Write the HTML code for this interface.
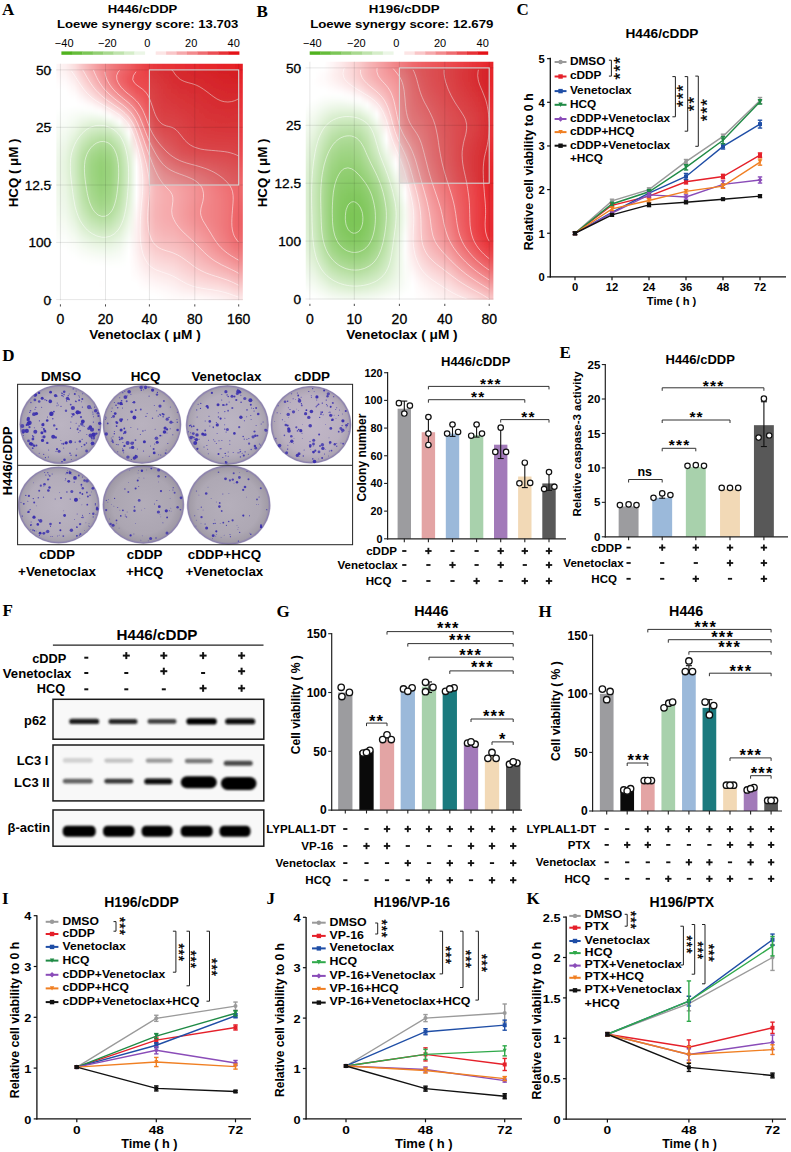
<!DOCTYPE html>
<html><head><meta charset="utf-8"><style>
html,body{margin:0;padding:0;background:#fff;}
svg{display:block;font-family:"Liberation Sans",sans-serif;font-weight:700;}
</style></head><body>
<svg width="791" height="1152" viewBox="0 0 791 1152">
<defs><clipPath id="cpA"><rect x="56.2" y="63.7" width="186.7" height="236.6"/></clipPath><filter id="fbA" x="-5%" y="-5%" width="110%" height="110%"><feGaussianBlur stdDeviation="0 2.75"/></filter><linearGradient id="gA_0"><stop offset="0.00" stop-color="#fef7f7"/><stop offset="0.05" stop-color="#fdeff0"/><stop offset="0.10" stop-color="#fbdddd"/><stop offset="0.14" stop-color="#f8c5c7"/><stop offset="0.19" stop-color="#f6acae"/><stop offset="0.24" stop-color="#f39396"/><stop offset="0.29" stop-color="#f07f82"/><stop offset="0.34" stop-color="#ef6e72"/><stop offset="0.39" stop-color="#ed5f63"/><stop offset="0.43" stop-color="#eb4e53"/><stop offset="0.48" stop-color="#e94045"/><stop offset="0.53" stop-color="#e8373c"/><stop offset="0.58" stop-color="#e83237"/><stop offset="0.63" stop-color="#e73035"/><stop offset="0.67" stop-color="#e72d33"/><stop offset="0.72" stop-color="#e72b30"/><stop offset="0.77" stop-color="#e7282e"/><stop offset="0.82" stop-color="#e6262b"/><stop offset="0.87" stop-color="#e62429"/><stop offset="0.92" stop-color="#e62127"/><stop offset="0.96" stop-color="#e51f24"/><stop offset="1.00" stop-color="#e51e24"/></linearGradient><linearGradient id="gA_1"><stop offset="0.00" stop-color="#fef7f7"/><stop offset="0.05" stop-color="#fdeff0"/><stop offset="0.10" stop-color="#fbdddd"/><stop offset="0.14" stop-color="#f8c5c7"/><stop offset="0.19" stop-color="#f6acae"/><stop offset="0.24" stop-color="#f39396"/><stop offset="0.29" stop-color="#f07f82"/><stop offset="0.34" stop-color="#ef6e72"/><stop offset="0.39" stop-color="#ed5f63"/><stop offset="0.43" stop-color="#eb4e53"/><stop offset="0.48" stop-color="#e94045"/><stop offset="0.53" stop-color="#e8373c"/><stop offset="0.58" stop-color="#e83237"/><stop offset="0.63" stop-color="#e73035"/><stop offset="0.67" stop-color="#e72d33"/><stop offset="0.72" stop-color="#e72b30"/><stop offset="0.77" stop-color="#e7282e"/><stop offset="0.82" stop-color="#e6262b"/><stop offset="0.87" stop-color="#e62429"/><stop offset="0.92" stop-color="#e62127"/><stop offset="0.96" stop-color="#e51f24"/><stop offset="1.00" stop-color="#e51e24"/></linearGradient><linearGradient id="gA_2"><stop offset="0.00" stop-color="#fef7f7"/><stop offset="0.05" stop-color="#fdeff0"/><stop offset="0.10" stop-color="#fbdddd"/><stop offset="0.14" stop-color="#f8c5c7"/><stop offset="0.19" stop-color="#f6acae"/><stop offset="0.24" stop-color="#f39396"/><stop offset="0.29" stop-color="#f07f82"/><stop offset="0.34" stop-color="#ef6e72"/><stop offset="0.39" stop-color="#ed5f63"/><stop offset="0.43" stop-color="#eb4e53"/><stop offset="0.48" stop-color="#e94045"/><stop offset="0.53" stop-color="#e8373c"/><stop offset="0.58" stop-color="#e83237"/><stop offset="0.63" stop-color="#e73035"/><stop offset="0.67" stop-color="#e72d33"/><stop offset="0.72" stop-color="#e72b30"/><stop offset="0.77" stop-color="#e7282e"/><stop offset="0.82" stop-color="#e6262b"/><stop offset="0.87" stop-color="#e62429"/><stop offset="0.92" stop-color="#e62127"/><stop offset="0.96" stop-color="#e51f24"/><stop offset="1.00" stop-color="#e51e24"/></linearGradient><linearGradient id="gA_3"><stop offset="0.00" stop-color="#fef7f7"/><stop offset="0.05" stop-color="#fdf1f1"/><stop offset="0.10" stop-color="#fbdfe0"/><stop offset="0.14" stop-color="#f9c7c9"/><stop offset="0.19" stop-color="#f6adaf"/><stop offset="0.24" stop-color="#f39497"/><stop offset="0.29" stop-color="#f07e81"/><stop offset="0.34" stop-color="#ee6b6f"/><stop offset="0.39" stop-color="#ec5c60"/><stop offset="0.43" stop-color="#eb4d51"/><stop offset="0.48" stop-color="#e94146"/><stop offset="0.53" stop-color="#e8383d"/><stop offset="0.58" stop-color="#e83338"/><stop offset="0.63" stop-color="#e73035"/><stop offset="0.67" stop-color="#e72e33"/><stop offset="0.72" stop-color="#e72b31"/><stop offset="0.77" stop-color="#e7292e"/><stop offset="0.82" stop-color="#e6272c"/><stop offset="0.87" stop-color="#e6242a"/><stop offset="0.92" stop-color="#e62228"/><stop offset="0.96" stop-color="#e62025"/><stop offset="1.00" stop-color="#e51f25"/></linearGradient><linearGradient id="gA_4"><stop offset="0.00" stop-color="#fef9fa"/><stop offset="0.05" stop-color="#fef5f6"/><stop offset="0.10" stop-color="#fce6e7"/><stop offset="0.14" stop-color="#fad0d1"/><stop offset="0.19" stop-color="#f7b5b7"/><stop offset="0.24" stop-color="#f3989b"/><stop offset="0.29" stop-color="#f07d80"/><stop offset="0.34" stop-color="#ee666a"/><stop offset="0.39" stop-color="#ec5559"/><stop offset="0.43" stop-color="#ea4a4f"/><stop offset="0.48" stop-color="#ea4348"/><stop offset="0.53" stop-color="#e93d42"/><stop offset="0.58" stop-color="#e8363c"/><stop offset="0.63" stop-color="#e83137"/><stop offset="0.67" stop-color="#e72f34"/><stop offset="0.72" stop-color="#e72d32"/><stop offset="0.77" stop-color="#e72b31"/><stop offset="0.82" stop-color="#e7292f"/><stop offset="0.87" stop-color="#e6272c"/><stop offset="0.92" stop-color="#e6252a"/><stop offset="0.96" stop-color="#e62329"/><stop offset="1.00" stop-color="#e62329"/></linearGradient><linearGradient id="gA_5"><stop offset="0.00" stop-color="#fffcfc"/><stop offset="0.05" stop-color="#fef9fa"/><stop offset="0.10" stop-color="#fdeded"/><stop offset="0.14" stop-color="#fbd8d9"/><stop offset="0.19" stop-color="#f8bebf"/><stop offset="0.24" stop-color="#f4a0a3"/><stop offset="0.29" stop-color="#f18285"/><stop offset="0.34" stop-color="#ee676b"/><stop offset="0.39" stop-color="#ec5459"/><stop offset="0.43" stop-color="#ea4b4f"/><stop offset="0.48" stop-color="#ea464b"/><stop offset="0.53" stop-color="#e94045"/><stop offset="0.58" stop-color="#e8393e"/><stop offset="0.63" stop-color="#e83338"/><stop offset="0.67" stop-color="#e73036"/><stop offset="0.72" stop-color="#e72f34"/><stop offset="0.77" stop-color="#e72e33"/><stop offset="0.82" stop-color="#e72b31"/><stop offset="0.87" stop-color="#e7292e"/><stop offset="0.92" stop-color="#e6272d"/><stop offset="0.96" stop-color="#e6262c"/><stop offset="1.00" stop-color="#e6272c"/></linearGradient><linearGradient id="gA_6"><stop offset="0.00" stop-color="#fffefe"/><stop offset="0.05" stop-color="#fffdfd"/><stop offset="0.10" stop-color="#fef3f3"/><stop offset="0.14" stop-color="#fce1e1"/><stop offset="0.19" stop-color="#f9c8c9"/><stop offset="0.24" stop-color="#f5abad"/><stop offset="0.29" stop-color="#f28c8f"/><stop offset="0.34" stop-color="#ef6f73"/><stop offset="0.39" stop-color="#ec5a5e"/><stop offset="0.43" stop-color="#eb4f53"/><stop offset="0.48" stop-color="#ea494e"/><stop offset="0.53" stop-color="#ea4348"/><stop offset="0.58" stop-color="#e93b40"/><stop offset="0.63" stop-color="#e8353a"/><stop offset="0.67" stop-color="#e83238"/><stop offset="0.72" stop-color="#e83136"/><stop offset="0.77" stop-color="#e73035"/><stop offset="0.82" stop-color="#e72d33"/><stop offset="0.87" stop-color="#e72b30"/><stop offset="0.92" stop-color="#e7292f"/><stop offset="0.96" stop-color="#e7292f"/><stop offset="1.00" stop-color="#e72a2f"/></linearGradient><linearGradient id="gA_7"><stop offset="0.00" stop-color="#ffffff"/><stop offset="0.05" stop-color="#ffffff"/><stop offset="0.10" stop-color="#fef8f8"/><stop offset="0.14" stop-color="#fde9ea"/><stop offset="0.19" stop-color="#fad4d5"/><stop offset="0.24" stop-color="#f7b9bb"/><stop offset="0.29" stop-color="#f49b9d"/><stop offset="0.34" stop-color="#f07d80"/><stop offset="0.39" stop-color="#ed6569"/><stop offset="0.43" stop-color="#ec565a"/><stop offset="0.48" stop-color="#eb4d51"/><stop offset="0.53" stop-color="#ea454a"/><stop offset="0.58" stop-color="#e93d42"/><stop offset="0.63" stop-color="#e8383d"/><stop offset="0.67" stop-color="#e8353a"/><stop offset="0.72" stop-color="#e83339"/><stop offset="0.77" stop-color="#e83237"/><stop offset="0.82" stop-color="#e72f35"/><stop offset="0.87" stop-color="#e72d32"/><stop offset="0.92" stop-color="#e72c31"/><stop offset="0.96" stop-color="#e72c31"/><stop offset="1.00" stop-color="#e72c32"/></linearGradient><linearGradient id="gA_8"><stop offset="0.00" stop-color="#ffffff"/><stop offset="0.05" stop-color="#ffffff"/><stop offset="0.10" stop-color="#fffdfd"/><stop offset="0.14" stop-color="#fdf2f2"/><stop offset="0.19" stop-color="#fbe0e1"/><stop offset="0.24" stop-color="#f9c9ca"/><stop offset="0.29" stop-color="#f6acaf"/><stop offset="0.34" stop-color="#f28e91"/><stop offset="0.39" stop-color="#ef7377"/><stop offset="0.43" stop-color="#ed5f63"/><stop offset="0.48" stop-color="#eb5155"/><stop offset="0.53" stop-color="#ea474b"/><stop offset="0.58" stop-color="#e93f44"/><stop offset="0.63" stop-color="#e93a3f"/><stop offset="0.67" stop-color="#e8383d"/><stop offset="0.72" stop-color="#e8363b"/><stop offset="0.77" stop-color="#e83439"/><stop offset="0.82" stop-color="#e83136"/><stop offset="0.87" stop-color="#e72f34"/><stop offset="0.92" stop-color="#e72e33"/><stop offset="0.96" stop-color="#e72e34"/><stop offset="1.00" stop-color="#e72f34"/></linearGradient><linearGradient id="gA_9"><stop offset="0.00" stop-color="#ffffff"/><stop offset="0.05" stop-color="#ffffff"/><stop offset="0.10" stop-color="#ffffff"/><stop offset="0.14" stop-color="#fefafb"/><stop offset="0.19" stop-color="#fdeeee"/><stop offset="0.24" stop-color="#fbdadb"/><stop offset="0.29" stop-color="#f8c1c3"/><stop offset="0.34" stop-color="#f5a3a5"/><stop offset="0.39" stop-color="#f18588"/><stop offset="0.43" stop-color="#ee6b6e"/><stop offset="0.48" stop-color="#ec565a"/><stop offset="0.53" stop-color="#ea484d"/><stop offset="0.58" stop-color="#e94146"/><stop offset="0.63" stop-color="#e93d42"/><stop offset="0.67" stop-color="#e93a3f"/><stop offset="0.72" stop-color="#e8383d"/><stop offset="0.77" stop-color="#e8353a"/><stop offset="0.82" stop-color="#e83338"/><stop offset="0.87" stop-color="#e73136"/><stop offset="0.92" stop-color="#e73035"/><stop offset="0.96" stop-color="#e73136"/><stop offset="1.00" stop-color="#e83136"/></linearGradient><linearGradient id="gA_10"><stop offset="0.00" stop-color="#ffffff"/><stop offset="0.05" stop-color="#ffffff"/><stop offset="0.10" stop-color="#ffffff"/><stop offset="0.14" stop-color="#ffffff"/><stop offset="0.19" stop-color="#fffcfc"/><stop offset="0.24" stop-color="#fdedee"/><stop offset="0.29" stop-color="#fad7d8"/><stop offset="0.34" stop-color="#f7babc"/><stop offset="0.39" stop-color="#f3999c"/><stop offset="0.43" stop-color="#f0777b"/><stop offset="0.48" stop-color="#ec5b5f"/><stop offset="0.53" stop-color="#ea4a4f"/><stop offset="0.58" stop-color="#ea4348"/><stop offset="0.63" stop-color="#e94045"/><stop offset="0.67" stop-color="#e93d42"/><stop offset="0.72" stop-color="#e93a3f"/><stop offset="0.77" stop-color="#e8373c"/><stop offset="0.82" stop-color="#e8343a"/><stop offset="0.87" stop-color="#e83338"/><stop offset="0.92" stop-color="#e83237"/><stop offset="0.96" stop-color="#e83338"/><stop offset="1.00" stop-color="#e83339"/></linearGradient><linearGradient id="gA_11"><stop offset="0.00" stop-color="#fefffe"/><stop offset="0.05" stop-color="#fdfefd"/><stop offset="0.10" stop-color="#fbfdfa"/><stop offset="0.14" stop-color="#fafdf9"/><stop offset="0.19" stop-color="#fcfefb"/><stop offset="0.24" stop-color="#ffffff"/><stop offset="0.29" stop-color="#fdefef"/><stop offset="0.34" stop-color="#fad3d4"/><stop offset="0.39" stop-color="#f6aeb0"/><stop offset="0.43" stop-color="#f18588"/><stop offset="0.48" stop-color="#ed6165"/><stop offset="0.53" stop-color="#eb4c51"/><stop offset="0.58" stop-color="#ea454a"/><stop offset="0.63" stop-color="#ea4348"/><stop offset="0.67" stop-color="#e94045"/><stop offset="0.72" stop-color="#e93d42"/><stop offset="0.77" stop-color="#e8393e"/><stop offset="0.82" stop-color="#e8363b"/><stop offset="0.87" stop-color="#e8343a"/><stop offset="0.92" stop-color="#e83439"/><stop offset="0.96" stop-color="#e8353a"/><stop offset="1.00" stop-color="#e8353b"/></linearGradient><linearGradient id="gA_12"><stop offset="0.00" stop-color="#fcfefc"/><stop offset="0.05" stop-color="#fbfdfa"/><stop offset="0.10" stop-color="#f7fcf5"/><stop offset="0.14" stop-color="#f3faf0"/><stop offset="0.19" stop-color="#f1f9ed"/><stop offset="0.24" stop-color="#f4faf1"/><stop offset="0.29" stop-color="#ffffff"/><stop offset="0.34" stop-color="#fdebec"/><stop offset="0.39" stop-color="#f8c4c5"/><stop offset="0.43" stop-color="#f39497"/><stop offset="0.48" stop-color="#ee696c"/><stop offset="0.53" stop-color="#eb4f54"/><stop offset="0.58" stop-color="#ea484c"/><stop offset="0.63" stop-color="#ea464b"/><stop offset="0.67" stop-color="#ea4348"/><stop offset="0.72" stop-color="#e93f44"/><stop offset="0.77" stop-color="#e93b40"/><stop offset="0.82" stop-color="#e8383d"/><stop offset="0.87" stop-color="#e8373c"/><stop offset="0.92" stop-color="#e8363b"/><stop offset="0.96" stop-color="#e8373c"/><stop offset="1.00" stop-color="#e8373d"/></linearGradient><linearGradient id="gA_13"><stop offset="0.00" stop-color="#fbfdfa"/><stop offset="0.05" stop-color="#f9fdf8"/><stop offset="0.10" stop-color="#f3faf0"/><stop offset="0.14" stop-color="#ecf6e6"/><stop offset="0.19" stop-color="#e6f4de"/><stop offset="0.24" stop-color="#e5f4de"/><stop offset="0.29" stop-color="#eef7e9"/><stop offset="0.34" stop-color="#ffffff"/><stop offset="0.39" stop-color="#fbd9da"/><stop offset="0.43" stop-color="#f5a3a5"/><stop offset="0.48" stop-color="#ef7174"/><stop offset="0.53" stop-color="#eb5458"/><stop offset="0.58" stop-color="#ea4b50"/><stop offset="0.63" stop-color="#ea4a4e"/><stop offset="0.67" stop-color="#ea464b"/><stop offset="0.72" stop-color="#e94146"/><stop offset="0.77" stop-color="#e93d42"/><stop offset="0.82" stop-color="#e93a3f"/><stop offset="0.87" stop-color="#e8393e"/><stop offset="0.92" stop-color="#e8393e"/><stop offset="0.96" stop-color="#e8393e"/><stop offset="1.00" stop-color="#e8393e"/></linearGradient><linearGradient id="gA_14"><stop offset="0.00" stop-color="#f9fcf8"/><stop offset="0.05" stop-color="#f7fcf5"/><stop offset="0.10" stop-color="#eff8ea"/><stop offset="0.14" stop-color="#e4f3dc"/><stop offset="0.19" stop-color="#daefd0"/><stop offset="0.24" stop-color="#d7edcc"/><stop offset="0.29" stop-color="#def0d4"/><stop offset="0.34" stop-color="#f1f9ed"/><stop offset="0.39" stop-color="#fdeded"/><stop offset="0.43" stop-color="#f6b2b4"/><stop offset="0.48" stop-color="#f07a7d"/><stop offset="0.53" stop-color="#ec595d"/><stop offset="0.58" stop-color="#eb4f53"/><stop offset="0.63" stop-color="#eb4d52"/><stop offset="0.67" stop-color="#ea494d"/><stop offset="0.72" stop-color="#ea4348"/><stop offset="0.77" stop-color="#e93f44"/><stop offset="0.82" stop-color="#e93c41"/><stop offset="0.87" stop-color="#e93b40"/><stop offset="0.92" stop-color="#e93b40"/><stop offset="0.96" stop-color="#e93c40"/><stop offset="1.00" stop-color="#e93c41"/></linearGradient><linearGradient id="gA_15"><stop offset="0.00" stop-color="#f7fcf5"/><stop offset="0.05" stop-color="#f4faf1"/><stop offset="0.10" stop-color="#e9f6e3"/><stop offset="0.14" stop-color="#dcefd1"/><stop offset="0.19" stop-color="#cfeac2"/><stop offset="0.24" stop-color="#cae8bb"/><stop offset="0.29" stop-color="#cfeac2"/><stop offset="0.34" stop-color="#e3f3db"/><stop offset="0.39" stop-color="#fffefe"/><stop offset="0.43" stop-color="#f8c0c1"/><stop offset="0.48" stop-color="#f18487"/><stop offset="0.53" stop-color="#ed6064"/><stop offset="0.58" stop-color="#eb5458"/><stop offset="0.63" stop-color="#eb5055"/><stop offset="0.67" stop-color="#eb4b50"/><stop offset="0.72" stop-color="#ea454a"/><stop offset="0.77" stop-color="#e94146"/><stop offset="0.82" stop-color="#e93f44"/><stop offset="0.87" stop-color="#e93e43"/><stop offset="0.92" stop-color="#e93e43"/><stop offset="0.96" stop-color="#e93e43"/><stop offset="1.00" stop-color="#e93e43"/></linearGradient><linearGradient id="gA_16"><stop offset="0.00" stop-color="#f6fbf3"/><stop offset="0.05" stop-color="#f1f9ee"/><stop offset="0.10" stop-color="#e4f3dc"/><stop offset="0.14" stop-color="#d3ecc7"/><stop offset="0.19" stop-color="#c5e5b4"/><stop offset="0.24" stop-color="#bde2ab"/><stop offset="0.29" stop-color="#c3e4b1"/><stop offset="0.34" stop-color="#d6edcb"/><stop offset="0.39" stop-color="#fafdf8"/><stop offset="0.43" stop-color="#f9cdce"/><stop offset="0.48" stop-color="#f29092"/><stop offset="0.53" stop-color="#ee696d"/><stop offset="0.58" stop-color="#ec5a5e"/><stop offset="0.63" stop-color="#eb5458"/><stop offset="0.67" stop-color="#eb4e52"/><stop offset="0.72" stop-color="#ea484c"/><stop offset="0.77" stop-color="#ea4448"/><stop offset="0.82" stop-color="#e94247"/><stop offset="0.87" stop-color="#e94246"/><stop offset="0.92" stop-color="#e94146"/><stop offset="0.96" stop-color="#e94146"/><stop offset="1.00" stop-color="#e94045"/></linearGradient><linearGradient id="gA_17"><stop offset="0.00" stop-color="#f4faf1"/><stop offset="0.05" stop-color="#eef8ea"/><stop offset="0.10" stop-color="#def1d5"/><stop offset="0.14" stop-color="#cbe8bc"/><stop offset="0.19" stop-color="#bbe1a7"/><stop offset="0.24" stop-color="#b2dd9c"/><stop offset="0.29" stop-color="#b7e0a3"/><stop offset="0.34" stop-color="#cce9be"/><stop offset="0.39" stop-color="#f0f9ec"/><stop offset="0.43" stop-color="#fbd9da"/><stop offset="0.48" stop-color="#f49b9e"/><stop offset="0.53" stop-color="#ef7276"/><stop offset="0.58" stop-color="#ed6064"/><stop offset="0.63" stop-color="#ec585c"/><stop offset="0.67" stop-color="#eb5155"/><stop offset="0.72" stop-color="#ea4b4f"/><stop offset="0.77" stop-color="#ea474c"/><stop offset="0.82" stop-color="#ea464a"/><stop offset="0.87" stop-color="#ea454a"/><stop offset="0.92" stop-color="#ea454a"/><stop offset="0.96" stop-color="#ea4449"/><stop offset="1.00" stop-color="#ea4348"/></linearGradient><linearGradient id="gA_18"><stop offset="0.00" stop-color="#f2f9ef"/><stop offset="0.05" stop-color="#ecf6e6"/><stop offset="0.10" stop-color="#d9eece"/><stop offset="0.14" stop-color="#c4e5b3"/><stop offset="0.19" stop-color="#b2dd9c"/><stop offset="0.24" stop-color="#a9d990"/><stop offset="0.29" stop-color="#aedb97"/><stop offset="0.34" stop-color="#c4e5b3"/><stop offset="0.39" stop-color="#e9f5e2"/><stop offset="0.43" stop-color="#fce4e5"/><stop offset="0.48" stop-color="#f5a7a9"/><stop offset="0.53" stop-color="#f07d80"/><stop offset="0.58" stop-color="#ee676b"/><stop offset="0.63" stop-color="#ed5d61"/><stop offset="0.67" stop-color="#ec5559"/><stop offset="0.72" stop-color="#eb4f53"/><stop offset="0.77" stop-color="#eb4b50"/><stop offset="0.82" stop-color="#ea4a4f"/><stop offset="0.87" stop-color="#ea4a4e"/><stop offset="0.92" stop-color="#ea494e"/><stop offset="0.96" stop-color="#ea474c"/><stop offset="1.00" stop-color="#ea464b"/></linearGradient><linearGradient id="gA_19"><stop offset="0.00" stop-color="#f1f9ed"/><stop offset="0.05" stop-color="#e9f5e3"/><stop offset="0.10" stop-color="#d5ecc9"/><stop offset="0.14" stop-color="#bee2ab"/><stop offset="0.19" stop-color="#aada92"/><stop offset="0.24" stop-color="#a1d686"/><stop offset="0.29" stop-color="#a7d88e"/><stop offset="0.34" stop-color="#bee2ab"/><stop offset="0.39" stop-color="#e3f2da"/><stop offset="0.43" stop-color="#fdeeee"/><stop offset="0.48" stop-color="#f6b1b3"/><stop offset="0.53" stop-color="#f1878a"/><stop offset="0.58" stop-color="#ef7073"/><stop offset="0.63" stop-color="#ed6367"/><stop offset="0.67" stop-color="#ec5a5e"/><stop offset="0.72" stop-color="#ec5459"/><stop offset="0.77" stop-color="#eb5155"/><stop offset="0.82" stop-color="#eb4f54"/><stop offset="0.87" stop-color="#eb4e53"/><stop offset="0.92" stop-color="#eb4d52"/><stop offset="0.96" stop-color="#ea4b50"/><stop offset="1.00" stop-color="#ea4a4f"/></linearGradient><linearGradient id="gA_20"><stop offset="0.00" stop-color="#f0f8ec"/><stop offset="0.05" stop-color="#e7f5e1"/><stop offset="0.10" stop-color="#d1ebc4"/><stop offset="0.14" stop-color="#b9e0a5"/><stop offset="0.19" stop-color="#a5d78b"/><stop offset="0.24" stop-color="#9bd37e"/><stop offset="0.29" stop-color="#a1d687"/><stop offset="0.34" stop-color="#b9e0a5"/><stop offset="0.39" stop-color="#def0d5"/><stop offset="0.43" stop-color="#fef6f6"/><stop offset="0.48" stop-color="#f7bbbd"/><stop offset="0.53" stop-color="#f29193"/><stop offset="0.58" stop-color="#f0787c"/><stop offset="0.63" stop-color="#ee6b6f"/><stop offset="0.67" stop-color="#ed6266"/><stop offset="0.72" stop-color="#ec5c60"/><stop offset="0.77" stop-color="#ec585c"/><stop offset="0.82" stop-color="#ec565a"/><stop offset="0.87" stop-color="#ec5458"/><stop offset="0.92" stop-color="#eb5257"/><stop offset="0.96" stop-color="#eb4f54"/><stop offset="1.00" stop-color="#eb4e53"/></linearGradient><linearGradient id="gA_21"><stop offset="0.00" stop-color="#eff8eb"/><stop offset="0.05" stop-color="#e6f4df"/><stop offset="0.10" stop-color="#d0eac2"/><stop offset="0.14" stop-color="#b6dfa2"/><stop offset="0.19" stop-color="#a1d686"/><stop offset="0.24" stop-color="#97d179"/><stop offset="0.29" stop-color="#9ed482"/><stop offset="0.34" stop-color="#b6dfa1"/><stop offset="0.39" stop-color="#dbefd0"/><stop offset="0.43" stop-color="#fffcfc"/><stop offset="0.48" stop-color="#f8c3c4"/><stop offset="0.53" stop-color="#f39a9d"/><stop offset="0.58" stop-color="#f18285"/><stop offset="0.63" stop-color="#ef7478"/><stop offset="0.67" stop-color="#ee6c6f"/><stop offset="0.72" stop-color="#ee6669"/><stop offset="0.77" stop-color="#ed6165"/><stop offset="0.82" stop-color="#ed5d62"/><stop offset="0.87" stop-color="#ec5a5f"/><stop offset="0.92" stop-color="#ec575c"/><stop offset="0.96" stop-color="#ec5458"/><stop offset="1.00" stop-color="#eb5358"/></linearGradient><linearGradient id="gA_22"><stop offset="0.00" stop-color="#eff8ea"/><stop offset="0.05" stop-color="#e6f4df"/><stop offset="0.10" stop-color="#cfeac1"/><stop offset="0.14" stop-color="#b5dea0"/><stop offset="0.19" stop-color="#9fd584"/><stop offset="0.24" stop-color="#95d076"/><stop offset="0.29" stop-color="#9cd37f"/><stop offset="0.34" stop-color="#b4de9f"/><stop offset="0.39" stop-color="#d9eece"/><stop offset="0.43" stop-color="#ffffff"/><stop offset="0.48" stop-color="#f9c9cb"/><stop offset="0.53" stop-color="#f4a2a5"/><stop offset="0.58" stop-color="#f28c8f"/><stop offset="0.63" stop-color="#f07f82"/><stop offset="0.67" stop-color="#ef777a"/><stop offset="0.72" stop-color="#ef7074"/><stop offset="0.77" stop-color="#ee6b6f"/><stop offset="0.82" stop-color="#ee666a"/><stop offset="0.87" stop-color="#ed6165"/><stop offset="0.92" stop-color="#ed5d61"/><stop offset="0.96" stop-color="#ec595d"/><stop offset="1.00" stop-color="#ec585c"/></linearGradient><linearGradient id="gA_23"><stop offset="0.00" stop-color="#eff8ea"/><stop offset="0.05" stop-color="#e6f4df"/><stop offset="0.10" stop-color="#cfeac2"/><stop offset="0.14" stop-color="#b5dfa0"/><stop offset="0.19" stop-color="#9fd584"/><stop offset="0.24" stop-color="#94d075"/><stop offset="0.29" stop-color="#9bd37e"/><stop offset="0.34" stop-color="#b3de9e"/><stop offset="0.39" stop-color="#d8eecd"/><stop offset="0.43" stop-color="#ffffff"/><stop offset="0.48" stop-color="#f9cecf"/><stop offset="0.53" stop-color="#f5aaac"/><stop offset="0.58" stop-color="#f39598"/><stop offset="0.63" stop-color="#f28a8d"/><stop offset="0.67" stop-color="#f18285"/><stop offset="0.72" stop-color="#f07c7f"/><stop offset="0.77" stop-color="#ef7579"/><stop offset="0.82" stop-color="#ef6e72"/><stop offset="0.87" stop-color="#ee686c"/><stop offset="0.92" stop-color="#ed6266"/><stop offset="0.96" stop-color="#ed5e62"/><stop offset="1.00" stop-color="#ed5d61"/></linearGradient><linearGradient id="gA_24"><stop offset="0.00" stop-color="#eff8eb"/><stop offset="0.05" stop-color="#e7f4e0"/><stop offset="0.10" stop-color="#d0eac3"/><stop offset="0.14" stop-color="#b6dfa1"/><stop offset="0.19" stop-color="#a0d584"/><stop offset="0.24" stop-color="#94d076"/><stop offset="0.29" stop-color="#9bd37f"/><stop offset="0.34" stop-color="#b4de9e"/><stop offset="0.39" stop-color="#d8eecd"/><stop offset="0.43" stop-color="#ffffff"/><stop offset="0.48" stop-color="#fad2d3"/><stop offset="0.53" stop-color="#f6afb1"/><stop offset="0.58" stop-color="#f49ea0"/><stop offset="0.63" stop-color="#f39497"/><stop offset="0.67" stop-color="#f28d90"/><stop offset="0.72" stop-color="#f18689"/><stop offset="0.77" stop-color="#f07e82"/><stop offset="0.82" stop-color="#ef767a"/><stop offset="0.87" stop-color="#ee6e72"/><stop offset="0.92" stop-color="#ee676b"/><stop offset="0.96" stop-color="#ed6266"/><stop offset="1.00" stop-color="#ed6165"/></linearGradient><linearGradient id="gA_25"><stop offset="0.00" stop-color="#f0f8eb"/><stop offset="0.05" stop-color="#e8f5e1"/><stop offset="0.10" stop-color="#d2ebc5"/><stop offset="0.14" stop-color="#b8e0a3"/><stop offset="0.19" stop-color="#a1d686"/><stop offset="0.24" stop-color="#96d178"/><stop offset="0.29" stop-color="#9cd480"/><stop offset="0.34" stop-color="#b5dea0"/><stop offset="0.39" stop-color="#d9eece"/><stop offset="0.43" stop-color="#ffffff"/><stop offset="0.48" stop-color="#fad4d5"/><stop offset="0.53" stop-color="#f6b4b6"/><stop offset="0.58" stop-color="#f5a4a7"/><stop offset="0.63" stop-color="#f49d9f"/><stop offset="0.67" stop-color="#f39699"/><stop offset="0.72" stop-color="#f28f92"/><stop offset="0.77" stop-color="#f18689"/><stop offset="0.82" stop-color="#f07d80"/><stop offset="0.87" stop-color="#ef7377"/><stop offset="0.92" stop-color="#ee6b6f"/><stop offset="0.96" stop-color="#ee666a"/><stop offset="1.00" stop-color="#ed6569"/></linearGradient><linearGradient id="gA_26"><stop offset="0.00" stop-color="#f0f8ec"/><stop offset="0.05" stop-color="#e9f5e3"/><stop offset="0.10" stop-color="#d4ecc7"/><stop offset="0.14" stop-color="#bae1a6"/><stop offset="0.19" stop-color="#a3d789"/><stop offset="0.24" stop-color="#97d17a"/><stop offset="0.29" stop-color="#9ed482"/><stop offset="0.34" stop-color="#b6dfa1"/><stop offset="0.39" stop-color="#daefcf"/><stop offset="0.43" stop-color="#ffffff"/><stop offset="0.48" stop-color="#fad4d5"/><stop offset="0.53" stop-color="#f7b6b8"/><stop offset="0.58" stop-color="#f5a9ab"/><stop offset="0.63" stop-color="#f5a3a5"/><stop offset="0.67" stop-color="#f49c9f"/><stop offset="0.72" stop-color="#f39497"/><stop offset="0.77" stop-color="#f28b8e"/><stop offset="0.82" stop-color="#f18184"/><stop offset="0.87" stop-color="#f0777b"/><stop offset="0.92" stop-color="#ef6f72"/><stop offset="0.96" stop-color="#ee686c"/><stop offset="1.00" stop-color="#ee676a"/></linearGradient><linearGradient id="gA_27"><stop offset="0.00" stop-color="#f1f9ec"/><stop offset="0.05" stop-color="#eaf6e4"/><stop offset="0.10" stop-color="#d5edc9"/><stop offset="0.14" stop-color="#bce1a9"/><stop offset="0.19" stop-color="#a5d88c"/><stop offset="0.24" stop-color="#99d27c"/><stop offset="0.29" stop-color="#a0d585"/><stop offset="0.34" stop-color="#b8e0a4"/><stop offset="0.39" stop-color="#dbefd1"/><stop offset="0.43" stop-color="#ffffff"/><stop offset="0.48" stop-color="#fad4d5"/><stop offset="0.53" stop-color="#f7b7b9"/><stop offset="0.58" stop-color="#f6acae"/><stop offset="0.63" stop-color="#f5a7a9"/><stop offset="0.67" stop-color="#f4a0a2"/><stop offset="0.72" stop-color="#f3979a"/><stop offset="0.77" stop-color="#f28e90"/><stop offset="0.82" stop-color="#f18487"/><stop offset="0.87" stop-color="#f07a7e"/><stop offset="0.92" stop-color="#ef7175"/><stop offset="0.96" stop-color="#ee696d"/><stop offset="1.00" stop-color="#ee676b"/></linearGradient><linearGradient id="gA_28"><stop offset="0.00" stop-color="#f1f9ed"/><stop offset="0.05" stop-color="#ebf6e6"/><stop offset="0.10" stop-color="#d7eecc"/><stop offset="0.14" stop-color="#bee2ac"/><stop offset="0.19" stop-color="#a8d98f"/><stop offset="0.24" stop-color="#9cd480"/><stop offset="0.29" stop-color="#a2d688"/><stop offset="0.34" stop-color="#bae1a6"/><stop offset="0.39" stop-color="#ddf0d3"/><stop offset="0.43" stop-color="#ffffff"/><stop offset="0.48" stop-color="#fad2d3"/><stop offset="0.53" stop-color="#f7b7b9"/><stop offset="0.58" stop-color="#f6adaf"/><stop offset="0.63" stop-color="#f5a8aa"/><stop offset="0.67" stop-color="#f4a1a3"/><stop offset="0.72" stop-color="#f3979a"/><stop offset="0.77" stop-color="#f28e91"/><stop offset="0.82" stop-color="#f18588"/><stop offset="0.87" stop-color="#f07c7f"/><stop offset="0.92" stop-color="#ef7376"/><stop offset="0.96" stop-color="#ee696d"/><stop offset="1.00" stop-color="#ee666a"/></linearGradient><linearGradient id="gA_29"><stop offset="0.00" stop-color="#f2f9ee"/><stop offset="0.05" stop-color="#ecf7e7"/><stop offset="0.10" stop-color="#d9eecf"/><stop offset="0.14" stop-color="#c1e4af"/><stop offset="0.19" stop-color="#abda93"/><stop offset="0.24" stop-color="#a0d585"/><stop offset="0.29" stop-color="#a6d88c"/><stop offset="0.34" stop-color="#bde2aa"/><stop offset="0.39" stop-color="#dff1d6"/><stop offset="0.43" stop-color="#fffdfd"/><stop offset="0.48" stop-color="#fad0d1"/><stop offset="0.53" stop-color="#f7b6b8"/><stop offset="0.58" stop-color="#f6adaf"/><stop offset="0.63" stop-color="#f5a8aa"/><stop offset="0.67" stop-color="#f4a0a3"/><stop offset="0.72" stop-color="#f39699"/><stop offset="0.77" stop-color="#f28d90"/><stop offset="0.82" stop-color="#f18588"/><stop offset="0.87" stop-color="#f07d80"/><stop offset="0.92" stop-color="#ef7377"/><stop offset="0.96" stop-color="#ee686c"/><stop offset="1.00" stop-color="#ed6468"/></linearGradient><linearGradient id="gA_30"><stop offset="0.00" stop-color="#f3faef"/><stop offset="0.05" stop-color="#eef7e9"/><stop offset="0.10" stop-color="#dcf0d2"/><stop offset="0.14" stop-color="#c5e5b4"/><stop offset="0.19" stop-color="#b0dc99"/><stop offset="0.24" stop-color="#a4d78a"/><stop offset="0.29" stop-color="#aada92"/><stop offset="0.34" stop-color="#c0e3ae"/><stop offset="0.39" stop-color="#e2f2d9"/><stop offset="0.43" stop-color="#fffbfb"/><stop offset="0.48" stop-color="#f9cecf"/><stop offset="0.53" stop-color="#f7b5b7"/><stop offset="0.58" stop-color="#f6acae"/><stop offset="0.63" stop-color="#f5a8aa"/><stop offset="0.67" stop-color="#f49fa2"/><stop offset="0.72" stop-color="#f39597"/><stop offset="0.77" stop-color="#f28b8e"/><stop offset="0.82" stop-color="#f18487"/><stop offset="0.87" stop-color="#f07d80"/><stop offset="0.92" stop-color="#ef7477"/><stop offset="0.96" stop-color="#ee676b"/><stop offset="1.00" stop-color="#ed6266"/></linearGradient><linearGradient id="gA_31"><stop offset="0.00" stop-color="#f4faf1"/><stop offset="0.05" stop-color="#eff8eb"/><stop offset="0.10" stop-color="#dff1d6"/><stop offset="0.14" stop-color="#c9e7b9"/><stop offset="0.19" stop-color="#b5dea0"/><stop offset="0.24" stop-color="#aada92"/><stop offset="0.29" stop-color="#afdc99"/><stop offset="0.34" stop-color="#c5e5b4"/><stop offset="0.39" stop-color="#e5f3dd"/><stop offset="0.43" stop-color="#fef8f8"/><stop offset="0.48" stop-color="#f9cdce"/><stop offset="0.53" stop-color="#f6b4b6"/><stop offset="0.58" stop-color="#f6acae"/><stop offset="0.63" stop-color="#f5a7aa"/><stop offset="0.67" stop-color="#f49fa1"/><stop offset="0.72" stop-color="#f39496"/><stop offset="0.77" stop-color="#f28b8e"/><stop offset="0.82" stop-color="#f18487"/><stop offset="0.87" stop-color="#f07d80"/><stop offset="0.92" stop-color="#ef7477"/><stop offset="0.96" stop-color="#ee666a"/><stop offset="1.00" stop-color="#ed6165"/></linearGradient><linearGradient id="gA_32"><stop offset="0.00" stop-color="#f5fbf2"/><stop offset="0.05" stop-color="#f1f9ed"/><stop offset="0.10" stop-color="#e2f2da"/><stop offset="0.14" stop-color="#ceeac0"/><stop offset="0.19" stop-color="#bce1a8"/><stop offset="0.24" stop-color="#b2dd9c"/><stop offset="0.29" stop-color="#b6dfa1"/><stop offset="0.34" stop-color="#cae8bb"/><stop offset="0.39" stop-color="#e8f5e2"/><stop offset="0.43" stop-color="#fef6f6"/><stop offset="0.48" stop-color="#f9cccd"/><stop offset="0.53" stop-color="#f6b4b6"/><stop offset="0.58" stop-color="#f6acae"/><stop offset="0.63" stop-color="#f5a8aa"/><stop offset="0.67" stop-color="#f49fa1"/><stop offset="0.72" stop-color="#f39497"/><stop offset="0.77" stop-color="#f28b8e"/><stop offset="0.82" stop-color="#f18487"/><stop offset="0.87" stop-color="#f07d80"/><stop offset="0.92" stop-color="#ef7377"/><stop offset="0.96" stop-color="#ed6569"/><stop offset="1.00" stop-color="#ed6064"/></linearGradient><linearGradient id="gA_33"><stop offset="0.00" stop-color="#f7fbf4"/><stop offset="0.05" stop-color="#f4faf0"/><stop offset="0.10" stop-color="#e6f4df"/><stop offset="0.14" stop-color="#d4ecc8"/><stop offset="0.19" stop-color="#c4e5b3"/><stop offset="0.24" stop-color="#bae1a7"/><stop offset="0.29" stop-color="#bee3ac"/><stop offset="0.34" stop-color="#d0eac3"/><stop offset="0.39" stop-color="#ecf7e6"/><stop offset="0.43" stop-color="#fef3f4"/><stop offset="0.48" stop-color="#f9cccd"/><stop offset="0.53" stop-color="#f7b5b7"/><stop offset="0.58" stop-color="#f6adb0"/><stop offset="0.63" stop-color="#f5a9ac"/><stop offset="0.67" stop-color="#f4a1a3"/><stop offset="0.72" stop-color="#f39699"/><stop offset="0.77" stop-color="#f28d90"/><stop offset="0.82" stop-color="#f18588"/><stop offset="0.87" stop-color="#f07d80"/><stop offset="0.92" stop-color="#ef7376"/><stop offset="0.96" stop-color="#ed6569"/><stop offset="1.00" stop-color="#ed6064"/></linearGradient><linearGradient id="gA_34"><stop offset="0.00" stop-color="#f8fcf6"/><stop offset="0.05" stop-color="#f6fbf3"/><stop offset="0.10" stop-color="#eaf6e5"/><stop offset="0.14" stop-color="#dbefd1"/><stop offset="0.19" stop-color="#cce9be"/><stop offset="0.24" stop-color="#c4e5b3"/><stop offset="0.29" stop-color="#c7e6b7"/><stop offset="0.34" stop-color="#d7edcb"/><stop offset="0.39" stop-color="#f0f8eb"/><stop offset="0.43" stop-color="#fdf2f2"/><stop offset="0.48" stop-color="#f9cdce"/><stop offset="0.53" stop-color="#f7b7b9"/><stop offset="0.58" stop-color="#f6b0b2"/><stop offset="0.63" stop-color="#f6acae"/><stop offset="0.67" stop-color="#f5a4a7"/><stop offset="0.72" stop-color="#f49a9d"/><stop offset="0.77" stop-color="#f29093"/><stop offset="0.82" stop-color="#f1878b"/><stop offset="0.87" stop-color="#f07e81"/><stop offset="0.92" stop-color="#ef7377"/><stop offset="0.96" stop-color="#ed6569"/><stop offset="1.00" stop-color="#ed6165"/></linearGradient><linearGradient id="gA_35"><stop offset="0.00" stop-color="#fafdf8"/><stop offset="0.05" stop-color="#f8fcf6"/><stop offset="0.10" stop-color="#eff8ea"/><stop offset="0.14" stop-color="#e2f2d9"/><stop offset="0.19" stop-color="#d5edc9"/><stop offset="0.24" stop-color="#cee9c0"/><stop offset="0.29" stop-color="#d1ebc3"/><stop offset="0.34" stop-color="#def0d4"/><stop offset="0.39" stop-color="#f3faf0"/><stop offset="0.43" stop-color="#fdf0f1"/><stop offset="0.48" stop-color="#f9cecf"/><stop offset="0.53" stop-color="#f7babc"/><stop offset="0.58" stop-color="#f6b3b5"/><stop offset="0.63" stop-color="#f6b0b2"/><stop offset="0.67" stop-color="#f5a9ab"/><stop offset="0.72" stop-color="#f49fa1"/><stop offset="0.77" stop-color="#f39598"/><stop offset="0.82" stop-color="#f28b8e"/><stop offset="0.87" stop-color="#f18083"/><stop offset="0.92" stop-color="#ef7478"/><stop offset="0.96" stop-color="#ee676b"/><stop offset="1.00" stop-color="#ed6367"/></linearGradient><linearGradient id="gA_36"><stop offset="0.00" stop-color="#fbfdfa"/><stop offset="0.05" stop-color="#fafdf9"/><stop offset="0.10" stop-color="#f3faef"/><stop offset="0.14" stop-color="#e8f5e2"/><stop offset="0.19" stop-color="#def1d5"/><stop offset="0.24" stop-color="#d8eecd"/><stop offset="0.29" stop-color="#daefcf"/><stop offset="0.34" stop-color="#e4f3dd"/><stop offset="0.39" stop-color="#f7fbf5"/><stop offset="0.43" stop-color="#fdf0f0"/><stop offset="0.48" stop-color="#fad1d2"/><stop offset="0.53" stop-color="#f8bec0"/><stop offset="0.58" stop-color="#f7b7b9"/><stop offset="0.63" stop-color="#f6b4b6"/><stop offset="0.67" stop-color="#f6aeb0"/><stop offset="0.72" stop-color="#f5a5a7"/><stop offset="0.77" stop-color="#f49a9d"/><stop offset="0.82" stop-color="#f28f92"/><stop offset="0.87" stop-color="#f18386"/><stop offset="0.92" stop-color="#ef767a"/><stop offset="0.96" stop-color="#ee6a6d"/><stop offset="1.00" stop-color="#ee666a"/></linearGradient><linearGradient id="gA_37"><stop offset="0.00" stop-color="#fdfefc"/><stop offset="0.05" stop-color="#fcfefb"/><stop offset="0.10" stop-color="#f7fbf4"/><stop offset="0.14" stop-color="#eef8ea"/><stop offset="0.19" stop-color="#e6f4df"/><stop offset="0.24" stop-color="#e1f2d9"/><stop offset="0.29" stop-color="#e2f2da"/><stop offset="0.34" stop-color="#eaf6e5"/><stop offset="0.39" stop-color="#fafdf9"/><stop offset="0.43" stop-color="#fdf0f0"/><stop offset="0.48" stop-color="#fad4d5"/><stop offset="0.53" stop-color="#f8c3c4"/><stop offset="0.58" stop-color="#f7bcbe"/><stop offset="0.63" stop-color="#f7b9bb"/><stop offset="0.67" stop-color="#f6b3b5"/><stop offset="0.72" stop-color="#f5aaad"/><stop offset="0.77" stop-color="#f4a0a2"/><stop offset="0.82" stop-color="#f39496"/><stop offset="0.87" stop-color="#f1878a"/><stop offset="0.92" stop-color="#f07a7d"/><stop offset="0.96" stop-color="#ee6e72"/><stop offset="1.00" stop-color="#ee6b6f"/></linearGradient><linearGradient id="gA_38"><stop offset="0.00" stop-color="#fefffe"/><stop offset="0.05" stop-color="#fefefd"/><stop offset="0.10" stop-color="#fafdf8"/><stop offset="0.14" stop-color="#f4faf0"/><stop offset="0.19" stop-color="#eef7e9"/><stop offset="0.24" stop-color="#eaf6e3"/><stop offset="0.29" stop-color="#eaf6e4"/><stop offset="0.34" stop-color="#f0f8ec"/><stop offset="0.39" stop-color="#fdfefc"/><stop offset="0.43" stop-color="#fdf0f0"/><stop offset="0.48" stop-color="#fad7d8"/><stop offset="0.53" stop-color="#f9c8c9"/><stop offset="0.58" stop-color="#f8c2c3"/><stop offset="0.63" stop-color="#f8bec0"/><stop offset="0.67" stop-color="#f7b9ba"/><stop offset="0.72" stop-color="#f6b0b2"/><stop offset="0.77" stop-color="#f5a6a8"/><stop offset="0.82" stop-color="#f3999c"/><stop offset="0.87" stop-color="#f28c8f"/><stop offset="0.92" stop-color="#f08083"/><stop offset="0.96" stop-color="#ef7478"/><stop offset="1.00" stop-color="#ef7175"/></linearGradient><linearGradient id="gA_39"><stop offset="0.00" stop-color="#ffffff"/><stop offset="0.05" stop-color="#ffffff"/><stop offset="0.10" stop-color="#fcfefb"/><stop offset="0.14" stop-color="#f8fcf6"/><stop offset="0.19" stop-color="#f4faf0"/><stop offset="0.24" stop-color="#f1f9ed"/><stop offset="0.29" stop-color="#f0f9ec"/><stop offset="0.34" stop-color="#f5faf2"/><stop offset="0.39" stop-color="#ffffff"/><stop offset="0.43" stop-color="#fdf1f2"/><stop offset="0.48" stop-color="#fbdbdc"/><stop offset="0.53" stop-color="#f9cecf"/><stop offset="0.58" stop-color="#f9c8c9"/><stop offset="0.63" stop-color="#f8c4c6"/><stop offset="0.67" stop-color="#f8bfc0"/><stop offset="0.72" stop-color="#f7b6b8"/><stop offset="0.77" stop-color="#f6acae"/><stop offset="0.82" stop-color="#f4a0a2"/><stop offset="0.87" stop-color="#f39396"/><stop offset="0.92" stop-color="#f1878a"/><stop offset="0.96" stop-color="#f07c7f"/><stop offset="1.00" stop-color="#f0797d"/></linearGradient><linearGradient id="gA_40"><stop offset="0.00" stop-color="#ffffff"/><stop offset="0.05" stop-color="#ffffff"/><stop offset="0.10" stop-color="#fefffe"/><stop offset="0.14" stop-color="#fbfdfa"/><stop offset="0.19" stop-color="#f9fcf7"/><stop offset="0.24" stop-color="#f7fbf4"/><stop offset="0.29" stop-color="#f6fbf3"/><stop offset="0.34" stop-color="#f8fcf7"/><stop offset="0.39" stop-color="#ffffff"/><stop offset="0.43" stop-color="#fef3f3"/><stop offset="0.48" stop-color="#fbe0e1"/><stop offset="0.53" stop-color="#fad4d5"/><stop offset="0.58" stop-color="#f9ced0"/><stop offset="0.63" stop-color="#f9cbcc"/><stop offset="0.67" stop-color="#f8c5c6"/><stop offset="0.72" stop-color="#f7bcbe"/><stop offset="0.77" stop-color="#f6b2b4"/><stop offset="0.82" stop-color="#f5a7aa"/><stop offset="0.87" stop-color="#f49c9e"/><stop offset="0.92" stop-color="#f29093"/><stop offset="0.96" stop-color="#f18588"/><stop offset="1.00" stop-color="#f18285"/></linearGradient><linearGradient id="gA_41"><stop offset="0.00" stop-color="#ffffff"/><stop offset="0.05" stop-color="#ffffff"/><stop offset="0.10" stop-color="#ffffff"/><stop offset="0.14" stop-color="#fefffe"/><stop offset="0.19" stop-color="#fdfefc"/><stop offset="0.24" stop-color="#fcfdfb"/><stop offset="0.29" stop-color="#fbfdf9"/><stop offset="0.34" stop-color="#fcfefb"/><stop offset="0.39" stop-color="#ffffff"/><stop offset="0.43" stop-color="#fef5f5"/><stop offset="0.48" stop-color="#fce5e5"/><stop offset="0.53" stop-color="#fbdadb"/><stop offset="0.58" stop-color="#fad5d6"/><stop offset="0.63" stop-color="#fad1d2"/><stop offset="0.67" stop-color="#f9cbcc"/><stop offset="0.72" stop-color="#f8c3c4"/><stop offset="0.77" stop-color="#f7b9bb"/><stop offset="0.82" stop-color="#f6afb1"/><stop offset="0.87" stop-color="#f5a5a7"/><stop offset="0.92" stop-color="#f49a9d"/><stop offset="0.96" stop-color="#f28f92"/><stop offset="1.00" stop-color="#f28c8f"/></linearGradient><linearGradient id="gA_42"><stop offset="0.00" stop-color="#ffffff"/><stop offset="0.05" stop-color="#ffffff"/><stop offset="0.10" stop-color="#ffffff"/><stop offset="0.14" stop-color="#ffffff"/><stop offset="0.19" stop-color="#ffffff"/><stop offset="0.24" stop-color="#ffffff"/><stop offset="0.29" stop-color="#fefffe"/><stop offset="0.34" stop-color="#fefffe"/><stop offset="0.39" stop-color="#ffffff"/><stop offset="0.43" stop-color="#fef7f7"/><stop offset="0.48" stop-color="#fde9ea"/><stop offset="0.53" stop-color="#fce0e1"/><stop offset="0.58" stop-color="#fbdcdd"/><stop offset="0.63" stop-color="#fbd8d9"/><stop offset="0.67" stop-color="#fad1d2"/><stop offset="0.72" stop-color="#f9c9ca"/><stop offset="0.77" stop-color="#f8c0c2"/><stop offset="0.82" stop-color="#f7b8ba"/><stop offset="0.87" stop-color="#f6afb1"/><stop offset="0.92" stop-color="#f5a5a8"/><stop offset="0.96" stop-color="#f49b9d"/><stop offset="1.00" stop-color="#f3979a"/></linearGradient><linearGradient id="gA_43"><stop offset="0.00" stop-color="#ffffff"/><stop offset="0.05" stop-color="#ffffff"/><stop offset="0.10" stop-color="#ffffff"/><stop offset="0.14" stop-color="#ffffff"/><stop offset="0.19" stop-color="#ffffff"/><stop offset="0.24" stop-color="#ffffff"/><stop offset="0.29" stop-color="#ffffff"/><stop offset="0.34" stop-color="#ffffff"/><stop offset="0.39" stop-color="#ffffff"/><stop offset="0.43" stop-color="#fef9f9"/><stop offset="0.48" stop-color="#fdeeef"/><stop offset="0.53" stop-color="#fce7e7"/><stop offset="0.58" stop-color="#fce2e3"/><stop offset="0.63" stop-color="#fbdedf"/><stop offset="0.67" stop-color="#fad7d8"/><stop offset="0.72" stop-color="#facfd1"/><stop offset="0.77" stop-color="#f9c8c9"/><stop offset="0.82" stop-color="#f8c1c2"/><stop offset="0.87" stop-color="#f7babb"/><stop offset="0.92" stop-color="#f6b1b3"/><stop offset="0.96" stop-color="#f5a7a9"/><stop offset="1.00" stop-color="#f5a3a5"/></linearGradient><linearGradient id="gA_44"><stop offset="0.00" stop-color="#ffffff"/><stop offset="0.05" stop-color="#ffffff"/><stop offset="0.10" stop-color="#ffffff"/><stop offset="0.14" stop-color="#ffffff"/><stop offset="0.19" stop-color="#ffffff"/><stop offset="0.24" stop-color="#ffffff"/><stop offset="0.29" stop-color="#ffffff"/><stop offset="0.34" stop-color="#ffffff"/><stop offset="0.39" stop-color="#ffffff"/><stop offset="0.43" stop-color="#fffbfb"/><stop offset="0.48" stop-color="#fef3f3"/><stop offset="0.53" stop-color="#fdeded"/><stop offset="0.58" stop-color="#fce9e9"/><stop offset="0.63" stop-color="#fce4e5"/><stop offset="0.67" stop-color="#fbdedf"/><stop offset="0.72" stop-color="#fad6d7"/><stop offset="0.77" stop-color="#fad0d1"/><stop offset="0.82" stop-color="#f9cacc"/><stop offset="0.87" stop-color="#f8c4c6"/><stop offset="0.92" stop-color="#f7bdbf"/><stop offset="0.96" stop-color="#f6b3b5"/><stop offset="1.00" stop-color="#f6afb1"/></linearGradient><linearGradient id="gA_45"><stop offset="0.00" stop-color="#ffffff"/><stop offset="0.05" stop-color="#ffffff"/><stop offset="0.10" stop-color="#ffffff"/><stop offset="0.14" stop-color="#ffffff"/><stop offset="0.19" stop-color="#ffffff"/><stop offset="0.24" stop-color="#fffefe"/><stop offset="0.29" stop-color="#ffffff"/><stop offset="0.34" stop-color="#ffffff"/><stop offset="0.39" stop-color="#ffffff"/><stop offset="0.43" stop-color="#fffefe"/><stop offset="0.48" stop-color="#fef7f8"/><stop offset="0.53" stop-color="#fef2f3"/><stop offset="0.58" stop-color="#fdefef"/><stop offset="0.63" stop-color="#fdebeb"/><stop offset="0.67" stop-color="#fce4e5"/><stop offset="0.72" stop-color="#fbdede"/><stop offset="0.77" stop-color="#fbd8d9"/><stop offset="0.82" stop-color="#fad4d5"/><stop offset="0.87" stop-color="#fad0d1"/><stop offset="0.92" stop-color="#f9c9cb"/><stop offset="0.96" stop-color="#f8bfc1"/><stop offset="1.00" stop-color="#f7bcbe"/></linearGradient><linearGradient id="gA_46"><stop offset="0.00" stop-color="#ffffff"/><stop offset="0.05" stop-color="#ffffff"/><stop offset="0.10" stop-color="#ffffff"/><stop offset="0.14" stop-color="#ffffff"/><stop offset="0.19" stop-color="#ffffff"/><stop offset="0.24" stop-color="#fffefe"/><stop offset="0.29" stop-color="#ffffff"/><stop offset="0.34" stop-color="#ffffff"/><stop offset="0.39" stop-color="#ffffff"/><stop offset="0.43" stop-color="#ffffff"/><stop offset="0.48" stop-color="#fffbfb"/><stop offset="0.53" stop-color="#fef8f8"/><stop offset="0.58" stop-color="#fef4f5"/><stop offset="0.63" stop-color="#fdf0f1"/><stop offset="0.67" stop-color="#fdebeb"/><stop offset="0.72" stop-color="#fce5e6"/><stop offset="0.77" stop-color="#fce1e2"/><stop offset="0.82" stop-color="#fbdedf"/><stop offset="0.87" stop-color="#fbdbdb"/><stop offset="0.92" stop-color="#fad5d6"/><stop offset="0.96" stop-color="#f9cccd"/><stop offset="1.00" stop-color="#f9c9ca"/></linearGradient><linearGradient id="gA_47"><stop offset="0.00" stop-color="#ffffff"/><stop offset="0.05" stop-color="#ffffff"/><stop offset="0.10" stop-color="#ffffff"/><stop offset="0.14" stop-color="#ffffff"/><stop offset="0.19" stop-color="#ffffff"/><stop offset="0.24" stop-color="#ffffff"/><stop offset="0.29" stop-color="#ffffff"/><stop offset="0.34" stop-color="#ffffff"/><stop offset="0.39" stop-color="#ffffff"/><stop offset="0.43" stop-color="#ffffff"/><stop offset="0.48" stop-color="#ffffff"/><stop offset="0.53" stop-color="#fffcfc"/><stop offset="0.58" stop-color="#fef9f9"/><stop offset="0.63" stop-color="#fef5f6"/><stop offset="0.67" stop-color="#fdf1f2"/><stop offset="0.72" stop-color="#fdeeee"/><stop offset="0.77" stop-color="#fdebeb"/><stop offset="0.82" stop-color="#fce8e9"/><stop offset="0.87" stop-color="#fce5e6"/><stop offset="0.92" stop-color="#fbe0e1"/><stop offset="0.96" stop-color="#fbd8d9"/><stop offset="1.00" stop-color="#fad6d7"/></linearGradient><linearGradient id="gA_48"><stop offset="0.00" stop-color="#ffffff"/><stop offset="0.05" stop-color="#ffffff"/><stop offset="0.10" stop-color="#ffffff"/><stop offset="0.14" stop-color="#ffffff"/><stop offset="0.19" stop-color="#ffffff"/><stop offset="0.24" stop-color="#ffffff"/><stop offset="0.29" stop-color="#ffffff"/><stop offset="0.34" stop-color="#ffffff"/><stop offset="0.39" stop-color="#ffffff"/><stop offset="0.43" stop-color="#ffffff"/><stop offset="0.48" stop-color="#ffffff"/><stop offset="0.53" stop-color="#ffffff"/><stop offset="0.58" stop-color="#fffdfd"/><stop offset="0.63" stop-color="#fefafa"/><stop offset="0.67" stop-color="#fef8f8"/><stop offset="0.72" stop-color="#fef6f7"/><stop offset="0.77" stop-color="#fef5f5"/><stop offset="0.82" stop-color="#fef2f3"/><stop offset="0.87" stop-color="#fdeff0"/><stop offset="0.92" stop-color="#fdebeb"/><stop offset="0.96" stop-color="#fce4e5"/><stop offset="1.00" stop-color="#fce2e3"/></linearGradient><linearGradient id="gA_49"><stop offset="0.00" stop-color="#ffffff"/><stop offset="0.05" stop-color="#ffffff"/><stop offset="0.10" stop-color="#ffffff"/><stop offset="0.14" stop-color="#ffffff"/><stop offset="0.19" stop-color="#ffffff"/><stop offset="0.24" stop-color="#ffffff"/><stop offset="0.29" stop-color="#ffffff"/><stop offset="0.34" stop-color="#ffffff"/><stop offset="0.39" stop-color="#ffffff"/><stop offset="0.43" stop-color="#ffffff"/><stop offset="0.48" stop-color="#ffffff"/><stop offset="0.53" stop-color="#ffffff"/><stop offset="0.58" stop-color="#fffefe"/><stop offset="0.63" stop-color="#fffcfc"/><stop offset="0.67" stop-color="#fffcfc"/><stop offset="0.72" stop-color="#fffdfd"/><stop offset="0.77" stop-color="#fffcfc"/><stop offset="0.82" stop-color="#fef9fa"/><stop offset="0.87" stop-color="#fef6f6"/><stop offset="0.92" stop-color="#fdf1f2"/><stop offset="0.96" stop-color="#fdeced"/><stop offset="1.00" stop-color="#fdebeb"/></linearGradient><linearGradient id="gA_50"><stop offset="0.00" stop-color="#ffffff"/><stop offset="0.05" stop-color="#ffffff"/><stop offset="0.10" stop-color="#ffffff"/><stop offset="0.14" stop-color="#ffffff"/><stop offset="0.19" stop-color="#ffffff"/><stop offset="0.24" stop-color="#ffffff"/><stop offset="0.29" stop-color="#ffffff"/><stop offset="0.34" stop-color="#ffffff"/><stop offset="0.39" stop-color="#ffffff"/><stop offset="0.43" stop-color="#ffffff"/><stop offset="0.48" stop-color="#ffffff"/><stop offset="0.53" stop-color="#ffffff"/><stop offset="0.58" stop-color="#fffefe"/><stop offset="0.63" stop-color="#fffcfc"/><stop offset="0.67" stop-color="#fffcfc"/><stop offset="0.72" stop-color="#fffdfd"/><stop offset="0.77" stop-color="#fffcfc"/><stop offset="0.82" stop-color="#fef9fa"/><stop offset="0.87" stop-color="#fef6f6"/><stop offset="0.92" stop-color="#fdf1f2"/><stop offset="0.96" stop-color="#fdeced"/><stop offset="1.00" stop-color="#fdebeb"/></linearGradient><linearGradient id="gA_51"><stop offset="0.00" stop-color="#ffffff"/><stop offset="0.05" stop-color="#ffffff"/><stop offset="0.10" stop-color="#ffffff"/><stop offset="0.14" stop-color="#ffffff"/><stop offset="0.19" stop-color="#ffffff"/><stop offset="0.24" stop-color="#ffffff"/><stop offset="0.29" stop-color="#ffffff"/><stop offset="0.34" stop-color="#ffffff"/><stop offset="0.39" stop-color="#ffffff"/><stop offset="0.43" stop-color="#ffffff"/><stop offset="0.48" stop-color="#ffffff"/><stop offset="0.53" stop-color="#ffffff"/><stop offset="0.58" stop-color="#fffefe"/><stop offset="0.63" stop-color="#fffcfc"/><stop offset="0.67" stop-color="#fffcfc"/><stop offset="0.72" stop-color="#fffdfd"/><stop offset="0.77" stop-color="#fffcfc"/><stop offset="0.82" stop-color="#fef9fa"/><stop offset="0.87" stop-color="#fef6f6"/><stop offset="0.92" stop-color="#fdf1f2"/><stop offset="0.96" stop-color="#fdeced"/><stop offset="1.00" stop-color="#fdebeb"/></linearGradient><clipPath id="cpB"><rect x="305.5" y="61.7" width="188.1" height="238.1"/></clipPath><filter id="fbB" x="-5%" y="-5%" width="110%" height="110%"><feGaussianBlur stdDeviation="0 2.75"/></filter><linearGradient id="gB_0"><stop offset="0.00" stop-color="#ffffff"/><stop offset="0.05" stop-color="#ffffff"/><stop offset="0.10" stop-color="#ffffff"/><stop offset="0.14" stop-color="#fef6f7"/><stop offset="0.19" stop-color="#fde9ea"/><stop offset="0.24" stop-color="#fbdadb"/><stop offset="0.29" stop-color="#f9cacb"/><stop offset="0.33" stop-color="#f7b9bb"/><stop offset="0.38" stop-color="#f5a8aa"/><stop offset="0.43" stop-color="#f39699"/><stop offset="0.48" stop-color="#f18588"/><stop offset="0.53" stop-color="#ef767a"/><stop offset="0.57" stop-color="#ee6a6e"/><stop offset="0.62" stop-color="#ed6064"/><stop offset="0.67" stop-color="#ec585c"/><stop offset="0.72" stop-color="#eb5155"/><stop offset="0.77" stop-color="#ea4a4f"/><stop offset="0.81" stop-color="#ea4348"/><stop offset="0.86" stop-color="#e93b40"/><stop offset="0.91" stop-color="#e83338"/><stop offset="0.96" stop-color="#e7292e"/><stop offset="1.00" stop-color="#e6242a"/></linearGradient><linearGradient id="gB_1"><stop offset="0.00" stop-color="#ffffff"/><stop offset="0.05" stop-color="#ffffff"/><stop offset="0.10" stop-color="#ffffff"/><stop offset="0.14" stop-color="#fef6f7"/><stop offset="0.19" stop-color="#fde9ea"/><stop offset="0.24" stop-color="#fbdadb"/><stop offset="0.29" stop-color="#f9cacb"/><stop offset="0.33" stop-color="#f7b9bb"/><stop offset="0.38" stop-color="#f5a8aa"/><stop offset="0.43" stop-color="#f39699"/><stop offset="0.48" stop-color="#f18588"/><stop offset="0.53" stop-color="#ef767a"/><stop offset="0.57" stop-color="#ee6a6e"/><stop offset="0.62" stop-color="#ed6064"/><stop offset="0.67" stop-color="#ec585c"/><stop offset="0.72" stop-color="#eb5155"/><stop offset="0.77" stop-color="#ea4a4f"/><stop offset="0.81" stop-color="#ea4348"/><stop offset="0.86" stop-color="#e93b40"/><stop offset="0.91" stop-color="#e83338"/><stop offset="0.96" stop-color="#e7292e"/><stop offset="1.00" stop-color="#e6242a"/></linearGradient><linearGradient id="gB_2"><stop offset="0.00" stop-color="#ffffff"/><stop offset="0.05" stop-color="#ffffff"/><stop offset="0.10" stop-color="#ffffff"/><stop offset="0.14" stop-color="#fef6f7"/><stop offset="0.19" stop-color="#fde9ea"/><stop offset="0.24" stop-color="#fbdadb"/><stop offset="0.29" stop-color="#f9cacb"/><stop offset="0.33" stop-color="#f7b9bb"/><stop offset="0.38" stop-color="#f5a8aa"/><stop offset="0.43" stop-color="#f39699"/><stop offset="0.48" stop-color="#f18588"/><stop offset="0.53" stop-color="#ef767a"/><stop offset="0.57" stop-color="#ee6a6e"/><stop offset="0.62" stop-color="#ed6064"/><stop offset="0.67" stop-color="#ec585c"/><stop offset="0.72" stop-color="#eb5155"/><stop offset="0.77" stop-color="#ea4a4f"/><stop offset="0.81" stop-color="#ea4348"/><stop offset="0.86" stop-color="#e93b40"/><stop offset="0.91" stop-color="#e83338"/><stop offset="0.96" stop-color="#e7292e"/><stop offset="1.00" stop-color="#e6242a"/></linearGradient><linearGradient id="gB_3"><stop offset="0.00" stop-color="#ffffff"/><stop offset="0.05" stop-color="#ffffff"/><stop offset="0.10" stop-color="#fffefe"/><stop offset="0.14" stop-color="#fef5f5"/><stop offset="0.19" stop-color="#fce8e9"/><stop offset="0.24" stop-color="#fbd9da"/><stop offset="0.29" stop-color="#f9c9ca"/><stop offset="0.33" stop-color="#f7b8ba"/><stop offset="0.38" stop-color="#f5a7aa"/><stop offset="0.43" stop-color="#f3979a"/><stop offset="0.48" stop-color="#f1878a"/><stop offset="0.53" stop-color="#f0787c"/><stop offset="0.57" stop-color="#ee6b6f"/><stop offset="0.62" stop-color="#ed6064"/><stop offset="0.67" stop-color="#ec585c"/><stop offset="0.72" stop-color="#eb5155"/><stop offset="0.77" stop-color="#ea4a4f"/><stop offset="0.81" stop-color="#ea4348"/><stop offset="0.86" stop-color="#e93b40"/><stop offset="0.91" stop-color="#e83237"/><stop offset="0.96" stop-color="#e7282e"/><stop offset="1.00" stop-color="#e6242a"/></linearGradient><linearGradient id="gB_4"><stop offset="0.00" stop-color="#ffffff"/><stop offset="0.05" stop-color="#ffffff"/><stop offset="0.10" stop-color="#fefafb"/><stop offset="0.14" stop-color="#fef2f2"/><stop offset="0.19" stop-color="#fce7e7"/><stop offset="0.24" stop-color="#fbd9da"/><stop offset="0.29" stop-color="#f9c9ca"/><stop offset="0.33" stop-color="#f7b8ba"/><stop offset="0.38" stop-color="#f5a8ab"/><stop offset="0.43" stop-color="#f49b9d"/><stop offset="0.48" stop-color="#f28e91"/><stop offset="0.53" stop-color="#f07f82"/><stop offset="0.57" stop-color="#ef6f73"/><stop offset="0.62" stop-color="#ed6165"/><stop offset="0.67" stop-color="#ec585c"/><stop offset="0.72" stop-color="#eb5155"/><stop offset="0.77" stop-color="#ea4a4f"/><stop offset="0.81" stop-color="#ea4247"/><stop offset="0.86" stop-color="#e93a3f"/><stop offset="0.91" stop-color="#e83137"/><stop offset="0.96" stop-color="#e7282e"/><stop offset="1.00" stop-color="#e6242a"/></linearGradient><linearGradient id="gB_5"><stop offset="0.00" stop-color="#ffffff"/><stop offset="0.05" stop-color="#fffefe"/><stop offset="0.10" stop-color="#fefafa"/><stop offset="0.14" stop-color="#fef3f3"/><stop offset="0.19" stop-color="#fce9e9"/><stop offset="0.24" stop-color="#fbdcdd"/><stop offset="0.29" stop-color="#f9cdce"/><stop offset="0.33" stop-color="#f7bdbe"/><stop offset="0.38" stop-color="#f6adaf"/><stop offset="0.43" stop-color="#f4a0a2"/><stop offset="0.48" stop-color="#f39396"/><stop offset="0.53" stop-color="#f18487"/><stop offset="0.57" stop-color="#ef7276"/><stop offset="0.62" stop-color="#ed6367"/><stop offset="0.67" stop-color="#ec595d"/><stop offset="0.72" stop-color="#eb5156"/><stop offset="0.77" stop-color="#ea4b4f"/><stop offset="0.81" stop-color="#ea4348"/><stop offset="0.86" stop-color="#e93a3f"/><stop offset="0.91" stop-color="#e83237"/><stop offset="0.96" stop-color="#e7292e"/><stop offset="1.00" stop-color="#e6252b"/></linearGradient><linearGradient id="gB_6"><stop offset="0.00" stop-color="#ffffff"/><stop offset="0.05" stop-color="#fffefe"/><stop offset="0.10" stop-color="#fffbfb"/><stop offset="0.14" stop-color="#fef6f6"/><stop offset="0.19" stop-color="#fdeeef"/><stop offset="0.24" stop-color="#fce3e4"/><stop offset="0.29" stop-color="#fad5d6"/><stop offset="0.33" stop-color="#f8c5c6"/><stop offset="0.38" stop-color="#f7b5b7"/><stop offset="0.43" stop-color="#f5a6a9"/><stop offset="0.48" stop-color="#f3989a"/><stop offset="0.53" stop-color="#f1878a"/><stop offset="0.57" stop-color="#ef7578"/><stop offset="0.62" stop-color="#ed6569"/><stop offset="0.67" stop-color="#ec5a5e"/><stop offset="0.72" stop-color="#eb5357"/><stop offset="0.77" stop-color="#eb4c50"/><stop offset="0.81" stop-color="#ea4449"/><stop offset="0.86" stop-color="#e93c41"/><stop offset="0.91" stop-color="#e83338"/><stop offset="0.96" stop-color="#e72a2f"/><stop offset="1.00" stop-color="#e6262c"/></linearGradient><linearGradient id="gB_7"><stop offset="0.00" stop-color="#ffffff"/><stop offset="0.05" stop-color="#ffffff"/><stop offset="0.10" stop-color="#ffffff"/><stop offset="0.14" stop-color="#fffcfc"/><stop offset="0.19" stop-color="#fef6f7"/><stop offset="0.24" stop-color="#fdedee"/><stop offset="0.29" stop-color="#fce1e1"/><stop offset="0.33" stop-color="#fad0d2"/><stop offset="0.38" stop-color="#f8bfc0"/><stop offset="0.43" stop-color="#f6adaf"/><stop offset="0.48" stop-color="#f49c9e"/><stop offset="0.53" stop-color="#f2898c"/><stop offset="0.57" stop-color="#ef777a"/><stop offset="0.62" stop-color="#ee676b"/><stop offset="0.67" stop-color="#ec5c60"/><stop offset="0.72" stop-color="#ec5459"/><stop offset="0.77" stop-color="#eb4d52"/><stop offset="0.81" stop-color="#ea464a"/><stop offset="0.86" stop-color="#e93e43"/><stop offset="0.91" stop-color="#e8353a"/><stop offset="0.96" stop-color="#e72c31"/><stop offset="1.00" stop-color="#e6282d"/></linearGradient><linearGradient id="gB_8"><stop offset="0.00" stop-color="#ffffff"/><stop offset="0.05" stop-color="#ffffff"/><stop offset="0.10" stop-color="#ffffff"/><stop offset="0.14" stop-color="#ffffff"/><stop offset="0.19" stop-color="#ffffff"/><stop offset="0.24" stop-color="#fefafa"/><stop offset="0.29" stop-color="#fdeeef"/><stop offset="0.33" stop-color="#fbdedf"/><stop offset="0.38" stop-color="#f9cbcc"/><stop offset="0.43" stop-color="#f7b5b7"/><stop offset="0.48" stop-color="#f49fa1"/><stop offset="0.53" stop-color="#f28a8d"/><stop offset="0.57" stop-color="#f0797c"/><stop offset="0.62" stop-color="#ee6a6e"/><stop offset="0.67" stop-color="#ed5f63"/><stop offset="0.72" stop-color="#ec565b"/><stop offset="0.77" stop-color="#eb4f53"/><stop offset="0.81" stop-color="#ea484c"/><stop offset="0.86" stop-color="#e94045"/><stop offset="0.91" stop-color="#e8383d"/><stop offset="0.96" stop-color="#e72e33"/><stop offset="1.00" stop-color="#e7292f"/></linearGradient><linearGradient id="gB_9"><stop offset="0.00" stop-color="#ffffff"/><stop offset="0.05" stop-color="#ffffff"/><stop offset="0.10" stop-color="#fbfdfa"/><stop offset="0.14" stop-color="#fafdf8"/><stop offset="0.19" stop-color="#fafdf9"/><stop offset="0.24" stop-color="#fefefd"/><stop offset="0.29" stop-color="#fffefe"/><stop offset="0.33" stop-color="#fdeeee"/><stop offset="0.38" stop-color="#fbd8d9"/><stop offset="0.43" stop-color="#f8bdbf"/><stop offset="0.48" stop-color="#f4a2a5"/><stop offset="0.53" stop-color="#f28b8e"/><stop offset="0.57" stop-color="#f07a7e"/><stop offset="0.62" stop-color="#ee6d71"/><stop offset="0.67" stop-color="#ed6266"/><stop offset="0.72" stop-color="#ec595d"/><stop offset="0.77" stop-color="#eb5155"/><stop offset="0.81" stop-color="#ea4a4f"/><stop offset="0.86" stop-color="#ea4348"/><stop offset="0.91" stop-color="#e93b40"/><stop offset="0.96" stop-color="#e73035"/><stop offset="1.00" stop-color="#e72b30"/></linearGradient><linearGradient id="gB_10"><stop offset="0.00" stop-color="#ffffff"/><stop offset="0.05" stop-color="#fbfdfa"/><stop offset="0.10" stop-color="#f6fbf3"/><stop offset="0.14" stop-color="#f2f9ee"/><stop offset="0.19" stop-color="#f0f8ec"/><stop offset="0.24" stop-color="#f2f9ef"/><stop offset="0.29" stop-color="#f9fcf7"/><stop offset="0.33" stop-color="#ffffff"/><stop offset="0.38" stop-color="#fce6e7"/><stop offset="0.43" stop-color="#f9c6c8"/><stop offset="0.48" stop-color="#f5a6a8"/><stop offset="0.53" stop-color="#f28c8f"/><stop offset="0.57" stop-color="#f07c7f"/><stop offset="0.62" stop-color="#ef7074"/><stop offset="0.67" stop-color="#ed6569"/><stop offset="0.72" stop-color="#ec5b5f"/><stop offset="0.77" stop-color="#eb5357"/><stop offset="0.81" stop-color="#eb4c51"/><stop offset="0.86" stop-color="#ea464a"/><stop offset="0.91" stop-color="#e93d42"/><stop offset="0.96" stop-color="#e83237"/><stop offset="1.00" stop-color="#e72c32"/></linearGradient><linearGradient id="gB_11"><stop offset="0.00" stop-color="#fdfefc"/><stop offset="0.05" stop-color="#f8fcf6"/><stop offset="0.10" stop-color="#eff8eb"/><stop offset="0.14" stop-color="#e9f5e3"/><stop offset="0.19" stop-color="#e6f4df"/><stop offset="0.24" stop-color="#e7f4e0"/><stop offset="0.29" stop-color="#ecf7e7"/><stop offset="0.33" stop-color="#f8fcf6"/><stop offset="0.38" stop-color="#fef5f5"/><stop offset="0.43" stop-color="#facfd1"/><stop offset="0.48" stop-color="#f5a9ab"/><stop offset="0.53" stop-color="#f28d90"/><stop offset="0.57" stop-color="#f07e81"/><stop offset="0.62" stop-color="#ef7377"/><stop offset="0.67" stop-color="#ee686c"/><stop offset="0.72" stop-color="#ed5e62"/><stop offset="0.77" stop-color="#ec555a"/><stop offset="0.81" stop-color="#eb4f53"/><stop offset="0.86" stop-color="#ea484d"/><stop offset="0.91" stop-color="#e94045"/><stop offset="0.96" stop-color="#e83439"/><stop offset="1.00" stop-color="#e72e33"/></linearGradient><linearGradient id="gB_12"><stop offset="0.00" stop-color="#fafdf9"/><stop offset="0.05" stop-color="#f4faf0"/><stop offset="0.10" stop-color="#e8f5e2"/><stop offset="0.14" stop-color="#e0f1d7"/><stop offset="0.19" stop-color="#dbefd1"/><stop offset="0.24" stop-color="#dbefd1"/><stop offset="0.29" stop-color="#e0f1d7"/><stop offset="0.33" stop-color="#ecf7e6"/><stop offset="0.38" stop-color="#ffffff"/><stop offset="0.43" stop-color="#fbd9da"/><stop offset="0.48" stop-color="#f6adaf"/><stop offset="0.53" stop-color="#f28f92"/><stop offset="0.57" stop-color="#f18083"/><stop offset="0.62" stop-color="#ef767a"/><stop offset="0.67" stop-color="#ee6b6f"/><stop offset="0.72" stop-color="#ed6064"/><stop offset="0.77" stop-color="#ec575c"/><stop offset="0.81" stop-color="#eb5155"/><stop offset="0.86" stop-color="#ea4b4f"/><stop offset="0.91" stop-color="#ea4347"/><stop offset="0.96" stop-color="#e8363b"/><stop offset="1.00" stop-color="#e72f34"/></linearGradient><linearGradient id="gB_13"><stop offset="0.00" stop-color="#f8fcf6"/><stop offset="0.05" stop-color="#f0f8eb"/><stop offset="0.10" stop-color="#e2f2d9"/><stop offset="0.14" stop-color="#d7edcc"/><stop offset="0.19" stop-color="#d1ebc4"/><stop offset="0.24" stop-color="#d0eac2"/><stop offset="0.29" stop-color="#d4ecc8"/><stop offset="0.33" stop-color="#e1f2d8"/><stop offset="0.38" stop-color="#f8fcf6"/><stop offset="0.43" stop-color="#fce2e3"/><stop offset="0.48" stop-color="#f6b3b4"/><stop offset="0.53" stop-color="#f39295"/><stop offset="0.57" stop-color="#f18386"/><stop offset="0.62" stop-color="#f07a7d"/><stop offset="0.67" stop-color="#ef6e72"/><stop offset="0.72" stop-color="#ed6266"/><stop offset="0.77" stop-color="#ec595d"/><stop offset="0.81" stop-color="#eb5357"/><stop offset="0.86" stop-color="#eb4d51"/><stop offset="0.91" stop-color="#ea4449"/><stop offset="0.96" stop-color="#e8373c"/><stop offset="1.00" stop-color="#e73035"/></linearGradient><linearGradient id="gB_14"><stop offset="0.00" stop-color="#f5fbf2"/><stop offset="0.05" stop-color="#ebf6e6"/><stop offset="0.10" stop-color="#dbefd1"/><stop offset="0.14" stop-color="#cfeac1"/><stop offset="0.19" stop-color="#c7e6b7"/><stop offset="0.24" stop-color="#c5e6b5"/><stop offset="0.29" stop-color="#cae7ba"/><stop offset="0.33" stop-color="#d7edcb"/><stop offset="0.38" stop-color="#eff8ea"/><stop offset="0.43" stop-color="#fdebeb"/><stop offset="0.48" stop-color="#f7b9ba"/><stop offset="0.53" stop-color="#f39799"/><stop offset="0.57" stop-color="#f18689"/><stop offset="0.62" stop-color="#f07d80"/><stop offset="0.67" stop-color="#ef7175"/><stop offset="0.72" stop-color="#ed6468"/><stop offset="0.77" stop-color="#ec5b5f"/><stop offset="0.81" stop-color="#ec5458"/><stop offset="0.86" stop-color="#eb4d52"/><stop offset="0.91" stop-color="#ea454a"/><stop offset="0.96" stop-color="#e8383d"/><stop offset="1.00" stop-color="#e73035"/></linearGradient><linearGradient id="gB_15"><stop offset="0.00" stop-color="#f3faef"/><stop offset="0.05" stop-color="#e7f5e1"/><stop offset="0.10" stop-color="#d5ecc8"/><stop offset="0.14" stop-color="#c7e6b7"/><stop offset="0.19" stop-color="#bee2ac"/><stop offset="0.24" stop-color="#bce1a9"/><stop offset="0.29" stop-color="#c1e4af"/><stop offset="0.33" stop-color="#ceeac0"/><stop offset="0.38" stop-color="#e8f5e1"/><stop offset="0.43" stop-color="#fef4f4"/><stop offset="0.48" stop-color="#f8c0c2"/><stop offset="0.53" stop-color="#f49d9f"/><stop offset="0.57" stop-color="#f28b8e"/><stop offset="0.62" stop-color="#f18083"/><stop offset="0.67" stop-color="#ef7377"/><stop offset="0.72" stop-color="#ee666a"/><stop offset="0.77" stop-color="#ec5c60"/><stop offset="0.81" stop-color="#ec5459"/><stop offset="0.86" stop-color="#eb4d52"/><stop offset="0.91" stop-color="#ea4549"/><stop offset="0.96" stop-color="#e8373c"/><stop offset="1.00" stop-color="#e73035"/></linearGradient><linearGradient id="gB_16"><stop offset="0.00" stop-color="#f0f8ec"/><stop offset="0.05" stop-color="#e4f3dc"/><stop offset="0.10" stop-color="#cfeac1"/><stop offset="0.14" stop-color="#bfe3ad"/><stop offset="0.19" stop-color="#b6dfa2"/><stop offset="0.24" stop-color="#b4de9f"/><stop offset="0.29" stop-color="#b9e0a6"/><stop offset="0.33" stop-color="#c8e7b8"/><stop offset="0.38" stop-color="#e2f2d9"/><stop offset="0.43" stop-color="#fffcfc"/><stop offset="0.48" stop-color="#f9c9ca"/><stop offset="0.53" stop-color="#f5a4a6"/><stop offset="0.57" stop-color="#f29093"/><stop offset="0.62" stop-color="#f18386"/><stop offset="0.67" stop-color="#ef7578"/><stop offset="0.72" stop-color="#ee676b"/><stop offset="0.77" stop-color="#ec5d61"/><stop offset="0.81" stop-color="#ec5459"/><stop offset="0.86" stop-color="#eb4d51"/><stop offset="0.91" stop-color="#ea4348"/><stop offset="0.96" stop-color="#e8363b"/><stop offset="1.00" stop-color="#e72f35"/></linearGradient><linearGradient id="gB_17"><stop offset="0.00" stop-color="#eef7e9"/><stop offset="0.05" stop-color="#e0f1d7"/><stop offset="0.10" stop-color="#c9e7ba"/><stop offset="0.14" stop-color="#b9e0a5"/><stop offset="0.19" stop-color="#afdc99"/><stop offset="0.24" stop-color="#addb96"/><stop offset="0.29" stop-color="#b3de9e"/><stop offset="0.33" stop-color="#c3e4b1"/><stop offset="0.38" stop-color="#dcf0d3"/><stop offset="0.43" stop-color="#ffffff"/><stop offset="0.48" stop-color="#fad2d4"/><stop offset="0.53" stop-color="#f6adaf"/><stop offset="0.57" stop-color="#f39698"/><stop offset="0.62" stop-color="#f18689"/><stop offset="0.67" stop-color="#ef767a"/><stop offset="0.72" stop-color="#ee696c"/><stop offset="0.77" stop-color="#ed5d61"/><stop offset="0.81" stop-color="#ec5458"/><stop offset="0.86" stop-color="#eb4b50"/><stop offset="0.91" stop-color="#e94146"/><stop offset="0.96" stop-color="#e8353a"/><stop offset="1.00" stop-color="#e72e34"/></linearGradient><linearGradient id="gB_18"><stop offset="0.00" stop-color="#ebf6e6"/><stop offset="0.05" stop-color="#dcf0d3"/><stop offset="0.10" stop-color="#c4e5b3"/><stop offset="0.14" stop-color="#b3de9d"/><stop offset="0.19" stop-color="#a9d991"/><stop offset="0.24" stop-color="#a7d88e"/><stop offset="0.29" stop-color="#aedb97"/><stop offset="0.33" stop-color="#bee2ab"/><stop offset="0.38" stop-color="#d8eecc"/><stop offset="0.43" stop-color="#fafdf9"/><stop offset="0.48" stop-color="#fbdddd"/><stop offset="0.53" stop-color="#f7b6b8"/><stop offset="0.57" stop-color="#f49c9e"/><stop offset="0.62" stop-color="#f1888b"/><stop offset="0.67" stop-color="#f0787b"/><stop offset="0.72" stop-color="#ee6a6d"/><stop offset="0.77" stop-color="#ed5e62"/><stop offset="0.81" stop-color="#eb5358"/><stop offset="0.86" stop-color="#ea4a4e"/><stop offset="0.91" stop-color="#e93f44"/><stop offset="0.96" stop-color="#e83338"/><stop offset="1.00" stop-color="#e72d33"/></linearGradient><linearGradient id="gB_19"><stop offset="0.00" stop-color="#e9f5e3"/><stop offset="0.05" stop-color="#d9eece"/><stop offset="0.10" stop-color="#c0e3ad"/><stop offset="0.14" stop-color="#aedb96"/><stop offset="0.19" stop-color="#a4d78a"/><stop offset="0.24" stop-color="#a2d688"/><stop offset="0.29" stop-color="#aad991"/><stop offset="0.33" stop-color="#bae1a6"/><stop offset="0.38" stop-color="#d3ecc6"/><stop offset="0.43" stop-color="#f4faf1"/><stop offset="0.48" stop-color="#fce7e7"/><stop offset="0.53" stop-color="#f8bfc1"/><stop offset="0.57" stop-color="#f4a2a4"/><stop offset="0.62" stop-color="#f28c8e"/><stop offset="0.67" stop-color="#f07a7d"/><stop offset="0.72" stop-color="#ee6b6e"/><stop offset="0.77" stop-color="#ed5e62"/><stop offset="0.81" stop-color="#eb5357"/><stop offset="0.86" stop-color="#ea484d"/><stop offset="0.91" stop-color="#e93d42"/><stop offset="0.96" stop-color="#e83136"/><stop offset="1.00" stop-color="#e72c31"/></linearGradient><linearGradient id="gB_20"><stop offset="0.00" stop-color="#e7f5e0"/><stop offset="0.05" stop-color="#d6edcb"/><stop offset="0.10" stop-color="#bbe1a8"/><stop offset="0.14" stop-color="#a9d990"/><stop offset="0.19" stop-color="#9fd584"/><stop offset="0.24" stop-color="#9ed482"/><stop offset="0.29" stop-color="#a5d88c"/><stop offset="0.33" stop-color="#b5dfa0"/><stop offset="0.38" stop-color="#cee9c0"/><stop offset="0.43" stop-color="#edf7e8"/><stop offset="0.48" stop-color="#fdf1f1"/><stop offset="0.53" stop-color="#f9c9ca"/><stop offset="0.57" stop-color="#f5a8aa"/><stop offset="0.62" stop-color="#f28f92"/><stop offset="0.67" stop-color="#f07b7f"/><stop offset="0.72" stop-color="#ee6c70"/><stop offset="0.77" stop-color="#ed5f63"/><stop offset="0.81" stop-color="#eb5357"/><stop offset="0.86" stop-color="#ea474c"/><stop offset="0.91" stop-color="#e93c41"/><stop offset="0.96" stop-color="#e72f35"/><stop offset="1.00" stop-color="#e72a30"/></linearGradient><linearGradient id="gB_21"><stop offset="0.00" stop-color="#e5f4de"/><stop offset="0.05" stop-color="#d3ecc7"/><stop offset="0.10" stop-color="#b7dfa3"/><stop offset="0.14" stop-color="#a5d78b"/><stop offset="0.19" stop-color="#9bd37e"/><stop offset="0.24" stop-color="#9ad27d"/><stop offset="0.29" stop-color="#a1d686"/><stop offset="0.33" stop-color="#b1dc9a"/><stop offset="0.38" stop-color="#c8e7b8"/><stop offset="0.43" stop-color="#e7f4e0"/><stop offset="0.48" stop-color="#fffbfb"/><stop offset="0.53" stop-color="#fad1d2"/><stop offset="0.57" stop-color="#f6aeb0"/><stop offset="0.62" stop-color="#f39295"/><stop offset="0.67" stop-color="#f07d81"/><stop offset="0.72" stop-color="#ee6d71"/><stop offset="0.77" stop-color="#ed6064"/><stop offset="0.81" stop-color="#eb5358"/><stop offset="0.86" stop-color="#ea474c"/><stop offset="0.91" stop-color="#e93b40"/><stop offset="0.96" stop-color="#e72e33"/><stop offset="1.00" stop-color="#e7292e"/></linearGradient><linearGradient id="gB_22"><stop offset="0.00" stop-color="#e3f3db"/><stop offset="0.05" stop-color="#d1ebc3"/><stop offset="0.10" stop-color="#b4de9e"/><stop offset="0.14" stop-color="#a1d686"/><stop offset="0.19" stop-color="#97d179"/><stop offset="0.24" stop-color="#96d178"/><stop offset="0.29" stop-color="#9dd480"/><stop offset="0.33" stop-color="#abda93"/><stop offset="0.38" stop-color="#c2e4b0"/><stop offset="0.43" stop-color="#e0f1d7"/><stop offset="0.48" stop-color="#ffffff"/><stop offset="0.53" stop-color="#fbd9da"/><stop offset="0.57" stop-color="#f6b4b6"/><stop offset="0.62" stop-color="#f39699"/><stop offset="0.67" stop-color="#f18083"/><stop offset="0.72" stop-color="#ef6f73"/><stop offset="0.77" stop-color="#ed6165"/><stop offset="0.81" stop-color="#ec5459"/><stop offset="0.86" stop-color="#ea484c"/><stop offset="0.91" stop-color="#e93b40"/><stop offset="0.96" stop-color="#e72d32"/><stop offset="1.00" stop-color="#e6272c"/></linearGradient><linearGradient id="gB_23"><stop offset="0.00" stop-color="#e2f2d9"/><stop offset="0.05" stop-color="#ceeac0"/><stop offset="0.10" stop-color="#b1dd9b"/><stop offset="0.14" stop-color="#9ed482"/><stop offset="0.19" stop-color="#94d075"/><stop offset="0.24" stop-color="#92cf73"/><stop offset="0.29" stop-color="#98d27b"/><stop offset="0.33" stop-color="#a6d88c"/><stop offset="0.38" stop-color="#bbe1a8"/><stop offset="0.43" stop-color="#d9eece"/><stop offset="0.48" stop-color="#fafdf9"/><stop offset="0.53" stop-color="#fce1e2"/><stop offset="0.57" stop-color="#f7babb"/><stop offset="0.62" stop-color="#f39a9c"/><stop offset="0.67" stop-color="#f18386"/><stop offset="0.72" stop-color="#ef7175"/><stop offset="0.77" stop-color="#ed6367"/><stop offset="0.81" stop-color="#ec565a"/><stop offset="0.86" stop-color="#ea494d"/><stop offset="0.91" stop-color="#e93b40"/><stop offset="0.96" stop-color="#e72c32"/><stop offset="1.00" stop-color="#e6262b"/></linearGradient><linearGradient id="gB_24"><stop offset="0.00" stop-color="#e0f1d7"/><stop offset="0.05" stop-color="#cce9be"/><stop offset="0.10" stop-color="#aedb97"/><stop offset="0.14" stop-color="#9bd37e"/><stop offset="0.19" stop-color="#91ce71"/><stop offset="0.24" stop-color="#8fce6f"/><stop offset="0.29" stop-color="#94d075"/><stop offset="0.33" stop-color="#a0d585"/><stop offset="0.38" stop-color="#b5dea0"/><stop offset="0.43" stop-color="#d2ebc5"/><stop offset="0.48" stop-color="#f4faf1"/><stop offset="0.53" stop-color="#fce8e9"/><stop offset="0.57" stop-color="#f8bfc1"/><stop offset="0.62" stop-color="#f49ea1"/><stop offset="0.67" stop-color="#f18689"/><stop offset="0.72" stop-color="#ef7477"/><stop offset="0.77" stop-color="#ed6569"/><stop offset="0.81" stop-color="#ec585c"/><stop offset="0.86" stop-color="#ea4a4f"/><stop offset="0.91" stop-color="#e93c41"/><stop offset="0.96" stop-color="#e72c31"/><stop offset="1.00" stop-color="#e6252a"/></linearGradient><linearGradient id="gB_25"><stop offset="0.00" stop-color="#dff1d6"/><stop offset="0.05" stop-color="#cbe8bc"/><stop offset="0.10" stop-color="#acdb95"/><stop offset="0.14" stop-color="#98d27b"/><stop offset="0.19" stop-color="#8ecd6e"/><stop offset="0.24" stop-color="#8bcc6a"/><stop offset="0.29" stop-color="#90ce70"/><stop offset="0.33" stop-color="#9bd37e"/><stop offset="0.38" stop-color="#afdc98"/><stop offset="0.43" stop-color="#cce8bd"/><stop offset="0.48" stop-color="#eef7e9"/><stop offset="0.53" stop-color="#fdefef"/><stop offset="0.57" stop-color="#f8c5c7"/><stop offset="0.62" stop-color="#f4a3a5"/><stop offset="0.67" stop-color="#f2898c"/><stop offset="0.72" stop-color="#ef777a"/><stop offset="0.77" stop-color="#ee676b"/><stop offset="0.81" stop-color="#ec595e"/><stop offset="0.86" stop-color="#eb4c50"/><stop offset="0.91" stop-color="#e93d42"/><stop offset="0.96" stop-color="#e72c31"/><stop offset="1.00" stop-color="#e6242a"/></linearGradient><linearGradient id="gB_26"><stop offset="0.00" stop-color="#def0d5"/><stop offset="0.05" stop-color="#cae8ba"/><stop offset="0.10" stop-color="#abda93"/><stop offset="0.14" stop-color="#96d179"/><stop offset="0.19" stop-color="#8ccc6b"/><stop offset="0.24" stop-color="#88cb67"/><stop offset="0.29" stop-color="#8ccc6b"/><stop offset="0.33" stop-color="#96d178"/><stop offset="0.38" stop-color="#a9d990"/><stop offset="0.43" stop-color="#c6e6b5"/><stop offset="0.48" stop-color="#e8f5e1"/><stop offset="0.53" stop-color="#fef6f6"/><stop offset="0.57" stop-color="#f9cbcc"/><stop offset="0.62" stop-color="#f5a7a9"/><stop offset="0.67" stop-color="#f28d90"/><stop offset="0.72" stop-color="#f07a7d"/><stop offset="0.77" stop-color="#ee6a6e"/><stop offset="0.81" stop-color="#ec5c60"/><stop offset="0.86" stop-color="#eb4d52"/><stop offset="0.91" stop-color="#e93e43"/><stop offset="0.96" stop-color="#e72c32"/><stop offset="1.00" stop-color="#e6242a"/></linearGradient><linearGradient id="gB_27"><stop offset="0.00" stop-color="#def0d4"/><stop offset="0.05" stop-color="#c9e7ba"/><stop offset="0.10" stop-color="#aad991"/><stop offset="0.14" stop-color="#95d077"/><stop offset="0.19" stop-color="#89cb68"/><stop offset="0.24" stop-color="#86ca63"/><stop offset="0.29" stop-color="#88cb66"/><stop offset="0.33" stop-color="#92cf72"/><stop offset="0.38" stop-color="#a4d78a"/><stop offset="0.43" stop-color="#c0e3ae"/><stop offset="0.48" stop-color="#e3f2da"/><stop offset="0.53" stop-color="#fffdfd"/><stop offset="0.57" stop-color="#fad1d2"/><stop offset="0.62" stop-color="#f6acae"/><stop offset="0.67" stop-color="#f29194"/><stop offset="0.72" stop-color="#f07d80"/><stop offset="0.77" stop-color="#ee6d70"/><stop offset="0.81" stop-color="#ed5e62"/><stop offset="0.86" stop-color="#eb4f53"/><stop offset="0.91" stop-color="#e93f44"/><stop offset="0.96" stop-color="#e72d32"/><stop offset="1.00" stop-color="#e6252a"/></linearGradient><linearGradient id="gB_28"><stop offset="0.00" stop-color="#ddf0d4"/><stop offset="0.05" stop-color="#c9e7b9"/><stop offset="0.10" stop-color="#a9d991"/><stop offset="0.14" stop-color="#94d075"/><stop offset="0.19" stop-color="#88ca65"/><stop offset="0.24" stop-color="#83c860"/><stop offset="0.29" stop-color="#85c962"/><stop offset="0.33" stop-color="#8ecd6e"/><stop offset="0.38" stop-color="#a0d585"/><stop offset="0.43" stop-color="#bce1a9"/><stop offset="0.48" stop-color="#def0d4"/><stop offset="0.53" stop-color="#ffffff"/><stop offset="0.57" stop-color="#fad7d8"/><stop offset="0.62" stop-color="#f6b1b3"/><stop offset="0.67" stop-color="#f39598"/><stop offset="0.72" stop-color="#f18184"/><stop offset="0.77" stop-color="#ef7073"/><stop offset="0.81" stop-color="#ed6064"/><stop offset="0.86" stop-color="#eb5054"/><stop offset="0.91" stop-color="#e94044"/><stop offset="0.96" stop-color="#e72e33"/><stop offset="1.00" stop-color="#e6262c"/></linearGradient><linearGradient id="gB_29"><stop offset="0.00" stop-color="#ddf0d4"/><stop offset="0.05" stop-color="#c9e7b9"/><stop offset="0.10" stop-color="#a9d990"/><stop offset="0.14" stop-color="#93cf74"/><stop offset="0.19" stop-color="#86ca63"/><stop offset="0.24" stop-color="#81c75d"/><stop offset="0.29" stop-color="#82c85f"/><stop offset="0.33" stop-color="#8bcc6a"/><stop offset="0.38" stop-color="#9dd481"/><stop offset="0.43" stop-color="#b8e0a4"/><stop offset="0.48" stop-color="#d9eecf"/><stop offset="0.53" stop-color="#fdfefc"/><stop offset="0.57" stop-color="#fbdcdd"/><stop offset="0.62" stop-color="#f7b6b7"/><stop offset="0.67" stop-color="#f3999c"/><stop offset="0.72" stop-color="#f18487"/><stop offset="0.77" stop-color="#ef7276"/><stop offset="0.81" stop-color="#ed6165"/><stop offset="0.86" stop-color="#eb5155"/><stop offset="0.91" stop-color="#e94045"/><stop offset="0.96" stop-color="#e72f34"/><stop offset="1.00" stop-color="#e6272d"/></linearGradient><linearGradient id="gB_30"><stop offset="0.00" stop-color="#def0d4"/><stop offset="0.05" stop-color="#c9e7ba"/><stop offset="0.10" stop-color="#a9d990"/><stop offset="0.14" stop-color="#93cf74"/><stop offset="0.19" stop-color="#85c962"/><stop offset="0.24" stop-color="#7fc75a"/><stop offset="0.29" stop-color="#80c75c"/><stop offset="0.33" stop-color="#89cb67"/><stop offset="0.38" stop-color="#9ad37e"/><stop offset="0.43" stop-color="#b5dea0"/><stop offset="0.48" stop-color="#d6edca"/><stop offset="0.53" stop-color="#f9fcf7"/><stop offset="0.57" stop-color="#fce0e1"/><stop offset="0.62" stop-color="#f7babb"/><stop offset="0.67" stop-color="#f49da0"/><stop offset="0.72" stop-color="#f1888b"/><stop offset="0.77" stop-color="#ef7579"/><stop offset="0.81" stop-color="#ed6367"/><stop offset="0.86" stop-color="#eb5256"/><stop offset="0.91" stop-color="#e94145"/><stop offset="0.96" stop-color="#e73035"/><stop offset="1.00" stop-color="#e7292e"/></linearGradient><linearGradient id="gB_31"><stop offset="0.00" stop-color="#def0d4"/><stop offset="0.05" stop-color="#cae7ba"/><stop offset="0.10" stop-color="#a9d991"/><stop offset="0.14" stop-color="#92cf73"/><stop offset="0.19" stop-color="#84c961"/><stop offset="0.24" stop-color="#7ec659"/><stop offset="0.29" stop-color="#7fc65a"/><stop offset="0.33" stop-color="#87ca65"/><stop offset="0.38" stop-color="#99d27b"/><stop offset="0.43" stop-color="#b3de9d"/><stop offset="0.48" stop-color="#d4ecc7"/><stop offset="0.53" stop-color="#f7fbf4"/><stop offset="0.57" stop-color="#fce4e4"/><stop offset="0.62" stop-color="#f7bdbf"/><stop offset="0.67" stop-color="#f4a0a3"/><stop offset="0.72" stop-color="#f28b8e"/><stop offset="0.77" stop-color="#f0787b"/><stop offset="0.81" stop-color="#ed6569"/><stop offset="0.86" stop-color="#eb5257"/><stop offset="0.91" stop-color="#e94146"/><stop offset="0.96" stop-color="#e73035"/><stop offset="1.00" stop-color="#e72a2f"/></linearGradient><linearGradient id="gB_32"><stop offset="0.00" stop-color="#def1d5"/><stop offset="0.05" stop-color="#cae8bb"/><stop offset="0.10" stop-color="#aad991"/><stop offset="0.14" stop-color="#92cf73"/><stop offset="0.19" stop-color="#83c960"/><stop offset="0.24" stop-color="#7dc657"/><stop offset="0.29" stop-color="#7dc658"/><stop offset="0.33" stop-color="#86ca64"/><stop offset="0.38" stop-color="#98d27a"/><stop offset="0.43" stop-color="#b2dd9c"/><stop offset="0.48" stop-color="#d3ecc6"/><stop offset="0.53" stop-color="#f6fbf3"/><stop offset="0.57" stop-color="#fce5e6"/><stop offset="0.62" stop-color="#f8bfc1"/><stop offset="0.67" stop-color="#f5a3a5"/><stop offset="0.72" stop-color="#f28e91"/><stop offset="0.77" stop-color="#f07a7d"/><stop offset="0.81" stop-color="#ee666a"/><stop offset="0.86" stop-color="#eb5357"/><stop offset="0.91" stop-color="#e94145"/><stop offset="0.96" stop-color="#e73035"/><stop offset="1.00" stop-color="#e72a2f"/></linearGradient><linearGradient id="gB_33"><stop offset="0.00" stop-color="#dff1d5"/><stop offset="0.05" stop-color="#cbe8bc"/><stop offset="0.10" stop-color="#aada92"/><stop offset="0.14" stop-color="#92cf73"/><stop offset="0.19" stop-color="#83c960"/><stop offset="0.24" stop-color="#7cc657"/><stop offset="0.29" stop-color="#7dc658"/><stop offset="0.33" stop-color="#86ca63"/><stop offset="0.38" stop-color="#98d27a"/><stop offset="0.43" stop-color="#b2dd9d"/><stop offset="0.48" stop-color="#d3ecc7"/><stop offset="0.53" stop-color="#f6fbf3"/><stop offset="0.57" stop-color="#fce6e6"/><stop offset="0.62" stop-color="#f8c0c2"/><stop offset="0.67" stop-color="#f5a5a7"/><stop offset="0.72" stop-color="#f29093"/><stop offset="0.77" stop-color="#f07c7f"/><stop offset="0.81" stop-color="#ee676b"/><stop offset="0.86" stop-color="#eb5358"/><stop offset="0.91" stop-color="#e94045"/><stop offset="0.96" stop-color="#e73035"/><stop offset="1.00" stop-color="#e72a2f"/></linearGradient><linearGradient id="gB_34"><stop offset="0.00" stop-color="#dff1d6"/><stop offset="0.05" stop-color="#cbe8bc"/><stop offset="0.10" stop-color="#abda93"/><stop offset="0.14" stop-color="#93d074"/><stop offset="0.19" stop-color="#84c961"/><stop offset="0.24" stop-color="#7dc658"/><stop offset="0.29" stop-color="#7ec659"/><stop offset="0.33" stop-color="#86ca64"/><stop offset="0.38" stop-color="#98d27b"/><stop offset="0.43" stop-color="#b4de9e"/><stop offset="0.48" stop-color="#d5ecc8"/><stop offset="0.53" stop-color="#f7fcf5"/><stop offset="0.57" stop-color="#fce5e6"/><stop offset="0.62" stop-color="#f8c1c3"/><stop offset="0.67" stop-color="#f5a7a9"/><stop offset="0.72" stop-color="#f39295"/><stop offset="0.77" stop-color="#f07e81"/><stop offset="0.81" stop-color="#ee696d"/><stop offset="0.86" stop-color="#ec5458"/><stop offset="0.91" stop-color="#e94045"/><stop offset="0.96" stop-color="#e72f35"/><stop offset="1.00" stop-color="#e72a2f"/></linearGradient><linearGradient id="gB_35"><stop offset="0.00" stop-color="#e0f1d7"/><stop offset="0.05" stop-color="#cce9bd"/><stop offset="0.10" stop-color="#acda94"/><stop offset="0.14" stop-color="#94d076"/><stop offset="0.19" stop-color="#85c963"/><stop offset="0.24" stop-color="#7ec65a"/><stop offset="0.29" stop-color="#7fc75a"/><stop offset="0.33" stop-color="#88cb66"/><stop offset="0.38" stop-color="#9ad27d"/><stop offset="0.43" stop-color="#b5dfa0"/><stop offset="0.48" stop-color="#d7edcb"/><stop offset="0.53" stop-color="#f9fcf7"/><stop offset="0.57" stop-color="#fce4e5"/><stop offset="0.62" stop-color="#f8c1c3"/><stop offset="0.67" stop-color="#f5a8ab"/><stop offset="0.72" stop-color="#f39597"/><stop offset="0.77" stop-color="#f18184"/><stop offset="0.81" stop-color="#ee6b6f"/><stop offset="0.86" stop-color="#ec555a"/><stop offset="0.91" stop-color="#e94146"/><stop offset="0.96" stop-color="#e73035"/><stop offset="1.00" stop-color="#e72a2f"/></linearGradient><linearGradient id="gB_36"><stop offset="0.00" stop-color="#e1f2d8"/><stop offset="0.05" stop-color="#cde9bf"/><stop offset="0.10" stop-color="#aedb96"/><stop offset="0.14" stop-color="#96d179"/><stop offset="0.19" stop-color="#88ca66"/><stop offset="0.24" stop-color="#81c75d"/><stop offset="0.29" stop-color="#81c85d"/><stop offset="0.33" stop-color="#8acc69"/><stop offset="0.38" stop-color="#9cd480"/><stop offset="0.43" stop-color="#b8e0a4"/><stop offset="0.48" stop-color="#d9eece"/><stop offset="0.53" stop-color="#fbfdfa"/><stop offset="0.57" stop-color="#fce3e4"/><stop offset="0.62" stop-color="#f8c2c4"/><stop offset="0.67" stop-color="#f5abad"/><stop offset="0.72" stop-color="#f3989a"/><stop offset="0.77" stop-color="#f18487"/><stop offset="0.81" stop-color="#ef6e72"/><stop offset="0.86" stop-color="#ec585c"/><stop offset="0.91" stop-color="#ea4348"/><stop offset="0.96" stop-color="#e83136"/><stop offset="1.00" stop-color="#e72b31"/></linearGradient><linearGradient id="gB_37"><stop offset="0.00" stop-color="#e2f2da"/><stop offset="0.05" stop-color="#cfeac1"/><stop offset="0.10" stop-color="#b0dc9a"/><stop offset="0.14" stop-color="#9ad27d"/><stop offset="0.19" stop-color="#8bcc6a"/><stop offset="0.24" stop-color="#84c961"/><stop offset="0.29" stop-color="#85c962"/><stop offset="0.33" stop-color="#8dcd6d"/><stop offset="0.38" stop-color="#9fd584"/><stop offset="0.43" stop-color="#bbe1a8"/><stop offset="0.48" stop-color="#dcefd2"/><stop offset="0.53" stop-color="#fcfefc"/><stop offset="0.57" stop-color="#fce3e4"/><stop offset="0.62" stop-color="#f8c4c5"/><stop offset="0.67" stop-color="#f6aeb0"/><stop offset="0.72" stop-color="#f49c9f"/><stop offset="0.77" stop-color="#f2898c"/><stop offset="0.81" stop-color="#ef7376"/><stop offset="0.86" stop-color="#ec5c60"/><stop offset="0.91" stop-color="#ea474b"/><stop offset="0.96" stop-color="#e83439"/><stop offset="1.00" stop-color="#e72e34"/></linearGradient><linearGradient id="gB_38"><stop offset="0.00" stop-color="#e4f3dc"/><stop offset="0.05" stop-color="#d1ebc4"/><stop offset="0.10" stop-color="#b4de9e"/><stop offset="0.14" stop-color="#9ed482"/><stop offset="0.19" stop-color="#90ce70"/><stop offset="0.24" stop-color="#89cb67"/><stop offset="0.29" stop-color="#89cb68"/><stop offset="0.33" stop-color="#92cf73"/><stop offset="0.38" stop-color="#a3d789"/><stop offset="0.43" stop-color="#bee3ac"/><stop offset="0.48" stop-color="#def0d5"/><stop offset="0.53" stop-color="#fdfefd"/><stop offset="0.57" stop-color="#fce4e5"/><stop offset="0.62" stop-color="#f9c7c8"/><stop offset="0.67" stop-color="#f6b2b4"/><stop offset="0.72" stop-color="#f4a1a4"/><stop offset="0.77" stop-color="#f28f92"/><stop offset="0.81" stop-color="#f0797d"/><stop offset="0.86" stop-color="#ed6266"/><stop offset="0.91" stop-color="#eb4c51"/><stop offset="0.96" stop-color="#e93a3f"/><stop offset="1.00" stop-color="#e83339"/></linearGradient><linearGradient id="gB_39"><stop offset="0.00" stop-color="#e5f4de"/><stop offset="0.05" stop-color="#d4ecc8"/><stop offset="0.10" stop-color="#b8e0a4"/><stop offset="0.14" stop-color="#a3d789"/><stop offset="0.19" stop-color="#95d177"/><stop offset="0.24" stop-color="#8fce6f"/><stop offset="0.29" stop-color="#8fce6f"/><stop offset="0.33" stop-color="#97d17a"/><stop offset="0.38" stop-color="#a8d98f"/><stop offset="0.43" stop-color="#c2e4b0"/><stop offset="0.48" stop-color="#e0f1d7"/><stop offset="0.53" stop-color="#fdfefd"/><stop offset="0.57" stop-color="#fce6e7"/><stop offset="0.62" stop-color="#f9cbcc"/><stop offset="0.67" stop-color="#f7b8ba"/><stop offset="0.72" stop-color="#f5a8aa"/><stop offset="0.77" stop-color="#f39699"/><stop offset="0.81" stop-color="#f18184"/><stop offset="0.86" stop-color="#ee6a6e"/><stop offset="0.91" stop-color="#ec5459"/><stop offset="0.96" stop-color="#e94146"/><stop offset="1.00" stop-color="#e93b40"/></linearGradient><linearGradient id="gB_40"><stop offset="0.00" stop-color="#e8f5e1"/><stop offset="0.05" stop-color="#d8eecc"/><stop offset="0.10" stop-color="#bde2ab"/><stop offset="0.14" stop-color="#aad991"/><stop offset="0.19" stop-color="#9cd480"/><stop offset="0.24" stop-color="#96d178"/><stop offset="0.29" stop-color="#96d178"/><stop offset="0.33" stop-color="#9ed482"/><stop offset="0.38" stop-color="#aedb97"/><stop offset="0.43" stop-color="#c6e6b5"/><stop offset="0.48" stop-color="#e2f2d9"/><stop offset="0.53" stop-color="#fdfefc"/><stop offset="0.57" stop-color="#fde9ea"/><stop offset="0.62" stop-color="#fad0d1"/><stop offset="0.67" stop-color="#f8bec0"/><stop offset="0.72" stop-color="#f6b0b2"/><stop offset="0.77" stop-color="#f49fa1"/><stop offset="0.81" stop-color="#f28a8d"/><stop offset="0.86" stop-color="#ef7478"/><stop offset="0.91" stop-color="#ed5e62"/><stop offset="0.96" stop-color="#ea4b50"/><stop offset="1.00" stop-color="#ea4449"/></linearGradient><linearGradient id="gB_41"><stop offset="0.00" stop-color="#eaf6e4"/><stop offset="0.05" stop-color="#dcefd1"/><stop offset="0.10" stop-color="#c3e5b2"/><stop offset="0.14" stop-color="#b1dd9b"/><stop offset="0.19" stop-color="#a4d78a"/><stop offset="0.24" stop-color="#9ed482"/><stop offset="0.29" stop-color="#9ed483"/><stop offset="0.33" stop-color="#a5d88c"/><stop offset="0.38" stop-color="#b4de9f"/><stop offset="0.43" stop-color="#cae8bb"/><stop offset="0.48" stop-color="#e3f3db"/><stop offset="0.53" stop-color="#fcfefb"/><stop offset="0.57" stop-color="#fdeded"/><stop offset="0.62" stop-color="#fad6d7"/><stop offset="0.67" stop-color="#f8c6c7"/><stop offset="0.72" stop-color="#f7b8ba"/><stop offset="0.77" stop-color="#f5a8ab"/><stop offset="0.81" stop-color="#f39597"/><stop offset="0.86" stop-color="#f07f83"/><stop offset="0.91" stop-color="#ee6a6e"/><stop offset="0.96" stop-color="#ec565b"/><stop offset="1.00" stop-color="#eb4f54"/></linearGradient><linearGradient id="gB_42"><stop offset="0.00" stop-color="#edf7e7"/><stop offset="0.05" stop-color="#e0f1d7"/><stop offset="0.10" stop-color="#cae8bb"/><stop offset="0.14" stop-color="#b9e0a5"/><stop offset="0.19" stop-color="#addb96"/><stop offset="0.24" stop-color="#a7d88e"/><stop offset="0.29" stop-color="#a7d88e"/><stop offset="0.33" stop-color="#aedb97"/><stop offset="0.38" stop-color="#bbe1a8"/><stop offset="0.43" stop-color="#ceeac1"/><stop offset="0.48" stop-color="#e5f4dd"/><stop offset="0.53" stop-color="#fbfdfa"/><stop offset="0.57" stop-color="#fdf1f1"/><stop offset="0.62" stop-color="#fbdcdd"/><stop offset="0.67" stop-color="#f9cdcf"/><stop offset="0.72" stop-color="#f8c1c3"/><stop offset="0.77" stop-color="#f6b2b4"/><stop offset="0.81" stop-color="#f4a0a2"/><stop offset="0.86" stop-color="#f28b8e"/><stop offset="0.91" stop-color="#ef777a"/><stop offset="0.96" stop-color="#ed6367"/><stop offset="1.00" stop-color="#ec5c60"/></linearGradient><linearGradient id="gB_43"><stop offset="0.00" stop-color="#eff8eb"/><stop offset="0.05" stop-color="#e4f3dd"/><stop offset="0.10" stop-color="#d1ebc4"/><stop offset="0.14" stop-color="#c2e4b0"/><stop offset="0.19" stop-color="#b7dfa2"/><stop offset="0.24" stop-color="#b1dd9a"/><stop offset="0.29" stop-color="#b1dd9a"/><stop offset="0.33" stop-color="#b7dfa2"/><stop offset="0.38" stop-color="#c3e4b1"/><stop offset="0.43" stop-color="#d3ecc7"/><stop offset="0.48" stop-color="#e7f4e0"/><stop offset="0.53" stop-color="#fafdf9"/><stop offset="0.57" stop-color="#fef5f5"/><stop offset="0.62" stop-color="#fce2e3"/><stop offset="0.67" stop-color="#fad5d6"/><stop offset="0.72" stop-color="#f9cacb"/><stop offset="0.77" stop-color="#f7bdbe"/><stop offset="0.81" stop-color="#f5acae"/><stop offset="0.86" stop-color="#f3989b"/><stop offset="0.91" stop-color="#f18488"/><stop offset="0.96" stop-color="#ef7175"/><stop offset="1.00" stop-color="#ee6a6d"/></linearGradient><linearGradient id="gB_44"><stop offset="0.00" stop-color="#f2f9ef"/><stop offset="0.05" stop-color="#e9f5e3"/><stop offset="0.10" stop-color="#d8eecd"/><stop offset="0.14" stop-color="#cbe8bc"/><stop offset="0.19" stop-color="#c1e4af"/><stop offset="0.24" stop-color="#bbe1a8"/><stop offset="0.29" stop-color="#bbe1a8"/><stop offset="0.33" stop-color="#c0e3af"/><stop offset="0.38" stop-color="#cbe8bc"/><stop offset="0.43" stop-color="#d9eece"/><stop offset="0.48" stop-color="#e9f5e3"/><stop offset="0.53" stop-color="#fafdf8"/><stop offset="0.57" stop-color="#fef9f9"/><stop offset="0.62" stop-color="#fce9e9"/><stop offset="0.67" stop-color="#fbddde"/><stop offset="0.72" stop-color="#fad3d4"/><stop offset="0.77" stop-color="#f9c7c8"/><stop offset="0.81" stop-color="#f7b7b9"/><stop offset="0.86" stop-color="#f5a6a8"/><stop offset="0.91" stop-color="#f39396"/><stop offset="0.96" stop-color="#f18083"/><stop offset="1.00" stop-color="#f0787c"/></linearGradient><linearGradient id="gB_45"><stop offset="0.00" stop-color="#f5fbf3"/><stop offset="0.05" stop-color="#eef7e9"/><stop offset="0.10" stop-color="#e0f1d7"/><stop offset="0.14" stop-color="#d4ecc8"/><stop offset="0.19" stop-color="#cbe8bc"/><stop offset="0.24" stop-color="#c6e6b6"/><stop offset="0.29" stop-color="#c6e6b5"/><stop offset="0.33" stop-color="#cbe8bc"/><stop offset="0.38" stop-color="#d3ecc7"/><stop offset="0.43" stop-color="#dff1d6"/><stop offset="0.48" stop-color="#ecf7e7"/><stop offset="0.53" stop-color="#fafdf8"/><stop offset="0.57" stop-color="#fffcfd"/><stop offset="0.62" stop-color="#fdefef"/><stop offset="0.67" stop-color="#fce4e5"/><stop offset="0.72" stop-color="#fbdbdc"/><stop offset="0.77" stop-color="#fad1d2"/><stop offset="0.81" stop-color="#f8c3c5"/><stop offset="0.86" stop-color="#f6b3b5"/><stop offset="0.91" stop-color="#f4a2a4"/><stop offset="0.96" stop-color="#f28f92"/><stop offset="1.00" stop-color="#f1888b"/></linearGradient><linearGradient id="gB_46"><stop offset="0.00" stop-color="#f8fcf7"/><stop offset="0.05" stop-color="#f3faef"/><stop offset="0.10" stop-color="#e7f5e1"/><stop offset="0.14" stop-color="#ddf0d4"/><stop offset="0.19" stop-color="#d6edca"/><stop offset="0.24" stop-color="#d1ebc4"/><stop offset="0.29" stop-color="#d1ebc4"/><stop offset="0.33" stop-color="#d5edc9"/><stop offset="0.38" stop-color="#dcf0d2"/><stop offset="0.43" stop-color="#e6f4de"/><stop offset="0.48" stop-color="#f0f8ec"/><stop offset="0.53" stop-color="#fafdf9"/><stop offset="0.57" stop-color="#ffffff"/><stop offset="0.62" stop-color="#fef4f4"/><stop offset="0.67" stop-color="#fdebeb"/><stop offset="0.72" stop-color="#fce3e4"/><stop offset="0.77" stop-color="#fbdadb"/><stop offset="0.81" stop-color="#f9cecf"/><stop offset="0.86" stop-color="#f8c1c2"/><stop offset="0.91" stop-color="#f6b1b3"/><stop offset="0.96" stop-color="#f49fa2"/><stop offset="1.00" stop-color="#f3989a"/></linearGradient><linearGradient id="gB_47"><stop offset="0.00" stop-color="#fcfefb"/><stop offset="0.05" stop-color="#f7fcf5"/><stop offset="0.10" stop-color="#eff8ea"/><stop offset="0.14" stop-color="#e7f4e0"/><stop offset="0.19" stop-color="#e1f2d8"/><stop offset="0.24" stop-color="#ddf0d3"/><stop offset="0.29" stop-color="#ddf0d3"/><stop offset="0.33" stop-color="#e0f1d7"/><stop offset="0.38" stop-color="#e6f4de"/><stop offset="0.43" stop-color="#edf7e7"/><stop offset="0.48" stop-color="#f4faf1"/><stop offset="0.53" stop-color="#fcfefb"/><stop offset="0.57" stop-color="#ffffff"/><stop offset="0.62" stop-color="#fef8f8"/><stop offset="0.67" stop-color="#fdf1f1"/><stop offset="0.72" stop-color="#fdeaea"/><stop offset="0.77" stop-color="#fce2e3"/><stop offset="0.81" stop-color="#fbd9da"/><stop offset="0.86" stop-color="#f9cdcf"/><stop offset="0.91" stop-color="#f8c0c1"/><stop offset="0.96" stop-color="#f6afb1"/><stop offset="1.00" stop-color="#f5a8aa"/></linearGradient><linearGradient id="gB_48"><stop offset="0.00" stop-color="#ffffff"/><stop offset="0.05" stop-color="#fcfefb"/><stop offset="0.10" stop-color="#f6fbf3"/><stop offset="0.14" stop-color="#f0f8ec"/><stop offset="0.19" stop-color="#ecf6e6"/><stop offset="0.24" stop-color="#e9f5e3"/><stop offset="0.29" stop-color="#e9f5e3"/><stop offset="0.33" stop-color="#ebf6e6"/><stop offset="0.38" stop-color="#eff8eb"/><stop offset="0.43" stop-color="#f5faf2"/><stop offset="0.48" stop-color="#fafdf8"/><stop offset="0.53" stop-color="#ffffff"/><stop offset="0.57" stop-color="#ffffff"/><stop offset="0.62" stop-color="#fffbfb"/><stop offset="0.67" stop-color="#fef5f5"/><stop offset="0.72" stop-color="#fdefef"/><stop offset="0.77" stop-color="#fce9e9"/><stop offset="0.81" stop-color="#fce2e3"/><stop offset="0.86" stop-color="#fbd9da"/><stop offset="0.91" stop-color="#f9cecf"/><stop offset="0.96" stop-color="#f8bfc1"/><stop offset="1.00" stop-color="#f7b8b9"/></linearGradient><linearGradient id="gB_49"><stop offset="0.00" stop-color="#ffffff"/><stop offset="0.05" stop-color="#ffffff"/><stop offset="0.10" stop-color="#fcfefb"/><stop offset="0.14" stop-color="#f9fcf7"/><stop offset="0.19" stop-color="#f6fbf4"/><stop offset="0.24" stop-color="#f5faf2"/><stop offset="0.29" stop-color="#f5faf2"/><stop offset="0.33" stop-color="#f6fbf4"/><stop offset="0.38" stop-color="#f9fcf7"/><stop offset="0.43" stop-color="#fdfefc"/><stop offset="0.48" stop-color="#ffffff"/><stop offset="0.53" stop-color="#ffffff"/><stop offset="0.57" stop-color="#ffffff"/><stop offset="0.62" stop-color="#fffcfc"/><stop offset="0.67" stop-color="#fef8f8"/><stop offset="0.72" stop-color="#fef3f3"/><stop offset="0.77" stop-color="#fdeeee"/><stop offset="0.81" stop-color="#fdeaea"/><stop offset="0.86" stop-color="#fce4e5"/><stop offset="0.91" stop-color="#fbdbdc"/><stop offset="0.96" stop-color="#f9cecf"/><stop offset="1.00" stop-color="#f9c6c8"/></linearGradient><linearGradient id="gB_50"><stop offset="0.00" stop-color="#ffffff"/><stop offset="0.05" stop-color="#ffffff"/><stop offset="0.10" stop-color="#fcfefb"/><stop offset="0.14" stop-color="#f9fcf7"/><stop offset="0.19" stop-color="#f6fbf4"/><stop offset="0.24" stop-color="#f5faf2"/><stop offset="0.29" stop-color="#f5faf2"/><stop offset="0.33" stop-color="#f6fbf4"/><stop offset="0.38" stop-color="#f9fcf7"/><stop offset="0.43" stop-color="#fdfefc"/><stop offset="0.48" stop-color="#ffffff"/><stop offset="0.53" stop-color="#ffffff"/><stop offset="0.57" stop-color="#ffffff"/><stop offset="0.62" stop-color="#fffcfc"/><stop offset="0.67" stop-color="#fef8f8"/><stop offset="0.72" stop-color="#fef3f3"/><stop offset="0.77" stop-color="#fdeeee"/><stop offset="0.81" stop-color="#fdeaea"/><stop offset="0.86" stop-color="#fce4e5"/><stop offset="0.91" stop-color="#fbdbdc"/><stop offset="0.96" stop-color="#f9cecf"/><stop offset="1.00" stop-color="#f9c6c8"/></linearGradient><linearGradient id="gB_51"><stop offset="0.00" stop-color="#ffffff"/><stop offset="0.05" stop-color="#ffffff"/><stop offset="0.10" stop-color="#fcfefb"/><stop offset="0.14" stop-color="#f9fcf7"/><stop offset="0.19" stop-color="#f6fbf4"/><stop offset="0.24" stop-color="#f5faf2"/><stop offset="0.29" stop-color="#f5faf2"/><stop offset="0.33" stop-color="#f6fbf4"/><stop offset="0.38" stop-color="#f9fcf7"/><stop offset="0.43" stop-color="#fdfefc"/><stop offset="0.48" stop-color="#ffffff"/><stop offset="0.53" stop-color="#ffffff"/><stop offset="0.57" stop-color="#ffffff"/><stop offset="0.62" stop-color="#fffcfc"/><stop offset="0.67" stop-color="#fef8f8"/><stop offset="0.72" stop-color="#fef3f3"/><stop offset="0.77" stop-color="#fdeeee"/><stop offset="0.81" stop-color="#fdeaea"/><stop offset="0.86" stop-color="#fce4e5"/><stop offset="0.91" stop-color="#fbdbdc"/><stop offset="0.96" stop-color="#f9cecf"/><stop offset="1.00" stop-color="#f9c6c8"/></linearGradient><filter id="dotblur" x="-10%" y="-10%" width="120%" height="120%"><feGaussianBlur stdDeviation="0.35"/></filter><radialGradient id="plg0" cx="50%" cy="50%" r="50%"><stop offset="0" stop-color="#bbb4c2"/><stop offset="0.75" stop-color="#b4adbb"/><stop offset="0.93" stop-color="#a7a1ae"/><stop offset="0.975" stop-color="#8a80ad"/><stop offset="1" stop-color="#bfb8cc"/></radialGradient><radialGradient id="plg1" cx="50%" cy="50%" r="50%"><stop offset="0" stop-color="#b9b2bf"/><stop offset="0.75" stop-color="#b2abb8"/><stop offset="0.93" stop-color="#a69fab"/><stop offset="0.975" stop-color="#8a80ad"/><stop offset="1" stop-color="#bfb8cc"/></radialGradient><radialGradient id="plg2" cx="50%" cy="50%" r="50%"><stop offset="0" stop-color="#bcb5c4"/><stop offset="0.75" stop-color="#b5aebc"/><stop offset="0.93" stop-color="#a8a2af"/><stop offset="0.975" stop-color="#8a80ad"/><stop offset="1" stop-color="#bfb8cc"/></radialGradient><radialGradient id="plg3" cx="50%" cy="50%" r="50%"><stop offset="0" stop-color="#c1b7c8"/><stop offset="0.75" stop-color="#bab0c0"/><stop offset="0.93" stop-color="#ada4b3"/><stop offset="0.975" stop-color="#8a80ad"/><stop offset="1" stop-color="#bfb8cc"/></radialGradient><radialGradient id="plg4" cx="50%" cy="50%" r="50%"><stop offset="0" stop-color="#bab3c1"/><stop offset="0.75" stop-color="#b3acba"/><stop offset="0.93" stop-color="#a6a0ad"/><stop offset="0.975" stop-color="#8a80ad"/><stop offset="1" stop-color="#bfb8cc"/></radialGradient><radialGradient id="plg5" cx="50%" cy="50%" r="50%"><stop offset="0" stop-color="#b3adb9"/><stop offset="0.75" stop-color="#aca6b2"/><stop offset="0.93" stop-color="#a09aa6"/><stop offset="0.975" stop-color="#8a80ad"/><stop offset="1" stop-color="#bfb8cc"/></radialGradient><radialGradient id="plg6" cx="50%" cy="50%" r="50%"><stop offset="0" stop-color="#b5afbb"/><stop offset="0.75" stop-color="#aea8b4"/><stop offset="0.93" stop-color="#a29ca7"/><stop offset="0.975" stop-color="#8a80ad"/><stop offset="1" stop-color="#bfb8cc"/></radialGradient><filter id="bb" x="-20%" y="-60%" width="140%" height="220%"><feGaussianBlur stdDeviation="0.8"/></filter><filter id="bb2" x="-20%" y="-60%" width="140%" height="220%"><feGaussianBlur stdDeviation="0.5"/></filter></defs>
<g clip-path="url(#cpA)"><g filter="url(#fbA)"><rect x="56.2" y="53.7" width="186.7" height="5.5" fill="url(#gA_0)"/><rect x="56.2" y="58.7" width="186.7" height="5.5" fill="url(#gA_1)"/><rect x="56.2" y="63.7" width="186.7" height="5.5" fill="url(#gA_2)"/><rect x="56.2" y="68.7" width="186.7" height="5.5" fill="url(#gA_3)"/><rect x="56.2" y="73.7" width="186.7" height="5.5" fill="url(#gA_4)"/><rect x="56.2" y="78.7" width="186.7" height="5.5" fill="url(#gA_5)"/><rect x="56.2" y="83.7" width="186.7" height="5.5" fill="url(#gA_6)"/><rect x="56.2" y="88.7" width="186.7" height="5.5" fill="url(#gA_7)"/><rect x="56.2" y="93.7" width="186.7" height="5.5" fill="url(#gA_8)"/><rect x="56.2" y="98.7" width="186.7" height="5.5" fill="url(#gA_9)"/><rect x="56.2" y="103.7" width="186.7" height="5.5" fill="url(#gA_10)"/><rect x="56.2" y="108.7" width="186.7" height="5.5" fill="url(#gA_11)"/><rect x="56.2" y="113.7" width="186.7" height="5.5" fill="url(#gA_12)"/><rect x="56.2" y="118.7" width="186.7" height="5.5" fill="url(#gA_13)"/><rect x="56.2" y="123.7" width="186.7" height="5.5" fill="url(#gA_14)"/><rect x="56.2" y="128.7" width="186.7" height="5.5" fill="url(#gA_15)"/><rect x="56.2" y="133.7" width="186.7" height="5.5" fill="url(#gA_16)"/><rect x="56.2" y="138.7" width="186.7" height="5.5" fill="url(#gA_17)"/><rect x="56.2" y="143.7" width="186.7" height="5.5" fill="url(#gA_18)"/><rect x="56.2" y="148.7" width="186.7" height="5.5" fill="url(#gA_19)"/><rect x="56.2" y="153.7" width="186.7" height="5.5" fill="url(#gA_20)"/><rect x="56.2" y="158.7" width="186.7" height="5.5" fill="url(#gA_21)"/><rect x="56.2" y="163.7" width="186.7" height="5.5" fill="url(#gA_22)"/><rect x="56.2" y="168.7" width="186.7" height="5.5" fill="url(#gA_23)"/><rect x="56.2" y="173.7" width="186.7" height="5.5" fill="url(#gA_24)"/><rect x="56.2" y="178.7" width="186.7" height="5.5" fill="url(#gA_25)"/><rect x="56.2" y="183.7" width="186.7" height="5.5" fill="url(#gA_26)"/><rect x="56.2" y="188.7" width="186.7" height="5.5" fill="url(#gA_27)"/><rect x="56.2" y="193.7" width="186.7" height="5.5" fill="url(#gA_28)"/><rect x="56.2" y="198.7" width="186.7" height="5.5" fill="url(#gA_29)"/><rect x="56.2" y="203.7" width="186.7" height="5.5" fill="url(#gA_30)"/><rect x="56.2" y="208.7" width="186.7" height="5.5" fill="url(#gA_31)"/><rect x="56.2" y="213.7" width="186.7" height="5.5" fill="url(#gA_32)"/><rect x="56.2" y="218.7" width="186.7" height="5.5" fill="url(#gA_33)"/><rect x="56.2" y="223.7" width="186.7" height="5.5" fill="url(#gA_34)"/><rect x="56.2" y="228.7" width="186.7" height="5.5" fill="url(#gA_35)"/><rect x="56.2" y="233.7" width="186.7" height="5.5" fill="url(#gA_36)"/><rect x="56.2" y="238.7" width="186.7" height="5.5" fill="url(#gA_37)"/><rect x="56.2" y="243.7" width="186.7" height="5.5" fill="url(#gA_38)"/><rect x="56.2" y="248.7" width="186.7" height="5.5" fill="url(#gA_39)"/><rect x="56.2" y="253.7" width="186.7" height="5.5" fill="url(#gA_40)"/><rect x="56.2" y="258.7" width="186.7" height="5.5" fill="url(#gA_41)"/><rect x="56.2" y="263.7" width="186.7" height="5.5" fill="url(#gA_42)"/><rect x="56.2" y="268.7" width="186.7" height="5.5" fill="url(#gA_43)"/><rect x="56.2" y="273.7" width="186.7" height="5.5" fill="url(#gA_44)"/><rect x="56.2" y="278.7" width="186.7" height="5.5" fill="url(#gA_45)"/><rect x="56.2" y="283.7" width="186.7" height="5.5" fill="url(#gA_46)"/><rect x="56.2" y="288.7" width="186.7" height="5.5" fill="url(#gA_47)"/><rect x="56.2" y="293.7" width="186.7" height="5.5" fill="url(#gA_48)"/><rect x="56.2" y="298.7" width="186.7" height="5.5" fill="url(#gA_49)"/><rect x="56.2" y="303.7" width="186.7" height="5.5" fill="url(#gA_50)"/><rect x="56.2" y="308.7" width="186.7" height="5.5" fill="url(#gA_51)"/></g><path d="M108.4,214.7 L110.4,212.7 L111.8,210.8 L112.9,208.9 L114.4,205.1 L115.0,203.1 L116.0,199.2 L116.4,197.3 L117.0,193.4 L117.5,189.6 L117.9,185.7 L118.1,183.8 L118.4,179.9 L118.6,176.1 L118.7,172.2 L118.6,168.3 L118.4,164.5 L118.0,161.5 L117.6,158.7 L116.6,154.8 L115.9,152.9 L114.4,149.5 L112.9,147.1 L111.2,145.2 L109.0,143.3 L107.2,142.4 L103.6,141.4 L100.0,141.7 L96.4,143.1 L94.6,144.3 L92.8,145.7 L91.0,147.6 L89.2,150.0 L87.5,152.9 L86.7,154.8 L85.6,158.1 L85.0,160.6 L84.6,164.5 L84.4,168.3 L84.5,172.2 L84.8,176.1 L85.2,179.9 L85.6,183.0 L86.0,185.7 L86.6,189.6 L87.3,193.4 L87.7,195.4 L88.7,199.2 L89.2,201.2 L90.6,205.0 L91.5,206.9 L92.8,209.3 L94.6,211.8 L96.4,213.6 L98.2,215.0 L101.8,216.4 L105.4,216.2 L108.4,214.7 M110.9,235.9 L114.2,234.0 L116.2,232.2 L118.0,230.1 L119.3,228.2 L120.4,226.3 L121.6,223.8 L122.9,220.5 L123.6,218.5 L124.6,214.7 L125.2,211.8 L125.8,208.9 L126.4,205.0 L126.9,201.2 L127.1,199.2 L127.5,195.4 L127.8,191.5 L128.1,187.6 L128.3,183.8 L128.5,179.9 L128.6,176.1 L128.6,172.2 L128.5,168.3 L128.3,164.5 L127.9,160.6 L127.4,156.8 L127.0,154.8 L126.2,151.0 L125.2,147.2 L124.6,145.2 L123.4,142.2 L122.1,139.4 L121.0,137.5 L119.8,135.5 L118.0,133.4 L116.2,131.6 L113.9,129.7 L110.8,127.9 L109.0,127.1 L105.4,125.9 L103.6,125.5 L100.0,125.3 L96.4,125.5 L94.5,125.9 L91.0,127.0 L89.2,127.9 L86.3,129.7 L83.9,131.7 L82.0,133.5 L80.3,135.5 L78.8,137.5 L77.5,139.4 L76.3,141.3 L74.8,144.3 L73.6,147.1 L72.9,149.0 L71.7,152.9 L71.2,155.4 L70.7,158.7 L70.4,162.6 L70.3,166.4 L70.4,170.3 L70.6,174.1 L71.0,178.0 L71.2,179.9 L71.7,183.8 L72.1,187.6 L72.6,191.5 L73.0,194.4 L73.4,197.3 L74.1,201.2 L74.8,205.0 L75.2,206.9 L76.3,210.8 L76.9,212.7 L78.3,216.6 L79.2,218.5 L80.2,220.6 L82.0,223.6 L83.8,226.1 L85.6,228.2 L87.4,230.1 L89.2,231.6 L91.0,232.9 L92.8,234.0 L96.4,235.8 L98.2,236.4 L101.8,237.2 L105.4,237.3 L109.0,236.6 L110.9,235.9 M238.7,297.2 L235.1,295.9 L233.3,295.3 L229.7,294.0 L227.9,293.4 L224.3,292.3 L222.5,291.9 L218.9,291.0 L215.3,290.4 L212.9,289.9 L209.9,289.5 L206.3,289.0 L202.7,288.4 L200.3,288.0 L197.3,287.4 L193.7,286.5 L191.9,285.9 L188.3,284.5 L186.5,283.7 L183.7,282.2 L181.1,280.7 L179.3,279.7 L177.1,278.4 L173.9,276.6 L172.1,275.7 L169.2,274.5 L166.7,273.6 L163.6,272.6 L161.3,271.8 L158.0,270.6 L155.9,269.8 L153.9,268.7 L151.1,266.8 L149.0,264.9 L147.4,262.9 L146.1,261.0 L145.0,259.0 L143.4,255.2 L142.8,253.3 L141.8,249.4 L141.4,247.5 L140.8,243.6 L140.4,239.8 L140.2,235.9 L140.1,232.0 L140.1,228.2 L140.2,224.3 L140.3,220.5 L140.6,216.6 L140.8,212.7 L141.1,208.9 L141.4,205.1 L141.6,203.1 L142.0,199.2 L142.3,195.4 L142.6,191.5 L142.8,187.6 L142.8,183.8 L142.8,179.9 L142.6,176.1 L142.2,172.2 L141.8,168.3 L141.4,165.8 L140.9,162.6 L140.2,158.7 L139.6,156.0 L138.9,152.9 L138.0,149.0 L137.4,147.1 L136.3,143.2 L135.7,141.3 L134.5,137.5 L133.8,135.5 L132.4,132.1 L131.4,129.7 L130.4,127.8 L128.8,125.0 L127.0,122.4 L125.2,120.3 L123.4,118.4 L121.6,116.8 L119.8,115.3 L118.0,114.0 L115.6,112.4 L112.6,110.5 L110.8,109.4 L109.0,108.4 L105.9,106.6 L103.6,105.3 L101.8,104.2 L99.2,102.7 L96.4,100.9 L94.6,99.7 L92.8,98.4 L91.0,96.9 L88.9,95.0 L87.0,93.1 L85.3,91.1 L83.7,89.2 L82.0,86.9 L80.2,84.2 L78.4,81.5 L77.2,79.6 L75.9,77.6 L74.7,75.7 L73.0,73.2 L71.2,70.6 M238.7,285.3 L236.5,284.2 L233.3,282.6 L231.5,281.8 L227.9,280.3 L226.1,279.7 L222.5,278.5 L220.7,277.9 L217.1,276.7 L215.3,276.2 L211.7,275.0 L209.9,274.4 L206.3,273.1 L204.5,272.3 L201.0,270.6 L199.1,269.6 L197.3,268.6 L194.6,266.8 L191.9,264.9 L190.1,263.4 L188.3,262.1 L186.5,260.7 L184.2,259.1 L181.3,257.1 L179.3,255.9 L177.5,254.9 L173.9,253.3 L172.1,252.5 L168.5,251.4 L166.7,250.9 L163.1,249.7 L161.3,249.0 L158.4,247.5 L155.9,245.6 L154.1,243.6 L152.7,241.7 L151.7,239.8 L150.5,237.0 L149.5,234.0 L148.7,230.1 L148.4,228.2 L148.0,224.3 L147.7,220.5 L147.7,216.6 L147.8,212.7 L148.0,208.9 L148.4,205.0 L148.6,202.1 L149.0,199.2 L149.3,195.4 L149.6,191.5 L149.7,187.6 L149.5,183.8 L149.2,179.9 L148.6,176.3 L148.3,174.1 L147.6,170.3 L146.8,166.7 L146.4,164.5 L145.4,160.6 L144.9,158.7 L143.9,154.8 L143.2,152.5 L142.2,149.0 L141.4,146.5 L140.4,143.2 L139.6,140.8 L138.5,137.5 L137.8,135.4 L136.5,131.7 L135.7,129.7 L134.2,126.4 L133.0,123.9 L131.9,122.0 L130.6,120.0 L128.8,117.6 L127.0,115.5 L125.2,113.7 L123.4,112.0 L121.5,110.4 L118.9,108.5 L116.2,106.6 L114.4,105.4 L112.6,104.1 L110.6,102.7 L107.8,100.8 L105.4,99.0 L103.6,97.5 L101.8,96.0 L100.0,94.4 L98.2,92.7 L96.4,90.8 L94.6,88.7 L92.8,86.3 L91.0,83.8 L89.5,81.5 L88.4,79.6 L87.2,77.6 L85.6,74.8 L83.9,71.8 L82.7,69.9 M238.7,273.4 L236.9,272.3 L233.7,270.6 L231.5,269.6 L229.7,268.7 L226.1,267.0 L224.3,266.1 L221.7,264.9 L218.9,263.3 L217.1,262.3 L214.9,261.0 L212.1,259.1 L209.9,257.4 L208.1,255.9 L206.3,254.3 L204.5,252.7 L202.7,250.9 L200.9,249.0 L199.1,247.2 L197.3,245.3 L195.5,243.5 L193.6,241.7 L191.5,239.8 L189.4,237.8 L187.3,235.9 L185.2,234.0 L183.2,232.0 L181.3,230.1 L179.6,228.2 L178.1,226.3 L176.6,224.3 L175.4,222.4 L173.9,219.5 L172.6,216.6 L172.1,214.7 L171.7,210.8 L172.1,207.2 L172.4,205.0 L172.9,201.2 L172.8,197.3 L172.1,194.6 L170.3,191.5 L168.5,189.6 L166.7,187.7 L164.9,185.9 L163.1,183.8 L161.6,181.9 L160.3,179.9 L159.1,178.0 L157.7,175.5 L156.1,172.2 L155.2,170.3 L154.1,167.7 L152.8,164.5 L152.0,162.6 L150.6,158.7 L149.8,156.8 L148.6,153.6 L147.7,151.0 L146.8,148.8 L145.5,145.2 L144.8,143.2 L143.5,139.4 L142.8,137.5 L141.4,133.7 L140.7,131.7 L139.6,128.9 L138.4,125.9 L137.6,123.9 L136.0,120.7 L134.7,118.2 L133.4,116.2 L132.1,114.3 L130.6,112.4 L128.8,110.4 L126.8,108.5 L124.6,106.6 L122.2,104.6 L119.8,102.9 L118.0,101.5 L116.2,100.1 L114.4,98.7 L112.3,96.9 L110.1,95.0 L108.0,93.1 L106.1,91.1 L104.4,89.2 L102.8,87.3 L101.4,85.3 L100.0,83.3 L98.2,80.3 L96.8,77.6 L95.9,75.7 L94.6,72.9 L93.4,69.9 M238.7,260.2 L236.7,259.1 L233.4,257.1 L231.5,256.0 L229.7,254.8 L227.5,253.3 L225.0,251.3 L222.8,249.4 L220.8,247.5 L219.1,245.6 L217.5,243.6 L216.1,241.7 L214.8,239.8 L213.5,237.8 L211.7,234.8 L210.0,232.0 L208.8,230.1 L207.6,228.2 L206.3,226.1 L204.5,223.1 L202.9,220.5 L202.0,218.5 L200.9,215.3 L200.5,212.7 L200.9,208.9 L201.3,206.9 L202.4,203.1 L202.9,201.2 L203.5,197.3 L203.5,193.4 L202.7,189.6 L201.9,187.6 L200.7,185.7 L199.1,183.8 L196.9,181.9 L194.0,179.9 L191.9,178.8 L190.1,178.0 L186.5,176.5 L184.7,175.8 L181.1,174.5 L179.3,173.9 L175.7,172.5 L173.9,171.7 L171.0,170.3 L168.5,168.8 L166.7,167.5 L164.9,166.1 L163.1,164.3 L161.3,162.2 L159.5,159.8 L157.7,157.1 L156.3,154.8 L155.2,152.9 L154.1,150.9 L152.3,147.5 L151.1,145.2 L150.2,143.2 L148.6,139.9 L147.7,137.5 L146.8,135.5 L145.4,131.7 L144.6,129.7 L143.2,126.1 L142.4,123.9 L141.4,121.5 L140.0,118.2 L139.1,116.2 L137.8,114.0 L136.0,111.1 L134.2,108.7 L132.4,106.6 L130.6,104.8 L128.8,103.1 L127.0,101.6 L125.2,100.1 L123.4,98.7 L121.3,96.9 L119.0,95.0 L116.9,93.1 L114.9,91.1 L113.2,89.2 L111.6,87.3 L110.2,85.3 L108.9,83.4 L107.2,80.2 L106.2,77.6 L105.4,75.1 L104.9,71.8 M238.7,242.2 L236.9,240.2 L235.3,237.8 L234.2,235.9 L233.3,233.5 L232.4,230.1 L231.9,226.3 L231.8,222.4 L231.9,218.5 L232.1,214.7 L232.4,210.8 L232.7,206.9 L233.0,203.1 L233.2,199.2 L233.1,195.4 L232.5,191.5 L231.5,188.7 L229.9,185.7 L228.4,183.8 L226.7,181.9 L224.7,179.9 L222.5,178.0 L220.7,176.6 L218.9,175.3 L217.1,174.1 L213.9,172.2 L211.7,171.1 L209.9,170.3 L206.3,168.8 L204.5,168.2 L200.9,167.0 L198.9,166.4 L195.5,165.4 L191.9,164.5 L190.1,164.0 L186.5,163.0 L184.7,162.4 L181.1,161.1 L179.3,160.3 L176.0,158.7 L173.9,157.4 L172.1,156.2 L170.2,154.8 L168.0,152.9 L165.9,151.0 L164.1,149.0 L162.3,147.1 L160.6,145.2 L159.0,143.2 L157.5,141.3 L155.9,139.0 L154.1,136.2 L152.6,133.6 L151.6,131.7 L150.5,129.4 L149.0,125.9 L148.2,123.9 L146.8,120.3 L146.1,118.2 L145.0,115.5 L143.7,112.4 L142.8,110.4 L141.4,107.8 L139.6,105.0 L137.9,102.7 L136.2,100.8 L134.2,98.9 L132.4,97.3 L130.6,95.9 L128.8,94.4 L127.0,93.0 L124.9,91.1 L122.9,89.2 L121.2,87.3 L119.7,85.3 L118.0,82.4 L116.9,79.6 L116.6,75.7 L118.0,72.1 L119.8,70.4 M238.7,156.0 L236.1,154.8 L233.3,153.7 L230.7,152.9 L227.9,152.2 L224.3,151.6 L220.7,151.2 L218.5,151.0 L215.3,150.7 L211.7,150.4 L208.1,150.1 L204.5,149.7 L200.9,149.1 L199.1,148.6 L195.5,147.5 L193.7,146.8 L190.6,145.2 L188.3,143.5 L186.5,141.9 L184.7,140.1 L182.9,137.9 L181.1,135.6 L179.5,133.6 L177.9,131.7 L175.9,129.7 L173.9,128.3 L172.1,127.4 L168.5,126.4 L166.2,125.9 L163.1,124.6 L161.3,123.4 L159.5,121.6 L157.7,119.2 L156.0,116.2 L155.2,114.3 L154.1,111.4 L153.1,108.5 L152.3,106.1 L151.1,102.7 L150.4,100.8 L148.8,96.9 L147.7,95.0 L146.4,93.1 L144.7,91.1 L142.5,89.2 L139.9,87.3 L137.8,85.8 L136.0,84.4 L134.2,82.6 L132.7,79.6 L133.4,75.7 L134.6,73.8 L136.0,71.7 M238.7,98.6 L236.9,99.7 L234.3,100.8 L231.5,101.6 L227.9,102.0 L224.3,101.7 L220.9,100.8 L218.9,99.9 L216.8,98.9 L213.8,96.9 L211.7,95.4 L209.9,94.0 L208.1,92.6 L206.1,91.1 L203.4,89.2 L200.9,87.6 L199.1,86.5 L196.6,85.3 L193.7,84.2 L191.1,83.4 L188.3,82.7 L184.7,81.6 L182.9,80.8 L180.5,79.6 L178.1,77.6 L176.3,75.7 L174.8,73.8 L173.5,71.8 L171.8,69.9" stroke="#fff" stroke-opacity="0.75" stroke-width="0.7" fill="none"/></g><line x1="60.4" y1="63.7" x2="60.4" y2="300.3" stroke="#000" stroke-width="0.6" stroke-opacity="0.17"/><line x1="105.5" y1="63.7" x2="105.5" y2="300.3" stroke="#000" stroke-width="0.6" stroke-opacity="0.17"/><line x1="149.4" y1="63.7" x2="149.4" y2="300.3" stroke="#000" stroke-width="0.6" stroke-opacity="0.17"/><line x1="194.8" y1="63.7" x2="194.8" y2="300.3" stroke="#000" stroke-width="0.6" stroke-opacity="0.17"/><line x1="238.7" y1="63.7" x2="238.7" y2="300.3" stroke="#000" stroke-width="0.6" stroke-opacity="0.17"/><line x1="56.2" y1="69.9" x2="242.9" y2="69.9" stroke="#000" stroke-width="0.6" stroke-opacity="0.17"/><line x1="56.2" y1="127.3" x2="242.9" y2="127.3" stroke="#000" stroke-width="0.6" stroke-opacity="0.17"/><line x1="56.2" y1="185" x2="242.9" y2="185" stroke="#000" stroke-width="0.6" stroke-opacity="0.17"/><line x1="56.2" y1="242.4" x2="242.9" y2="242.4" stroke="#000" stroke-width="0.6" stroke-opacity="0.17"/><line x1="56.2" y1="299.6" x2="242.9" y2="299.6" stroke="#000" stroke-width="0.6" stroke-opacity="0.17"/><rect x="149.4" y="69.9" width="89.3" height="115.1" fill="#400" fill-opacity="0.1" stroke="#d8d8d8" stroke-width="1.1"/><line x1="49.5" y1="69.9" x2="51.7" y2="69.9" stroke="#333" stroke-width="0.9"/><line x1="49.5" y1="127.3" x2="51.7" y2="127.3" stroke="#333" stroke-width="0.9"/><line x1="49.5" y1="185" x2="51.7" y2="185" stroke="#333" stroke-width="0.9"/><line x1="49.5" y1="242.4" x2="51.7" y2="242.4" stroke="#333" stroke-width="0.9"/><line x1="49.5" y1="299.6" x2="51.7" y2="299.6" stroke="#333" stroke-width="0.9"/><line x1="60.4" y1="304.3" x2="60.4" y2="306.5" stroke="#333" stroke-width="0.9"/><line x1="105.5" y1="304.3" x2="105.5" y2="306.5" stroke="#333" stroke-width="0.9"/><line x1="149.4" y1="304.3" x2="149.4" y2="306.5" stroke="#333" stroke-width="0.9"/><line x1="194.8" y1="304.3" x2="194.8" y2="306.5" stroke="#333" stroke-width="0.9"/><line x1="238.7" y1="304.3" x2="238.7" y2="306.5" stroke="#333" stroke-width="0.9"/><text x="2" y="15" font-size="17" font-family='"Liberation Serif",serif'>A</text><text x="142.5" y="12.6" font-size="11.8" text-anchor="middle" textLength="69.7" lengthAdjust="spacingAndGlyphs">H446/cDDP</text><text x="147.75" y="27.6" font-size="11.8" text-anchor="middle" textLength="181.3" lengthAdjust="spacingAndGlyphs">Loewe synergy score: 13.703</text><rect x="61.4" y="51.4" width="10.73" height="3.4" fill="#50b21e"/><rect x="155.7" y="51.4" width="10.73" height="3.4" fill="#fce5e5"/><rect x="71.83" y="51.4" width="10.73" height="3.4" fill="#66bc3b"/><rect x="166.12" y="51.4" width="10.73" height="3.4" fill="#f9c6c8"/><rect x="82.25" y="51.4" width="10.73" height="3.4" fill="#7cc657"/><rect x="176.55" y="51.4" width="10.73" height="3.4" fill="#f5a8ab"/><rect x="92.67" y="51.4" width="10.73" height="3.4" fill="#93cf74"/><rect x="186.97" y="51.4" width="10.73" height="3.4" fill="#f28a8d"/><rect x="103.1" y="51.4" width="10.73" height="3.4" fill="#a9d990"/><rect x="197.4" y="51.4" width="10.73" height="3.4" fill="#ee6c70"/><rect x="113.53" y="51.4" width="10.73" height="3.4" fill="#bfe3ad"/><rect x="207.82" y="51.4" width="10.73" height="3.4" fill="#eb4e53"/><rect x="123.95" y="51.4" width="10.73" height="3.4" fill="#d5edc9"/><rect x="218.25" y="51.4" width="10.73" height="3.4" fill="#e73035"/><rect x="134.38" y="51.4" width="10.73" height="3.4" fill="#ebf6e6"/><rect x="228.68" y="51.4" width="10.73" height="3.4" fill="#e41218"/><text x="64.2" y="47.3" font-size="11" font-weight="400" text-anchor="middle">−40</text><text x="107.4" y="47.3" font-size="11" font-weight="400" text-anchor="middle">−20</text><text x="147.3" y="47.3" font-size="11" font-weight="400" text-anchor="middle">0</text><text x="191.2" y="47.3" font-size="11" font-weight="400" text-anchor="middle">20</text><text x="233.7" y="47.3" font-size="11" font-weight="400" text-anchor="middle">40</text><text stroke="#000" stroke-width="0.3" x="51.1" y="74.9" font-size="13.6" font-weight="400" text-anchor="end">50</text><text stroke="#000" stroke-width="0.3" x="51.1" y="132.3" font-size="13.6" font-weight="400" text-anchor="end">25</text><text stroke="#000" stroke-width="0.3" x="51.1" y="190" font-size="13.6" font-weight="400" text-anchor="end">12.5</text><text stroke="#000" stroke-width="0.3" x="51.1" y="247.4" font-size="13.6" font-weight="400" text-anchor="end">100</text><text stroke="#000" stroke-width="0.3" x="51.1" y="304.6" font-size="13.6" font-weight="400" text-anchor="end">0</text><text stroke="#000" stroke-width="0.3" x="60.4" y="323.6" font-size="14" font-weight="400" text-anchor="middle">0</text><text stroke="#000" stroke-width="0.3" x="105.5" y="323.6" font-size="14" font-weight="400" text-anchor="middle">20</text><text stroke="#000" stroke-width="0.3" x="149.4" y="323.6" font-size="14" font-weight="400" text-anchor="middle">40</text><text stroke="#000" stroke-width="0.3" x="194.8" y="323.6" font-size="14" font-weight="400" text-anchor="middle">80</text><text stroke="#000" stroke-width="0.3" x="238.7" y="323.6" font-size="14" font-weight="400" text-anchor="middle">160</text><text x="145" y="339.2" font-size="13.3" text-anchor="middle" textLength="111.5" lengthAdjust="spacingAndGlyphs">Venetoclax ( μM )</text><text transform="translate(17.7,172.9) rotate(-90)" font-size="13.3" text-anchor="middle">HCQ ( μM )</text><g clip-path="url(#cpB)"><g filter="url(#fbB)"><rect x="305.5" y="51.7" width="188.1" height="5.5" fill="url(#gB_0)"/><rect x="305.5" y="56.7" width="188.1" height="5.5" fill="url(#gB_1)"/><rect x="305.5" y="61.7" width="188.1" height="5.5" fill="url(#gB_2)"/><rect x="305.5" y="66.7" width="188.1" height="5.5" fill="url(#gB_3)"/><rect x="305.5" y="71.7" width="188.1" height="5.5" fill="url(#gB_4)"/><rect x="305.5" y="76.7" width="188.1" height="5.5" fill="url(#gB_5)"/><rect x="305.5" y="81.7" width="188.1" height="5.5" fill="url(#gB_6)"/><rect x="305.5" y="86.7" width="188.1" height="5.5" fill="url(#gB_7)"/><rect x="305.5" y="91.7" width="188.1" height="5.5" fill="url(#gB_8)"/><rect x="305.5" y="96.7" width="188.1" height="5.5" fill="url(#gB_9)"/><rect x="305.5" y="101.7" width="188.1" height="5.5" fill="url(#gB_10)"/><rect x="305.5" y="106.7" width="188.1" height="5.5" fill="url(#gB_11)"/><rect x="305.5" y="111.7" width="188.1" height="5.5" fill="url(#gB_12)"/><rect x="305.5" y="116.7" width="188.1" height="5.5" fill="url(#gB_13)"/><rect x="305.5" y="121.7" width="188.1" height="5.5" fill="url(#gB_14)"/><rect x="305.5" y="126.7" width="188.1" height="5.5" fill="url(#gB_15)"/><rect x="305.5" y="131.7" width="188.1" height="5.5" fill="url(#gB_16)"/><rect x="305.5" y="136.7" width="188.1" height="5.5" fill="url(#gB_17)"/><rect x="305.5" y="141.7" width="188.1" height="5.5" fill="url(#gB_18)"/><rect x="305.5" y="146.7" width="188.1" height="5.5" fill="url(#gB_19)"/><rect x="305.5" y="151.7" width="188.1" height="5.5" fill="url(#gB_20)"/><rect x="305.5" y="156.7" width="188.1" height="5.5" fill="url(#gB_21)"/><rect x="305.5" y="161.7" width="188.1" height="5.5" fill="url(#gB_22)"/><rect x="305.5" y="166.7" width="188.1" height="5.5" fill="url(#gB_23)"/><rect x="305.5" y="171.7" width="188.1" height="5.5" fill="url(#gB_24)"/><rect x="305.5" y="176.7" width="188.1" height="5.5" fill="url(#gB_25)"/><rect x="305.5" y="181.7" width="188.1" height="5.5" fill="url(#gB_26)"/><rect x="305.5" y="186.7" width="188.1" height="5.5" fill="url(#gB_27)"/><rect x="305.5" y="191.7" width="188.1" height="5.5" fill="url(#gB_28)"/><rect x="305.5" y="196.7" width="188.1" height="5.5" fill="url(#gB_29)"/><rect x="305.5" y="201.7" width="188.1" height="5.5" fill="url(#gB_30)"/><rect x="305.5" y="206.7" width="188.1" height="5.5" fill="url(#gB_31)"/><rect x="305.5" y="211.7" width="188.1" height="5.5" fill="url(#gB_32)"/><rect x="305.5" y="216.7" width="188.1" height="5.5" fill="url(#gB_33)"/><rect x="305.5" y="221.7" width="188.1" height="5.5" fill="url(#gB_34)"/><rect x="305.5" y="226.7" width="188.1" height="5.5" fill="url(#gB_35)"/><rect x="305.5" y="231.7" width="188.1" height="5.5" fill="url(#gB_36)"/><rect x="305.5" y="236.7" width="188.1" height="5.5" fill="url(#gB_37)"/><rect x="305.5" y="241.7" width="188.1" height="5.5" fill="url(#gB_38)"/><rect x="305.5" y="246.7" width="188.1" height="5.5" fill="url(#gB_39)"/><rect x="305.5" y="251.7" width="188.1" height="5.5" fill="url(#gB_40)"/><rect x="305.5" y="256.7" width="188.1" height="5.5" fill="url(#gB_41)"/><rect x="305.5" y="261.7" width="188.1" height="5.5" fill="url(#gB_42)"/><rect x="305.5" y="266.7" width="188.1" height="5.5" fill="url(#gB_43)"/><rect x="305.5" y="271.7" width="188.1" height="5.5" fill="url(#gB_44)"/><rect x="305.5" y="276.7" width="188.1" height="5.5" fill="url(#gB_45)"/><rect x="305.5" y="281.7" width="188.1" height="5.5" fill="url(#gB_46)"/><rect x="305.5" y="286.7" width="188.1" height="5.5" fill="url(#gB_47)"/><rect x="305.5" y="291.7" width="188.1" height="5.5" fill="url(#gB_48)"/><rect x="305.5" y="296.7" width="188.1" height="5.5" fill="url(#gB_49)"/><rect x="305.5" y="301.7" width="188.1" height="5.5" fill="url(#gB_50)"/><rect x="305.5" y="306.7" width="188.1" height="5.5" fill="url(#gB_51)"/></g><path d="M356.0,233.0 L358.8,231.4 L360.6,229.1 L361.5,227.1 L362.4,224.2 L362.8,221.3 L362.9,217.4 L362.5,213.6 L362.0,211.6 L360.6,207.9 L359.3,205.8 L357.7,203.8 L355.2,202.1 L353.4,201.7 L351.6,202.0 L349.0,203.8 L347.7,205.8 L346.2,209.7 L345.8,211.6 L345.4,215.5 L345.3,219.4 L345.8,223.3 L346.2,225.2 L347.9,229.1 L349.4,231.0 L351.6,232.6 L353.4,233.2 L356.0,233.0 M355.7,252.4 L358.8,251.9 L362.4,250.4 L364.2,249.3 L366.0,247.8 L367.9,245.8 L369.7,243.3 L371.0,240.7 L371.9,238.8 L373.2,234.9 L373.7,233.0 L374.5,229.1 L375.0,225.2 L375.2,223.3 L375.4,219.4 L375.4,215.5 L375.2,211.6 L375.0,209.7 L374.4,205.8 L373.6,201.9 L373.1,200.0 L372.0,196.1 L371.3,194.1 L369.7,190.3 L368.6,188.3 L367.6,186.4 L366.0,183.9 L364.2,181.3 L362.4,179.0 L360.6,176.8 L358.8,174.8 L357.0,173.0 L355.2,171.3 L353.4,169.9 L351.6,168.8 L347.9,167.8 L344.3,168.6 L342.5,169.8 L340.7,171.7 L338.9,174.3 L337.7,176.7 L336.8,178.6 L335.5,182.5 L334.9,184.4 L334.1,188.3 L333.4,192.1 L333.2,194.1 L332.8,198.0 L332.6,201.9 L332.4,205.8 L332.3,209.7 L332.3,213.6 L332.4,217.4 L332.5,221.3 L332.8,225.2 L333.3,229.1 L333.7,231.0 L334.6,234.9 L335.3,236.9 L337.0,240.7 L338.1,242.7 L339.5,244.6 L341.2,246.6 L343.4,248.5 L346.1,250.3 L347.9,251.1 L351.6,252.2 L353.4,252.4 L355.7,252.4 M358.5,269.9 L360.6,269.5 L364.2,268.5 L366.0,267.7 L369.2,266.0 L371.5,264.4 L373.3,262.8 L375.1,260.8 L376.9,258.3 L378.1,256.3 L379.1,254.3 L380.5,250.9 L381.4,248.5 L382.3,245.2 L383.0,242.7 L383.8,238.8 L384.2,236.9 L384.9,233.0 L385.4,229.1 L385.9,225.2 L386.0,223.3 L386.3,219.4 L386.4,215.5 L386.3,211.6 L386.0,207.9 L385.7,205.8 L385.1,201.9 L384.4,198.0 L384.0,196.1 L383.0,192.2 L382.3,189.8 L381.3,186.4 L380.5,184.2 L379.1,180.5 L378.3,178.6 L376.9,175.4 L375.7,172.8 L374.7,170.8 L373.3,168.0 L371.8,165.0 L370.8,163.1 L369.7,160.6 L368.1,157.2 L367.2,155.3 L366.0,152.5 L364.7,149.5 L363.8,147.5 L362.4,144.9 L360.6,142.1 L358.8,140.0 L357.0,138.4 L355.2,137.3 L351.6,136.0 L349.7,135.8 L347.0,135.9 L344.3,136.4 L340.8,137.8 L338.9,139.0 L337.1,140.3 L335.3,142.0 L333.4,144.1 L331.6,146.6 L329.9,149.5 L328.9,151.4 L328.0,153.4 L326.5,157.2 L325.8,159.2 L324.7,163.1 L324.1,165.0 L323.3,168.9 L322.6,172.4 L322.2,174.7 L321.7,178.6 L321.3,182.5 L321.0,186.4 L320.8,190.2 L320.8,192.2 L320.7,196.1 L320.7,200.0 L320.8,203.8 L320.8,205.8 L320.9,209.7 L321.0,213.6 L321.1,217.4 L321.2,221.3 L321.4,225.2 L321.6,229.1 L322.0,233.0 L322.5,236.9 L322.9,238.8 L323.8,242.7 L324.4,244.9 L325.7,248.5 L326.5,250.4 L328.0,253.4 L329.8,256.3 L331.3,258.2 L332.9,260.2 L334.9,262.1 L337.1,263.9 L338.9,265.2 L340.7,266.3 L344.1,267.9 L346.1,268.7 L349.7,269.6 L351.6,269.9 L355.2,270.1 L358.5,269.9 M363.5,285.4 L366.0,284.9 L369.7,283.9 L371.5,283.2 L375.1,281.7 L376.9,280.7 L378.7,279.5 L381.1,277.6 L383.1,275.7 L384.7,273.8 L386.0,271.8 L387.8,268.3 L388.7,266.0 L389.6,263.3 L390.4,260.2 L391.2,256.3 L391.6,254.3 L392.2,250.4 L392.8,246.6 L393.2,243.2 L393.5,240.7 L394.1,236.9 L394.6,233.0 L395.0,229.9 L395.4,227.1 L395.8,223.3 L396.0,219.4 L396.2,215.5 L396.1,211.6 L395.8,207.7 L395.3,203.8 L395.0,201.9 L394.2,198.0 L393.3,194.1 L392.9,192.2 L391.8,188.3 L391.3,186.4 L390.1,182.5 L389.5,180.5 L388.2,176.7 L387.6,174.7 L386.1,170.8 L385.4,168.9 L384.2,165.8 L383.1,163.1 L382.3,161.1 L380.8,157.2 L380.1,155.3 L378.8,151.4 L378.3,149.5 L377.2,145.6 L376.6,143.6 L375.5,139.8 L374.9,137.8 L373.6,133.9 L372.8,132.0 L371.5,129.2 L369.7,126.4 L367.9,124.2 L366.0,122.5 L364.2,121.2 L362.4,120.1 L358.8,118.4 L357.0,117.8 L353.4,117.0 L349.7,116.6 L346.1,116.5 L342.5,116.9 L338.9,117.7 L336.6,118.4 L333.4,119.8 L331.6,120.8 L329.5,122.3 L327.2,124.2 L325.4,126.2 L323.9,128.1 L322.6,130.1 L320.8,133.5 L319.7,135.9 L318.9,137.8 L317.6,141.7 L317.1,143.6 L316.1,147.5 L315.3,151.2 L314.9,153.3 L314.3,157.2 L313.7,161.1 L313.4,163.1 L313.0,166.9 L312.6,170.8 L312.3,174.7 L312.0,178.6 L311.9,182.5 L311.7,186.4 L311.7,188.3 L311.6,192.2 L311.6,196.1 L311.6,200.0 L311.7,203.8 L311.7,205.8 L311.8,209.7 L311.9,213.6 L312.0,217.4 L312.0,221.3 L312.2,225.2 L312.3,229.1 L312.5,233.0 L312.7,236.9 L313.1,240.7 L313.5,244.6 L313.8,246.6 L314.4,250.4 L315.3,254.3 L315.8,256.3 L317.0,260.2 L317.8,262.1 L319.0,264.8 L320.6,267.9 L321.9,269.9 L323.3,271.8 L325.0,273.8 L326.9,275.7 L329.2,277.6 L331.6,279.3 L333.4,280.5 L335.4,281.5 L338.9,283.1 L340.7,283.7 L344.3,284.8 L347.3,285.4 L349.7,285.8 L353.4,286.1 L357.0,286.1 L360.6,285.8 L363.5,285.4 M466.8,299.0 L463.8,297.9 L461.7,297.1 L458.4,295.7 L456.6,294.8 L453.3,293.2 L451.2,292.0 L449.4,290.9 L446.7,289.3 L443.9,287.5 L442.1,286.3 L440.3,285.2 L437.6,283.5 L434.9,281.7 L433.1,280.5 L431.2,279.2 L429.2,277.6 L427.0,275.7 L425.0,273.8 L423.3,271.8 L421.8,269.9 L420.4,267.7 L418.6,264.3 L417.6,262.1 L416.8,260.1 L415.5,256.3 L414.9,254.2 L414.2,250.4 L413.6,246.6 L413.2,242.7 L413.1,240.7 L413.1,236.9 L413.2,234.9 L413.3,231.0 L413.5,227.1 L413.7,223.3 L413.8,219.4 L413.7,215.5 L413.5,211.6 L413.1,207.7 L412.9,205.8 L412.2,201.9 L411.5,198.0 L411.0,196.1 L410.1,192.2 L409.5,189.8 L408.6,186.4 L407.7,183.1 L407.0,180.5 L405.9,176.7 L405.4,174.7 L404.2,170.8 L403.6,168.9 L402.3,165.0 L401.6,163.1 L400.5,160.0 L399.4,157.2 L398.6,155.3 L396.9,151.4 L396.1,149.5 L395.0,146.9 L393.7,143.6 L393.0,141.7 L391.6,137.8 L391.0,135.9 L389.8,132.0 L389.3,130.0 L388.2,126.2 L387.6,124.2 L386.4,120.3 L385.7,118.4 L384.2,114.5 L383.4,112.6 L382.3,110.5 L380.5,107.5 L378.7,105.0 L376.9,103.0 L375.1,101.2 L373.3,99.7 L371.5,98.3 L369.7,97.0 L366.7,95.1 L364.2,93.6 L362.4,92.5 L360.3,91.2 L357.1,89.3 L355.2,88.0 L353.4,86.8 L351.2,85.4 L348.7,83.4 L346.6,81.5 L345.0,79.6 L343.9,77.6 L342.9,73.7 L343.6,69.8 L344.5,67.9 M489.2,299.0 L486.2,297.1 L483.8,295.6 L482.0,294.5 L479.6,293.2 L476.5,291.5 L474.7,290.5 L472.4,289.3 L469.3,287.5 L467.5,286.5 L465.7,285.4 L462.6,283.5 L460.2,281.9 L458.4,280.7 L456.6,279.4 L454.2,277.6 L451.6,275.7 L449.4,274.0 L447.5,272.6 L445.7,271.2 L443.9,269.8 L441.5,267.9 L438.9,266.0 L436.7,264.3 L434.9,262.8 L433.1,261.2 L431.2,259.4 L429.4,257.4 L427.6,255.1 L425.9,252.4 L424.9,250.4 L424.0,248.4 L422.7,244.6 L422.2,242.4 L421.6,238.8 L421.3,234.9 L421.1,231.0 L421.0,227.1 L421.0,223.3 L420.9,219.4 L420.7,215.5 L420.4,212.0 L420.1,209.7 L419.6,205.8 L418.8,201.9 L418.4,200.0 L417.6,196.1 L416.8,192.8 L416.1,190.2 L415.1,186.4 L414.6,184.4 L413.5,180.5 L413.0,178.6 L412.0,174.7 L411.3,172.5 L410.3,168.9 L409.5,166.3 L408.5,163.1 L407.7,160.9 L406.3,157.2 L405.5,155.3 L404.1,152.1 L402.8,149.5 L401.9,147.5 L400.5,144.7 L399.1,141.7 L398.2,139.8 L396.8,136.5 L395.9,133.9 L395.0,131.4 L394.0,128.1 L393.2,125.5 L392.3,122.3 L391.4,118.8 L390.8,116.5 L389.6,112.6 L389.0,110.6 L387.8,107.3 L386.7,104.8 L385.8,102.9 L384.2,100.1 L382.3,97.5 L380.5,95.4 L378.7,93.6 L376.9,91.9 L375.1,90.4 L373.3,88.9 L371.3,87.3 L369.0,85.4 L366.8,83.4 L365.0,81.5 L363.4,79.6 L362.1,77.6 L360.6,73.7 L360.4,71.8 L360.6,69.8 M489.2,289.4 L487.4,288.2 L485.6,287.1 L482.9,285.4 L480.1,283.7 L478.3,282.5 L476.5,281.4 L473.8,279.6 L471.1,277.8 L469.3,276.5 L467.5,275.2 L465.6,273.8 L463.2,271.8 L460.8,269.9 L458.6,267.9 L456.6,266.1 L454.8,264.4 L453.0,262.7 L451.2,260.9 L449.4,259.1 L447.5,257.2 L445.7,255.2 L443.9,253.3 L442.1,251.3 L440.3,249.1 L438.5,246.8 L437.0,244.6 L435.8,242.7 L434.8,240.7 L433.3,236.9 L432.7,234.9 L431.9,231.0 L431.2,227.3 L431.0,225.2 L430.5,221.3 L430.0,217.4 L429.5,213.6 L429.1,211.6 L428.4,207.7 L427.6,204.3 L427.1,201.9 L426.1,198.0 L425.5,196.1 L424.5,192.2 L423.9,190.2 L422.8,186.4 L422.2,184.3 L421.2,180.5 L420.4,177.7 L419.6,174.7 L418.6,171.0 L418.0,168.9 L416.9,165.0 L416.4,163.1 L415.2,159.2 L414.5,157.2 L413.1,153.5 L412.3,151.4 L411.3,149.3 L409.5,145.7 L408.4,143.6 L407.3,141.7 L405.9,139.2 L404.1,136.0 L403.0,133.9 L402.1,132.0 L400.5,128.2 L399.7,126.2 L398.6,122.6 L398.1,120.3 L397.2,116.5 L396.8,114.5 L396.0,110.6 L395.2,106.7 L394.8,104.8 L393.9,100.9 L393.2,98.6 L392.0,95.1 L391.2,93.1 L389.6,90.1 L387.8,87.4 L386.2,85.4 L384.4,83.4 L382.6,81.5 L380.9,79.6 L379.4,77.6 L378.2,75.7 L376.9,71.8 L376.9,69.8 L377.1,67.9 M489.2,280.0 L487.4,278.8 L485.6,277.6 L482.7,275.7 L480.1,273.9 L478.3,272.6 L476.5,271.3 L474.7,269.9 L472.3,267.9 L470.0,266.0 L467.8,264.0 L465.8,262.1 L463.9,260.2 L462.0,258.2 L460.3,256.3 L458.6,254.3 L457.1,252.4 L455.6,250.4 L454.2,248.5 L452.9,246.6 L451.2,243.6 L449.6,240.7 L448.7,238.8 L447.5,236.0 L446.5,233.0 L445.7,230.5 L444.8,227.1 L443.9,223.3 L443.5,221.3 L442.7,217.4 L442.1,214.6 L441.4,211.6 L440.4,207.7 L439.8,205.8 L438.6,201.9 L438.0,200.0 L436.7,196.1 L436.0,194.1 L434.9,190.8 L434.0,188.3 L433.1,185.5 L432.1,182.5 L431.2,179.8 L430.3,176.7 L429.4,173.7 L428.6,170.8 L427.6,167.1 L427.1,165.0 L426.1,161.1 L425.6,159.2 L424.6,155.3 L424.0,152.8 L423.1,149.5 L422.2,146.2 L421.4,143.6 L420.4,140.9 L419.1,137.8 L418.1,135.9 L416.8,133.6 L414.9,130.8 L413.1,128.2 L411.8,126.2 L410.6,124.2 L409.5,122.1 L408.0,118.4 L407.4,116.5 L406.5,112.6 L405.9,108.8 L405.7,106.7 L405.3,102.9 L405.0,99.0 L404.6,95.1 L404.2,91.2 L403.9,89.3 L403.1,85.4 L402.3,82.5 L401.1,79.6 L400.1,77.6 L398.6,75.4 L396.8,73.0 L395.0,70.8 L393.2,68.6 M489.2,270.1 L487.4,268.9 L485.6,267.6 L483.4,266.0 L481.0,264.0 L478.7,262.1 L476.5,260.2 L474.7,258.5 L472.9,256.6 L471.1,254.6 L469.3,252.5 L467.7,250.4 L466.3,248.5 L465.0,246.6 L463.8,244.6 L462.0,241.2 L461.0,238.8 L460.2,236.8 L459.0,233.0 L458.4,230.6 L457.7,227.1 L457.0,223.3 L456.6,220.5 L456.2,217.4 L455.7,213.6 L455.0,209.7 L454.7,207.7 L453.9,203.8 L453.0,200.2 L452.4,198.0 L451.3,194.1 L450.7,192.2 L449.5,188.3 L448.9,186.4 L447.6,182.5 L447.0,180.5 L445.8,176.7 L445.2,174.7 L444.1,170.8 L443.6,168.9 L442.6,165.0 L442.1,163.0 L441.3,159.2 L440.5,155.3 L440.2,153.3 L439.5,149.5 L438.9,145.6 L438.5,142.5 L438.1,139.8 L437.5,135.9 L436.7,132.0 L436.3,130.0 L435.4,126.2 L434.8,124.2 L433.5,120.3 L432.7,118.4 L431.2,115.1 L430.0,112.6 L429.0,110.6 L427.6,108.0 L425.9,104.8 L424.8,102.9 L423.8,100.9 L422.2,97.3 L421.3,95.1 L420.4,92.5 L419.4,89.3 L418.6,86.4 L417.8,83.4 L416.8,79.6 L416.2,77.6 L414.9,73.8 L414.1,71.8 L413.0,69.8 M489.2,258.7 L487.4,257.3 L485.6,255.7 L483.8,254.1 L482.0,252.3 L480.1,250.2 L478.3,248.0 L476.5,245.4 L474.9,242.7 L473.9,240.7 L472.9,238.3 L471.8,234.9 L471.1,232.0 L470.6,229.1 L470.1,225.2 L469.9,221.3 L469.8,217.4 L469.7,213.6 L469.6,209.7 L469.5,205.8 L469.3,202.6 L469.1,200.0 L468.7,196.1 L468.2,192.2 L467.6,188.3 L467.3,186.4 L466.6,182.5 L465.8,178.6 L465.4,176.7 L464.5,172.8 L463.8,169.6 L463.3,166.9 L462.7,163.1 L462.3,159.2 L462.1,155.3 L462.2,151.4 L462.7,147.5 L463.4,143.6 L463.8,141.6 L464.8,137.8 L465.7,134.5 L466.2,132.0 L466.7,128.1 L466.6,124.2 L465.7,120.3 L465.0,118.4 L463.8,116.1 L462.0,113.1 L460.4,110.6 L459.1,108.7 L457.8,106.7 L456.5,104.8 L454.8,102.1 L453.0,99.0 L451.9,97.0 L450.9,95.1 L449.4,91.9 L448.2,89.3 L447.5,87.3 L446.1,83.4 L445.5,81.5 L444.6,77.6 L444.1,73.7 L444.1,69.8 M489.2,126.1 L489.1,122.3 L488.9,118.4 L488.6,114.5 L488.1,110.6 L487.4,106.7 L487.0,104.8 L486.0,100.9 L485.4,99.0 L483.9,95.1 L483.1,93.1 L482.0,90.4 L480.7,87.3 L479.9,85.4 L478.6,81.5 L478.2,79.6 L477.7,75.7 L478.0,71.8 L478.4,69.8 M489.2,241.2 L487.9,238.8 L487.0,236.9 L485.9,233.0 L485.5,231.0 L485.2,227.1 L485.1,223.3 L485.3,219.4 L485.5,215.5 L485.6,213.6 L485.6,209.7 L485.5,207.7 L485.3,203.8 L485.0,200.0 L484.6,196.1 L484.3,192.2 L484.0,188.3 L483.8,185.5 L483.6,182.5 L483.4,178.6 L483.3,174.7 L483.2,170.8 L483.3,166.9 L483.6,163.1 L483.8,161.1 L484.4,157.2 L485.3,153.3 L485.8,151.4 L486.7,147.5 L487.4,144.5 L487.9,141.7 L488.5,137.8 L488.9,133.9 L489.1,130.0 L489.2,126.2" stroke="#fff" stroke-opacity="0.75" stroke-width="0.7" fill="none"/></g><line x1="309.9" y1="61.7" x2="309.9" y2="299.8" stroke="#000" stroke-width="0.6" stroke-opacity="0.17"/><line x1="354.3" y1="61.7" x2="354.3" y2="299.8" stroke="#000" stroke-width="0.6" stroke-opacity="0.17"/><line x1="399.4" y1="61.7" x2="399.4" y2="299.8" stroke="#000" stroke-width="0.6" stroke-opacity="0.17"/><line x1="444.8" y1="61.7" x2="444.8" y2="299.8" stroke="#000" stroke-width="0.6" stroke-opacity="0.17"/><line x1="489.2" y1="61.7" x2="489.2" y2="299.8" stroke="#000" stroke-width="0.6" stroke-opacity="0.17"/><line x1="305.5" y1="67.9" x2="493.6" y2="67.9" stroke="#000" stroke-width="0.6" stroke-opacity="0.17"/><line x1="305.5" y1="125.3" x2="493.6" y2="125.3" stroke="#000" stroke-width="0.6" stroke-opacity="0.17"/><line x1="305.5" y1="183.2" x2="493.6" y2="183.2" stroke="#000" stroke-width="0.6" stroke-opacity="0.17"/><line x1="305.5" y1="241.1" x2="493.6" y2="241.1" stroke="#000" stroke-width="0.6" stroke-opacity="0.17"/><line x1="305.5" y1="299" x2="493.6" y2="299" stroke="#000" stroke-width="0.6" stroke-opacity="0.17"/><rect x="399.4" y="67.9" width="89.8" height="115.3" fill="#400" fill-opacity="0.1" stroke="#d8d8d8" stroke-width="1.1"/><line x1="298.8" y1="67.9" x2="301" y2="67.9" stroke="#333" stroke-width="0.9"/><line x1="298.8" y1="125.3" x2="301" y2="125.3" stroke="#333" stroke-width="0.9"/><line x1="298.8" y1="183.2" x2="301" y2="183.2" stroke="#333" stroke-width="0.9"/><line x1="298.8" y1="241.1" x2="301" y2="241.1" stroke="#333" stroke-width="0.9"/><line x1="298.8" y1="299" x2="301" y2="299" stroke="#333" stroke-width="0.9"/><line x1="309.9" y1="303.8" x2="309.9" y2="306" stroke="#333" stroke-width="0.9"/><line x1="354.3" y1="303.8" x2="354.3" y2="306" stroke="#333" stroke-width="0.9"/><line x1="399.4" y1="303.8" x2="399.4" y2="306" stroke="#333" stroke-width="0.9"/><line x1="444.8" y1="303.8" x2="444.8" y2="306" stroke="#333" stroke-width="0.9"/><line x1="489.2" y1="303.8" x2="489.2" y2="306" stroke="#333" stroke-width="0.9"/><text x="256.5" y="17" font-size="17" font-family='"Liberation Serif",serif'>B</text><text x="404.2" y="12.6" font-size="11.8" text-anchor="middle" textLength="70.8" lengthAdjust="spacingAndGlyphs">H196/cDDP</text><text x="401.8" y="27.6" font-size="11.8" text-anchor="middle" textLength="183.3" lengthAdjust="spacingAndGlyphs">Loewe synergy score: 12.679</text><rect x="309.7" y="51.4" width="10.75" height="3.4" fill="#50b21e"/><rect x="404.3" y="51.4" width="10.75" height="3.4" fill="#fce5e5"/><rect x="320.15" y="51.4" width="10.75" height="3.4" fill="#66bc3b"/><rect x="414.75" y="51.4" width="10.75" height="3.4" fill="#f9c6c8"/><rect x="330.6" y="51.4" width="10.75" height="3.4" fill="#7cc657"/><rect x="425.2" y="51.4" width="10.75" height="3.4" fill="#f5a8ab"/><rect x="341.05" y="51.4" width="10.75" height="3.4" fill="#93cf74"/><rect x="435.65" y="51.4" width="10.75" height="3.4" fill="#f28a8d"/><rect x="351.5" y="51.4" width="10.75" height="3.4" fill="#a9d990"/><rect x="446.1" y="51.4" width="10.75" height="3.4" fill="#ee6c70"/><rect x="361.95" y="51.4" width="10.75" height="3.4" fill="#bfe3ad"/><rect x="456.55" y="51.4" width="10.75" height="3.4" fill="#eb4e53"/><rect x="372.4" y="51.4" width="10.75" height="3.4" fill="#d5edc9"/><rect x="467" y="51.4" width="10.75" height="3.4" fill="#e73035"/><rect x="382.85" y="51.4" width="10.75" height="3.4" fill="#ebf6e6"/><rect x="477.45" y="51.4" width="10.75" height="3.4" fill="#e41218"/><text x="312.4" y="47.3" font-size="11" font-weight="400" text-anchor="middle">−40</text><text x="356.3" y="47.3" font-size="11" font-weight="400" text-anchor="middle">−20</text><text x="396.4" y="47.3" font-size="11" font-weight="400" text-anchor="middle">0</text><text x="440" y="47.3" font-size="11" font-weight="400" text-anchor="middle">20</text><text x="482.7" y="47.3" font-size="11" font-weight="400" text-anchor="middle">40</text><text stroke="#000" stroke-width="0.3" x="301" y="72.9" font-size="13.6" font-weight="400" text-anchor="end">50</text><text stroke="#000" stroke-width="0.3" x="301" y="130.3" font-size="13.6" font-weight="400" text-anchor="end">25</text><text stroke="#000" stroke-width="0.3" x="301" y="188.2" font-size="13.6" font-weight="400" text-anchor="end">12.5</text><text stroke="#000" stroke-width="0.3" x="301" y="246.1" font-size="13.6" font-weight="400" text-anchor="end">100</text><text stroke="#000" stroke-width="0.3" x="301" y="304" font-size="13.6" font-weight="400" text-anchor="end">0</text><text stroke="#000" stroke-width="0.3" x="309.9" y="323.6" font-size="14" font-weight="400" text-anchor="middle">0</text><text stroke="#000" stroke-width="0.3" x="354.3" y="323.6" font-size="14" font-weight="400" text-anchor="middle">10</text><text stroke="#000" stroke-width="0.3" x="399.4" y="323.6" font-size="14" font-weight="400" text-anchor="middle">20</text><text stroke="#000" stroke-width="0.3" x="444.8" y="323.6" font-size="14" font-weight="400" text-anchor="middle">40</text><text stroke="#000" stroke-width="0.3" x="489.2" y="323.6" font-size="14" font-weight="400" text-anchor="middle">80</text><text x="401.9" y="339.2" font-size="13.3" text-anchor="middle" textLength="111.5" lengthAdjust="spacingAndGlyphs">Venetoclax ( μM )</text><text transform="translate(266.8,172.9) rotate(-90)" font-size="13.3" text-anchor="middle">HCQ ( μM )</text><line x1="550.3" y1="57.7" x2="550.3" y2="277.5" stroke="#111" stroke-width="1.3"/><line x1="549.7" y1="276.9" x2="786" y2="276.9" stroke="#111" stroke-width="1.3"/><line x1="547.1" y1="276.9" x2="550.3" y2="276.9" stroke="#111" stroke-width="1.2"/><text x="544.7" y="281.43" font-size="11.2" text-anchor="end">0</text><line x1="547.1" y1="233.25" x2="550.3" y2="233.25" stroke="#111" stroke-width="1.2"/><text x="544.7" y="237.78" font-size="11.2" text-anchor="end">1</text><line x1="547.1" y1="189.6" x2="550.3" y2="189.6" stroke="#111" stroke-width="1.2"/><text x="544.7" y="194.13" font-size="11.2" text-anchor="end">2</text><line x1="547.1" y1="145.95" x2="550.3" y2="145.95" stroke="#111" stroke-width="1.2"/><text x="544.7" y="150.48" font-size="11.2" text-anchor="end">3</text><line x1="547.1" y1="102.3" x2="550.3" y2="102.3" stroke="#111" stroke-width="1.2"/><text x="544.7" y="106.83" font-size="11.2" text-anchor="end">4</text><line x1="547.1" y1="58.65" x2="550.3" y2="58.65" stroke="#111" stroke-width="1.2"/><text x="544.7" y="63.18" font-size="11.2" text-anchor="end">5</text><line x1="575" y1="276.9" x2="575" y2="280.3" stroke="#111" stroke-width="1.2"/><text x="575" y="291.4" font-size="11.2" text-anchor="middle">0</text><line x1="612" y1="276.9" x2="612" y2="280.3" stroke="#111" stroke-width="1.2"/><text x="612" y="291.4" font-size="11.2" text-anchor="middle">12</text><line x1="649" y1="276.9" x2="649" y2="280.3" stroke="#111" stroke-width="1.2"/><text x="649" y="291.4" font-size="11.2" text-anchor="middle">24</text><line x1="686" y1="276.9" x2="686" y2="280.3" stroke="#111" stroke-width="1.2"/><text x="686" y="291.4" font-size="11.2" text-anchor="middle">36</text><line x1="723" y1="276.9" x2="723" y2="280.3" stroke="#111" stroke-width="1.2"/><text x="723" y="291.4" font-size="11.2" text-anchor="middle">48</text><line x1="760" y1="276.9" x2="760" y2="280.3" stroke="#111" stroke-width="1.2"/><text x="760" y="291.4" font-size="11.2" text-anchor="middle">72</text><text x="662" y="38.4" font-size="13.7" text-anchor="middle">H446/cDDP</text><text x="671.6" y="304.8" font-size="11.2" text-anchor="middle">Time ( h )</text><text transform="translate(532.5,171.8) rotate(-90)" font-size="12.3" text-anchor="middle" textLength="157" lengthAdjust="spacingAndGlyphs">Relative cell viability to 0 h</text><text x="516.5" y="15" font-size="17" font-family='"Liberation Serif",serif'>C</text><path d="M575,233.25 L612,200.95 L649,189.6 L686,161.66 L723,136.35 L760,100.55" stroke="#9a9a9a" stroke-width="1.4" fill="none"/><line x1="575" y1="231.94" x2="575" y2="234.56" stroke="#9a9a9a" stroke-width="1.4"/><line x1="572.8" y1="231.94" x2="577.2" y2="231.94" stroke="#9a9a9a" stroke-width="1.4"/><line x1="572.8" y1="234.56" x2="577.2" y2="234.56" stroke="#9a9a9a" stroke-width="1.4"/><circle cx="575" cy="233.25" r="2" fill="#9a9a9a"/><line x1="612" y1="199.2" x2="612" y2="202.69" stroke="#9a9a9a" stroke-width="1.4"/><line x1="609.8" y1="199.2" x2="614.2" y2="199.2" stroke="#9a9a9a" stroke-width="1.4"/><line x1="609.8" y1="202.69" x2="614.2" y2="202.69" stroke="#9a9a9a" stroke-width="1.4"/><circle cx="612" cy="200.95" r="2" fill="#9a9a9a"/><line x1="649" y1="187.85" x2="649" y2="191.35" stroke="#9a9a9a" stroke-width="1.4"/><line x1="646.8" y1="187.85" x2="651.2" y2="187.85" stroke="#9a9a9a" stroke-width="1.4"/><line x1="646.8" y1="191.35" x2="651.2" y2="191.35" stroke="#9a9a9a" stroke-width="1.4"/><circle cx="649" cy="189.6" r="2" fill="#9a9a9a"/><line x1="686" y1="159.48" x2="686" y2="163.85" stroke="#9a9a9a" stroke-width="1.4"/><line x1="683.8" y1="159.48" x2="688.2" y2="159.48" stroke="#9a9a9a" stroke-width="1.4"/><line x1="683.8" y1="163.85" x2="688.2" y2="163.85" stroke="#9a9a9a" stroke-width="1.4"/><circle cx="686" cy="161.66" r="2" fill="#9a9a9a"/><line x1="723" y1="134.16" x2="723" y2="138.53" stroke="#9a9a9a" stroke-width="1.4"/><line x1="720.8" y1="134.16" x2="725.2" y2="134.16" stroke="#9a9a9a" stroke-width="1.4"/><line x1="720.8" y1="138.53" x2="725.2" y2="138.53" stroke="#9a9a9a" stroke-width="1.4"/><circle cx="723" cy="136.35" r="2" fill="#9a9a9a"/><line x1="760" y1="97.5" x2="760" y2="103.61" stroke="#9a9a9a" stroke-width="1.4"/><line x1="757.8" y1="97.5" x2="762.2" y2="97.5" stroke="#9a9a9a" stroke-width="1.4"/><line x1="757.8" y1="103.61" x2="762.2" y2="103.61" stroke="#9a9a9a" stroke-width="1.4"/><circle cx="760" cy="100.55" r="2" fill="#9a9a9a"/><path d="M575,233.25 L612,205.31 L649,196.15 L686,181.74 L723,176.5 L760,155.12" stroke="#e5202a" stroke-width="1.4" fill="none"/><line x1="575" y1="231.94" x2="575" y2="234.56" stroke="#e5202a" stroke-width="1.4"/><line x1="572.8" y1="231.94" x2="577.2" y2="231.94" stroke="#e5202a" stroke-width="1.4"/><line x1="572.8" y1="234.56" x2="577.2" y2="234.56" stroke="#e5202a" stroke-width="1.4"/><rect x="573" y="231.25" width="4" height="4" fill="#e5202a"/><line x1="612" y1="203.57" x2="612" y2="207.06" stroke="#e5202a" stroke-width="1.4"/><line x1="609.8" y1="203.57" x2="614.2" y2="203.57" stroke="#e5202a" stroke-width="1.4"/><line x1="609.8" y1="207.06" x2="614.2" y2="207.06" stroke="#e5202a" stroke-width="1.4"/><rect x="610" y="203.31" width="4" height="4" fill="#e5202a"/><line x1="649" y1="194.4" x2="649" y2="197.89" stroke="#e5202a" stroke-width="1.4"/><line x1="646.8" y1="194.4" x2="651.2" y2="194.4" stroke="#e5202a" stroke-width="1.4"/><line x1="646.8" y1="197.89" x2="651.2" y2="197.89" stroke="#e5202a" stroke-width="1.4"/><rect x="647" y="194.15" width="4" height="4" fill="#e5202a"/><line x1="686" y1="179.56" x2="686" y2="183.93" stroke="#e5202a" stroke-width="1.4"/><line x1="683.8" y1="179.56" x2="688.2" y2="179.56" stroke="#e5202a" stroke-width="1.4"/><line x1="683.8" y1="183.93" x2="688.2" y2="183.93" stroke="#e5202a" stroke-width="1.4"/><rect x="684" y="179.74" width="4" height="4" fill="#e5202a"/><line x1="723" y1="174.32" x2="723" y2="178.69" stroke="#e5202a" stroke-width="1.4"/><line x1="720.8" y1="174.32" x2="725.2" y2="174.32" stroke="#e5202a" stroke-width="1.4"/><line x1="720.8" y1="178.69" x2="725.2" y2="178.69" stroke="#e5202a" stroke-width="1.4"/><rect x="721" y="174.5" width="4" height="4" fill="#e5202a"/><line x1="760" y1="152.93" x2="760" y2="157.3" stroke="#e5202a" stroke-width="1.4"/><line x1="757.8" y1="152.93" x2="762.2" y2="152.93" stroke="#e5202a" stroke-width="1.4"/><line x1="757.8" y1="157.3" x2="762.2" y2="157.3" stroke="#e5202a" stroke-width="1.4"/><rect x="758" y="153.12" width="4" height="4" fill="#e5202a"/><path d="M575,233.25 L612,212.3 L649,193.09 L686,176.5 L723,146.39 L760,124.12" stroke="#1f4ea6" stroke-width="1.4" fill="none"/><line x1="575" y1="231.94" x2="575" y2="234.56" stroke="#1f4ea6" stroke-width="1.4"/><line x1="572.8" y1="231.94" x2="577.2" y2="231.94" stroke="#1f4ea6" stroke-width="1.4"/><line x1="572.8" y1="234.56" x2="577.2" y2="234.56" stroke="#1f4ea6" stroke-width="1.4"/><rect x="573" y="231.25" width="4" height="4" fill="#1f4ea6"/><line x1="612" y1="210.55" x2="612" y2="214.04" stroke="#1f4ea6" stroke-width="1.4"/><line x1="609.8" y1="210.55" x2="614.2" y2="210.55" stroke="#1f4ea6" stroke-width="1.4"/><line x1="609.8" y1="214.04" x2="614.2" y2="214.04" stroke="#1f4ea6" stroke-width="1.4"/><rect x="610" y="210.3" width="4" height="4" fill="#1f4ea6"/><line x1="649" y1="190.47" x2="649" y2="195.71" stroke="#1f4ea6" stroke-width="1.4"/><line x1="646.8" y1="190.47" x2="651.2" y2="190.47" stroke="#1f4ea6" stroke-width="1.4"/><line x1="646.8" y1="195.71" x2="651.2" y2="195.71" stroke="#1f4ea6" stroke-width="1.4"/><rect x="647" y="191.09" width="4" height="4" fill="#1f4ea6"/><line x1="686" y1="173.45" x2="686" y2="179.56" stroke="#1f4ea6" stroke-width="1.4"/><line x1="683.8" y1="173.45" x2="688.2" y2="173.45" stroke="#1f4ea6" stroke-width="1.4"/><line x1="683.8" y1="179.56" x2="688.2" y2="179.56" stroke="#1f4ea6" stroke-width="1.4"/><rect x="684" y="174.5" width="4" height="4" fill="#1f4ea6"/><line x1="723" y1="143.77" x2="723" y2="149.01" stroke="#1f4ea6" stroke-width="1.4"/><line x1="720.8" y1="143.77" x2="725.2" y2="143.77" stroke="#1f4ea6" stroke-width="1.4"/><line x1="720.8" y1="149.01" x2="725.2" y2="149.01" stroke="#1f4ea6" stroke-width="1.4"/><rect x="721" y="144.39" width="4" height="4" fill="#1f4ea6"/><line x1="760" y1="120.2" x2="760" y2="128.05" stroke="#1f4ea6" stroke-width="1.4"/><line x1="757.8" y1="120.2" x2="762.2" y2="120.2" stroke="#1f4ea6" stroke-width="1.4"/><line x1="757.8" y1="128.05" x2="762.2" y2="128.05" stroke="#1f4ea6" stroke-width="1.4"/><rect x="758" y="122.12" width="4" height="4" fill="#1f4ea6"/><path d="M575,233.25 L612,204 L649,191.78 L686,167.34 L723,140.28 L760,101.86" stroke="#1f8a45" stroke-width="1.4" fill="none"/><line x1="575" y1="231.94" x2="575" y2="234.56" stroke="#1f8a45" stroke-width="1.4"/><line x1="572.8" y1="231.94" x2="577.2" y2="231.94" stroke="#1f8a45" stroke-width="1.4"/><line x1="572.8" y1="234.56" x2="577.2" y2="234.56" stroke="#1f8a45" stroke-width="1.4"/><path d="M573,231.25 L577,231.25 L575,235.25 Z" fill="#1f8a45"/><line x1="612" y1="202.26" x2="612" y2="205.75" stroke="#1f8a45" stroke-width="1.4"/><line x1="609.8" y1="202.26" x2="614.2" y2="202.26" stroke="#1f8a45" stroke-width="1.4"/><line x1="609.8" y1="205.75" x2="614.2" y2="205.75" stroke="#1f8a45" stroke-width="1.4"/><path d="M610,202 L614,202 L612,206 Z" fill="#1f8a45"/><line x1="649" y1="189.6" x2="649" y2="193.96" stroke="#1f8a45" stroke-width="1.4"/><line x1="646.8" y1="189.6" x2="651.2" y2="189.6" stroke="#1f8a45" stroke-width="1.4"/><line x1="646.8" y1="193.96" x2="651.2" y2="193.96" stroke="#1f8a45" stroke-width="1.4"/><path d="M647,189.78 L651,189.78 L649,193.78 Z" fill="#1f8a45"/><line x1="686" y1="164.72" x2="686" y2="169.96" stroke="#1f8a45" stroke-width="1.4"/><line x1="683.8" y1="164.72" x2="688.2" y2="164.72" stroke="#1f8a45" stroke-width="1.4"/><line x1="683.8" y1="169.96" x2="688.2" y2="169.96" stroke="#1f8a45" stroke-width="1.4"/><path d="M684,165.34 L688,165.34 L686,169.34 Z" fill="#1f8a45"/><line x1="723" y1="136.78" x2="723" y2="143.77" stroke="#1f8a45" stroke-width="1.4"/><line x1="720.8" y1="136.78" x2="725.2" y2="136.78" stroke="#1f8a45" stroke-width="1.4"/><line x1="720.8" y1="143.77" x2="725.2" y2="143.77" stroke="#1f8a45" stroke-width="1.4"/><path d="M721,138.28 L725,138.28 L723,142.28 Z" fill="#1f8a45"/><line x1="760" y1="99.68" x2="760" y2="104.05" stroke="#1f8a45" stroke-width="1.4"/><line x1="757.8" y1="99.68" x2="762.2" y2="99.68" stroke="#1f8a45" stroke-width="1.4"/><line x1="757.8" y1="104.05" x2="762.2" y2="104.05" stroke="#1f8a45" stroke-width="1.4"/><path d="M758,99.86 L762,99.86 L760,103.86 Z" fill="#1f8a45"/><path d="M575,233.25 L612,213.17 L649,194.84 L686,197.02 L723,184.36 L760,180" stroke="#8a4cb8" stroke-width="1.4" fill="none"/><line x1="575" y1="231.94" x2="575" y2="234.56" stroke="#8a4cb8" stroke-width="1.4"/><line x1="572.8" y1="231.94" x2="577.2" y2="231.94" stroke="#8a4cb8" stroke-width="1.4"/><line x1="572.8" y1="234.56" x2="577.2" y2="234.56" stroke="#8a4cb8" stroke-width="1.4"/><path d="M575,230.75 L577.5,233.25 L575,235.75 L572.5,233.25 Z" fill="#8a4cb8"/><line x1="612" y1="211.42" x2="612" y2="214.92" stroke="#8a4cb8" stroke-width="1.4"/><line x1="609.8" y1="211.42" x2="614.2" y2="211.42" stroke="#8a4cb8" stroke-width="1.4"/><line x1="609.8" y1="214.92" x2="614.2" y2="214.92" stroke="#8a4cb8" stroke-width="1.4"/><path d="M612,210.67 L614.5,213.17 L612,215.67 L609.5,213.17 Z" fill="#8a4cb8"/><line x1="649" y1="192.66" x2="649" y2="197.02" stroke="#8a4cb8" stroke-width="1.4"/><line x1="646.8" y1="192.66" x2="651.2" y2="192.66" stroke="#8a4cb8" stroke-width="1.4"/><line x1="646.8" y1="197.02" x2="651.2" y2="197.02" stroke="#8a4cb8" stroke-width="1.4"/><path d="M649,192.34 L651.5,194.84 L649,197.34 L646.5,194.84 Z" fill="#8a4cb8"/><line x1="686" y1="194.84" x2="686" y2="199.2" stroke="#8a4cb8" stroke-width="1.4"/><line x1="683.8" y1="194.84" x2="688.2" y2="194.84" stroke="#8a4cb8" stroke-width="1.4"/><line x1="683.8" y1="199.2" x2="688.2" y2="199.2" stroke="#8a4cb8" stroke-width="1.4"/><path d="M686,194.52 L688.5,197.02 L686,199.52 L683.5,197.02 Z" fill="#8a4cb8"/><line x1="723" y1="180.87" x2="723" y2="187.85" stroke="#8a4cb8" stroke-width="1.4"/><line x1="720.8" y1="180.87" x2="725.2" y2="180.87" stroke="#8a4cb8" stroke-width="1.4"/><line x1="720.8" y1="187.85" x2="725.2" y2="187.85" stroke="#8a4cb8" stroke-width="1.4"/><path d="M723,181.86 L725.5,184.36 L723,186.86 L720.5,184.36 Z" fill="#8a4cb8"/><line x1="760" y1="176.94" x2="760" y2="183.05" stroke="#8a4cb8" stroke-width="1.4"/><line x1="757.8" y1="176.94" x2="762.2" y2="176.94" stroke="#8a4cb8" stroke-width="1.4"/><line x1="757.8" y1="183.05" x2="762.2" y2="183.05" stroke="#8a4cb8" stroke-width="1.4"/><path d="M760,177.5 L762.5,180 L760,182.5 L757.5,180 Z" fill="#8a4cb8"/><path d="M575,233.25 L612,208.81 L649,200.51 L686,191.35 L723,186.11 L760,162.1" stroke="#f07f22" stroke-width="1.4" fill="none"/><line x1="575" y1="231.94" x2="575" y2="234.56" stroke="#f07f22" stroke-width="1.4"/><line x1="572.8" y1="231.94" x2="577.2" y2="231.94" stroke="#f07f22" stroke-width="1.4"/><line x1="572.8" y1="234.56" x2="577.2" y2="234.56" stroke="#f07f22" stroke-width="1.4"/><path d="M573,231.25 L577,231.25 L575,235.25 Z" fill="#f07f22"/><line x1="612" y1="207.06" x2="612" y2="210.55" stroke="#f07f22" stroke-width="1.4"/><line x1="609.8" y1="207.06" x2="614.2" y2="207.06" stroke="#f07f22" stroke-width="1.4"/><line x1="609.8" y1="210.55" x2="614.2" y2="210.55" stroke="#f07f22" stroke-width="1.4"/><path d="M610,206.81 L614,206.81 L612,210.81 Z" fill="#f07f22"/><line x1="649" y1="198.77" x2="649" y2="202.26" stroke="#f07f22" stroke-width="1.4"/><line x1="646.8" y1="198.77" x2="651.2" y2="198.77" stroke="#f07f22" stroke-width="1.4"/><line x1="646.8" y1="202.26" x2="651.2" y2="202.26" stroke="#f07f22" stroke-width="1.4"/><path d="M647,198.51 L651,198.51 L649,202.51 Z" fill="#f07f22"/><line x1="686" y1="189.6" x2="686" y2="193.09" stroke="#f07f22" stroke-width="1.4"/><line x1="683.8" y1="189.6" x2="688.2" y2="189.6" stroke="#f07f22" stroke-width="1.4"/><line x1="683.8" y1="193.09" x2="688.2" y2="193.09" stroke="#f07f22" stroke-width="1.4"/><path d="M684,189.35 L688,189.35 L686,193.35 Z" fill="#f07f22"/><line x1="723" y1="183.93" x2="723" y2="188.29" stroke="#f07f22" stroke-width="1.4"/><line x1="720.8" y1="183.93" x2="725.2" y2="183.93" stroke="#f07f22" stroke-width="1.4"/><line x1="720.8" y1="188.29" x2="725.2" y2="188.29" stroke="#f07f22" stroke-width="1.4"/><path d="M721,184.11 L725,184.11 L723,188.11 Z" fill="#f07f22"/><line x1="760" y1="159.04" x2="760" y2="165.16" stroke="#f07f22" stroke-width="1.4"/><line x1="757.8" y1="159.04" x2="762.2" y2="159.04" stroke="#f07f22" stroke-width="1.4"/><line x1="757.8" y1="165.16" x2="762.2" y2="165.16" stroke="#f07f22" stroke-width="1.4"/><path d="M758,160.1 L762,160.1 L760,164.1 Z" fill="#f07f22"/><path d="M575,233.25 L612,214.92 L649,204.88 L686,202.26 L723,199.2 L760,196.15" stroke="#111111" stroke-width="1.4" fill="none"/><line x1="575" y1="231.94" x2="575" y2="234.56" stroke="#111111" stroke-width="1.4"/><line x1="572.8" y1="231.94" x2="577.2" y2="231.94" stroke="#111111" stroke-width="1.4"/><line x1="572.8" y1="234.56" x2="577.2" y2="234.56" stroke="#111111" stroke-width="1.4"/><rect x="573" y="231.25" width="4" height="4" fill="#111111"/><line x1="612" y1="213.61" x2="612" y2="216.23" stroke="#111111" stroke-width="1.4"/><line x1="609.8" y1="213.61" x2="614.2" y2="213.61" stroke="#111111" stroke-width="1.4"/><line x1="609.8" y1="216.23" x2="614.2" y2="216.23" stroke="#111111" stroke-width="1.4"/><rect x="610" y="212.92" width="4" height="4" fill="#111111"/><line x1="649" y1="203.13" x2="649" y2="206.62" stroke="#111111" stroke-width="1.4"/><line x1="646.8" y1="203.13" x2="651.2" y2="203.13" stroke="#111111" stroke-width="1.4"/><line x1="646.8" y1="206.62" x2="651.2" y2="206.62" stroke="#111111" stroke-width="1.4"/><rect x="647" y="202.88" width="4" height="4" fill="#111111"/><line x1="686" y1="200.95" x2="686" y2="203.57" stroke="#111111" stroke-width="1.4"/><line x1="683.8" y1="200.95" x2="688.2" y2="200.95" stroke="#111111" stroke-width="1.4"/><line x1="683.8" y1="203.57" x2="688.2" y2="203.57" stroke="#111111" stroke-width="1.4"/><rect x="684" y="200.26" width="4" height="4" fill="#111111"/><line x1="723" y1="198.33" x2="723" y2="200.08" stroke="#111111" stroke-width="1.4"/><line x1="720.8" y1="198.33" x2="725.2" y2="198.33" stroke="#111111" stroke-width="1.4"/><line x1="720.8" y1="200.08" x2="725.2" y2="200.08" stroke="#111111" stroke-width="1.4"/><rect x="721" y="197.2" width="4" height="4" fill="#111111"/><line x1="760" y1="194.84" x2="760" y2="197.46" stroke="#111111" stroke-width="1.4"/><line x1="757.8" y1="194.84" x2="762.2" y2="194.84" stroke="#111111" stroke-width="1.4"/><line x1="757.8" y1="197.46" x2="762.2" y2="197.46" stroke="#111111" stroke-width="1.4"/><rect x="758" y="194.15" width="4" height="4" fill="#111111"/><line x1="554.6" y1="62" x2="566.5" y2="62" stroke="#9a9a9a" stroke-width="2"/><circle cx="560.55" cy="62" r="2.2" fill="#9a9a9a"/><text x="569.9" y="64.82" font-size="10.6" textLength="35.46" lengthAdjust="spacingAndGlyphs">DMSO</text><line x1="554.6" y1="76.5" x2="566.5" y2="76.5" stroke="#e5202a" stroke-width="2"/><rect x="558.35" y="74.3" width="4.4" height="4.4" fill="#e5202a"/><text x="569.9" y="79.32" font-size="10.6" textLength="31.53" lengthAdjust="spacingAndGlyphs">cDDP</text><line x1="554.6" y1="91.1" x2="566.5" y2="91.1" stroke="#1f4ea6" stroke-width="2"/><rect x="558.35" y="88.9" width="4.4" height="4.4" fill="#1f4ea6"/><text x="569.9" y="93.92" font-size="10.6" textLength="61.75" lengthAdjust="spacingAndGlyphs">Venetoclax</text><line x1="554.6" y1="104.8" x2="566.5" y2="104.8" stroke="#1f8a45" stroke-width="2"/><path d="M558.35,102.6 L562.75,102.6 L560.55,107 Z" fill="#1f8a45"/><text x="569.9" y="107.62" font-size="10.6" textLength="26.26" lengthAdjust="spacingAndGlyphs">HCQ</text><line x1="554.6" y1="119" x2="566.5" y2="119" stroke="#8a4cb8" stroke-width="2"/><path d="M560.55,116.3 L563.25,119 L560.55,121.7 L557.85,119 Z" fill="#8a4cb8"/><text x="569.9" y="121.82" font-size="10.6" textLength="100.18" lengthAdjust="spacingAndGlyphs">cDDP+Venetoclax</text><line x1="554.6" y1="132.1" x2="566.5" y2="132.1" stroke="#f07f22" stroke-width="2"/><path d="M558.35,129.9 L562.75,129.9 L560.55,134.3 Z" fill="#f07f22"/><text x="569.9" y="134.92" font-size="10.6" textLength="64.69" lengthAdjust="spacingAndGlyphs">cDDP+HCQ</text><line x1="554.6" y1="145.7" x2="566.5" y2="145.7" stroke="#111111" stroke-width="2"/><rect x="558.35" y="143.5" width="4.4" height="4.4" fill="#111111"/><text x="569.9" y="148.52" font-size="10.6" textLength="100.18" lengthAdjust="spacingAndGlyphs">cDDP+Venetoclax</text><text x="569.9" y="162.42" font-size="10.6" textLength="33.17" lengthAdjust="spacingAndGlyphs">+HCQ</text><path d="M608.9,60.2 L611.4,60.2 L611.4,76.1 L608.9,76.1" stroke="#222" stroke-width="1" fill="none"/><text transform="translate(626.48,60.6) rotate(-90)" font-size="16.5" font-weight="400" stroke="#000" stroke-width="0.35" text-anchor="middle">*</text><text transform="translate(626.48,68.4) rotate(-90)" font-size="16.5" font-weight="400" stroke="#000" stroke-width="0.35" text-anchor="middle">*</text><text transform="translate(626.48,76.2) rotate(-90)" font-size="16.5" font-weight="400" stroke="#000" stroke-width="0.35" text-anchor="middle">*</text><path d="M672.4,76.6 L675.4,76.6 L675.4,116.8 L672.4,116.8" stroke="#222" stroke-width="1" fill="none"/><text transform="translate(689.48,88.3) rotate(-90)" font-size="16.5" font-weight="400" stroke="#000" stroke-width="0.35" text-anchor="middle">*</text><text transform="translate(689.48,96.1) rotate(-90)" font-size="16.5" font-weight="400" stroke="#000" stroke-width="0.35" text-anchor="middle">*</text><text transform="translate(689.48,103.9) rotate(-90)" font-size="16.5" font-weight="400" stroke="#000" stroke-width="0.35" text-anchor="middle">*</text><path d="M684.7,76.6 L687.7,76.6 L687.7,131.2 L684.7,131.2" stroke="#222" stroke-width="1" fill="none"/><text transform="translate(700.38,100.3) rotate(-90)" font-size="16.5" font-weight="400" stroke="#000" stroke-width="0.35" text-anchor="middle">*</text><text transform="translate(700.38,108.1) rotate(-90)" font-size="16.5" font-weight="400" stroke="#000" stroke-width="0.35" text-anchor="middle">*</text><path d="M695.3,76.1 L698.3,76.1 L698.3,146.3 L695.3,146.3" stroke="#222" stroke-width="1" fill="none"/><text transform="translate(712.58,102.5) rotate(-90)" font-size="16.5" font-weight="400" stroke="#000" stroke-width="0.35" text-anchor="middle">*</text><text transform="translate(712.58,110.3) rotate(-90)" font-size="16.5" font-weight="400" stroke="#000" stroke-width="0.35" text-anchor="middle">*</text><text transform="translate(712.58,118.1) rotate(-90)" font-size="16.5" font-weight="400" stroke="#000" stroke-width="0.35" text-anchor="middle">*</text><line x1="36.9" y1="915.2" x2="36.9" y2="1119.5" stroke="#111" stroke-width="1.3"/><line x1="36.3" y1="1118.9" x2="251" y2="1118.9" stroke="#111" stroke-width="1.3"/><line x1="33.7" y1="1118.9" x2="36.9" y2="1118.9" stroke="#111" stroke-width="1.2"/><text x="31.3" y="1123.58" font-size="11.6" text-anchor="end" textLength="7.1" lengthAdjust="spacingAndGlyphs">0</text><line x1="33.7" y1="1068.1" x2="36.9" y2="1068.1" stroke="#111" stroke-width="1.2"/><text x="31.3" y="1072.78" font-size="11.6" text-anchor="end" textLength="7.1" lengthAdjust="spacingAndGlyphs">1</text><line x1="33.7" y1="1017.3" x2="36.9" y2="1017.3" stroke="#111" stroke-width="1.2"/><text x="31.3" y="1021.98" font-size="11.6" text-anchor="end" textLength="7.1" lengthAdjust="spacingAndGlyphs">2</text><line x1="33.7" y1="966.5" x2="36.9" y2="966.5" stroke="#111" stroke-width="1.2"/><text x="31.3" y="971.18" font-size="11.6" text-anchor="end" textLength="7.1" lengthAdjust="spacingAndGlyphs">3</text><line x1="33.7" y1="915.7" x2="36.9" y2="915.7" stroke="#111" stroke-width="1.2"/><text x="31.3" y="920.38" font-size="11.6" text-anchor="end" textLength="7.1" lengthAdjust="spacingAndGlyphs">4</text><line x1="76.8" y1="1118.9" x2="76.8" y2="1122.3" stroke="#111" stroke-width="1.2"/><text x="76.8" y="1134.3" font-size="11.6" text-anchor="middle" textLength="7.61" lengthAdjust="spacingAndGlyphs">0</text><line x1="156.3" y1="1118.9" x2="156.3" y2="1122.3" stroke="#111" stroke-width="1.2"/><text x="156.3" y="1134.3" font-size="11.6" text-anchor="middle" textLength="15.22" lengthAdjust="spacingAndGlyphs">48</text><line x1="235.5" y1="1118.9" x2="235.5" y2="1122.3" stroke="#111" stroke-width="1.2"/><text x="235.5" y="1134.3" font-size="11.6" text-anchor="middle" textLength="15.22" lengthAdjust="spacingAndGlyphs">72</text><text x="141.5" y="907" font-size="14" text-anchor="middle">H196/cDDP</text><text x="149.3" y="1147.6" font-size="12" text-anchor="middle" textLength="56.3" lengthAdjust="spacingAndGlyphs">Time ( h )</text><text transform="translate(18.75,1019.9) rotate(-90)" font-size="12.3" text-anchor="middle">Relative cell viability to 0 h</text><text x="2" y="903.5" font-size="17" font-family='"Liberation Serif",serif'>I</text><path d="M76.8,1067.08 L156.3,1018.32 L235.5,1006.12" stroke="#9a9a9a" stroke-width="1.4" fill="none"/><line x1="76.8" y1="1066.07" x2="76.8" y2="1068.1" stroke="#9a9a9a" stroke-width="1.4"/><line x1="74.6" y1="1066.07" x2="79" y2="1066.07" stroke="#9a9a9a" stroke-width="1.4"/><line x1="74.6" y1="1068.1" x2="79" y2="1068.1" stroke="#9a9a9a" stroke-width="1.4"/><circle cx="76.8" cy="1067.08" r="2" fill="#9a9a9a"/><line x1="156.3" y1="1015.27" x2="156.3" y2="1021.36" stroke="#9a9a9a" stroke-width="1.4"/><line x1="154.1" y1="1015.27" x2="158.5" y2="1015.27" stroke="#9a9a9a" stroke-width="1.4"/><line x1="154.1" y1="1021.36" x2="158.5" y2="1021.36" stroke="#9a9a9a" stroke-width="1.4"/><circle cx="156.3" cy="1018.32" r="2" fill="#9a9a9a"/><line x1="235.5" y1="1002.06" x2="235.5" y2="1010.19" stroke="#9a9a9a" stroke-width="1.4"/><line x1="233.3" y1="1002.06" x2="237.7" y2="1002.06" stroke="#9a9a9a" stroke-width="1.4"/><line x1="233.3" y1="1010.19" x2="237.7" y2="1010.19" stroke="#9a9a9a" stroke-width="1.4"/><circle cx="235.5" cy="1006.12" r="2" fill="#9a9a9a"/><path d="M76.8,1067.08 L156.3,1040.16 L235.5,1027.46" stroke="#e5202a" stroke-width="1.4" fill="none"/><line x1="76.8" y1="1066.07" x2="76.8" y2="1068.1" stroke="#e5202a" stroke-width="1.4"/><line x1="74.6" y1="1066.07" x2="79" y2="1066.07" stroke="#e5202a" stroke-width="1.4"/><line x1="74.6" y1="1068.1" x2="79" y2="1068.1" stroke="#e5202a" stroke-width="1.4"/><rect x="74.8" y="1065.08" width="4" height="4" fill="#e5202a"/><line x1="156.3" y1="1037.11" x2="156.3" y2="1043.21" stroke="#e5202a" stroke-width="1.4"/><line x1="154.1" y1="1037.11" x2="158.5" y2="1037.11" stroke="#e5202a" stroke-width="1.4"/><line x1="154.1" y1="1043.21" x2="158.5" y2="1043.21" stroke="#e5202a" stroke-width="1.4"/><rect x="154.3" y="1038.16" width="4" height="4" fill="#e5202a"/><line x1="235.5" y1="1024.92" x2="235.5" y2="1030" stroke="#e5202a" stroke-width="1.4"/><line x1="233.3" y1="1024.92" x2="237.7" y2="1024.92" stroke="#e5202a" stroke-width="1.4"/><line x1="233.3" y1="1030" x2="237.7" y2="1030" stroke="#e5202a" stroke-width="1.4"/><rect x="233.5" y="1025.46" width="4" height="4" fill="#e5202a"/><path d="M76.8,1067.08 L156.3,1045.24 L235.5,1015.78" stroke="#1f4ea6" stroke-width="1.4" fill="none"/><line x1="76.8" y1="1066.07" x2="76.8" y2="1068.1" stroke="#1f4ea6" stroke-width="1.4"/><line x1="74.6" y1="1066.07" x2="79" y2="1066.07" stroke="#1f4ea6" stroke-width="1.4"/><line x1="74.6" y1="1068.1" x2="79" y2="1068.1" stroke="#1f4ea6" stroke-width="1.4"/><rect x="74.8" y="1065.08" width="4" height="4" fill="#1f4ea6"/><line x1="156.3" y1="1042.7" x2="156.3" y2="1047.78" stroke="#1f4ea6" stroke-width="1.4"/><line x1="154.1" y1="1042.7" x2="158.5" y2="1042.7" stroke="#1f4ea6" stroke-width="1.4"/><line x1="154.1" y1="1047.78" x2="158.5" y2="1047.78" stroke="#1f4ea6" stroke-width="1.4"/><rect x="154.3" y="1043.24" width="4" height="4" fill="#1f4ea6"/><line x1="235.5" y1="1013.74" x2="235.5" y2="1017.81" stroke="#1f4ea6" stroke-width="1.4"/><line x1="233.3" y1="1013.74" x2="237.7" y2="1013.74" stroke="#1f4ea6" stroke-width="1.4"/><line x1="233.3" y1="1017.81" x2="237.7" y2="1017.81" stroke="#1f4ea6" stroke-width="1.4"/><rect x="233.5" y="1013.78" width="4" height="4" fill="#1f4ea6"/><path d="M76.8,1067.08 L156.3,1036.1 L235.5,1013.24" stroke="#1f8a45" stroke-width="1.4" fill="none"/><line x1="76.8" y1="1066.07" x2="76.8" y2="1068.1" stroke="#1f8a45" stroke-width="1.4"/><line x1="74.6" y1="1066.07" x2="79" y2="1066.07" stroke="#1f8a45" stroke-width="1.4"/><line x1="74.6" y1="1068.1" x2="79" y2="1068.1" stroke="#1f8a45" stroke-width="1.4"/><path d="M74.8,1065.08 L78.8,1065.08 L76.8,1069.08 Z" fill="#1f8a45"/><line x1="156.3" y1="1033.56" x2="156.3" y2="1038.64" stroke="#1f8a45" stroke-width="1.4"/><line x1="154.1" y1="1033.56" x2="158.5" y2="1033.56" stroke="#1f8a45" stroke-width="1.4"/><line x1="154.1" y1="1038.64" x2="158.5" y2="1038.64" stroke="#1f8a45" stroke-width="1.4"/><path d="M154.3,1034.1 L158.3,1034.1 L156.3,1038.1 Z" fill="#1f8a45"/><line x1="235.5" y1="1010.7" x2="235.5" y2="1015.78" stroke="#1f8a45" stroke-width="1.4"/><line x1="233.3" y1="1010.7" x2="237.7" y2="1010.7" stroke="#1f8a45" stroke-width="1.4"/><line x1="233.3" y1="1015.78" x2="237.7" y2="1015.78" stroke="#1f8a45" stroke-width="1.4"/><path d="M233.5,1011.24 L237.5,1011.24 L235.5,1015.24 Z" fill="#1f8a45"/><path d="M76.8,1067.08 L156.3,1050.32 L235.5,1063.02" stroke="#8a4cb8" stroke-width="1.4" fill="none"/><line x1="76.8" y1="1066.07" x2="76.8" y2="1068.1" stroke="#8a4cb8" stroke-width="1.4"/><line x1="74.6" y1="1066.07" x2="79" y2="1066.07" stroke="#8a4cb8" stroke-width="1.4"/><line x1="74.6" y1="1068.1" x2="79" y2="1068.1" stroke="#8a4cb8" stroke-width="1.4"/><path d="M76.8,1064.58 L79.3,1067.08 L76.8,1069.58 L74.3,1067.08 Z" fill="#8a4cb8"/><line x1="156.3" y1="1046.76" x2="156.3" y2="1053.88" stroke="#8a4cb8" stroke-width="1.4"/><line x1="154.1" y1="1046.76" x2="158.5" y2="1046.76" stroke="#8a4cb8" stroke-width="1.4"/><line x1="154.1" y1="1053.88" x2="158.5" y2="1053.88" stroke="#8a4cb8" stroke-width="1.4"/><path d="M156.3,1047.82 L158.8,1050.32 L156.3,1052.82 L153.8,1050.32 Z" fill="#8a4cb8"/><line x1="235.5" y1="1060.48" x2="235.5" y2="1065.56" stroke="#8a4cb8" stroke-width="1.4"/><line x1="233.3" y1="1060.48" x2="237.7" y2="1060.48" stroke="#8a4cb8" stroke-width="1.4"/><line x1="233.3" y1="1065.56" x2="237.7" y2="1065.56" stroke="#8a4cb8" stroke-width="1.4"/><path d="M235.5,1060.52 L238,1063.02 L235.5,1065.52 L233,1063.02 Z" fill="#8a4cb8"/><path d="M76.8,1067.08 L156.3,1062 L235.5,1066.58" stroke="#f07f22" stroke-width="1.4" fill="none"/><line x1="76.8" y1="1066.07" x2="76.8" y2="1068.1" stroke="#f07f22" stroke-width="1.4"/><line x1="74.6" y1="1066.07" x2="79" y2="1066.07" stroke="#f07f22" stroke-width="1.4"/><line x1="74.6" y1="1068.1" x2="79" y2="1068.1" stroke="#f07f22" stroke-width="1.4"/><path d="M74.8,1065.08 L78.8,1065.08 L76.8,1069.08 Z" fill="#f07f22"/><line x1="156.3" y1="1057.43" x2="156.3" y2="1066.58" stroke="#f07f22" stroke-width="1.4"/><line x1="154.1" y1="1057.43" x2="158.5" y2="1057.43" stroke="#f07f22" stroke-width="1.4"/><line x1="154.1" y1="1066.58" x2="158.5" y2="1066.58" stroke="#f07f22" stroke-width="1.4"/><path d="M154.3,1060 L158.3,1060 L156.3,1064 Z" fill="#f07f22"/><line x1="235.5" y1="1064.04" x2="235.5" y2="1069.12" stroke="#f07f22" stroke-width="1.4"/><line x1="233.3" y1="1064.04" x2="237.7" y2="1064.04" stroke="#f07f22" stroke-width="1.4"/><line x1="233.3" y1="1069.12" x2="237.7" y2="1069.12" stroke="#f07f22" stroke-width="1.4"/><path d="M233.5,1064.58 L237.5,1064.58 L235.5,1068.58 Z" fill="#f07f22"/><path d="M76.8,1067.08 L156.3,1088.42 L235.5,1091.47" stroke="#111111" stroke-width="1.4" fill="none"/><line x1="76.8" y1="1066.07" x2="76.8" y2="1068.1" stroke="#111111" stroke-width="1.4"/><line x1="74.6" y1="1066.07" x2="79" y2="1066.07" stroke="#111111" stroke-width="1.4"/><line x1="74.6" y1="1068.1" x2="79" y2="1068.1" stroke="#111111" stroke-width="1.4"/><rect x="74.8" y="1065.08" width="4" height="4" fill="#111111"/><line x1="156.3" y1="1085.88" x2="156.3" y2="1090.96" stroke="#111111" stroke-width="1.4"/><line x1="154.1" y1="1085.88" x2="158.5" y2="1085.88" stroke="#111111" stroke-width="1.4"/><line x1="154.1" y1="1090.96" x2="158.5" y2="1090.96" stroke="#111111" stroke-width="1.4"/><rect x="154.3" y="1086.42" width="4" height="4" fill="#111111"/><line x1="235.5" y1="1090.45" x2="235.5" y2="1092.48" stroke="#111111" stroke-width="1.4"/><line x1="233.3" y1="1090.45" x2="237.7" y2="1090.45" stroke="#111111" stroke-width="1.4"/><line x1="233.3" y1="1092.48" x2="237.7" y2="1092.48" stroke="#111111" stroke-width="1.4"/><rect x="233.5" y="1089.47" width="4" height="4" fill="#111111"/><line x1="45.7" y1="921.8" x2="58.4" y2="921.8" stroke="#9a9a9a" stroke-width="2"/><circle cx="52.05" cy="921.8" r="2.2" fill="#9a9a9a"/><text x="62.5" y="924.82" font-size="10.6" textLength="36.38" lengthAdjust="spacingAndGlyphs">DMSO</text><line x1="45.7" y1="934" x2="58.4" y2="934" stroke="#e5202a" stroke-width="2"/><rect x="49.85" y="931.8" width="4.4" height="4.4" fill="#e5202a"/><text x="62.5" y="937.02" font-size="10.6" textLength="32.35" lengthAdjust="spacingAndGlyphs">cDDP</text><line x1="45.7" y1="946.9" x2="58.4" y2="946.9" stroke="#1f4ea6" stroke-width="2"/><rect x="49.85" y="944.7" width="4.4" height="4.4" fill="#1f4ea6"/><text x="62.5" y="949.92" font-size="10.6" textLength="63.36" lengthAdjust="spacingAndGlyphs">Venetoclax</text><line x1="45.7" y1="960.6" x2="58.4" y2="960.6" stroke="#1f8a45" stroke-width="2"/><path d="M49.85,958.4 L54.25,958.4 L52.05,962.8 Z" fill="#1f8a45"/><text x="62.5" y="963.62" font-size="10.6" textLength="26.95" lengthAdjust="spacingAndGlyphs">HCQ</text><line x1="45.7" y1="974.8" x2="58.4" y2="974.8" stroke="#8a4cb8" stroke-width="2"/><path d="M52.05,972.1 L54.75,974.8 L52.05,977.5 L49.35,974.8 Z" fill="#8a4cb8"/><text x="62.5" y="977.82" font-size="10.6" textLength="102.79" lengthAdjust="spacingAndGlyphs">cDDP+Venetoclax</text><line x1="45.7" y1="988.4" x2="58.4" y2="988.4" stroke="#f07f22" stroke-width="2"/><path d="M49.85,986.2 L54.25,986.2 L52.05,990.6 Z" fill="#f07f22"/><text x="62.5" y="991.42" font-size="10.6" textLength="66.38" lengthAdjust="spacingAndGlyphs">cDDP+HCQ</text><line x1="45.7" y1="1002.1" x2="58.4" y2="1002.1" stroke="#111111" stroke-width="2"/><rect x="49.85" y="999.9" width="4.4" height="4.4" fill="#111111"/><text x="62.5" y="1005.12" font-size="10.6" textLength="136.82" lengthAdjust="spacingAndGlyphs">cDDP+Venetoclax+HCQ</text><path d="M113.5,921.6 L116,921.6 L116,931.2 L113.5,931.2" stroke="#222" stroke-width="1" fill="none"/><text transform="translate(115.22,919.8) rotate(90)" font-size="14" font-weight="400" stroke="#000" stroke-width="0.35" text-anchor="middle">*</text><text transform="translate(115.22,926) rotate(90)" font-size="14" font-weight="400" stroke="#000" stroke-width="0.35" text-anchor="middle">*</text><text transform="translate(115.22,932.2) rotate(90)" font-size="14" font-weight="400" stroke="#000" stroke-width="0.35" text-anchor="middle">*</text><path d="M172.9,931.2 L175.9,931.2 L175.9,972.2 L172.9,972.2" stroke="#222" stroke-width="1" fill="none"/><text transform="translate(173.72,946.1) rotate(90)" font-size="14" font-weight="400" stroke="#000" stroke-width="0.35" text-anchor="middle">*</text><text transform="translate(173.72,952.3) rotate(90)" font-size="14" font-weight="400" stroke="#000" stroke-width="0.35" text-anchor="middle">*</text><text transform="translate(173.72,958.5) rotate(90)" font-size="14" font-weight="400" stroke="#000" stroke-width="0.35" text-anchor="middle">*</text><path d="M186.5,931.2 L189.5,931.2 L189.5,985.8 L186.5,985.8" stroke="#222" stroke-width="1" fill="none"/><text transform="translate(186.02,953.1) rotate(90)" font-size="14" font-weight="400" stroke="#000" stroke-width="0.35" text-anchor="middle">*</text><text transform="translate(186.02,959.3) rotate(90)" font-size="14" font-weight="400" stroke="#000" stroke-width="0.35" text-anchor="middle">*</text><text transform="translate(186.02,965.5) rotate(90)" font-size="14" font-weight="400" stroke="#000" stroke-width="0.35" text-anchor="middle">*</text><path d="M206.5,931.2 L209.5,931.2 L209.5,1001.2 L206.5,1001.2" stroke="#222" stroke-width="1" fill="none"/><text transform="translate(206.62,960.9) rotate(90)" font-size="14" font-weight="400" stroke="#000" stroke-width="0.35" text-anchor="middle">*</text><text transform="translate(206.62,967.1) rotate(90)" font-size="14" font-weight="400" stroke="#000" stroke-width="0.35" text-anchor="middle">*</text><text transform="translate(206.62,973.3) rotate(90)" font-size="14" font-weight="400" stroke="#000" stroke-width="0.35" text-anchor="middle">*</text><line x1="306.1" y1="916.9" x2="306.1" y2="1119.5" stroke="#111" stroke-width="1.3"/><line x1="305.5" y1="1118.9" x2="522" y2="1118.9" stroke="#111" stroke-width="1.3"/><line x1="302.9" y1="1118.9" x2="306.1" y2="1118.9" stroke="#111" stroke-width="1.2"/><text x="300.5" y="1123.58" font-size="11.6" text-anchor="end" textLength="7.1" lengthAdjust="spacingAndGlyphs">0</text><line x1="302.9" y1="1068.5" x2="306.1" y2="1068.5" stroke="#111" stroke-width="1.2"/><text x="300.5" y="1073.18" font-size="11.6" text-anchor="end" textLength="7.1" lengthAdjust="spacingAndGlyphs">1</text><line x1="302.9" y1="1018.1" x2="306.1" y2="1018.1" stroke="#111" stroke-width="1.2"/><text x="300.5" y="1022.78" font-size="11.6" text-anchor="end" textLength="7.1" lengthAdjust="spacingAndGlyphs">2</text><line x1="302.9" y1="967.7" x2="306.1" y2="967.7" stroke="#111" stroke-width="1.2"/><text x="300.5" y="972.38" font-size="11.6" text-anchor="end" textLength="7.1" lengthAdjust="spacingAndGlyphs">3</text><line x1="302.9" y1="917.3" x2="306.1" y2="917.3" stroke="#111" stroke-width="1.2"/><text x="300.5" y="921.98" font-size="11.6" text-anchor="end" textLength="7.1" lengthAdjust="spacingAndGlyphs">4</text><line x1="346" y1="1118.9" x2="346" y2="1122.3" stroke="#111" stroke-width="1.2"/><text x="346" y="1134.3" font-size="11.6" text-anchor="middle" textLength="7.61" lengthAdjust="spacingAndGlyphs">0</text><line x1="425.5" y1="1118.9" x2="425.5" y2="1122.3" stroke="#111" stroke-width="1.2"/><text x="425.5" y="1134.3" font-size="11.6" text-anchor="middle" textLength="15.22" lengthAdjust="spacingAndGlyphs">48</text><line x1="504.7" y1="1118.9" x2="504.7" y2="1122.3" stroke="#111" stroke-width="1.2"/><text x="504.7" y="1134.3" font-size="11.6" text-anchor="middle" textLength="15.22" lengthAdjust="spacingAndGlyphs">72</text><text x="411.9" y="907" font-size="14" text-anchor="middle">H196/VP-16</text><text x="423.8" y="1147.6" font-size="12" text-anchor="middle" textLength="57.6" lengthAdjust="spacingAndGlyphs">Time ( h )</text><text transform="translate(284.2,1020) rotate(-90)" font-size="12.3" text-anchor="middle" textLength="154" lengthAdjust="spacingAndGlyphs">Relative cell viability to 0 h</text><text x="266.5" y="904" font-size="17" font-family='"Liberation Serif",serif'>J</text><path d="M346,1065.98 L425.5,1018.1 L504.7,1013.06" stroke="#9a9a9a" stroke-width="1.4" fill="none"/><line x1="346" y1="1064.97" x2="346" y2="1066.99" stroke="#9a9a9a" stroke-width="1.4"/><line x1="343.8" y1="1064.97" x2="348.2" y2="1064.97" stroke="#9a9a9a" stroke-width="1.4"/><line x1="343.8" y1="1066.99" x2="348.2" y2="1066.99" stroke="#9a9a9a" stroke-width="1.4"/><circle cx="346" cy="1065.98" r="2" fill="#9a9a9a"/><line x1="425.5" y1="1014.57" x2="425.5" y2="1021.63" stroke="#9a9a9a" stroke-width="1.4"/><line x1="423.3" y1="1014.57" x2="427.7" y2="1014.57" stroke="#9a9a9a" stroke-width="1.4"/><line x1="423.3" y1="1021.63" x2="427.7" y2="1021.63" stroke="#9a9a9a" stroke-width="1.4"/><circle cx="425.5" cy="1018.1" r="2" fill="#9a9a9a"/><line x1="504.7" y1="1003.99" x2="504.7" y2="1022.13" stroke="#9a9a9a" stroke-width="1.4"/><line x1="502.5" y1="1003.99" x2="506.9" y2="1003.99" stroke="#9a9a9a" stroke-width="1.4"/><line x1="502.5" y1="1022.13" x2="506.9" y2="1022.13" stroke="#9a9a9a" stroke-width="1.4"/><circle cx="504.7" cy="1013.06" r="2" fill="#9a9a9a"/><path d="M346,1065.98 L425.5,1054.39 L504.7,1064.47" stroke="#e5202a" stroke-width="1.4" fill="none"/><line x1="346" y1="1064.97" x2="346" y2="1066.99" stroke="#e5202a" stroke-width="1.4"/><line x1="343.8" y1="1064.97" x2="348.2" y2="1064.97" stroke="#e5202a" stroke-width="1.4"/><line x1="343.8" y1="1066.99" x2="348.2" y2="1066.99" stroke="#e5202a" stroke-width="1.4"/><rect x="344" y="1063.98" width="4" height="4" fill="#e5202a"/><line x1="425.5" y1="1047.84" x2="425.5" y2="1060.94" stroke="#e5202a" stroke-width="1.4"/><line x1="423.3" y1="1047.84" x2="427.7" y2="1047.84" stroke="#e5202a" stroke-width="1.4"/><line x1="423.3" y1="1060.94" x2="427.7" y2="1060.94" stroke="#e5202a" stroke-width="1.4"/><rect x="423.5" y="1052.39" width="4" height="4" fill="#e5202a"/><line x1="504.7" y1="1058.42" x2="504.7" y2="1070.52" stroke="#e5202a" stroke-width="1.4"/><line x1="502.5" y1="1058.42" x2="506.9" y2="1058.42" stroke="#e5202a" stroke-width="1.4"/><line x1="502.5" y1="1070.52" x2="506.9" y2="1070.52" stroke="#e5202a" stroke-width="1.4"/><rect x="502.7" y="1062.47" width="4" height="4" fill="#e5202a"/><path d="M346,1065.98 L425.5,1031.71 L504.7,1025.16" stroke="#1f4ea6" stroke-width="1.4" fill="none"/><line x1="346" y1="1064.97" x2="346" y2="1066.99" stroke="#1f4ea6" stroke-width="1.4"/><line x1="343.8" y1="1064.97" x2="348.2" y2="1064.97" stroke="#1f4ea6" stroke-width="1.4"/><line x1="343.8" y1="1066.99" x2="348.2" y2="1066.99" stroke="#1f4ea6" stroke-width="1.4"/><rect x="344" y="1063.98" width="4" height="4" fill="#1f4ea6"/><line x1="425.5" y1="1028.68" x2="425.5" y2="1034.73" stroke="#1f4ea6" stroke-width="1.4"/><line x1="423.3" y1="1028.68" x2="427.7" y2="1028.68" stroke="#1f4ea6" stroke-width="1.4"/><line x1="423.3" y1="1034.73" x2="427.7" y2="1034.73" stroke="#1f4ea6" stroke-width="1.4"/><rect x="423.5" y="1029.71" width="4" height="4" fill="#1f4ea6"/><line x1="504.7" y1="1020.12" x2="504.7" y2="1030.2" stroke="#1f4ea6" stroke-width="1.4"/><line x1="502.5" y1="1020.12" x2="506.9" y2="1020.12" stroke="#1f4ea6" stroke-width="1.4"/><line x1="502.5" y1="1030.2" x2="506.9" y2="1030.2" stroke="#1f4ea6" stroke-width="1.4"/><rect x="502.7" y="1023.16" width="4" height="4" fill="#1f4ea6"/><path d="M346,1065.98 L425.5,1054.39 L504.7,1050.86" stroke="#2fa94a" stroke-width="1.4" fill="none"/><line x1="346" y1="1064.97" x2="346" y2="1066.99" stroke="#2fa94a" stroke-width="1.4"/><line x1="343.8" y1="1064.97" x2="348.2" y2="1064.97" stroke="#2fa94a" stroke-width="1.4"/><line x1="343.8" y1="1066.99" x2="348.2" y2="1066.99" stroke="#2fa94a" stroke-width="1.4"/><path d="M344,1063.98 L348,1063.98 L346,1067.98 Z" fill="#2fa94a"/><line x1="425.5" y1="1049.35" x2="425.5" y2="1059.43" stroke="#2fa94a" stroke-width="1.4"/><line x1="423.3" y1="1049.35" x2="427.7" y2="1049.35" stroke="#2fa94a" stroke-width="1.4"/><line x1="423.3" y1="1059.43" x2="427.7" y2="1059.43" stroke="#2fa94a" stroke-width="1.4"/><path d="M423.5,1052.39 L427.5,1052.39 L425.5,1056.39 Z" fill="#2fa94a"/><line x1="504.7" y1="1045.82" x2="504.7" y2="1055.9" stroke="#2fa94a" stroke-width="1.4"/><line x1="502.5" y1="1045.82" x2="506.9" y2="1045.82" stroke="#2fa94a" stroke-width="1.4"/><line x1="502.5" y1="1055.9" x2="506.9" y2="1055.9" stroke="#2fa94a" stroke-width="1.4"/><path d="M502.7,1048.86 L506.7,1048.86 L504.7,1052.86 Z" fill="#2fa94a"/><path d="M346,1065.98 L425.5,1069.51 L504.7,1080.6" stroke="#8a4cb8" stroke-width="1.4" fill="none"/><line x1="346" y1="1064.97" x2="346" y2="1066.99" stroke="#8a4cb8" stroke-width="1.4"/><line x1="343.8" y1="1064.97" x2="348.2" y2="1064.97" stroke="#8a4cb8" stroke-width="1.4"/><line x1="343.8" y1="1066.99" x2="348.2" y2="1066.99" stroke="#8a4cb8" stroke-width="1.4"/><path d="M346,1063.48 L348.5,1065.98 L346,1068.48 L343.5,1065.98 Z" fill="#8a4cb8"/><line x1="425.5" y1="1066.99" x2="425.5" y2="1072.03" stroke="#8a4cb8" stroke-width="1.4"/><line x1="423.3" y1="1066.99" x2="427.7" y2="1066.99" stroke="#8a4cb8" stroke-width="1.4"/><line x1="423.3" y1="1072.03" x2="427.7" y2="1072.03" stroke="#8a4cb8" stroke-width="1.4"/><path d="M425.5,1067.01 L428,1069.51 L425.5,1072.01 L423,1069.51 Z" fill="#8a4cb8"/><line x1="504.7" y1="1079.08" x2="504.7" y2="1082.11" stroke="#8a4cb8" stroke-width="1.4"/><line x1="502.5" y1="1079.08" x2="506.9" y2="1079.08" stroke="#8a4cb8" stroke-width="1.4"/><line x1="502.5" y1="1082.11" x2="506.9" y2="1082.11" stroke="#8a4cb8" stroke-width="1.4"/><path d="M504.7,1078.1 L507.2,1080.6 L504.7,1083.1 L502.2,1080.6 Z" fill="#8a4cb8"/><path d="M346,1065.98 L425.5,1070.52 L504.7,1078.58" stroke="#f07f22" stroke-width="1.4" fill="none"/><line x1="346" y1="1064.97" x2="346" y2="1066.99" stroke="#f07f22" stroke-width="1.4"/><line x1="343.8" y1="1064.97" x2="348.2" y2="1064.97" stroke="#f07f22" stroke-width="1.4"/><line x1="343.8" y1="1066.99" x2="348.2" y2="1066.99" stroke="#f07f22" stroke-width="1.4"/><path d="M344,1063.98 L348,1063.98 L346,1067.98 Z" fill="#f07f22"/><line x1="425.5" y1="1068" x2="425.5" y2="1073.04" stroke="#f07f22" stroke-width="1.4"/><line x1="423.3" y1="1068" x2="427.7" y2="1068" stroke="#f07f22" stroke-width="1.4"/><line x1="423.3" y1="1073.04" x2="427.7" y2="1073.04" stroke="#f07f22" stroke-width="1.4"/><path d="M423.5,1068.52 L427.5,1068.52 L425.5,1072.52 Z" fill="#f07f22"/><line x1="504.7" y1="1076.56" x2="504.7" y2="1080.6" stroke="#f07f22" stroke-width="1.4"/><line x1="502.5" y1="1076.56" x2="506.9" y2="1076.56" stroke="#f07f22" stroke-width="1.4"/><line x1="502.5" y1="1080.6" x2="506.9" y2="1080.6" stroke="#f07f22" stroke-width="1.4"/><path d="M502.7,1076.58 L506.7,1076.58 L504.7,1080.58 Z" fill="#f07f22"/><path d="M346,1065.98 L425.5,1088.66 L504.7,1096.22" stroke="#111111" stroke-width="1.4" fill="none"/><line x1="346" y1="1064.97" x2="346" y2="1066.99" stroke="#111111" stroke-width="1.4"/><line x1="343.8" y1="1064.97" x2="348.2" y2="1064.97" stroke="#111111" stroke-width="1.4"/><line x1="343.8" y1="1066.99" x2="348.2" y2="1066.99" stroke="#111111" stroke-width="1.4"/><rect x="344" y="1063.98" width="4" height="4" fill="#111111"/><line x1="425.5" y1="1086.14" x2="425.5" y2="1091.18" stroke="#111111" stroke-width="1.4"/><line x1="423.3" y1="1086.14" x2="427.7" y2="1086.14" stroke="#111111" stroke-width="1.4"/><line x1="423.3" y1="1091.18" x2="427.7" y2="1091.18" stroke="#111111" stroke-width="1.4"/><rect x="423.5" y="1086.66" width="4" height="4" fill="#111111"/><line x1="504.7" y1="1093.7" x2="504.7" y2="1098.74" stroke="#111111" stroke-width="1.4"/><line x1="502.5" y1="1093.7" x2="506.9" y2="1093.7" stroke="#111111" stroke-width="1.4"/><line x1="502.5" y1="1098.74" x2="506.9" y2="1098.74" stroke="#111111" stroke-width="1.4"/><rect x="502.7" y="1094.22" width="4" height="4" fill="#111111"/><line x1="312" y1="922.7" x2="325.7" y2="922.7" stroke="#9a9a9a" stroke-width="2"/><circle cx="318.85" cy="922.7" r="2.2" fill="#9a9a9a"/><text x="329.6" y="925.52" font-size="10.6" textLength="37.08" lengthAdjust="spacingAndGlyphs">DMSO</text><line x1="312" y1="935.9" x2="325.7" y2="935.9" stroke="#e5202a" stroke-width="2"/><rect x="316.65" y="933.7" width="4.4" height="4.4" fill="#e5202a"/><text x="329.6" y="938.72" font-size="10.6" textLength="34.35" lengthAdjust="spacingAndGlyphs">VP-16</text><line x1="312" y1="948.4" x2="325.7" y2="948.4" stroke="#1f4ea6" stroke-width="2"/><rect x="316.65" y="946.2" width="4.4" height="4.4" fill="#1f4ea6"/><text x="329.6" y="951.22" font-size="10.6" textLength="64.58" lengthAdjust="spacingAndGlyphs">Venetoclax</text><line x1="312" y1="962.2" x2="325.7" y2="962.2" stroke="#2fa94a" stroke-width="2"/><path d="M316.65,960 L321.05,960 L318.85,964.4 Z" fill="#2fa94a"/><text x="329.6" y="965.02" font-size="10.6" textLength="27.47" lengthAdjust="spacingAndGlyphs">HCQ</text><line x1="312" y1="975.9" x2="325.7" y2="975.9" stroke="#8a4cb8" stroke-width="2"/><path d="M318.85,973.2 L321.55,975.9 L318.85,978.6 L316.15,975.9 Z" fill="#8a4cb8"/><text x="329.6" y="978.72" font-size="10.6" textLength="106.14" lengthAdjust="spacingAndGlyphs">VP-16+Venetoclax</text><line x1="312" y1="988.9" x2="325.7" y2="988.9" stroke="#f07f22" stroke-width="2"/><path d="M316.65,986.7 L321.05,986.7 L318.85,991.1 Z" fill="#f07f22"/><text x="329.6" y="991.72" font-size="10.6" textLength="69.03" lengthAdjust="spacingAndGlyphs">VP-16+HCQ</text><line x1="312" y1="1002.6" x2="325.7" y2="1002.6" stroke="#111111" stroke-width="2"/><rect x="316.65" y="1000.4" width="4.4" height="4.4" fill="#111111"/><text x="329.6" y="1005.42" font-size="10.6" textLength="140.83" lengthAdjust="spacingAndGlyphs">VP-16+Venetoclax+HCQ</text><path d="M375.2,923 L377.7,923 L377.7,934 L375.2,934" stroke="#222" stroke-width="1" fill="none"/><text transform="translate(376.72,922.3) rotate(90)" font-size="14" font-weight="400" stroke="#000" stroke-width="0.35" text-anchor="middle">*</text><text transform="translate(376.72,928.5) rotate(90)" font-size="14" font-weight="400" stroke="#000" stroke-width="0.35" text-anchor="middle">*</text><text transform="translate(376.72,934.7) rotate(90)" font-size="14" font-weight="400" stroke="#000" stroke-width="0.35" text-anchor="middle">*</text><path d="M439.6,931.2 L442.6,931.2 L442.6,973.9 L439.6,973.9" stroke="#222" stroke-width="1" fill="none"/><text transform="translate(441.22,948.8) rotate(90)" font-size="14" font-weight="400" stroke="#000" stroke-width="0.35" text-anchor="middle">*</text><text transform="translate(441.22,955) rotate(90)" font-size="14" font-weight="400" stroke="#000" stroke-width="0.35" text-anchor="middle">*</text><text transform="translate(441.22,961.2) rotate(90)" font-size="14" font-weight="400" stroke="#000" stroke-width="0.35" text-anchor="middle">*</text><path d="M460,931.2 L463,931.2 L463,987.5 L460,987.5" stroke="#222" stroke-width="1" fill="none"/><text transform="translate(461.22,952.8) rotate(90)" font-size="14" font-weight="400" stroke="#000" stroke-width="0.35" text-anchor="middle">*</text><text transform="translate(461.22,959) rotate(90)" font-size="14" font-weight="400" stroke="#000" stroke-width="0.35" text-anchor="middle">*</text><text transform="translate(461.22,965.2) rotate(90)" font-size="14" font-weight="400" stroke="#000" stroke-width="0.35" text-anchor="middle">*</text><path d="M475.4,931.2 L478.4,931.2 L478.4,1000.1 L475.4,1000.1" stroke="#222" stroke-width="1" fill="none"/><text transform="translate(476.72,956.8) rotate(90)" font-size="14" font-weight="400" stroke="#000" stroke-width="0.35" text-anchor="middle">*</text><text transform="translate(476.72,963) rotate(90)" font-size="14" font-weight="400" stroke="#000" stroke-width="0.35" text-anchor="middle">*</text><text transform="translate(476.72,969.2) rotate(90)" font-size="14" font-weight="400" stroke="#000" stroke-width="0.35" text-anchor="middle">*</text><line x1="566.2" y1="916.4" x2="566.2" y2="1119.7" stroke="#111" stroke-width="1.3"/><line x1="565.6" y1="1119.1" x2="786" y2="1119.1" stroke="#111" stroke-width="1.3"/><line x1="563" y1="1119.1" x2="566.2" y2="1119.1" stroke="#111" stroke-width="1.2"/><text x="560.6" y="1123.78" font-size="11.6" text-anchor="end" textLength="7.1" lengthAdjust="spacingAndGlyphs">0</text><line x1="563" y1="1078.7" x2="566.2" y2="1078.7" stroke="#111" stroke-width="1.2"/><text x="560.6" y="1083.38" font-size="11.6" text-anchor="end" textLength="17.74" lengthAdjust="spacingAndGlyphs">0.5</text><line x1="563" y1="1038.3" x2="566.2" y2="1038.3" stroke="#111" stroke-width="1.2"/><text x="560.6" y="1042.98" font-size="11.6" text-anchor="end" textLength="7.1" lengthAdjust="spacingAndGlyphs">1</text><line x1="563" y1="997.9" x2="566.2" y2="997.9" stroke="#111" stroke-width="1.2"/><text x="560.6" y="1002.58" font-size="11.6" text-anchor="end" textLength="17.74" lengthAdjust="spacingAndGlyphs">1.5</text><line x1="563" y1="957.5" x2="566.2" y2="957.5" stroke="#111" stroke-width="1.2"/><text x="560.6" y="962.18" font-size="11.6" text-anchor="end" textLength="7.1" lengthAdjust="spacingAndGlyphs">2</text><line x1="563" y1="917.1" x2="566.2" y2="917.1" stroke="#111" stroke-width="1.2"/><text x="560.6" y="921.78" font-size="11.6" text-anchor="end" textLength="17.74" lengthAdjust="spacingAndGlyphs">2.5</text><line x1="607.4" y1="1119.1" x2="607.4" y2="1122.5" stroke="#111" stroke-width="1.2"/><text x="607.4" y="1134.3" font-size="11.6" text-anchor="middle" textLength="7.61" lengthAdjust="spacingAndGlyphs">0</text><line x1="688.9" y1="1119.1" x2="688.9" y2="1122.5" stroke="#111" stroke-width="1.2"/><text x="688.9" y="1134.3" font-size="11.6" text-anchor="middle" textLength="15.22" lengthAdjust="spacingAndGlyphs">48</text><line x1="772.5" y1="1119.1" x2="772.5" y2="1122.5" stroke="#111" stroke-width="1.2"/><text x="772.5" y="1134.3" font-size="11.6" text-anchor="middle" textLength="15.22" lengthAdjust="spacingAndGlyphs">72</text><text x="681.9" y="907" font-size="14" text-anchor="middle">H196/PTX</text><text x="689.6" y="1147.6" font-size="12" text-anchor="middle" textLength="54.8" lengthAdjust="spacingAndGlyphs">Time ( h )</text><text transform="translate(540.9,1020.6) rotate(-90)" font-size="12.3" text-anchor="middle" textLength="157.8" lengthAdjust="spacingAndGlyphs">Relative cell viability to 0 h</text><text x="526.5" y="904" font-size="17" font-family='"Liberation Serif",serif'>K</text><path d="M607.4,1034.26 L688.9,1003.56 L772.5,957.5" stroke="#9a9a9a" stroke-width="1.4" fill="none"/><line x1="607.4" y1="1032.64" x2="607.4" y2="1035.88" stroke="#9a9a9a" stroke-width="1.4"/><line x1="605.2" y1="1032.64" x2="609.6" y2="1032.64" stroke="#9a9a9a" stroke-width="1.4"/><line x1="605.2" y1="1035.88" x2="609.6" y2="1035.88" stroke="#9a9a9a" stroke-width="1.4"/><circle cx="607.4" cy="1034.26" r="2" fill="#9a9a9a"/><line x1="688.9" y1="996.28" x2="688.9" y2="1010.83" stroke="#9a9a9a" stroke-width="1.4"/><line x1="686.7" y1="996.28" x2="691.1" y2="996.28" stroke="#9a9a9a" stroke-width="1.4"/><line x1="686.7" y1="1010.83" x2="691.1" y2="1010.83" stroke="#9a9a9a" stroke-width="1.4"/><circle cx="688.9" cy="1003.56" r="2" fill="#9a9a9a"/><line x1="772.5" y1="944.57" x2="772.5" y2="970.43" stroke="#9a9a9a" stroke-width="1.4"/><line x1="770.3" y1="944.57" x2="774.7" y2="944.57" stroke="#9a9a9a" stroke-width="1.4"/><line x1="770.3" y1="970.43" x2="774.7" y2="970.43" stroke="#9a9a9a" stroke-width="1.4"/><circle cx="772.5" cy="957.5" r="2" fill="#9a9a9a"/><path d="M607.4,1034.26 L688.9,1047.19 L772.5,1027.8" stroke="#e5202a" stroke-width="1.4" fill="none"/><line x1="607.4" y1="1032.64" x2="607.4" y2="1035.88" stroke="#e5202a" stroke-width="1.4"/><line x1="605.2" y1="1032.64" x2="609.6" y2="1032.64" stroke="#e5202a" stroke-width="1.4"/><line x1="605.2" y1="1035.88" x2="609.6" y2="1035.88" stroke="#e5202a" stroke-width="1.4"/><rect x="605.4" y="1032.26" width="4" height="4" fill="#e5202a"/><line x1="688.9" y1="1039.92" x2="688.9" y2="1054.46" stroke="#e5202a" stroke-width="1.4"/><line x1="686.7" y1="1039.92" x2="691.1" y2="1039.92" stroke="#e5202a" stroke-width="1.4"/><line x1="686.7" y1="1054.46" x2="691.1" y2="1054.46" stroke="#e5202a" stroke-width="1.4"/><rect x="686.9" y="1045.19" width="4" height="4" fill="#e5202a"/><line x1="772.5" y1="1022.14" x2="772.5" y2="1033.45" stroke="#e5202a" stroke-width="1.4"/><line x1="770.3" y1="1022.14" x2="774.7" y2="1022.14" stroke="#e5202a" stroke-width="1.4"/><line x1="770.3" y1="1033.45" x2="774.7" y2="1033.45" stroke="#e5202a" stroke-width="1.4"/><rect x="770.5" y="1025.8" width="4" height="4" fill="#e5202a"/><path d="M607.4,1034.26 L688.9,1001.13 L772.5,939.72" stroke="#1f4ea6" stroke-width="1.4" fill="none"/><line x1="607.4" y1="1032.64" x2="607.4" y2="1035.88" stroke="#1f4ea6" stroke-width="1.4"/><line x1="605.2" y1="1032.64" x2="609.6" y2="1032.64" stroke="#1f4ea6" stroke-width="1.4"/><line x1="605.2" y1="1035.88" x2="609.6" y2="1035.88" stroke="#1f4ea6" stroke-width="1.4"/><rect x="605.4" y="1032.26" width="4" height="4" fill="#1f4ea6"/><line x1="688.9" y1="996.28" x2="688.9" y2="1005.98" stroke="#1f4ea6" stroke-width="1.4"/><line x1="686.7" y1="996.28" x2="691.1" y2="996.28" stroke="#1f4ea6" stroke-width="1.4"/><line x1="686.7" y1="1005.98" x2="691.1" y2="1005.98" stroke="#1f4ea6" stroke-width="1.4"/><rect x="686.9" y="999.13" width="4" height="4" fill="#1f4ea6"/><line x1="772.5" y1="934.07" x2="772.5" y2="945.38" stroke="#1f4ea6" stroke-width="1.4"/><line x1="770.3" y1="934.07" x2="774.7" y2="934.07" stroke="#1f4ea6" stroke-width="1.4"/><line x1="770.3" y1="945.38" x2="774.7" y2="945.38" stroke="#1f4ea6" stroke-width="1.4"/><rect x="770.5" y="937.72" width="4" height="4" fill="#1f4ea6"/><path d="M607.4,1034.26 L688.9,1001.13 L772.5,946.19" stroke="#2fa94a" stroke-width="1.4" fill="none"/><line x1="607.4" y1="1032.64" x2="607.4" y2="1035.88" stroke="#2fa94a" stroke-width="1.4"/><line x1="605.2" y1="1032.64" x2="609.6" y2="1032.64" stroke="#2fa94a" stroke-width="1.4"/><line x1="605.2" y1="1035.88" x2="609.6" y2="1035.88" stroke="#2fa94a" stroke-width="1.4"/><path d="M605.4,1032.26 L609.4,1032.26 L607.4,1036.26 Z" fill="#2fa94a"/><line x1="688.9" y1="980.93" x2="688.9" y2="1021.33" stroke="#2fa94a" stroke-width="1.4"/><line x1="686.7" y1="980.93" x2="691.1" y2="980.93" stroke="#2fa94a" stroke-width="1.4"/><line x1="686.7" y1="1021.33" x2="691.1" y2="1021.33" stroke="#2fa94a" stroke-width="1.4"/><path d="M686.9,999.13 L690.9,999.13 L688.9,1003.13 Z" fill="#2fa94a"/><line x1="772.5" y1="936.49" x2="772.5" y2="955.88" stroke="#2fa94a" stroke-width="1.4"/><line x1="770.3" y1="936.49" x2="774.7" y2="936.49" stroke="#2fa94a" stroke-width="1.4"/><line x1="770.3" y1="955.88" x2="774.7" y2="955.88" stroke="#2fa94a" stroke-width="1.4"/><path d="M770.5,944.19 L774.5,944.19 L772.5,948.19 Z" fill="#2fa94a"/><path d="M607.4,1034.26 L688.9,1054.46 L772.5,1042.34" stroke="#8a4cb8" stroke-width="1.4" fill="none"/><line x1="607.4" y1="1032.64" x2="607.4" y2="1035.88" stroke="#8a4cb8" stroke-width="1.4"/><line x1="605.2" y1="1032.64" x2="609.6" y2="1032.64" stroke="#8a4cb8" stroke-width="1.4"/><line x1="605.2" y1="1035.88" x2="609.6" y2="1035.88" stroke="#8a4cb8" stroke-width="1.4"/><path d="M607.4,1031.76 L609.9,1034.26 L607.4,1036.76 L604.9,1034.26 Z" fill="#8a4cb8"/><line x1="688.9" y1="1048.8" x2="688.9" y2="1060.12" stroke="#8a4cb8" stroke-width="1.4"/><line x1="686.7" y1="1048.8" x2="691.1" y2="1048.8" stroke="#8a4cb8" stroke-width="1.4"/><line x1="686.7" y1="1060.12" x2="691.1" y2="1060.12" stroke="#8a4cb8" stroke-width="1.4"/><path d="M688.9,1051.96 L691.4,1054.46 L688.9,1056.96 L686.4,1054.46 Z" fill="#8a4cb8"/><line x1="772.5" y1="1035.07" x2="772.5" y2="1049.61" stroke="#8a4cb8" stroke-width="1.4"/><line x1="770.3" y1="1035.07" x2="774.7" y2="1035.07" stroke="#8a4cb8" stroke-width="1.4"/><line x1="770.3" y1="1049.61" x2="774.7" y2="1049.61" stroke="#8a4cb8" stroke-width="1.4"/><path d="M772.5,1039.84 L775,1042.34 L772.5,1044.84 L770,1042.34 Z" fill="#8a4cb8"/><path d="M607.4,1034.26 L688.9,1054.46 L772.5,1049.61" stroke="#f07f22" stroke-width="1.4" fill="none"/><line x1="607.4" y1="1032.64" x2="607.4" y2="1035.88" stroke="#f07f22" stroke-width="1.4"/><line x1="605.2" y1="1032.64" x2="609.6" y2="1032.64" stroke="#f07f22" stroke-width="1.4"/><line x1="605.2" y1="1035.88" x2="609.6" y2="1035.88" stroke="#f07f22" stroke-width="1.4"/><path d="M605.4,1032.26 L609.4,1032.26 L607.4,1036.26 Z" fill="#f07f22"/><line x1="688.9" y1="1046.38" x2="688.9" y2="1062.54" stroke="#f07f22" stroke-width="1.4"/><line x1="686.7" y1="1046.38" x2="691.1" y2="1046.38" stroke="#f07f22" stroke-width="1.4"/><line x1="686.7" y1="1062.54" x2="691.1" y2="1062.54" stroke="#f07f22" stroke-width="1.4"/><path d="M686.9,1052.46 L690.9,1052.46 L688.9,1056.46 Z" fill="#f07f22"/><line x1="772.5" y1="1044.76" x2="772.5" y2="1054.46" stroke="#f07f22" stroke-width="1.4"/><line x1="770.3" y1="1044.76" x2="774.7" y2="1044.76" stroke="#f07f22" stroke-width="1.4"/><line x1="770.3" y1="1054.46" x2="774.7" y2="1054.46" stroke="#f07f22" stroke-width="1.4"/><path d="M770.5,1047.61 L774.5,1047.61 L772.5,1051.61 Z" fill="#f07f22"/><path d="M607.4,1034.26 L688.9,1067.39 L772.5,1075.47" stroke="#111111" stroke-width="1.4" fill="none"/><line x1="607.4" y1="1032.64" x2="607.4" y2="1035.88" stroke="#111111" stroke-width="1.4"/><line x1="605.2" y1="1032.64" x2="609.6" y2="1032.64" stroke="#111111" stroke-width="1.4"/><line x1="605.2" y1="1035.88" x2="609.6" y2="1035.88" stroke="#111111" stroke-width="1.4"/><rect x="605.4" y="1032.26" width="4" height="4" fill="#111111"/><line x1="688.9" y1="1063.35" x2="688.9" y2="1071.43" stroke="#111111" stroke-width="1.4"/><line x1="686.7" y1="1063.35" x2="691.1" y2="1063.35" stroke="#111111" stroke-width="1.4"/><line x1="686.7" y1="1071.43" x2="691.1" y2="1071.43" stroke="#111111" stroke-width="1.4"/><rect x="686.9" y="1065.39" width="4" height="4" fill="#111111"/><line x1="772.5" y1="1073.04" x2="772.5" y2="1077.89" stroke="#111111" stroke-width="1.4"/><line x1="770.3" y1="1073.04" x2="774.7" y2="1073.04" stroke="#111111" stroke-width="1.4"/><line x1="770.3" y1="1077.89" x2="774.7" y2="1077.89" stroke="#111111" stroke-width="1.4"/><rect x="770.5" y="1073.47" width="4" height="4" fill="#111111"/><line x1="569.3" y1="915.9" x2="580.7" y2="915.9" stroke="#9a9a9a" stroke-width="2"/><circle cx="575" cy="915.9" r="2.2" fill="#9a9a9a"/><text x="584.6" y="918.49" font-size="10.8" textLength="37.58" lengthAdjust="spacingAndGlyphs">DMSO</text><line x1="569.3" y1="927.7" x2="580.7" y2="927.7" stroke="#e5202a" stroke-width="2"/><rect x="572.8" y="925.5" width="4.4" height="4.4" fill="#e5202a"/><text x="584.6" y="930.29" font-size="10.8" textLength="24.37" lengthAdjust="spacingAndGlyphs">PTX</text><line x1="569.3" y1="941" x2="580.7" y2="941" stroke="#1f4ea6" stroke-width="2"/><rect x="572.8" y="938.8" width="4.4" height="4.4" fill="#1f4ea6"/><text x="584.6" y="943.59" font-size="10.8" textLength="65.45" lengthAdjust="spacingAndGlyphs">Venetoclax</text><line x1="569.3" y1="953.1" x2="580.7" y2="953.1" stroke="#2fa94a" stroke-width="2"/><path d="M572.8,950.9 L577.2,950.9 L575,955.3 Z" fill="#2fa94a"/><text x="584.6" y="955.69" font-size="10.8" textLength="27.84" lengthAdjust="spacingAndGlyphs">HCQ</text><line x1="569.3" y1="965.6" x2="580.7" y2="965.6" stroke="#8a4cb8" stroke-width="2"/><path d="M575,962.9 L577.7,965.6 L575,968.3 L572.3,965.6 Z" fill="#8a4cb8"/><text x="584.6" y="968.19" font-size="10.8" textLength="97.14" lengthAdjust="spacingAndGlyphs">PTX+Venetoclax</text><line x1="569.3" y1="977.8" x2="580.7" y2="977.8" stroke="#f07f22" stroke-width="2"/><path d="M572.8,975.6 L577.2,975.6 L575,980 Z" fill="#f07f22"/><text x="584.6" y="980.39" font-size="10.8" textLength="59.52" lengthAdjust="spacingAndGlyphs">PTX+HCQ</text><line x1="569.3" y1="990.3" x2="580.7" y2="990.3" stroke="#111111" stroke-width="2"/><rect x="572.8" y="988.1" width="4.4" height="4.4" fill="#111111"/><text x="584.6" y="992.89" font-size="10.8" textLength="97.14" lengthAdjust="spacingAndGlyphs">PTX+Venetoclax</text><text x="584.6" y="1006.89" font-size="10.8" textLength="35.16" lengthAdjust="spacingAndGlyphs">+HCQ</text><path d="M624.7,914.3 L627.2,914.3 L627.2,926.2 L624.7,926.2" stroke="#222" stroke-width="1" fill="none"/><text transform="translate(626.22,913.8) rotate(90)" font-size="14" font-weight="400" stroke="#000" stroke-width="0.35" text-anchor="middle">*</text><text transform="translate(626.22,920) rotate(90)" font-size="14" font-weight="400" stroke="#000" stroke-width="0.35" text-anchor="middle">*</text><text transform="translate(626.22,926.2) rotate(90)" font-size="14" font-weight="400" stroke="#000" stroke-width="0.35" text-anchor="middle">*</text><path d="M680.4,926.2 L683.4,926.2 L683.4,965 L680.4,965" stroke="#222" stroke-width="1" fill="none"/><text transform="translate(681.72,938.3) rotate(90)" font-size="14" font-weight="400" stroke="#000" stroke-width="0.35" text-anchor="middle">*</text><text transform="translate(681.72,944.5) rotate(90)" font-size="14" font-weight="400" stroke="#000" stroke-width="0.35" text-anchor="middle">*</text><text transform="translate(681.72,950.7) rotate(90)" font-size="14" font-weight="400" stroke="#000" stroke-width="0.35" text-anchor="middle">*</text><path d="M691.7,924.5 L694.7,924.5 L694.7,974.2 L691.7,974.2" stroke="#222" stroke-width="1" fill="none"/><text transform="translate(693.22,944.1) rotate(90)" font-size="14" font-weight="400" stroke="#000" stroke-width="0.35" text-anchor="middle">*</text><text transform="translate(693.22,950.3) rotate(90)" font-size="14" font-weight="400" stroke="#000" stroke-width="0.35" text-anchor="middle">*</text><text transform="translate(693.22,956.5) rotate(90)" font-size="14" font-weight="400" stroke="#000" stroke-width="0.35" text-anchor="middle">*</text><path d="M702,924.5 L705,924.5 L705,983.8 L702,983.8" stroke="#222" stroke-width="1" fill="none"/><text transform="translate(703.72,946.6) rotate(90)" font-size="14" font-weight="400" stroke="#000" stroke-width="0.35" text-anchor="middle">*</text><text transform="translate(703.72,952.8) rotate(90)" font-size="14" font-weight="400" stroke="#000" stroke-width="0.35" text-anchor="middle">*</text><text transform="translate(703.72,959) rotate(90)" font-size="14" font-weight="400" stroke="#000" stroke-width="0.35" text-anchor="middle">*</text><rect x="397.6" y="408.7" width="13.4" height="130.1" fill="#9c9c9f"/><rect x="421.7" y="432.23" width="13.4" height="106.57" fill="#e3a4a4"/><rect x="445.8" y="433.62" width="13.4" height="105.18" fill="#9bb9da"/><rect x="469.9" y="435" width="13.4" height="103.8" fill="#a8d1ac"/><rect x="494" y="444.69" width="13.4" height="94.11" fill="#a27ab9"/><rect x="518.1" y="476.52" width="13.4" height="62.28" fill="#f2d9b6"/><rect x="542.3" y="483.44" width="13.4" height="55.36" fill="#585858"/><line x1="387.6" y1="372.1" x2="387.6" y2="539.4" stroke="#222" stroke-width="1.2"/><line x1="387" y1="538.8" x2="566" y2="538.8" stroke="#222" stroke-width="1.2"/><line x1="384.1" y1="538.8" x2="387.6" y2="538.8" stroke="#222" stroke-width="1.1"/><text x="382.6" y="542.69" font-size="10.8" text-anchor="end">0</text><line x1="384.1" y1="511.12" x2="387.6" y2="511.12" stroke="#222" stroke-width="1.1"/><text x="382.6" y="515.01" font-size="10.8" text-anchor="end">20</text><line x1="384.1" y1="483.44" x2="387.6" y2="483.44" stroke="#222" stroke-width="1.1"/><text x="382.6" y="487.33" font-size="10.8" text-anchor="end">40</text><line x1="384.1" y1="455.76" x2="387.6" y2="455.76" stroke="#222" stroke-width="1.1"/><text x="382.6" y="459.65" font-size="10.8" text-anchor="end">60</text><line x1="384.1" y1="428.08" x2="387.6" y2="428.08" stroke="#222" stroke-width="1.1"/><text x="382.6" y="431.97" font-size="10.8" text-anchor="end">80</text><line x1="384.1" y1="400.4" x2="387.6" y2="400.4" stroke="#222" stroke-width="1.1"/><text x="382.6" y="404.29" font-size="10.8" text-anchor="end">100</text><line x1="384.1" y1="372.72" x2="387.6" y2="372.72" stroke="#222" stroke-width="1.1"/><text x="382.6" y="376.61" font-size="10.8" text-anchor="end">120</text><line x1="404.3" y1="538.8" x2="404.3" y2="542.2" stroke="#222" stroke-width="1.1"/><line x1="428.4" y1="538.8" x2="428.4" y2="542.2" stroke="#222" stroke-width="1.1"/><line x1="452.5" y1="538.8" x2="452.5" y2="542.2" stroke="#222" stroke-width="1.1"/><line x1="476.6" y1="538.8" x2="476.6" y2="542.2" stroke="#222" stroke-width="1.1"/><line x1="500.7" y1="538.8" x2="500.7" y2="542.2" stroke="#222" stroke-width="1.1"/><line x1="524.8" y1="538.8" x2="524.8" y2="542.2" stroke="#222" stroke-width="1.1"/><line x1="549" y1="538.8" x2="549" y2="542.2" stroke="#222" stroke-width="1.1"/><line x1="404.3" y1="401.09" x2="404.3" y2="413.55" stroke="#111" stroke-width="1.1"/><line x1="401.3" y1="401.09" x2="407.3" y2="401.09" stroke="#111" stroke-width="1.1"/><line x1="401.3" y1="413.55" x2="407.3" y2="413.55" stroke="#111" stroke-width="1.1"/><circle cx="398.9" cy="403.17" r="2.7" fill="#fff" stroke="#111" stroke-width="1.2"/><circle cx="409.9" cy="405.66" r="2.7" fill="#fff" stroke="#111" stroke-width="1.2"/><circle cx="404.3" cy="413.55" r="2.7" fill="#fff" stroke="#111" stroke-width="1.2"/><line x1="428.4" y1="417.01" x2="428.4" y2="444.96" stroke="#111" stroke-width="1.1"/><line x1="425.4" y1="417.01" x2="431.4" y2="417.01" stroke="#111" stroke-width="1.1"/><line x1="425.4" y1="444.96" x2="431.4" y2="444.96" stroke="#111" stroke-width="1.1"/><circle cx="428.4" cy="417.01" r="2.7" fill="#fff" stroke="#111" stroke-width="1.2"/><circle cx="428.4" cy="433.62" r="2.7" fill="#fff" stroke="#111" stroke-width="1.2"/><circle cx="428.4" cy="444.96" r="2.7" fill="#fff" stroke="#111" stroke-width="1.2"/><line x1="452.5" y1="424.48" x2="452.5" y2="436.38" stroke="#111" stroke-width="1.1"/><line x1="449.5" y1="424.48" x2="455.5" y2="424.48" stroke="#111" stroke-width="1.1"/><line x1="449.5" y1="436.38" x2="455.5" y2="436.38" stroke="#111" stroke-width="1.1"/><circle cx="452.5" cy="424.48" r="2.7" fill="#fff" stroke="#111" stroke-width="1.2"/><circle cx="447.1" cy="433.62" r="2.7" fill="#fff" stroke="#111" stroke-width="1.2"/><circle cx="458.1" cy="431.96" r="2.7" fill="#fff" stroke="#111" stroke-width="1.2"/><line x1="476.6" y1="424.48" x2="476.6" y2="437.08" stroke="#111" stroke-width="1.1"/><line x1="473.6" y1="424.48" x2="479.6" y2="424.48" stroke="#111" stroke-width="1.1"/><line x1="473.6" y1="437.08" x2="479.6" y2="437.08" stroke="#111" stroke-width="1.1"/><circle cx="476.6" cy="424.48" r="2.7" fill="#fff" stroke="#111" stroke-width="1.2"/><circle cx="471.2" cy="435.69" r="2.7" fill="#fff" stroke="#111" stroke-width="1.2"/><circle cx="482" cy="433.62" r="2.7" fill="#fff" stroke="#111" stroke-width="1.2"/><line x1="500.7" y1="427.66" x2="500.7" y2="458.53" stroke="#111" stroke-width="1.1"/><line x1="497.7" y1="427.66" x2="503.7" y2="427.66" stroke="#111" stroke-width="1.1"/><line x1="497.7" y1="458.53" x2="503.7" y2="458.53" stroke="#111" stroke-width="1.1"/><circle cx="500.7" cy="427.66" r="2.7" fill="#fff" stroke="#111" stroke-width="1.2"/><circle cx="495.3" cy="451.88" r="2.7" fill="#fff" stroke="#111" stroke-width="1.2"/><circle cx="506.1" cy="451.88" r="2.7" fill="#fff" stroke="#111" stroke-width="1.2"/><line x1="524.8" y1="462.68" x2="524.8" y2="487.59" stroke="#111" stroke-width="1.1"/><line x1="521.8" y1="462.68" x2="527.8" y2="462.68" stroke="#111" stroke-width="1.1"/><line x1="521.8" y1="487.59" x2="527.8" y2="487.59" stroke="#111" stroke-width="1.1"/><circle cx="524.8" cy="462.68" r="2.7" fill="#fff" stroke="#111" stroke-width="1.2"/><circle cx="519.4" cy="483.3" r="2.7" fill="#fff" stroke="#111" stroke-width="1.2"/><circle cx="530.2" cy="482.89" r="2.7" fill="#fff" stroke="#111" stroke-width="1.2"/><line x1="549" y1="472.09" x2="549" y2="490.36" stroke="#111" stroke-width="1.1"/><line x1="546" y1="472.09" x2="552" y2="472.09" stroke="#111" stroke-width="1.1"/><line x1="546" y1="490.36" x2="552" y2="490.36" stroke="#111" stroke-width="1.1"/><circle cx="549" cy="472.09" r="2.7" fill="#fff" stroke="#111" stroke-width="1.2"/><circle cx="544.1" cy="488.98" r="2.7" fill="#fff" stroke="#111" stroke-width="1.2"/><circle cx="554.4" cy="486.76" r="2.7" fill="#fff" stroke="#111" stroke-width="1.2"/><text x="397" y="554.96" font-size="11" text-anchor="end" textLength="30.81" lengthAdjust="spacingAndGlyphs">cDDP</text><line x1="402.2" y1="551" x2="406.4" y2="551" stroke="#111" stroke-width="1.8"/><line x1="425.2" y1="551" x2="431.6" y2="551" stroke="#111" stroke-width="1.8"/><line x1="428.4" y1="547.8" x2="428.4" y2="554.2" stroke="#111" stroke-width="1.8"/><line x1="450.4" y1="551" x2="454.6" y2="551" stroke="#111" stroke-width="1.8"/><line x1="474.5" y1="551" x2="478.7" y2="551" stroke="#111" stroke-width="1.8"/><line x1="497.5" y1="551" x2="503.9" y2="551" stroke="#111" stroke-width="1.8"/><line x1="500.7" y1="547.8" x2="500.7" y2="554.2" stroke="#111" stroke-width="1.8"/><line x1="521.6" y1="551" x2="528" y2="551" stroke="#111" stroke-width="1.8"/><line x1="524.8" y1="547.8" x2="524.8" y2="554.2" stroke="#111" stroke-width="1.8"/><line x1="545.8" y1="551" x2="552.2" y2="551" stroke="#111" stroke-width="1.8"/><line x1="549" y1="547.8" x2="549" y2="554.2" stroke="#111" stroke-width="1.8"/><text x="397.8" y="568.96" font-size="11" text-anchor="end" textLength="60.35" lengthAdjust="spacingAndGlyphs">Venetoclax</text><line x1="402.2" y1="565" x2="406.4" y2="565" stroke="#111" stroke-width="1.8"/><line x1="426.3" y1="565" x2="430.5" y2="565" stroke="#111" stroke-width="1.8"/><line x1="449.3" y1="565" x2="455.7" y2="565" stroke="#111" stroke-width="1.8"/><line x1="452.5" y1="561.8" x2="452.5" y2="568.2" stroke="#111" stroke-width="1.8"/><line x1="474.5" y1="565" x2="478.7" y2="565" stroke="#111" stroke-width="1.8"/><line x1="497.5" y1="565" x2="503.9" y2="565" stroke="#111" stroke-width="1.8"/><line x1="500.7" y1="561.8" x2="500.7" y2="568.2" stroke="#111" stroke-width="1.8"/><line x1="522.7" y1="565" x2="526.9" y2="565" stroke="#111" stroke-width="1.8"/><line x1="545.8" y1="565" x2="552.2" y2="565" stroke="#111" stroke-width="1.8"/><line x1="549" y1="561.8" x2="549" y2="568.2" stroke="#111" stroke-width="1.8"/><text x="391.4" y="584.96" font-size="11" text-anchor="end" textLength="25.67" lengthAdjust="spacingAndGlyphs">HCQ</text><line x1="402.2" y1="581" x2="406.4" y2="581" stroke="#111" stroke-width="1.8"/><line x1="426.3" y1="581" x2="430.5" y2="581" stroke="#111" stroke-width="1.8"/><line x1="450.4" y1="581" x2="454.6" y2="581" stroke="#111" stroke-width="1.8"/><line x1="473.4" y1="581" x2="479.8" y2="581" stroke="#111" stroke-width="1.8"/><line x1="476.6" y1="577.8" x2="476.6" y2="584.2" stroke="#111" stroke-width="1.8"/><line x1="498.6" y1="581" x2="502.8" y2="581" stroke="#111" stroke-width="1.8"/><line x1="521.6" y1="581" x2="528" y2="581" stroke="#111" stroke-width="1.8"/><line x1="524.8" y1="577.8" x2="524.8" y2="584.2" stroke="#111" stroke-width="1.8"/><line x1="545.8" y1="581" x2="552.2" y2="581" stroke="#111" stroke-width="1.8"/><line x1="549" y1="577.8" x2="549" y2="584.2" stroke="#111" stroke-width="1.8"/><path d="M428.4,389.4 L428.4,386.4 L549,386.4 L549,389.4" stroke="#333" stroke-width="1" fill="none"/><text x="483" y="388.9" font-size="15.5" text-anchor="middle">*</text><text x="490.2" y="388.9" font-size="15.5" text-anchor="middle">*</text><text x="497.4" y="388.9" font-size="15.5" text-anchor="middle">*</text><path d="M428.4,402.7 L428.4,399.7 L524.8,399.7 L524.8,402.7" stroke="#333" stroke-width="1" fill="none"/><text x="474.1" y="401.5" font-size="15.5" text-anchor="middle">*</text><text x="481.3" y="401.5" font-size="15.5" text-anchor="middle">*</text><path d="M500.7,422.6 L500.7,419.6 L549,419.6 L549,422.6" stroke="#333" stroke-width="1" fill="none"/><text x="524.2" y="422.1" font-size="15.5" text-anchor="middle">*</text><text x="531.4" y="422.1" font-size="15.5" text-anchor="middle">*</text><text x="475.7" y="365.9" font-size="13" text-anchor="middle">H446/cDDP</text><text transform="translate(365.7,457.6) rotate(-90)" font-size="12" text-anchor="middle">Colony number</text><rect x="618.65" y="506.48" width="19.9" height="30.32" fill="#9c9c9f"/><rect x="652.25" y="497.87" width="19.9" height="38.93" fill="#9bb9da"/><rect x="685.85" y="467.21" width="19.9" height="69.59" fill="#a8d1ac"/><rect x="720.05" y="489.26" width="19.9" height="47.54" fill="#f2d9b6"/><rect x="753.95" y="425.18" width="19.9" height="111.62" fill="#585858"/><line x1="605.3" y1="363.9" x2="605.3" y2="537.4" stroke="#222" stroke-width="1.2"/><line x1="604.7" y1="536.8" x2="788" y2="536.8" stroke="#222" stroke-width="1.2"/><line x1="601.8" y1="536.8" x2="605.3" y2="536.8" stroke="#222" stroke-width="1.1"/><text x="600.3" y="540.94" font-size="11.5" text-anchor="end">0</text><line x1="601.8" y1="502.35" x2="605.3" y2="502.35" stroke="#222" stroke-width="1.1"/><text x="600.3" y="506.49" font-size="11.5" text-anchor="end">5</text><line x1="601.8" y1="467.9" x2="605.3" y2="467.9" stroke="#222" stroke-width="1.1"/><text x="600.3" y="472.04" font-size="11.5" text-anchor="end">10</text><line x1="601.8" y1="433.45" x2="605.3" y2="433.45" stroke="#222" stroke-width="1.1"/><text x="600.3" y="437.59" font-size="11.5" text-anchor="end">15</text><line x1="601.8" y1="399" x2="605.3" y2="399" stroke="#222" stroke-width="1.1"/><text x="600.3" y="403.14" font-size="11.5" text-anchor="end">20</text><line x1="601.8" y1="364.55" x2="605.3" y2="364.55" stroke="#222" stroke-width="1.1"/><text x="600.3" y="368.69" font-size="11.5" text-anchor="end">25</text><line x1="628.6" y1="536.8" x2="628.6" y2="540.2" stroke="#222" stroke-width="1.1"/><line x1="662.2" y1="536.8" x2="662.2" y2="540.2" stroke="#222" stroke-width="1.1"/><line x1="695.8" y1="536.8" x2="695.8" y2="540.2" stroke="#222" stroke-width="1.1"/><line x1="730" y1="536.8" x2="730" y2="540.2" stroke="#222" stroke-width="1.1"/><line x1="763.9" y1="536.8" x2="763.9" y2="540.2" stroke="#222" stroke-width="1.1"/><circle cx="619.9" cy="505.11" r="2.7" fill="#fff" stroke="#111" stroke-width="1.2"/><circle cx="628.6" cy="504.42" r="2.7" fill="#fff" stroke="#111" stroke-width="1.2"/><circle cx="636.5" cy="505.11" r="2.7" fill="#fff" stroke="#111" stroke-width="1.2"/><line x1="662.2" y1="493.39" x2="662.2" y2="498.22" stroke="#111" stroke-width="1.1"/><line x1="659.2" y1="493.39" x2="665.2" y2="493.39" stroke="#111" stroke-width="1.1"/><line x1="659.2" y1="498.22" x2="665.2" y2="498.22" stroke="#111" stroke-width="1.1"/><circle cx="653.5" cy="497.87" r="2.7" fill="#fff" stroke="#111" stroke-width="1.2"/><circle cx="662.2" cy="493.39" r="2.7" fill="#fff" stroke="#111" stroke-width="1.2"/><circle cx="670.4" cy="494.98" r="2.7" fill="#fff" stroke="#111" stroke-width="1.2"/><circle cx="687.5" cy="465.83" r="2.7" fill="#fff" stroke="#111" stroke-width="1.2"/><circle cx="695.8" cy="465.14" r="2.7" fill="#fff" stroke="#111" stroke-width="1.2"/><circle cx="704" cy="465.83" r="2.7" fill="#fff" stroke="#111" stroke-width="1.2"/><circle cx="721.7" cy="487.88" r="2.7" fill="#fff" stroke="#111" stroke-width="1.2"/><circle cx="730" cy="487.88" r="2.7" fill="#fff" stroke="#111" stroke-width="1.2"/><circle cx="738.2" cy="487.88" r="2.7" fill="#fff" stroke="#111" stroke-width="1.2"/><line x1="763.9" y1="401.76" x2="763.9" y2="446.54" stroke="#111" stroke-width="1.1"/><line x1="760.9" y1="401.76" x2="766.9" y2="401.76" stroke="#111" stroke-width="1.1"/><line x1="760.9" y1="446.54" x2="766.9" y2="446.54" stroke="#111" stroke-width="1.1"/><circle cx="763.9" cy="398.66" r="2.7" fill="#fff" stroke="#111" stroke-width="1.2"/><circle cx="758.6" cy="437.58" r="2.7" fill="#fff" stroke="#111" stroke-width="1.2"/><circle cx="769.2" cy="435.52" r="2.7" fill="#fff" stroke="#111" stroke-width="1.2"/><text x="621.9" y="551.56" font-size="11" text-anchor="end" textLength="30.81" lengthAdjust="spacingAndGlyphs">cDDP</text><line x1="626.5" y1="547.6" x2="630.7" y2="547.6" stroke="#111" stroke-width="1.8"/><line x1="659" y1="547.6" x2="665.4" y2="547.6" stroke="#111" stroke-width="1.8"/><line x1="662.2" y1="544.4" x2="662.2" y2="550.8" stroke="#111" stroke-width="1.8"/><line x1="692.6" y1="547.6" x2="699" y2="547.6" stroke="#111" stroke-width="1.8"/><line x1="695.8" y1="544.4" x2="695.8" y2="550.8" stroke="#111" stroke-width="1.8"/><line x1="726.8" y1="547.6" x2="733.2" y2="547.6" stroke="#111" stroke-width="1.8"/><line x1="730" y1="544.4" x2="730" y2="550.8" stroke="#111" stroke-width="1.8"/><line x1="760.7" y1="547.6" x2="767.1" y2="547.6" stroke="#111" stroke-width="1.8"/><line x1="763.9" y1="544.4" x2="763.9" y2="550.8" stroke="#111" stroke-width="1.8"/><text x="623.7" y="566.96" font-size="11" text-anchor="end" textLength="60.35" lengthAdjust="spacingAndGlyphs">Venetoclax</text><line x1="626.5" y1="563" x2="630.7" y2="563" stroke="#111" stroke-width="1.8"/><line x1="660.1" y1="563" x2="664.3" y2="563" stroke="#111" stroke-width="1.8"/><line x1="693.7" y1="563" x2="697.9" y2="563" stroke="#111" stroke-width="1.8"/><line x1="726.8" y1="563" x2="733.2" y2="563" stroke="#111" stroke-width="1.8"/><line x1="730" y1="559.8" x2="730" y2="566.2" stroke="#111" stroke-width="1.8"/><line x1="760.7" y1="563" x2="767.1" y2="563" stroke="#111" stroke-width="1.8"/><line x1="763.9" y1="559.8" x2="763.9" y2="566.2" stroke="#111" stroke-width="1.8"/><text x="617" y="582.76" font-size="11" text-anchor="end" textLength="25.67" lengthAdjust="spacingAndGlyphs">HCQ</text><line x1="626.5" y1="578.8" x2="630.7" y2="578.8" stroke="#111" stroke-width="1.8"/><line x1="660.1" y1="578.8" x2="664.3" y2="578.8" stroke="#111" stroke-width="1.8"/><line x1="692.6" y1="578.8" x2="699" y2="578.8" stroke="#111" stroke-width="1.8"/><line x1="695.8" y1="575.6" x2="695.8" y2="582" stroke="#111" stroke-width="1.8"/><line x1="727.9" y1="578.8" x2="732.1" y2="578.8" stroke="#111" stroke-width="1.8"/><line x1="760.7" y1="578.8" x2="767.1" y2="578.8" stroke="#111" stroke-width="1.8"/><line x1="763.9" y1="575.6" x2="763.9" y2="582" stroke="#111" stroke-width="1.8"/><path d="M628.6,482.5 L628.6,479.5 L662.2,479.5 L662.2,482.5" stroke="#333" stroke-width="1" fill="none"/><text x="644.7" y="476" font-size="12.5" text-anchor="middle">ns</text><path d="M662.2,451.3 L662.2,448.3 L695.8,448.3 L695.8,451.3" stroke="#333" stroke-width="1" fill="none"/><text x="671.8" y="449.9" font-size="15.5" text-anchor="middle">*</text><text x="679" y="449.9" font-size="15.5" text-anchor="middle">*</text><text x="686.2" y="449.9" font-size="15.5" text-anchor="middle">*</text><path d="M662.2,423 L662.2,420 L730,420 L730,423" stroke="#333" stroke-width="1" fill="none"/><text x="692.4" y="421.7" font-size="15.5" text-anchor="middle">*</text><text x="699.6" y="421.7" font-size="15.5" text-anchor="middle">*</text><path d="M662.2,390.8 L662.2,387.8 L763.9,387.8 L763.9,390.8" stroke="#333" stroke-width="1" fill="none"/><text x="705.8" y="390.5" font-size="15.5" text-anchor="middle">*</text><text x="713" y="390.5" font-size="15.5" text-anchor="middle">*</text><text x="720.2" y="390.5" font-size="15.5" text-anchor="middle">*</text><text x="700.2" y="363.8" font-size="13" text-anchor="middle">H446/cDDP</text><text transform="translate(581.4,444) rotate(-90)" font-size="11.5" text-anchor="middle" textLength="145" lengthAdjust="spacingAndGlyphs">Relative caspase-3 activity</text><text x="559.5" y="357.8" font-size="17" font-family='"Liberation Serif",serif'>E</text><rect x="338.15" y="692.5" width="14.3" height="117.6" fill="#9c9c9f"/><rect x="359.35" y="751.3" width="14.3" height="58.8" fill="#0a0a0a"/><rect x="379.85" y="739.54" width="14.3" height="70.56" fill="#e3a4a4"/><rect x="400.65" y="690.15" width="14.3" height="119.95" fill="#9bb9da"/><rect x="421.85" y="686.62" width="14.3" height="123.48" fill="#a8d1ac"/><rect x="442.65" y="690.15" width="14.3" height="119.95" fill="#1b7a7e"/><rect x="463.85" y="743.07" width="14.3" height="67.03" fill="#a27ab9"/><rect x="484.85" y="756" width="14.3" height="54.1" fill="#f2d9b6"/><rect x="506.05" y="763.06" width="14.3" height="47.04" fill="#585858"/><line x1="331.7" y1="633.1" x2="331.7" y2="810.7" stroke="#222" stroke-width="1.2"/><line x1="331.1" y1="810.1" x2="522" y2="810.1" stroke="#222" stroke-width="1.2"/><line x1="328.2" y1="810.1" x2="331.7" y2="810.1" stroke="#222" stroke-width="1.1"/><text x="326.7" y="814.42" font-size="12" text-anchor="end">0</text><line x1="328.2" y1="751.3" x2="331.7" y2="751.3" stroke="#222" stroke-width="1.1"/><text x="326.7" y="755.62" font-size="12" text-anchor="end">50</text><line x1="328.2" y1="692.5" x2="331.7" y2="692.5" stroke="#222" stroke-width="1.1"/><text x="326.7" y="696.82" font-size="12" text-anchor="end">100</text><line x1="328.2" y1="633.7" x2="331.7" y2="633.7" stroke="#222" stroke-width="1.1"/><text x="326.7" y="638.02" font-size="12" text-anchor="end">150</text><line x1="345.3" y1="810.1" x2="345.3" y2="813.5" stroke="#222" stroke-width="1.1"/><line x1="366.5" y1="810.1" x2="366.5" y2="813.5" stroke="#222" stroke-width="1.1"/><line x1="387" y1="810.1" x2="387" y2="813.5" stroke="#222" stroke-width="1.1"/><line x1="407.8" y1="810.1" x2="407.8" y2="813.5" stroke="#222" stroke-width="1.1"/><line x1="429" y1="810.1" x2="429" y2="813.5" stroke="#222" stroke-width="1.1"/><line x1="449.8" y1="810.1" x2="449.8" y2="813.5" stroke="#222" stroke-width="1.1"/><line x1="471" y1="810.1" x2="471" y2="813.5" stroke="#222" stroke-width="1.1"/><line x1="492" y1="810.1" x2="492" y2="813.5" stroke="#222" stroke-width="1.1"/><line x1="513.2" y1="810.1" x2="513.2" y2="813.5" stroke="#222" stroke-width="1.1"/><circle cx="341.2" cy="687.33" r="3.2" fill="#fff" stroke="#111" stroke-width="1.35"/><circle cx="349.4" cy="692.38" r="3.2" fill="#fff" stroke="#111" stroke-width="1.35"/><circle cx="341.9" cy="696.5" r="3.2" fill="#fff" stroke="#111" stroke-width="1.35"/><circle cx="363.1" cy="753.06" r="3.2" fill="#fff" stroke="#111" stroke-width="1.35"/><circle cx="369.9" cy="750.36" r="3.2" fill="#fff" stroke="#111" stroke-width="1.35"/><circle cx="366.5" cy="752.48" r="3.2" fill="#fff" stroke="#111" stroke-width="1.35"/><circle cx="387" cy="734.84" r="3.2" fill="#fff" stroke="#111" stroke-width="1.35"/><circle cx="382.7" cy="739.54" r="3.2" fill="#fff" stroke="#111" stroke-width="1.35"/><circle cx="391.3" cy="739.54" r="3.2" fill="#fff" stroke="#111" stroke-width="1.35"/><circle cx="403.5" cy="688.97" r="3.2" fill="#fff" stroke="#111" stroke-width="1.35"/><circle cx="412.1" cy="687.8" r="3.2" fill="#fff" stroke="#111" stroke-width="1.35"/><circle cx="407.8" cy="691.32" r="3.2" fill="#fff" stroke="#111" stroke-width="1.35"/><line x1="429" y1="681.92" x2="429" y2="692.5" stroke="#111" stroke-width="1.1"/><line x1="426" y1="681.92" x2="432" y2="681.92" stroke="#111" stroke-width="1.1"/><line x1="426" y1="692.5" x2="432" y2="692.5" stroke="#111" stroke-width="1.1"/><circle cx="425.5" cy="682.27" r="3.2" fill="#fff" stroke="#111" stroke-width="1.35"/><circle cx="433" cy="687.33" r="3.2" fill="#fff" stroke="#111" stroke-width="1.35"/><circle cx="425.5" cy="691.68" r="3.2" fill="#fff" stroke="#111" stroke-width="1.35"/><circle cx="445.5" cy="691.32" r="3.2" fill="#fff" stroke="#111" stroke-width="1.35"/><circle cx="454.1" cy="687.8" r="3.2" fill="#fff" stroke="#111" stroke-width="1.35"/><circle cx="449.8" cy="688.97" r="3.2" fill="#fff" stroke="#111" stroke-width="1.35"/><circle cx="467.6" cy="743.07" r="3.2" fill="#fff" stroke="#111" stroke-width="1.35"/><circle cx="475.1" cy="744.24" r="3.2" fill="#fff" stroke="#111" stroke-width="1.35"/><circle cx="471" cy="741.89" r="3.2" fill="#fff" stroke="#111" stroke-width="1.35"/><circle cx="492" cy="752.48" r="3.2" fill="#fff" stroke="#111" stroke-width="1.35"/><circle cx="487.9" cy="758.36" r="3.2" fill="#fff" stroke="#111" stroke-width="1.35"/><circle cx="496.1" cy="758.36" r="3.2" fill="#fff" stroke="#111" stroke-width="1.35"/><circle cx="509.5" cy="764.24" r="3.2" fill="#fff" stroke="#111" stroke-width="1.35"/><circle cx="516.9" cy="763.06" r="3.2" fill="#fff" stroke="#111" stroke-width="1.35"/><circle cx="513.2" cy="761.88" r="3.2" fill="#fff" stroke="#111" stroke-width="1.35"/><text x="335.8" y="832.96" font-size="11" text-anchor="end" textLength="69.52" lengthAdjust="spacingAndGlyphs">LYPLAL1-DT</text><line x1="343.2" y1="829" x2="347.4" y2="829" stroke="#111" stroke-width="1.8"/><line x1="364.4" y1="829" x2="368.6" y2="829" stroke="#111" stroke-width="1.8"/><line x1="383.8" y1="829" x2="390.2" y2="829" stroke="#111" stroke-width="1.8"/><line x1="387" y1="825.8" x2="387" y2="832.2" stroke="#111" stroke-width="1.8"/><line x1="404.6" y1="829" x2="411" y2="829" stroke="#111" stroke-width="1.8"/><line x1="407.8" y1="825.8" x2="407.8" y2="832.2" stroke="#111" stroke-width="1.8"/><line x1="425.8" y1="829" x2="432.2" y2="829" stroke="#111" stroke-width="1.8"/><line x1="429" y1="825.8" x2="429" y2="832.2" stroke="#111" stroke-width="1.8"/><line x1="446.6" y1="829" x2="453" y2="829" stroke="#111" stroke-width="1.8"/><line x1="449.8" y1="825.8" x2="449.8" y2="832.2" stroke="#111" stroke-width="1.8"/><line x1="467.8" y1="829" x2="474.2" y2="829" stroke="#111" stroke-width="1.8"/><line x1="471" y1="825.8" x2="471" y2="832.2" stroke="#111" stroke-width="1.8"/><line x1="488.8" y1="829" x2="495.2" y2="829" stroke="#111" stroke-width="1.8"/><line x1="492" y1="825.8" x2="492" y2="832.2" stroke="#111" stroke-width="1.8"/><line x1="510" y1="829" x2="516.4" y2="829" stroke="#111" stroke-width="1.8"/><line x1="513.2" y1="825.8" x2="513.2" y2="832.2" stroke="#111" stroke-width="1.8"/><text x="333.4" y="849.96" font-size="11" text-anchor="end" textLength="32.1" lengthAdjust="spacingAndGlyphs">VP-16</text><line x1="343.2" y1="846" x2="347.4" y2="846" stroke="#111" stroke-width="1.8"/><line x1="363.3" y1="846" x2="369.7" y2="846" stroke="#111" stroke-width="1.8"/><line x1="366.5" y1="842.8" x2="366.5" y2="849.2" stroke="#111" stroke-width="1.8"/><line x1="383.8" y1="846" x2="390.2" y2="846" stroke="#111" stroke-width="1.8"/><line x1="387" y1="842.8" x2="387" y2="849.2" stroke="#111" stroke-width="1.8"/><line x1="405.7" y1="846" x2="409.9" y2="846" stroke="#111" stroke-width="1.8"/><line x1="426.9" y1="846" x2="431.1" y2="846" stroke="#111" stroke-width="1.8"/><line x1="447.7" y1="846" x2="451.9" y2="846" stroke="#111" stroke-width="1.8"/><line x1="467.8" y1="846" x2="474.2" y2="846" stroke="#111" stroke-width="1.8"/><line x1="471" y1="842.8" x2="471" y2="849.2" stroke="#111" stroke-width="1.8"/><line x1="488.8" y1="846" x2="495.2" y2="846" stroke="#111" stroke-width="1.8"/><line x1="492" y1="842.8" x2="492" y2="849.2" stroke="#111" stroke-width="1.8"/><line x1="510" y1="846" x2="516.4" y2="846" stroke="#111" stroke-width="1.8"/><line x1="513.2" y1="842.8" x2="513.2" y2="849.2" stroke="#111" stroke-width="1.8"/><text x="335.8" y="867.06" font-size="11" text-anchor="end" textLength="60.35" lengthAdjust="spacingAndGlyphs">Venetoclax</text><line x1="343.2" y1="863.1" x2="347.4" y2="863.1" stroke="#111" stroke-width="1.8"/><line x1="364.4" y1="863.1" x2="368.6" y2="863.1" stroke="#111" stroke-width="1.8"/><line x1="384.9" y1="863.1" x2="389.1" y2="863.1" stroke="#111" stroke-width="1.8"/><line x1="404.6" y1="863.1" x2="411" y2="863.1" stroke="#111" stroke-width="1.8"/><line x1="407.8" y1="859.9" x2="407.8" y2="866.3" stroke="#111" stroke-width="1.8"/><line x1="426.9" y1="863.1" x2="431.1" y2="863.1" stroke="#111" stroke-width="1.8"/><line x1="446.6" y1="863.1" x2="453" y2="863.1" stroke="#111" stroke-width="1.8"/><line x1="449.8" y1="859.9" x2="449.8" y2="866.3" stroke="#111" stroke-width="1.8"/><line x1="467.8" y1="863.1" x2="474.2" y2="863.1" stroke="#111" stroke-width="1.8"/><line x1="471" y1="859.9" x2="471" y2="866.3" stroke="#111" stroke-width="1.8"/><line x1="489.9" y1="863.1" x2="494.1" y2="863.1" stroke="#111" stroke-width="1.8"/><line x1="510" y1="863.1" x2="516.4" y2="863.1" stroke="#111" stroke-width="1.8"/><line x1="513.2" y1="859.9" x2="513.2" y2="866.3" stroke="#111" stroke-width="1.8"/><text x="331" y="884.16" font-size="11" text-anchor="end" textLength="25.67" lengthAdjust="spacingAndGlyphs">HCQ</text><line x1="343.2" y1="880.2" x2="347.4" y2="880.2" stroke="#111" stroke-width="1.8"/><line x1="364.4" y1="880.2" x2="368.6" y2="880.2" stroke="#111" stroke-width="1.8"/><line x1="384.9" y1="880.2" x2="389.1" y2="880.2" stroke="#111" stroke-width="1.8"/><line x1="405.7" y1="880.2" x2="409.9" y2="880.2" stroke="#111" stroke-width="1.8"/><line x1="425.8" y1="880.2" x2="432.2" y2="880.2" stroke="#111" stroke-width="1.8"/><line x1="429" y1="877" x2="429" y2="883.4" stroke="#111" stroke-width="1.8"/><line x1="446.6" y1="880.2" x2="453" y2="880.2" stroke="#111" stroke-width="1.8"/><line x1="449.8" y1="877" x2="449.8" y2="883.4" stroke="#111" stroke-width="1.8"/><line x1="468.9" y1="880.2" x2="473.1" y2="880.2" stroke="#111" stroke-width="1.8"/><line x1="488.8" y1="880.2" x2="495.2" y2="880.2" stroke="#111" stroke-width="1.8"/><line x1="492" y1="877" x2="492" y2="883.4" stroke="#111" stroke-width="1.8"/><line x1="510" y1="880.2" x2="516.4" y2="880.2" stroke="#111" stroke-width="1.8"/><line x1="513.2" y1="877" x2="513.2" y2="883.4" stroke="#111" stroke-width="1.8"/><path d="M387,634.6 L387,631.6 L513.2,631.6 L513.2,634.6" stroke="#333" stroke-width="1" fill="none"/><text x="440.1" y="633.91" font-size="16.5" text-anchor="middle">*</text><text x="447.7" y="633.91" font-size="16.5" text-anchor="middle">*</text><text x="455.3" y="633.91" font-size="16.5" text-anchor="middle">*</text><path d="M407.8,646.6 L407.8,643.6 L513.2,643.6 L513.2,646.6" stroke="#333" stroke-width="1" fill="none"/><text x="452.1" y="646.21" font-size="16.5" text-anchor="middle">*</text><text x="459.7" y="646.21" font-size="16.5" text-anchor="middle">*</text><text x="467.3" y="646.21" font-size="16.5" text-anchor="middle">*</text><path d="M429,660.2 L429,657.2 L513.2,657.2 L513.2,660.2" stroke="#333" stroke-width="1" fill="none"/><text x="462.4" y="660.51" font-size="16.5" text-anchor="middle">*</text><text x="470" y="660.51" font-size="16.5" text-anchor="middle">*</text><text x="477.6" y="660.51" font-size="16.5" text-anchor="middle">*</text><path d="M449.8,673.9 L449.8,670.9 L513.2,670.9 L513.2,673.9" stroke="#333" stroke-width="1" fill="none"/><text x="474.2" y="673.41" font-size="16.5" text-anchor="middle">*</text><text x="481.8" y="673.41" font-size="16.5" text-anchor="middle">*</text><text x="489.4" y="673.41" font-size="16.5" text-anchor="middle">*</text><path d="M366.5,726.1 L366.5,723.1 L387,723.1 L387,726.1" stroke="#333" stroke-width="1" fill="none"/><text x="372.2" y="727.12" font-size="16.5" text-anchor="middle">*</text><text x="379.8" y="727.12" font-size="16.5" text-anchor="middle">*</text><path d="M471,722 L471,719 L513.2,719 L513.2,722" stroke="#333" stroke-width="1" fill="none"/><text x="486.2" y="721.91" font-size="16.5" text-anchor="middle">*</text><text x="493.8" y="721.91" font-size="16.5" text-anchor="middle">*</text><text x="501.4" y="721.91" font-size="16.5" text-anchor="middle">*</text><path d="M492,744.9 L492,741.9 L513.2,741.9 L513.2,744.9" stroke="#333" stroke-width="1" fill="none"/><text x="502.3" y="745.21" font-size="16.5" text-anchor="middle">*</text><text x="431.3" y="615.5" font-size="14.3" text-anchor="middle">H446</text><text transform="translate(299.6,704.7) rotate(-90)" font-size="12" text-anchor="middle" textLength="99" lengthAdjust="spacingAndGlyphs">Cell viability ( % )</text><text x="276.5" y="616.6" font-size="17" font-family='"Liberation Serif",serif'>G</text><rect x="599.85" y="693.8" width="13.7" height="117.2" fill="#9c9c9f"/><rect x="620.35" y="789.9" width="13.7" height="21.1" fill="#0a0a0a"/><rect x="640.95" y="781.7" width="13.7" height="29.3" fill="#e3a4a4"/><rect x="661.45" y="705.52" width="13.7" height="105.48" fill="#a8d1ac"/><rect x="682.05" y="670.36" width="13.7" height="140.64" fill="#9bb9da"/><rect x="702.55" y="707.86" width="13.7" height="103.14" fill="#1b7a7e"/><rect x="723.15" y="785.22" width="13.7" height="25.78" fill="#f2d9b6"/><rect x="743.75" y="788.73" width="13.7" height="22.27" fill="#a27ab9"/><rect x="764.25" y="800.45" width="13.7" height="10.55" fill="#585858"/><line x1="592.6" y1="634.6" x2="592.6" y2="811.6" stroke="#222" stroke-width="1.2"/><line x1="592" y1="811" x2="782" y2="811" stroke="#222" stroke-width="1.2"/><line x1="589.1" y1="811" x2="592.6" y2="811" stroke="#222" stroke-width="1.1"/><text x="587.6" y="815.32" font-size="12" text-anchor="end">0</text><line x1="589.1" y1="752.4" x2="592.6" y2="752.4" stroke="#222" stroke-width="1.1"/><text x="587.6" y="756.72" font-size="12" text-anchor="end">50</text><line x1="589.1" y1="693.8" x2="592.6" y2="693.8" stroke="#222" stroke-width="1.1"/><text x="587.6" y="698.12" font-size="12" text-anchor="end">100</text><line x1="589.1" y1="635.2" x2="592.6" y2="635.2" stroke="#222" stroke-width="1.1"/><text x="587.6" y="639.52" font-size="12" text-anchor="end">150</text><line x1="606.7" y1="811" x2="606.7" y2="814.4" stroke="#222" stroke-width="1.1"/><line x1="627.2" y1="811" x2="627.2" y2="814.4" stroke="#222" stroke-width="1.1"/><line x1="647.8" y1="811" x2="647.8" y2="814.4" stroke="#222" stroke-width="1.1"/><line x1="668.3" y1="811" x2="668.3" y2="814.4" stroke="#222" stroke-width="1.1"/><line x1="688.9" y1="811" x2="688.9" y2="814.4" stroke="#222" stroke-width="1.1"/><line x1="709.4" y1="811" x2="709.4" y2="814.4" stroke="#222" stroke-width="1.1"/><line x1="730" y1="811" x2="730" y2="814.4" stroke="#222" stroke-width="1.1"/><line x1="750.6" y1="811" x2="750.6" y2="814.4" stroke="#222" stroke-width="1.1"/><line x1="771.1" y1="811" x2="771.1" y2="814.4" stroke="#222" stroke-width="1.1"/><circle cx="602.4" cy="689.11" r="3.2" fill="#fff" stroke="#111" stroke-width="1.35"/><circle cx="610.1" cy="691.46" r="3.2" fill="#fff" stroke="#111" stroke-width="1.35"/><circle cx="606.7" cy="699.66" r="3.2" fill="#fff" stroke="#111" stroke-width="1.35"/><circle cx="623.8" cy="789.9" r="3.2" fill="#fff" stroke="#111" stroke-width="1.35"/><circle cx="630.6" cy="788.73" r="3.2" fill="#fff" stroke="#111" stroke-width="1.35"/><circle cx="627.2" cy="791.08" r="3.2" fill="#fff" stroke="#111" stroke-width="1.35"/><circle cx="644.2" cy="780.53" r="3.2" fill="#fff" stroke="#111" stroke-width="1.35"/><circle cx="651.4" cy="780.53" r="3.2" fill="#fff" stroke="#111" stroke-width="1.35"/><circle cx="647.8" cy="780.53" r="3.2" fill="#fff" stroke="#111" stroke-width="1.35"/><circle cx="664" cy="707.86" r="3.2" fill="#fff" stroke="#111" stroke-width="1.35"/><circle cx="668.8" cy="703.18" r="3.2" fill="#fff" stroke="#111" stroke-width="1.35"/><circle cx="672.6" cy="702" r="3.2" fill="#fff" stroke="#111" stroke-width="1.35"/><line x1="688.9" y1="665.67" x2="688.9" y2="672.7" stroke="#111" stroke-width="1.1"/><line x1="685.9" y1="665.67" x2="691.9" y2="665.67" stroke="#111" stroke-width="1.1"/><line x1="685.9" y1="672.7" x2="691.9" y2="672.7" stroke="#111" stroke-width="1.1"/><circle cx="688.9" cy="660.98" r="3.2" fill="#fff" stroke="#111" stroke-width="1.35"/><circle cx="685.3" cy="671.53" r="3.2" fill="#fff" stroke="#111" stroke-width="1.35"/><circle cx="692.5" cy="671.53" r="3.2" fill="#fff" stroke="#111" stroke-width="1.35"/><line x1="709.4" y1="699.66" x2="709.4" y2="714.9" stroke="#111" stroke-width="1.1"/><line x1="706.4" y1="699.66" x2="712.4" y2="699.66" stroke="#111" stroke-width="1.1"/><line x1="706.4" y1="714.9" x2="712.4" y2="714.9" stroke="#111" stroke-width="1.1"/><circle cx="705.1" cy="702" r="3.2" fill="#fff" stroke="#111" stroke-width="1.35"/><circle cx="713.7" cy="705.52" r="3.2" fill="#fff" stroke="#111" stroke-width="1.35"/><circle cx="709.4" cy="714.9" r="3.2" fill="#fff" stroke="#111" stroke-width="1.35"/><circle cx="726.4" cy="785.22" r="3.2" fill="#fff" stroke="#111" stroke-width="1.35"/><circle cx="733.6" cy="785.22" r="3.2" fill="#fff" stroke="#111" stroke-width="1.35"/><circle cx="730" cy="785.22" r="3.2" fill="#fff" stroke="#111" stroke-width="1.35"/><circle cx="747.2" cy="789.9" r="3.2" fill="#fff" stroke="#111" stroke-width="1.35"/><circle cx="754" cy="787.56" r="3.2" fill="#fff" stroke="#111" stroke-width="1.35"/><circle cx="750.6" cy="788.73" r="3.2" fill="#fff" stroke="#111" stroke-width="1.35"/><circle cx="767.7" cy="800.45" r="3.2" fill="#fff" stroke="#111" stroke-width="1.35"/><circle cx="774.5" cy="800.45" r="3.2" fill="#fff" stroke="#111" stroke-width="1.35"/><circle cx="771.1" cy="800.45" r="3.2" fill="#fff" stroke="#111" stroke-width="1.35"/><text x="596" y="833.06" font-size="11" text-anchor="end" textLength="69.52" lengthAdjust="spacingAndGlyphs">LYPLAL1-DT</text><line x1="604.6" y1="829.1" x2="608.8" y2="829.1" stroke="#111" stroke-width="1.8"/><line x1="625.1" y1="829.1" x2="629.3" y2="829.1" stroke="#111" stroke-width="1.8"/><line x1="644.6" y1="829.1" x2="651" y2="829.1" stroke="#111" stroke-width="1.8"/><line x1="647.8" y1="825.9" x2="647.8" y2="832.3" stroke="#111" stroke-width="1.8"/><line x1="665.1" y1="829.1" x2="671.5" y2="829.1" stroke="#111" stroke-width="1.8"/><line x1="668.3" y1="825.9" x2="668.3" y2="832.3" stroke="#111" stroke-width="1.8"/><line x1="685.7" y1="829.1" x2="692.1" y2="829.1" stroke="#111" stroke-width="1.8"/><line x1="688.9" y1="825.9" x2="688.9" y2="832.3" stroke="#111" stroke-width="1.8"/><line x1="706.2" y1="829.1" x2="712.6" y2="829.1" stroke="#111" stroke-width="1.8"/><line x1="709.4" y1="825.9" x2="709.4" y2="832.3" stroke="#111" stroke-width="1.8"/><line x1="726.8" y1="829.1" x2="733.2" y2="829.1" stroke="#111" stroke-width="1.8"/><line x1="730" y1="825.9" x2="730" y2="832.3" stroke="#111" stroke-width="1.8"/><line x1="747.4" y1="829.1" x2="753.8" y2="829.1" stroke="#111" stroke-width="1.8"/><line x1="750.6" y1="825.9" x2="750.6" y2="832.3" stroke="#111" stroke-width="1.8"/><line x1="767.9" y1="829.1" x2="774.3" y2="829.1" stroke="#111" stroke-width="1.8"/><line x1="771.1" y1="825.9" x2="771.1" y2="832.3" stroke="#111" stroke-width="1.8"/><text x="590.2" y="848.86" font-size="11" text-anchor="end" textLength="22.46" lengthAdjust="spacingAndGlyphs">PTX</text><line x1="604.6" y1="844.9" x2="608.8" y2="844.9" stroke="#111" stroke-width="1.8"/><line x1="624" y1="844.9" x2="630.4" y2="844.9" stroke="#111" stroke-width="1.8"/><line x1="627.2" y1="841.7" x2="627.2" y2="848.1" stroke="#111" stroke-width="1.8"/><line x1="644.6" y1="844.9" x2="651" y2="844.9" stroke="#111" stroke-width="1.8"/><line x1="647.8" y1="841.7" x2="647.8" y2="848.1" stroke="#111" stroke-width="1.8"/><line x1="666.2" y1="844.9" x2="670.4" y2="844.9" stroke="#111" stroke-width="1.8"/><line x1="686.8" y1="844.9" x2="691" y2="844.9" stroke="#111" stroke-width="1.8"/><line x1="707.3" y1="844.9" x2="711.5" y2="844.9" stroke="#111" stroke-width="1.8"/><line x1="726.8" y1="844.9" x2="733.2" y2="844.9" stroke="#111" stroke-width="1.8"/><line x1="730" y1="841.7" x2="730" y2="848.1" stroke="#111" stroke-width="1.8"/><line x1="747.4" y1="844.9" x2="753.8" y2="844.9" stroke="#111" stroke-width="1.8"/><line x1="750.6" y1="841.7" x2="750.6" y2="848.1" stroke="#111" stroke-width="1.8"/><line x1="767.9" y1="844.9" x2="774.3" y2="844.9" stroke="#111" stroke-width="1.8"/><line x1="771.1" y1="841.7" x2="771.1" y2="848.1" stroke="#111" stroke-width="1.8"/><text x="596" y="866.26" font-size="11" text-anchor="end" textLength="60.35" lengthAdjust="spacingAndGlyphs">Venetoclax</text><line x1="604.6" y1="862.3" x2="608.8" y2="862.3" stroke="#111" stroke-width="1.8"/><line x1="625.1" y1="862.3" x2="629.3" y2="862.3" stroke="#111" stroke-width="1.8"/><line x1="645.7" y1="862.3" x2="649.9" y2="862.3" stroke="#111" stroke-width="1.8"/><line x1="666.2" y1="862.3" x2="670.4" y2="862.3" stroke="#111" stroke-width="1.8"/><line x1="685.7" y1="862.3" x2="692.1" y2="862.3" stroke="#111" stroke-width="1.8"/><line x1="688.9" y1="859.1" x2="688.9" y2="865.5" stroke="#111" stroke-width="1.8"/><line x1="706.2" y1="862.3" x2="712.6" y2="862.3" stroke="#111" stroke-width="1.8"/><line x1="709.4" y1="859.1" x2="709.4" y2="865.5" stroke="#111" stroke-width="1.8"/><line x1="727.9" y1="862.3" x2="732.1" y2="862.3" stroke="#111" stroke-width="1.8"/><line x1="747.4" y1="862.3" x2="753.8" y2="862.3" stroke="#111" stroke-width="1.8"/><line x1="750.6" y1="859.1" x2="750.6" y2="865.5" stroke="#111" stroke-width="1.8"/><line x1="767.9" y1="862.3" x2="774.3" y2="862.3" stroke="#111" stroke-width="1.8"/><line x1="771.1" y1="859.1" x2="771.1" y2="865.5" stroke="#111" stroke-width="1.8"/><text x="590.2" y="882.76" font-size="11" text-anchor="end" textLength="25.67" lengthAdjust="spacingAndGlyphs">HCQ</text><line x1="604.6" y1="878.8" x2="608.8" y2="878.8" stroke="#111" stroke-width="1.8"/><line x1="625.1" y1="878.8" x2="629.3" y2="878.8" stroke="#111" stroke-width="1.8"/><line x1="645.7" y1="878.8" x2="649.9" y2="878.8" stroke="#111" stroke-width="1.8"/><line x1="665.1" y1="878.8" x2="671.5" y2="878.8" stroke="#111" stroke-width="1.8"/><line x1="668.3" y1="875.6" x2="668.3" y2="882" stroke="#111" stroke-width="1.8"/><line x1="686.8" y1="878.8" x2="691" y2="878.8" stroke="#111" stroke-width="1.8"/><line x1="706.2" y1="878.8" x2="712.6" y2="878.8" stroke="#111" stroke-width="1.8"/><line x1="709.4" y1="875.6" x2="709.4" y2="882" stroke="#111" stroke-width="1.8"/><line x1="726.8" y1="878.8" x2="733.2" y2="878.8" stroke="#111" stroke-width="1.8"/><line x1="730" y1="875.6" x2="730" y2="882" stroke="#111" stroke-width="1.8"/><line x1="748.5" y1="878.8" x2="752.7" y2="878.8" stroke="#111" stroke-width="1.8"/><line x1="767.9" y1="878.8" x2="774.3" y2="878.8" stroke="#111" stroke-width="1.8"/><line x1="771.1" y1="875.6" x2="771.1" y2="882" stroke="#111" stroke-width="1.8"/><path d="M647.8,632.4 L647.8,629.4 L771.1,629.4 L771.1,632.4" stroke="#333" stroke-width="1" fill="none"/><text x="697.4" y="632.71" font-size="16.5" text-anchor="middle">*</text><text x="705" y="632.71" font-size="16.5" text-anchor="middle">*</text><text x="712.6" y="632.71" font-size="16.5" text-anchor="middle">*</text><path d="M668.3,642.7 L668.3,639.7 L771.1,639.7 L771.1,642.7" stroke="#333" stroke-width="1" fill="none"/><text x="714.4" y="642.91" font-size="16.5" text-anchor="middle">*</text><text x="722" y="642.91" font-size="16.5" text-anchor="middle">*</text><text x="729.6" y="642.91" font-size="16.5" text-anchor="middle">*</text><path d="M688.9,654.7 L688.9,651.7 L771.1,651.7 L771.1,654.7" stroke="#333" stroke-width="1" fill="none"/><text x="721.4" y="653.21" font-size="16.5" text-anchor="middle">*</text><text x="729" y="653.21" font-size="16.5" text-anchor="middle">*</text><text x="736.6" y="653.21" font-size="16.5" text-anchor="middle">*</text><path d="M709.4,676.2 L709.4,673.2 L771.1,673.2 L771.1,676.2" stroke="#333" stroke-width="1" fill="none"/><text x="732.7" y="676.51" font-size="16.5" text-anchor="middle">*</text><text x="740.3" y="676.51" font-size="16.5" text-anchor="middle">*</text><text x="747.9" y="676.51" font-size="16.5" text-anchor="middle">*</text><path d="M627.2,766 L627.2,763 L647.8,763 L647.8,766" stroke="#333" stroke-width="1" fill="none"/><text x="630.6" y="766.31" font-size="16.5" text-anchor="middle">*</text><text x="638.2" y="766.31" font-size="16.5" text-anchor="middle">*</text><text x="645.8" y="766.31" font-size="16.5" text-anchor="middle">*</text><path d="M730,760.9 L730,757.9 L771.1,757.9 L771.1,760.9" stroke="#333" stroke-width="1" fill="none"/><text x="742.6" y="761.12" font-size="16.5" text-anchor="middle">*</text><text x="750.2" y="761.12" font-size="16.5" text-anchor="middle">*</text><text x="757.8" y="761.12" font-size="16.5" text-anchor="middle">*</text><path d="M750.6,778.7 L750.6,775.7 L771.1,775.7 L771.1,778.7" stroke="#333" stroke-width="1" fill="none"/><text x="753.9" y="778.91" font-size="16.5" text-anchor="middle">*</text><text x="761.5" y="778.91" font-size="16.5" text-anchor="middle">*</text><text x="769.1" y="778.91" font-size="16.5" text-anchor="middle">*</text><text x="686.2" y="615.5" font-size="14.3" text-anchor="middle">H446</text><text transform="translate(560.2,711.1) rotate(-90)" font-size="12" text-anchor="middle" textLength="99.6" lengthAdjust="spacingAndGlyphs">Cell viability ( % )</text><text x="538.5" y="616.7" font-size="17" font-family='"Liberation Serif",serif'>H</text><text x="2.2" y="361" font-size="17" font-family='"Liberation Serif",serif'>D</text><ellipse cx="60.5" cy="424.3" rx="41.2" ry="39.9" fill="url(#plg0)"/><g fill="#3a2fae" filter="url(#dotblur)"><circle cx="34.0" cy="414.2" r="1.9" fill-opacity="0.87"/><circle cx="35.0" cy="409.2" r="0.5" fill-opacity="0.88"/><circle cx="69.2" cy="393.9" r="0.5" fill-opacity="0.83"/><circle cx="66.0" cy="410.8" r="1.2" fill-opacity="0.76"/><circle cx="98.4" cy="416.0" r="1.1" fill-opacity="0.90"/><circle cx="79.1" cy="426.0" r="0.8" fill-opacity="0.76"/><circle cx="61.5" cy="443.8" r="0.5" fill-opacity="0.87"/><circle cx="76.0" cy="401.5" r="0.8" fill-opacity="0.91"/><circle cx="45.0" cy="399.8" r="0.7" fill-opacity="0.82"/><circle cx="99.6" cy="423.3" r="1.6" fill-opacity="0.93"/><circle cx="63.6" cy="448.0" r="0.6" fill-opacity="0.77"/><circle cx="32.0" cy="444.3" r="1.6" fill-opacity="0.85"/><circle cx="82.6" cy="393.8" r="0.5" fill-opacity="0.80"/><circle cx="23.5" cy="431.1" r="2.1" fill-opacity="0.85"/><circle cx="51.1" cy="414.6" r="1.4" fill-opacity="0.82"/><circle cx="53.2" cy="436.7" r="2.0" fill-opacity="0.94"/><circle cx="60.9" cy="440.4" r="0.5" fill-opacity="0.76"/><circle cx="76.2" cy="455.4" r="0.9" fill-opacity="0.86"/><circle cx="58.2" cy="404.9" r="0.5" fill-opacity="0.91"/><circle cx="45.9" cy="432.0" r="0.5" fill-opacity="0.82"/><circle cx="73.2" cy="388.9" r="0.6" fill-opacity="0.97"/><circle cx="44.0" cy="436.8" r="1.6" fill-opacity="0.91"/><circle cx="76.1" cy="423.3" r="0.5" fill-opacity="0.81"/><circle cx="43.7" cy="454.4" r="0.6" fill-opacity="0.77"/><circle cx="47.5" cy="417.1" r="0.5" fill-opacity="0.90"/><circle cx="35.3" cy="431.7" r="2.0" fill-opacity="0.87"/><circle cx="81.5" cy="401.7" r="0.5" fill-opacity="0.79"/><circle cx="76.1" cy="391.1" r="0.5" fill-opacity="0.80"/><circle cx="92.8" cy="412.0" r="0.5" fill-opacity="0.99"/><circle cx="30.9" cy="402.5" r="0.7" fill-opacity="0.78"/><circle cx="70.9" cy="421.9" r="0.5" fill-opacity="0.93"/><circle cx="70.7" cy="404.6" r="0.9" fill-opacity="0.82"/><circle cx="56.9" cy="405.7" r="0.5" fill-opacity="0.81"/><circle cx="79.1" cy="400.3" r="1.0" fill-opacity="0.82"/><circle cx="71.3" cy="459.4" r="0.5" fill-opacity="0.82"/><circle cx="86.8" cy="434.5" r="0.5" fill-opacity="0.84"/><circle cx="81.7" cy="446.6" r="0.6" fill-opacity="0.97"/><circle cx="39.1" cy="392.9" r="1.2" fill-opacity="0.90"/><circle cx="77.9" cy="428.1" r="0.5" fill-opacity="0.98"/><circle cx="93.5" cy="416.7" r="0.5" fill-opacity="0.91"/><circle cx="56.9" cy="396.2" r="0.6" fill-opacity="1.00"/><circle cx="47.2" cy="420.5" r="1.3" fill-opacity="0.98"/><circle cx="50.6" cy="392.2" r="1.4" fill-opacity="0.98"/><circle cx="50.3" cy="401.4" r="1.8" fill-opacity="0.97"/><circle cx="67.5" cy="398.4" r="1.7" fill-opacity="0.89"/><circle cx="36.5" cy="445.5" r="0.9" fill-opacity="0.90"/><circle cx="51.4" cy="413.7" r="2.2" fill-opacity="0.97"/><circle cx="34.2" cy="445.8" r="1.3" fill-opacity="0.90"/><circle cx="75.4" cy="401.1" r="0.5" fill-opacity="0.94"/><circle cx="52.8" cy="418.8" r="0.8" fill-opacity="0.81"/><circle cx="26.6" cy="424.9" r="1.0" fill-opacity="0.98"/><circle cx="83.1" cy="425.9" r="0.6" fill-opacity="0.92"/><circle cx="70.5" cy="441.8" r="1.8" fill-opacity="0.91"/><circle cx="82.4" cy="407.1" r="0.6" fill-opacity="0.92"/><circle cx="41.9" cy="432.7" r="1.5" fill-opacity="0.98"/><circle cx="32.7" cy="448.2" r="0.9" fill-opacity="0.83"/><circle cx="42.9" cy="424.7" r="1.6" fill-opacity="0.96"/><circle cx="93.0" cy="414.1" r="0.6" fill-opacity="0.79"/><circle cx="56.0" cy="451.5" r="0.5" fill-opacity="0.85"/><circle cx="28.1" cy="425.5" r="0.6" fill-opacity="0.96"/><circle cx="23.4" cy="435.4" r="0.5" fill-opacity="0.76"/><circle cx="96.3" cy="433.6" r="1.2" fill-opacity="0.89"/><circle cx="66.8" cy="401.4" r="0.5" fill-opacity="0.78"/><circle cx="88.7" cy="428.6" r="1.5" fill-opacity="0.81"/><circle cx="77.6" cy="429.3" r="1.0" fill-opacity="0.86"/><circle cx="42.2" cy="398.2" r="1.5" fill-opacity="0.99"/><circle cx="71.0" cy="455.2" r="0.7" fill-opacity="0.79"/><circle cx="54.2" cy="425.4" r="1.2" fill-opacity="0.79"/><circle cx="47.3" cy="442.9" r="1.2" fill-opacity="0.88"/><circle cx="61.8" cy="393.1" r="0.7" fill-opacity="0.95"/><circle cx="92.6" cy="443.3" r="1.9" fill-opacity="0.93"/><circle cx="43.9" cy="429.1" r="1.0" fill-opacity="0.98"/><circle cx="36.4" cy="413.6" r="1.7" fill-opacity="0.95"/><circle cx="23.2" cy="432.7" r="1.1" fill-opacity="0.80"/><circle cx="74.8" cy="394.0" r="1.0" fill-opacity="0.93"/><circle cx="77.6" cy="412.3" r="2.1" fill-opacity="0.99"/><circle cx="68.2" cy="395.7" r="0.6" fill-opacity="0.98"/><circle cx="39.2" cy="453.3" r="0.5" fill-opacity="0.86"/><circle cx="64.0" cy="394.6" r="0.8" fill-opacity="0.76"/><circle cx="93.6" cy="437.9" r="1.5" fill-opacity="0.79"/><circle cx="66.5" cy="400.5" r="0.5" fill-opacity="0.79"/><circle cx="55.5" cy="395.6" r="1.6" fill-opacity="0.92"/><circle cx="22.3" cy="426.0" r="2.0" fill-opacity="0.77"/><circle cx="39.4" cy="420.8" r="0.6" fill-opacity="0.93"/><circle cx="28.1" cy="419.8" r="1.6" fill-opacity="0.89"/><circle cx="42.5" cy="440.4" r="1.6" fill-opacity="0.98"/><circle cx="72.9" cy="408.0" r="2.1" fill-opacity="0.88"/><circle cx="70.0" cy="453.2" r="0.8" fill-opacity="0.88"/><circle cx="92.0" cy="429.7" r="2.1" fill-opacity="0.88"/><circle cx="69.1" cy="399.4" r="0.9" fill-opacity="0.87"/><circle cx="91.4" cy="437.5" r="0.8" fill-opacity="0.85"/><circle cx="94.6" cy="407.1" r="0.6" fill-opacity="0.87"/><circle cx="44.8" cy="431.0" r="1.5" fill-opacity="0.98"/><circle cx="48.6" cy="450.0" r="0.5" fill-opacity="0.90"/><circle cx="86.6" cy="451.0" r="1.4" fill-opacity="0.76"/><circle cx="63.4" cy="443.8" r="1.1" fill-opacity="0.83"/><circle cx="41.6" cy="407.2" r="0.5" fill-opacity="0.93"/><circle cx="43.6" cy="423.2" r="0.5" fill-opacity="0.80"/><circle cx="32.5" cy="435.7" r="0.6" fill-opacity="0.85"/><circle cx="76.8" cy="449.1" r="0.5" fill-opacity="0.91"/><circle cx="28.4" cy="418.4" r="1.6" fill-opacity="0.90"/><circle cx="64.5" cy="459.7" r="1.3" fill-opacity="0.95"/><circle cx="45.4" cy="457.6" r="0.6" fill-opacity="0.98"/><circle cx="81.8" cy="424.1" r="1.7" fill-opacity="0.78"/><circle cx="57.3" cy="403.1" r="0.6" fill-opacity="0.77"/><circle cx="28.5" cy="440.9" r="1.4" fill-opacity="0.78"/><circle cx="49.7" cy="400.1" r="0.5" fill-opacity="0.80"/><circle cx="89.0" cy="407.1" r="2.1" fill-opacity="0.78"/><circle cx="62.0" cy="395.5" r="0.8" fill-opacity="0.92"/><circle cx="78.7" cy="432.6" r="0.5" fill-opacity="0.76"/><circle cx="29.8" cy="421.5" r="0.9" fill-opacity="0.79"/><circle cx="66.2" cy="442.8" r="1.6" fill-opacity="1.00"/><circle cx="91.9" cy="445.0" r="0.5" fill-opacity="0.99"/><circle cx="63.2" cy="396.6" r="0.6" fill-opacity="0.87"/><circle cx="33.3" cy="436.7" r="1.0" fill-opacity="0.75"/><circle cx="79.5" cy="397.0" r="0.5" fill-opacity="0.86"/><circle cx="31.8" cy="443.1" r="0.5" fill-opacity="0.79"/><circle cx="90.3" cy="427.1" r="1.8" fill-opacity="0.95"/><circle cx="82.3" cy="399.0" r="1.0" fill-opacity="0.85"/><circle cx="28.6" cy="423.5" r="2.1" fill-opacity="0.95"/><circle cx="79.8" cy="412.6" r="1.3" fill-opacity="0.94"/><circle cx="30.6" cy="443.8" r="1.8" fill-opacity="0.97"/><circle cx="64.2" cy="391.7" r="1.3" fill-opacity="0.85"/><circle cx="91.5" cy="438.6" r="0.6" fill-opacity="0.87"/><circle cx="56.6" cy="429.1" r="1.0" fill-opacity="0.91"/><circle cx="81.0" cy="417.1" r="1.1" fill-opacity="0.83"/><circle cx="30.5" cy="410.7" r="0.8" fill-opacity="0.85"/><circle cx="36.0" cy="394.8" r="1.2" fill-opacity="0.94"/><circle cx="98.9" cy="429.7" r="1.0" fill-opacity="0.93"/><circle cx="42.0" cy="437.1" r="0.5" fill-opacity="0.80"/><circle cx="82.1" cy="439.2" r="0.5" fill-opacity="0.98"/><circle cx="29.7" cy="422.8" r="2.1" fill-opacity="0.89"/><circle cx="35.2" cy="395.5" r="1.5" fill-opacity="0.77"/><circle cx="62.3" cy="393.5" r="0.5" fill-opacity="0.98"/><circle cx="42.0" cy="427.5" r="0.5" fill-opacity="0.87"/><circle cx="90.5" cy="435.5" r="2.0" fill-opacity="0.86"/><circle cx="35.8" cy="407.4" r="0.6" fill-opacity="0.82"/><circle cx="29.8" cy="412.4" r="0.6" fill-opacity="0.93"/><circle cx="84.5" cy="426.3" r="0.5" fill-opacity="0.76"/><circle cx="61.0" cy="406.3" r="0.6" fill-opacity="0.97"/><circle cx="93.6" cy="434.8" r="2.2" fill-opacity="0.99"/><circle cx="71.9" cy="416.8" r="0.7" fill-opacity="0.87"/><circle cx="62.0" cy="461.8" r="0.8" fill-opacity="0.98"/><circle cx="26.8" cy="430.9" r="2.1" fill-opacity="0.95"/><circle cx="84.5" cy="444.8" r="1.0" fill-opacity="0.86"/><circle cx="80.1" cy="430.7" r="0.8" fill-opacity="0.78"/><circle cx="46.6" cy="400.5" r="0.7" fill-opacity="0.82"/><circle cx="32.9" cy="439.1" r="1.4" fill-opacity="0.88"/><circle cx="97.9" cy="413.2" r="1.3" fill-opacity="0.81"/><circle cx="73.3" cy="414.4" r="1.4" fill-opacity="0.91"/><circle cx="57.0" cy="449.2" r="1.1" fill-opacity="0.89"/><circle cx="39.2" cy="401.5" r="1.3" fill-opacity="0.80"/><circle cx="82.8" cy="421.5" r="1.9" fill-opacity="0.97"/><circle cx="70.5" cy="428.2" r="0.6" fill-opacity="0.86"/><circle cx="86.4" cy="443.1" r="0.8" fill-opacity="0.77"/><circle cx="53.9" cy="411.6" r="0.9" fill-opacity="0.91"/><circle cx="34.4" cy="427.7" r="0.5" fill-opacity="0.84"/><circle cx="78.9" cy="395.7" r="0.5" fill-opacity="0.78"/><circle cx="34.9" cy="399.9" r="1.4" fill-opacity="0.80"/><circle cx="59.1" cy="451.2" r="1.5" fill-opacity="0.84"/><circle cx="93.4" cy="422.1" r="0.6" fill-opacity="0.89"/><circle cx="91.1" cy="408.2" r="0.7" fill-opacity="0.84"/><circle cx="71.4" cy="413.8" r="0.5" fill-opacity="0.77"/><circle cx="29.5" cy="427.2" r="1.1" fill-opacity="0.82"/><circle cx="91.9" cy="440.1" r="0.5" fill-opacity="0.92"/><circle cx="55.7" cy="437.4" r="1.2" fill-opacity="0.92"/><circle cx="75.2" cy="442.2" r="0.6" fill-opacity="0.93"/><circle cx="79.9" cy="441.4" r="1.2" fill-opacity="0.89"/><circle cx="95.7" cy="410.8" r="1.8" fill-opacity="0.86"/><circle cx="48.4" cy="457.0" r="0.6" fill-opacity="0.85"/></g><ellipse cx="142" cy="424.5" rx="39.5" ry="39.5" fill="url(#plg1)"/><g fill="#3a2fae" filter="url(#dotblur)"><circle cx="126.7" cy="401.2" r="1.0" fill-opacity="0.79"/><circle cx="137.7" cy="428.9" r="0.5" fill-opacity="0.95"/><circle cx="116.0" cy="405.2" r="0.8" fill-opacity="0.92"/><circle cx="125.9" cy="430.9" r="0.5" fill-opacity="0.98"/><circle cx="147.1" cy="413.5" r="0.5" fill-opacity="0.92"/><circle cx="121.9" cy="438.2" r="1.4" fill-opacity="0.75"/><circle cx="152.5" cy="418.3" r="0.7" fill-opacity="0.77"/><circle cx="177.3" cy="412.2" r="0.5" fill-opacity="0.86"/><circle cx="135.5" cy="440.1" r="0.9" fill-opacity="0.79"/><circle cx="172.8" cy="434.8" r="0.5" fill-opacity="0.95"/><circle cx="119.3" cy="437.2" r="0.8" fill-opacity="0.87"/><circle cx="167.1" cy="429.4" r="1.1" fill-opacity="0.99"/><circle cx="122.8" cy="392.7" r="0.6" fill-opacity="0.84"/><circle cx="127.1" cy="395.8" r="0.5" fill-opacity="0.81"/><circle cx="117.0" cy="422.7" r="1.3" fill-opacity="0.88"/><circle cx="146.0" cy="416.4" r="0.6" fill-opacity="0.88"/><circle cx="123.6" cy="433.6" r="0.6" fill-opacity="0.94"/><circle cx="127.6" cy="419.8" r="0.5" fill-opacity="0.92"/><circle cx="140.3" cy="434.4" r="0.5" fill-opacity="0.91"/><circle cx="130.9" cy="427.4" r="0.5" fill-opacity="0.82"/><circle cx="169.0" cy="417.4" r="0.7" fill-opacity="0.99"/><circle cx="158.3" cy="416.1" r="0.6" fill-opacity="0.80"/><circle cx="170.4" cy="407.0" r="0.5" fill-opacity="0.82"/><circle cx="123.6" cy="452.8" r="0.5" fill-opacity="0.75"/><circle cx="134.4" cy="417.5" r="1.9" fill-opacity="1.00"/><circle cx="170.2" cy="428.8" r="0.5" fill-opacity="0.95"/><circle cx="119.7" cy="397.7" r="0.5" fill-opacity="0.88"/><circle cx="122.5" cy="404.5" r="0.5" fill-opacity="0.99"/><circle cx="160.8" cy="455.1" r="0.5" fill-opacity="0.97"/><circle cx="163.1" cy="416.7" r="0.7" fill-opacity="0.92"/><circle cx="149.3" cy="456.3" r="0.5" fill-opacity="0.81"/><circle cx="130.9" cy="394.2" r="0.5" fill-opacity="0.97"/><circle cx="143.5" cy="451.0" r="0.6" fill-opacity="0.99"/><circle cx="120.9" cy="403.5" r="1.7" fill-opacity="0.99"/><circle cx="112.8" cy="441.1" r="0.8" fill-opacity="0.98"/><circle cx="112.1" cy="408.0" r="0.5" fill-opacity="0.84"/><circle cx="111.4" cy="411.6" r="0.5" fill-opacity="0.93"/><circle cx="152.6" cy="390.1" r="1.6" fill-opacity="0.98"/><circle cx="149.1" cy="396.2" r="0.6" fill-opacity="0.77"/><circle cx="132.6" cy="447.4" r="1.7" fill-opacity="0.92"/><circle cx="120.9" cy="404.1" r="0.5" fill-opacity="0.88"/><circle cx="116.4" cy="444.6" r="0.5" fill-opacity="0.85"/><circle cx="132.5" cy="402.6" r="0.5" fill-opacity="0.77"/><circle cx="134.1" cy="402.3" r="1.2" fill-opacity="0.91"/><circle cx="117.7" cy="451.8" r="0.5" fill-opacity="0.87"/><circle cx="153.6" cy="449.0" r="1.0" fill-opacity="0.84"/><circle cx="132.1" cy="443.2" r="1.8" fill-opacity="0.75"/><circle cx="137.4" cy="449.0" r="0.5" fill-opacity="0.86"/><circle cx="159.9" cy="414.5" r="0.7" fill-opacity="0.92"/><circle cx="124.3" cy="428.5" r="0.9" fill-opacity="0.96"/><circle cx="121.1" cy="429.9" r="1.5" fill-opacity="0.96"/><circle cx="121.8" cy="419.6" r="1.2" fill-opacity="0.85"/><circle cx="125.4" cy="397.1" r="1.9" fill-opacity="0.89"/><circle cx="123.1" cy="450.5" r="1.1" fill-opacity="0.83"/><circle cx="123.8" cy="446.3" r="0.5" fill-opacity="0.78"/><circle cx="122.1" cy="418.8" r="0.5" fill-opacity="0.76"/><circle cx="134.4" cy="458.0" r="1.7" fill-opacity="0.90"/><circle cx="160.0" cy="406.1" r="1.6" fill-opacity="0.83"/><circle cx="131.6" cy="411.8" r="1.4" fill-opacity="0.90"/><circle cx="113.0" cy="442.3" r="0.9" fill-opacity="0.82"/><circle cx="122.9" cy="442.5" r="0.6" fill-opacity="0.85"/><circle cx="158.6" cy="454.7" r="0.5" fill-opacity="0.81"/><circle cx="105.3" cy="419.2" r="0.5" fill-opacity="0.96"/><circle cx="157.4" cy="392.4" r="0.6" fill-opacity="0.93"/><circle cx="157.2" cy="442.2" r="1.5" fill-opacity="0.96"/><circle cx="156.7" cy="410.7" r="0.5" fill-opacity="0.83"/><circle cx="145.1" cy="430.3" r="0.5" fill-opacity="0.93"/><circle cx="150.5" cy="446.0" r="0.5" fill-opacity="0.83"/><circle cx="114.3" cy="402.5" r="0.5" fill-opacity="0.92"/><circle cx="114.3" cy="433.8" r="0.7" fill-opacity="0.91"/><circle cx="107.7" cy="423.4" r="0.9" fill-opacity="0.87"/><circle cx="118.1" cy="444.7" r="0.6" fill-opacity="0.88"/><circle cx="136.2" cy="456.8" r="1.7" fill-opacity="0.87"/><circle cx="129.1" cy="391.7" r="1.8" fill-opacity="0.92"/><circle cx="119.8" cy="439.4" r="0.9" fill-opacity="0.94"/><circle cx="166.1" cy="449.9" r="0.5" fill-opacity="0.78"/><circle cx="155.1" cy="429.3" r="0.5" fill-opacity="0.81"/><circle cx="135.8" cy="410.1" r="0.9" fill-opacity="0.99"/><circle cx="141.2" cy="387.6" r="1.8" fill-opacity="0.76"/><circle cx="160.6" cy="415.2" r="0.7" fill-opacity="0.80"/><circle cx="112.2" cy="440.0" r="0.8" fill-opacity="0.83"/><circle cx="160.2" cy="435.6" r="0.9" fill-opacity="0.99"/><circle cx="145.6" cy="387.3" r="1.7" fill-opacity="0.84"/><circle cx="162.5" cy="413.8" r="0.9" fill-opacity="0.92"/><circle cx="142.9" cy="431.0" r="0.7" fill-opacity="0.93"/><circle cx="143.6" cy="389.8" r="0.5" fill-opacity="0.85"/><circle cx="177.3" cy="422.2" r="0.7" fill-opacity="0.80"/><circle cx="111.7" cy="417.5" r="0.6" fill-opacity="0.81"/><circle cx="122.5" cy="407.9" r="0.5" fill-opacity="0.89"/><circle cx="140.8" cy="387.7" r="0.5" fill-opacity="0.85"/><circle cx="140.8" cy="409.5" r="0.9" fill-opacity="0.79"/><circle cx="117.7" cy="407.8" r="0.8" fill-opacity="0.84"/><circle cx="127.6" cy="443.1" r="2.0" fill-opacity="0.83"/><circle cx="114.4" cy="431.6" r="0.5" fill-opacity="0.85"/><circle cx="133.3" cy="442.4" r="0.6" fill-opacity="0.84"/><circle cx="131.4" cy="459.5" r="0.5" fill-opacity="0.91"/><circle cx="116.2" cy="421.9" r="0.9" fill-opacity="0.77"/><circle cx="167.8" cy="443.5" r="0.5" fill-opacity="0.95"/><circle cx="124.8" cy="391.3" r="0.5" fill-opacity="0.86"/><circle cx="154.3" cy="405.5" r="0.5" fill-opacity="0.80"/><circle cx="121.6" cy="400.7" r="0.8" fill-opacity="0.87"/><circle cx="106.3" cy="434.0" r="1.7" fill-opacity="0.85"/><circle cx="124.5" cy="445.9" r="1.1" fill-opacity="0.94"/><circle cx="121.1" cy="421.1" r="1.1" fill-opacity="0.88"/><circle cx="118.3" cy="403.3" r="1.1" fill-opacity="0.84"/><circle cx="165.1" cy="428.1" r="1.6" fill-opacity="0.95"/><circle cx="167.2" cy="419.2" r="1.6" fill-opacity="0.79"/><circle cx="111.3" cy="441.2" r="0.5" fill-opacity="0.81"/><circle cx="167.0" cy="432.9" r="0.5" fill-opacity="0.78"/><circle cx="154.7" cy="444.1" r="0.5" fill-opacity="0.96"/><circle cx="116.6" cy="426.1" r="0.9" fill-opacity="0.98"/><circle cx="144.4" cy="441.7" r="1.5" fill-opacity="0.98"/><circle cx="106.1" cy="418.0" r="0.6" fill-opacity="0.80"/><circle cx="145.5" cy="388.5" r="0.8" fill-opacity="0.95"/><circle cx="120.6" cy="419.9" r="1.6" fill-opacity="0.78"/><circle cx="154.2" cy="452.9" r="1.4" fill-opacity="0.96"/><circle cx="113.0" cy="436.8" r="0.5" fill-opacity="0.87"/><circle cx="121.8" cy="439.1" r="0.5" fill-opacity="0.98"/><circle cx="115.2" cy="413.6" r="1.4" fill-opacity="0.97"/><circle cx="113.6" cy="416.4" r="1.4" fill-opacity="0.84"/><circle cx="177.6" cy="430.0" r="1.3" fill-opacity="0.88"/><circle cx="173.0" cy="422.6" r="0.5" fill-opacity="0.85"/><circle cx="141.3" cy="390.2" r="0.7" fill-opacity="0.94"/><circle cx="163.9" cy="401.0" r="0.9" fill-opacity="0.84"/><circle cx="161.8" cy="435.7" r="0.5" fill-opacity="0.76"/><circle cx="165.6" cy="453.2" r="0.9" fill-opacity="0.78"/><circle cx="105.8" cy="416.9" r="0.5" fill-opacity="0.96"/><circle cx="177.0" cy="419.6" r="0.5" fill-opacity="0.85"/><circle cx="135.6" cy="455.6" r="0.8" fill-opacity="0.93"/><circle cx="157.0" cy="394.6" r="1.2" fill-opacity="0.82"/><circle cx="111.3" cy="438.1" r="0.5" fill-opacity="0.76"/><circle cx="122.5" cy="448.7" r="0.5" fill-opacity="0.87"/><circle cx="130.0" cy="448.0" r="0.8" fill-opacity="0.88"/><circle cx="171.0" cy="422.2" r="1.6" fill-opacity="0.82"/><circle cx="127.9" cy="457.1" r="1.7" fill-opacity="0.76"/><circle cx="163.6" cy="414.6" r="1.0" fill-opacity="0.93"/><circle cx="156.4" cy="438.3" r="1.8" fill-opacity="0.77"/><circle cx="125.0" cy="432.4" r="1.4" fill-opacity="0.92"/><circle cx="148.9" cy="387.6" r="0.6" fill-opacity="0.98"/><circle cx="164.5" cy="432.0" r="1.8" fill-opacity="0.97"/></g><ellipse cx="227.3" cy="425" rx="41.7" ry="40" fill="url(#plg2)"/><g fill="#3a2fae" filter="url(#dotblur)"><circle cx="218.2" cy="404.7" r="1.0" fill-opacity="0.96"/><circle cx="229.8" cy="444.2" r="0.5" fill-opacity="0.81"/><circle cx="251.2" cy="449.5" r="0.7" fill-opacity="0.80"/><circle cx="205.2" cy="434.7" r="1.4" fill-opacity="0.90"/><circle cx="226.1" cy="431.9" r="0.5" fill-opacity="0.97"/><circle cx="239.9" cy="392.2" r="1.4" fill-opacity="0.94"/><circle cx="237.8" cy="389.2" r="0.5" fill-opacity="0.96"/><circle cx="228.2" cy="396.5" r="0.8" fill-opacity="0.86"/><circle cx="203.4" cy="435.8" r="0.5" fill-opacity="0.78"/><circle cx="238.2" cy="391.5" r="1.9" fill-opacity="0.92"/><circle cx="227.0" cy="395.0" r="0.5" fill-opacity="0.92"/><circle cx="240.0" cy="449.6" r="0.5" fill-opacity="0.88"/><circle cx="205.2" cy="430.5" r="0.9" fill-opacity="0.85"/><circle cx="209.8" cy="426.0" r="0.5" fill-opacity="0.81"/><circle cx="213.6" cy="439.7" r="0.5" fill-opacity="0.91"/><circle cx="197.4" cy="448.8" r="1.1" fill-opacity="0.98"/><circle cx="234.4" cy="433.4" r="1.3" fill-opacity="0.96"/><circle cx="245.1" cy="451.8" r="0.6" fill-opacity="0.97"/><circle cx="239.7" cy="390.8" r="0.5" fill-opacity="0.96"/><circle cx="221.7" cy="399.9" r="0.5" fill-opacity="0.99"/><circle cx="221.8" cy="394.4" r="0.5" fill-opacity="0.90"/><circle cx="200.5" cy="408.4" r="0.6" fill-opacity="0.93"/><circle cx="220.1" cy="448.7" r="0.5" fill-opacity="0.92"/><circle cx="229.8" cy="440.7" r="0.5" fill-opacity="0.91"/><circle cx="197.1" cy="416.9" r="0.5" fill-opacity="0.86"/><circle cx="248.9" cy="438.6" r="0.5" fill-opacity="1.00"/><circle cx="221.9" cy="440.5" r="0.5" fill-opacity="0.90"/><circle cx="213.3" cy="427.6" r="0.6" fill-opacity="0.96"/><circle cx="224.8" cy="429.1" r="0.7" fill-opacity="0.99"/><circle cx="197.3" cy="429.7" r="1.0" fill-opacity="0.82"/><circle cx="217.3" cy="424.9" r="1.6" fill-opacity="0.93"/><circle cx="218.0" cy="404.8" r="1.5" fill-opacity="0.81"/><circle cx="207.6" cy="449.2" r="0.5" fill-opacity="0.82"/><circle cx="214.9" cy="441.2" r="0.5" fill-opacity="0.85"/><circle cx="228.1" cy="410.7" r="0.9" fill-opacity="0.75"/><circle cx="240.4" cy="456.9" r="0.7" fill-opacity="0.89"/><circle cx="221.0" cy="448.7" r="0.6" fill-opacity="0.78"/><circle cx="255.8" cy="448.2" r="1.4" fill-opacity="0.80"/><circle cx="208.5" cy="440.2" r="0.5" fill-opacity="0.78"/><circle cx="202.7" cy="434.0" r="1.5" fill-opacity="1.00"/><circle cx="216.3" cy="422.6" r="0.5" fill-opacity="0.95"/><circle cx="247.0" cy="409.9" r="0.8" fill-opacity="0.78"/><circle cx="227.4" cy="429.5" r="1.5" fill-opacity="0.79"/><circle cx="206.9" cy="445.4" r="0.5" fill-opacity="0.95"/><circle cx="223.1" cy="404.9" r="1.0" fill-opacity="0.98"/><circle cx="254.1" cy="411.0" r="0.6" fill-opacity="0.89"/><circle cx="244.8" cy="398.5" r="1.6" fill-opacity="0.78"/><circle cx="209.8" cy="421.4" r="1.3" fill-opacity="0.88"/><circle cx="251.1" cy="419.4" r="0.5" fill-opacity="0.77"/><circle cx="239.2" cy="427.2" r="1.1" fill-opacity="0.78"/><circle cx="250.4" cy="400.2" r="2.0" fill-opacity="0.95"/><circle cx="207.1" cy="406.3" r="1.4" fill-opacity="0.93"/><circle cx="229.1" cy="401.9" r="0.5" fill-opacity="0.83"/><circle cx="188.4" cy="431.8" r="0.5" fill-opacity="0.95"/><circle cx="256.1" cy="425.6" r="0.5" fill-opacity="0.81"/><circle cx="250.8" cy="415.6" r="0.5" fill-opacity="0.96"/><circle cx="195.2" cy="442.9" r="2.0" fill-opacity="0.94"/><circle cx="225.2" cy="453.4" r="0.7" fill-opacity="0.98"/><circle cx="238.0" cy="452.8" r="0.6" fill-opacity="0.87"/><circle cx="209.0" cy="416.3" r="0.5" fill-opacity="0.96"/><circle cx="243.2" cy="436.5" r="0.8" fill-opacity="0.83"/><circle cx="189.6" cy="425.7" r="0.7" fill-opacity="0.96"/><circle cx="226.7" cy="404.5" r="0.9" fill-opacity="0.86"/><circle cx="265.9" cy="430.2" r="1.5" fill-opacity="0.79"/><circle cx="248.3" cy="454.2" r="0.5" fill-opacity="0.88"/><circle cx="225.5" cy="461.8" r="0.7" fill-opacity="0.90"/><circle cx="205.2" cy="420.9" r="0.5" fill-opacity="0.86"/><circle cx="208.3" cy="453.8" r="0.5" fill-opacity="0.76"/><circle cx="196.5" cy="439.6" r="1.7" fill-opacity="0.94"/><circle cx="240.9" cy="417.2" r="1.7" fill-opacity="0.95"/><circle cx="211.9" cy="392.9" r="1.1" fill-opacity="0.92"/><circle cx="225.8" cy="455.8" r="0.5" fill-opacity="0.93"/><circle cx="257.5" cy="435.7" r="0.9" fill-opacity="0.90"/><circle cx="232.0" cy="396.3" r="1.5" fill-opacity="0.85"/><circle cx="190.8" cy="425.2" r="0.8" fill-opacity="0.85"/><circle cx="191.1" cy="437.6" r="1.8" fill-opacity="0.83"/><circle cx="256.1" cy="408.1" r="1.0" fill-opacity="0.84"/><circle cx="213.2" cy="426.9" r="0.6" fill-opacity="0.95"/><circle cx="263.1" cy="422.0" r="0.6" fill-opacity="0.85"/><circle cx="227.2" cy="394.8" r="0.5" fill-opacity="0.80"/><circle cx="219.0" cy="440.7" r="0.5" fill-opacity="0.99"/><circle cx="246.6" cy="416.8" r="0.5" fill-opacity="0.80"/><circle cx="260.5" cy="445.0" r="0.5" fill-opacity="0.78"/><circle cx="217.1" cy="433.4" r="0.5" fill-opacity="0.79"/><circle cx="224.9" cy="418.2" r="0.5" fill-opacity="0.81"/><circle cx="250.8" cy="404.8" r="1.0" fill-opacity="0.93"/><circle cx="237.3" cy="393.5" r="1.5" fill-opacity="0.79"/><circle cx="218.4" cy="416.9" r="0.7" fill-opacity="0.88"/><circle cx="243.8" cy="455.6" r="1.1" fill-opacity="0.86"/><circle cx="228.2" cy="451.9" r="0.5" fill-opacity="0.89"/><circle cx="253.4" cy="408.4" r="0.5" fill-opacity="0.93"/><circle cx="218.3" cy="412.8" r="0.5" fill-opacity="0.96"/><circle cx="226.2" cy="462.5" r="1.3" fill-opacity="0.80"/><circle cx="246.9" cy="439.3" r="0.6" fill-opacity="0.78"/><circle cx="196.7" cy="409.9" r="0.6" fill-opacity="0.93"/><circle cx="216.4" cy="443.5" r="0.6" fill-opacity="0.75"/><circle cx="259.4" cy="444.1" r="0.5" fill-opacity="0.95"/><circle cx="192.7" cy="436.4" r="0.6" fill-opacity="0.78"/><circle cx="224.6" cy="424.7" r="0.5" fill-opacity="0.79"/><circle cx="265.1" cy="429.4" r="0.6" fill-opacity="0.94"/><circle cx="254.9" cy="446.0" r="1.2" fill-opacity="0.89"/><circle cx="258.2" cy="414.0" r="1.3" fill-opacity="0.90"/><circle cx="191.7" cy="426.8" r="0.8" fill-opacity="0.95"/><circle cx="204.0" cy="447.0" r="0.5" fill-opacity="0.95"/><circle cx="204.1" cy="435.6" r="0.5" fill-opacity="0.89"/><circle cx="241.1" cy="402.2" r="0.8" fill-opacity="0.89"/><circle cx="193.9" cy="437.6" r="0.8" fill-opacity="0.94"/><circle cx="225.9" cy="391.7" r="1.6" fill-opacity="0.89"/><circle cx="239.1" cy="452.8" r="0.5" fill-opacity="0.86"/><circle cx="251.5" cy="408.0" r="0.5" fill-opacity="0.84"/><circle cx="193.3" cy="433.6" r="1.4" fill-opacity="0.79"/><circle cx="194.9" cy="439.3" r="0.8" fill-opacity="0.76"/><circle cx="236.3" cy="400.0" r="1.1" fill-opacity="0.89"/><circle cx="254.5" cy="431.5" r="1.1" fill-opacity="0.86"/><circle cx="200.8" cy="403.4" r="0.6" fill-opacity="0.97"/><circle cx="244.4" cy="420.7" r="0.5" fill-opacity="0.99"/><circle cx="197.0" cy="434.9" r="1.7" fill-opacity="0.88"/><circle cx="255.4" cy="435.7" r="1.3" fill-opacity="0.91"/><circle cx="244.2" cy="439.1" r="0.6" fill-opacity="0.98"/><circle cx="190.7" cy="432.7" r="0.5" fill-opacity="0.96"/><circle cx="224.8" cy="405.1" r="0.7" fill-opacity="0.99"/><circle cx="232.3" cy="408.0" r="1.1" fill-opacity="0.75"/><circle cx="218.5" cy="454.1" r="1.0" fill-opacity="0.99"/><circle cx="193.7" cy="426.2" r="0.9" fill-opacity="0.81"/><circle cx="249.1" cy="443.7" r="1.1" fill-opacity="0.77"/><circle cx="240.4" cy="451.6" r="0.8" fill-opacity="0.76"/><circle cx="220.6" cy="418.6" r="1.1" fill-opacity="0.97"/><circle cx="261.2" cy="424.1" r="0.5" fill-opacity="0.91"/><circle cx="242.2" cy="453.3" r="0.5" fill-opacity="0.81"/><circle cx="234.4" cy="396.5" r="1.1" fill-opacity="0.89"/><circle cx="224.8" cy="411.6" r="0.7" fill-opacity="0.79"/><circle cx="228.2" cy="456.3" r="0.5" fill-opacity="0.86"/><circle cx="255.0" cy="446.1" r="0.6" fill-opacity="0.81"/><circle cx="240.9" cy="395.3" r="0.5" fill-opacity="0.93"/><circle cx="233.2" cy="452.4" r="0.5" fill-opacity="0.88"/><circle cx="198.1" cy="404.2" r="0.5" fill-opacity="0.95"/><circle cx="199.1" cy="439.3" r="0.5" fill-opacity="0.86"/><circle cx="222.8" cy="457.5" r="0.5" fill-opacity="0.97"/><circle cx="253.1" cy="436.8" r="1.6" fill-opacity="0.78"/><circle cx="207.9" cy="407.7" r="1.0" fill-opacity="0.97"/></g><ellipse cx="311" cy="424.7" rx="40.5" ry="39" fill="url(#plg3)"/><g fill="#3a2fae" filter="url(#dotblur)"><circle cx="306.4" cy="410.2" r="0.9" fill-opacity="0.99"/><circle cx="310.2" cy="446.7" r="1.1" fill-opacity="0.91"/><circle cx="301.4" cy="403.7" r="0.6" fill-opacity="0.94"/><circle cx="313.7" cy="440.3" r="1.5" fill-opacity="0.84"/><circle cx="318.5" cy="404.3" r="0.9" fill-opacity="0.79"/><circle cx="295.4" cy="399.7" r="0.4" fill-opacity="0.91"/><circle cx="302.3" cy="438.4" r="0.4" fill-opacity="0.80"/><circle cx="279.6" cy="445.6" r="1.8" fill-opacity="0.86"/><circle cx="332.9" cy="402.9" r="1.0" fill-opacity="0.78"/><circle cx="290.2" cy="402.4" r="0.4" fill-opacity="0.77"/><circle cx="274.7" cy="421.7" r="0.4" fill-opacity="0.86"/><circle cx="317.2" cy="405.5" r="0.7" fill-opacity="0.78"/><circle cx="341.0" cy="442.9" r="0.5" fill-opacity="0.76"/><circle cx="336.7" cy="446.3" r="0.7" fill-opacity="0.77"/><circle cx="299.7" cy="399.3" r="0.7" fill-opacity="0.86"/><circle cx="284.4" cy="435.4" r="0.8" fill-opacity="0.77"/><circle cx="313.5" cy="452.1" r="1.4" fill-opacity="0.98"/><circle cx="319.1" cy="434.5" r="1.0" fill-opacity="0.89"/><circle cx="308.8" cy="417.4" r="1.7" fill-opacity="0.86"/><circle cx="288.2" cy="414.4" r="1.7" fill-opacity="0.82"/><circle cx="320.0" cy="446.0" r="0.9" fill-opacity="0.87"/><circle cx="294.0" cy="438.6" r="0.4" fill-opacity="0.83"/><circle cx="278.2" cy="405.8" r="0.5" fill-opacity="0.98"/><circle cx="310.8" cy="449.3" r="0.4" fill-opacity="0.79"/><circle cx="313.5" cy="444.0" r="1.4" fill-opacity="0.82"/><circle cx="293.5" cy="411.8" r="1.6" fill-opacity="0.82"/><circle cx="287.6" cy="449.1" r="0.7" fill-opacity="0.90"/><circle cx="312.7" cy="388.6" r="0.7" fill-opacity="0.96"/><circle cx="291.8" cy="441.2" r="1.7" fill-opacity="0.89"/><circle cx="297.3" cy="455.4" r="1.6" fill-opacity="0.90"/><circle cx="331.1" cy="416.1" r="0.6" fill-opacity="0.83"/><circle cx="329.0" cy="437.8" r="0.4" fill-opacity="0.92"/><circle cx="310.0" cy="441.6" r="0.6" fill-opacity="0.89"/><circle cx="316.7" cy="400.1" r="0.5" fill-opacity="0.84"/><circle cx="329.8" cy="443.8" r="0.5" fill-opacity="0.79"/><circle cx="331.5" cy="450.6" r="0.9" fill-opacity="0.81"/><circle cx="293.1" cy="398.8" r="0.5" fill-opacity="0.98"/><circle cx="280.6" cy="413.7" r="0.4" fill-opacity="0.85"/><circle cx="288.7" cy="428.8" r="1.6" fill-opacity="0.97"/><circle cx="305.6" cy="413.7" r="1.6" fill-opacity="0.89"/><circle cx="321.1" cy="413.9" r="0.6" fill-opacity="1.00"/><circle cx="328.3" cy="393.8" r="1.6" fill-opacity="0.77"/><circle cx="299.1" cy="456.5" r="0.4" fill-opacity="0.84"/><circle cx="342.1" cy="425.6" r="0.6" fill-opacity="0.95"/><circle cx="282.4" cy="419.8" r="0.5" fill-opacity="0.99"/><circle cx="301.8" cy="405.4" r="0.9" fill-opacity="0.75"/><circle cx="314.5" cy="461.5" r="1.8" fill-opacity="0.98"/><circle cx="333.7" cy="396.7" r="0.6" fill-opacity="0.86"/><circle cx="334.2" cy="415.2" r="0.4" fill-opacity="0.78"/><circle cx="324.1" cy="390.6" r="1.0" fill-opacity="0.99"/><circle cx="326.2" cy="400.1" r="0.6" fill-opacity="0.98"/><circle cx="298.7" cy="429.5" r="0.8" fill-opacity="0.95"/><circle cx="299.5" cy="400.9" r="1.8" fill-opacity="0.85"/><circle cx="330.8" cy="428.4" r="1.4" fill-opacity="0.87"/><circle cx="284.9" cy="421.6" r="0.4" fill-opacity="0.81"/><circle cx="310.3" cy="445.5" r="1.4" fill-opacity="0.81"/><circle cx="320.9" cy="414.2" r="0.7" fill-opacity="0.76"/><circle cx="298.2" cy="395.5" r="0.9" fill-opacity="0.94"/><circle cx="315.3" cy="450.7" r="1.1" fill-opacity="0.91"/><circle cx="324.5" cy="454.1" r="0.5" fill-opacity="0.92"/><circle cx="290.0" cy="409.5" r="0.6" fill-opacity="0.94"/><circle cx="285.8" cy="425.0" r="1.3" fill-opacity="0.83"/><circle cx="298.5" cy="410.7" r="0.4" fill-opacity="0.96"/><circle cx="329.9" cy="412.2" r="0.7" fill-opacity="0.79"/><circle cx="298.8" cy="398.7" r="0.6" fill-opacity="0.91"/><circle cx="336.0" cy="418.4" r="0.4" fill-opacity="0.95"/><circle cx="302.4" cy="424.3" r="0.4" fill-opacity="0.78"/><circle cx="336.7" cy="407.8" r="0.5" fill-opacity="0.85"/><circle cx="288.4" cy="407.8" r="0.5" fill-opacity="0.84"/><circle cx="277.1" cy="412.8" r="0.5" fill-opacity="0.95"/><circle cx="276.0" cy="440.0" r="0.4" fill-opacity="0.83"/><circle cx="328.4" cy="456.0" r="0.4" fill-opacity="0.95"/><circle cx="320.5" cy="412.1" r="0.5" fill-opacity="0.85"/><circle cx="334.8" cy="444.2" r="1.2" fill-opacity="0.86"/><circle cx="314.1" cy="391.5" r="0.4" fill-opacity="0.96"/><circle cx="312.8" cy="458.9" r="0.8" fill-opacity="0.80"/><circle cx="311.3" cy="395.8" r="0.5" fill-opacity="0.88"/><circle cx="322.1" cy="412.2" r="0.9" fill-opacity="0.96"/><circle cx="310.6" cy="411.2" r="0.4" fill-opacity="0.89"/><circle cx="328.4" cy="412.7" r="0.4" fill-opacity="0.87"/><circle cx="289.5" cy="442.7" r="0.4" fill-opacity="0.92"/><circle cx="286.6" cy="452.8" r="1.5" fill-opacity="0.83"/><circle cx="289.0" cy="430.9" r="1.8" fill-opacity="0.94"/><circle cx="342.0" cy="432.3" r="0.6" fill-opacity="0.75"/><circle cx="302.0" cy="433.2" r="0.5" fill-opacity="0.78"/><circle cx="316.9" cy="396.9" r="1.6" fill-opacity="0.98"/><circle cx="322.9" cy="448.4" r="1.7" fill-opacity="0.86"/><circle cx="322.3" cy="403.1" r="0.7" fill-opacity="0.99"/><circle cx="342.5" cy="414.0" r="0.4" fill-opacity="0.99"/><circle cx="301.1" cy="397.3" r="0.5" fill-opacity="0.81"/><circle cx="322.4" cy="444.7" r="1.7" fill-opacity="0.78"/><circle cx="296.4" cy="409.1" r="0.4" fill-opacity="0.80"/><circle cx="313.2" cy="446.0" r="0.4" fill-opacity="0.94"/><circle cx="299.0" cy="453.8" r="1.5" fill-opacity="0.89"/><circle cx="331.5" cy="420.3" r="0.5" fill-opacity="0.95"/><circle cx="346.5" cy="425.3" r="1.4" fill-opacity="0.86"/><circle cx="338.5" cy="415.3" r="0.6" fill-opacity="0.81"/><circle cx="319.7" cy="417.4" r="0.6" fill-opacity="0.93"/><circle cx="342.9" cy="420.8" r="1.6" fill-opacity="0.98"/><circle cx="335.7" cy="409.6" r="0.5" fill-opacity="0.78"/><circle cx="342.7" cy="430.2" r="1.8" fill-opacity="0.83"/><circle cx="304.1" cy="450.1" r="0.5" fill-opacity="0.88"/><circle cx="346.1" cy="427.8" r="0.5" fill-opacity="0.81"/><circle cx="275.9" cy="438.3" r="0.6" fill-opacity="0.98"/><circle cx="291.3" cy="441.5" r="0.6" fill-opacity="0.81"/><circle cx="303.3" cy="456.0" r="0.7" fill-opacity="0.89"/><circle cx="308.8" cy="391.5" r="0.6" fill-opacity="0.99"/><circle cx="345.8" cy="410.9" r="1.0" fill-opacity="0.86"/><circle cx="327.3" cy="405.8" r="0.6" fill-opacity="0.94"/><circle cx="293.5" cy="443.7" r="0.4" fill-opacity="0.93"/><circle cx="287.6" cy="425.5" r="1.1" fill-opacity="0.96"/><circle cx="291.6" cy="393.7" r="0.5" fill-opacity="0.98"/><circle cx="300.8" cy="430.7" r="1.6" fill-opacity="0.96"/><circle cx="332.2" cy="402.6" r="0.4" fill-opacity="0.76"/><circle cx="332.4" cy="415.0" r="0.4" fill-opacity="0.83"/><circle cx="319.0" cy="451.9" r="1.4" fill-opacity="0.78"/><circle cx="325.4" cy="424.5" r="0.4" fill-opacity="0.81"/><circle cx="330.6" cy="407.0" r="0.5" fill-opacity="0.89"/><circle cx="285.0" cy="401.7" r="1.3" fill-opacity="0.75"/><circle cx="340.8" cy="428.5" r="1.4" fill-opacity="0.76"/><circle cx="297.5" cy="430.9" r="0.8" fill-opacity="0.75"/><circle cx="336.7" cy="443.4" r="0.5" fill-opacity="0.76"/><circle cx="327.5" cy="396.2" r="1.2" fill-opacity="0.83"/><circle cx="332.5" cy="419.7" r="1.3" fill-opacity="0.99"/><circle cx="330.7" cy="406.8" r="1.0" fill-opacity="0.95"/><circle cx="317.3" cy="397.0" r="0.7" fill-opacity="0.82"/><circle cx="338.7" cy="431.7" r="0.9" fill-opacity="0.83"/><circle cx="316.2" cy="406.7" r="0.7" fill-opacity="0.83"/><circle cx="345.4" cy="411.0" r="0.6" fill-opacity="0.89"/><circle cx="310.2" cy="425.7" r="1.8" fill-opacity="0.88"/><circle cx="348.8" cy="431.3" r="0.4" fill-opacity="0.77"/><circle cx="311.4" cy="411.5" r="1.8" fill-opacity="0.94"/><circle cx="287.9" cy="445.3" r="0.5" fill-opacity="0.78"/><circle cx="330.2" cy="442.4" r="1.3" fill-opacity="0.88"/><circle cx="326.6" cy="404.6" r="0.5" fill-opacity="0.97"/><circle cx="287.6" cy="401.3" r="0.8" fill-opacity="0.91"/><circle cx="347.9" cy="423.7" r="0.7" fill-opacity="0.99"/><circle cx="330.6" cy="415.3" r="1.5" fill-opacity="0.91"/><circle cx="323.1" cy="414.8" r="0.5" fill-opacity="0.83"/><circle cx="343.1" cy="443.7" r="0.9" fill-opacity="0.81"/><circle cx="318.7" cy="458.9" r="0.4" fill-opacity="0.87"/><circle cx="311.4" cy="397.6" r="0.5" fill-opacity="0.82"/><circle cx="288.6" cy="417.6" r="0.4" fill-opacity="0.89"/><circle cx="297.4" cy="393.1" r="0.5" fill-opacity="0.87"/><circle cx="296.3" cy="427.3" r="1.1" fill-opacity="0.75"/><circle cx="339.5" cy="409.9" r="0.5" fill-opacity="0.83"/><circle cx="329.4" cy="451.0" r="0.5" fill-opacity="0.90"/><circle cx="325.7" cy="449.4" r="0.4" fill-opacity="0.87"/><circle cx="322.1" cy="458.0" r="1.0" fill-opacity="0.88"/><circle cx="291.3" cy="436.2" r="1.3" fill-opacity="0.78"/></g><ellipse cx="58.7" cy="505" rx="41" ry="38.7" fill="url(#plg4)"/><g fill="#3a2fae" filter="url(#dotblur)"><circle cx="97.0" cy="507.7" r="1.1" fill-opacity="0.79"/><circle cx="97.2" cy="508.9" r="1.5" fill-opacity="0.92"/><circle cx="95.3" cy="505.0" r="0.5" fill-opacity="0.83"/><circle cx="52.2" cy="536.4" r="0.5" fill-opacity="0.81"/><circle cx="84.5" cy="480.5" r="1.2" fill-opacity="0.81"/><circle cx="21.0" cy="502.5" r="0.5" fill-opacity="0.86"/><circle cx="82.9" cy="517.4" r="0.8" fill-opacity="0.84"/><circle cx="86.9" cy="492.5" r="0.9" fill-opacity="0.85"/><circle cx="95.4" cy="503.9" r="0.7" fill-opacity="0.99"/><circle cx="63.7" cy="510.8" r="0.4" fill-opacity="0.98"/><circle cx="52.2" cy="473.9" r="0.5" fill-opacity="0.87"/><circle cx="88.8" cy="525.6" r="0.4" fill-opacity="0.76"/><circle cx="74.2" cy="482.1" r="0.7" fill-opacity="0.85"/><circle cx="71.4" cy="530.2" r="1.7" fill-opacity="0.84"/><circle cx="50.5" cy="524.1" r="1.3" fill-opacity="0.83"/><circle cx="39.4" cy="535.3" r="0.6" fill-opacity="0.77"/><circle cx="69.4" cy="471.1" r="0.6" fill-opacity="0.78"/><circle cx="37.8" cy="524.4" r="1.3" fill-opacity="0.98"/><circle cx="50.7" cy="536.7" r="0.4" fill-opacity="0.97"/><circle cx="79.4" cy="535.1" r="0.7" fill-opacity="0.87"/><circle cx="95.9" cy="514.7" r="0.4" fill-opacity="0.96"/><circle cx="28.5" cy="511.9" r="1.2" fill-opacity="0.90"/><circle cx="57.5" cy="536.7" r="0.4" fill-opacity="0.75"/><circle cx="43.8" cy="486.0" r="0.5" fill-opacity="0.84"/><circle cx="49.8" cy="475.9" r="0.8" fill-opacity="0.83"/><circle cx="70.0" cy="472.7" r="1.5" fill-opacity="0.97"/><circle cx="55.2" cy="499.0" r="0.5" fill-opacity="0.85"/><circle cx="77.2" cy="527.2" r="0.5" fill-opacity="1.00"/><circle cx="80.1" cy="492.7" r="1.0" fill-opacity="0.83"/><circle cx="39.2" cy="490.8" r="1.0" fill-opacity="0.84"/><circle cx="64.6" cy="515.5" r="1.4" fill-opacity="0.93"/><circle cx="66.9" cy="492.0" r="0.8" fill-opacity="0.83"/><circle cx="84.4" cy="530.4" r="0.4" fill-opacity="0.84"/><circle cx="25.8" cy="495.4" r="0.6" fill-opacity="0.98"/><circle cx="65.1" cy="480.4" r="0.4" fill-opacity="0.95"/><circle cx="48.4" cy="490.5" r="1.3" fill-opacity="0.91"/><circle cx="28.9" cy="495.9" r="1.1" fill-opacity="0.84"/><circle cx="38.3" cy="497.8" r="0.7" fill-opacity="0.78"/><circle cx="29.1" cy="510.9" r="0.4" fill-opacity="0.93"/><circle cx="40.1" cy="533.2" r="1.4" fill-opacity="1.00"/><circle cx="31.1" cy="522.1" r="0.5" fill-opacity="0.78"/><circle cx="81.9" cy="504.8" r="0.4" fill-opacity="0.98"/><circle cx="65.8" cy="473.9" r="0.4" fill-opacity="0.91"/><circle cx="49.5" cy="487.5" r="1.2" fill-opacity="0.93"/><circle cx="81.4" cy="486.0" r="0.5" fill-opacity="0.79"/><circle cx="93.2" cy="516.9" r="0.6" fill-opacity="0.85"/><circle cx="33.0" cy="530.1" r="0.8" fill-opacity="0.88"/><circle cx="30.1" cy="509.6" r="0.6" fill-opacity="0.90"/><circle cx="34.0" cy="517.2" r="1.6" fill-opacity="0.99"/><circle cx="79.8" cy="498.2" r="0.4" fill-opacity="0.83"/><circle cx="76.9" cy="535.8" r="0.9" fill-opacity="1.00"/><circle cx="27.7" cy="512.6" r="0.4" fill-opacity="0.86"/><circle cx="65.6" cy="478.8" r="0.6" fill-opacity="0.95"/><circle cx="40.8" cy="485.7" r="1.1" fill-opacity="0.79"/><circle cx="22.3" cy="516.1" r="0.6" fill-opacity="0.99"/><circle cx="27.8" cy="501.3" r="0.5" fill-opacity="0.81"/><circle cx="23.8" cy="503.8" r="0.9" fill-opacity="0.92"/><circle cx="43.8" cy="533.3" r="1.4" fill-opacity="0.86"/><circle cx="71.8" cy="491.4" r="1.5" fill-opacity="0.78"/><circle cx="44.7" cy="472.6" r="0.5" fill-opacity="0.89"/><circle cx="80.5" cy="534.0" r="0.9" fill-opacity="0.81"/><circle cx="76.0" cy="499.7" r="1.9" fill-opacity="0.91"/><circle cx="30.7" cy="525.5" r="0.6" fill-opacity="0.90"/><circle cx="47.8" cy="472.7" r="0.6" fill-opacity="0.91"/><circle cx="68.7" cy="481.3" r="1.4" fill-opacity="0.94"/><circle cx="40.6" cy="520.9" r="1.8" fill-opacity="0.84"/><circle cx="85.9" cy="522.8" r="0.4" fill-opacity="0.81"/><circle cx="63.3" cy="536.1" r="0.9" fill-opacity="0.77"/><circle cx="48.7" cy="474.7" r="0.5" fill-opacity="0.81"/><circle cx="36.3" cy="505.8" r="0.4" fill-opacity="0.81"/><circle cx="91.6" cy="491.9" r="0.4" fill-opacity="0.88"/><circle cx="90.0" cy="495.3" r="0.7" fill-opacity="0.88"/><circle cx="67.1" cy="472.8" r="1.0" fill-opacity="0.91"/><circle cx="93.3" cy="513.8" r="1.2" fill-opacity="0.81"/><circle cx="38.5" cy="520.0" r="0.7" fill-opacity="0.90"/><circle cx="45.9" cy="532.1" r="0.5" fill-opacity="0.91"/><circle cx="30.9" cy="529.3" r="0.4" fill-opacity="0.96"/><circle cx="78.8" cy="475.5" r="0.9" fill-opacity="0.85"/><circle cx="70.2" cy="499.1" r="0.6" fill-opacity="0.78"/><circle cx="89.7" cy="513.4" r="0.5" fill-opacity="0.90"/><circle cx="36.1" cy="531.1" r="0.4" fill-opacity="0.84"/><circle cx="89.0" cy="523.4" r="0.4" fill-opacity="0.84"/><circle cx="87.1" cy="480.9" r="1.7" fill-opacity="0.76"/><circle cx="76.8" cy="527.1" r="0.8" fill-opacity="0.95"/><circle cx="48.0" cy="479.5" r="1.0" fill-opacity="0.88"/><circle cx="60.4" cy="530.2" r="1.0" fill-opacity="1.00"/><circle cx="92.9" cy="488.3" r="1.4" fill-opacity="0.91"/><circle cx="80.1" cy="524.1" r="1.2" fill-opacity="0.80"/><circle cx="82.4" cy="477.1" r="0.5" fill-opacity="0.98"/><circle cx="71.9" cy="474.6" r="0.4" fill-opacity="0.82"/><circle cx="75.9" cy="498.7" r="0.5" fill-opacity="0.86"/><circle cx="31.0" cy="524.8" r="0.9" fill-opacity="0.91"/><circle cx="82.4" cy="494.0" r="0.9" fill-opacity="0.93"/><circle cx="33.6" cy="482.8" r="0.4" fill-opacity="0.98"/><circle cx="89.1" cy="526.5" r="0.5" fill-opacity="0.80"/><circle cx="43.5" cy="497.2" r="0.6" fill-opacity="0.78"/><circle cx="49.0" cy="479.1" r="0.4" fill-opacity="0.91"/><circle cx="75.0" cy="477.9" r="1.9" fill-opacity="0.97"/><circle cx="81.5" cy="517.4" r="0.5" fill-opacity="0.79"/><circle cx="34.4" cy="530.7" r="0.7" fill-opacity="0.93"/><circle cx="87.3" cy="504.7" r="0.9" fill-opacity="0.90"/><circle cx="59.9" cy="522.9" r="1.0" fill-opacity="0.86"/><circle cx="81.4" cy="484.7" r="0.9" fill-opacity="0.96"/><circle cx="82.5" cy="515.2" r="0.5" fill-opacity="0.98"/><circle cx="74.5" cy="519.5" r="0.4" fill-opacity="1.00"/><circle cx="77.2" cy="514.1" r="0.5" fill-opacity="0.76"/><circle cx="45.8" cy="475.0" r="0.6" fill-opacity="0.93"/><circle cx="61.0" cy="498.0" r="0.9" fill-opacity="0.94"/><circle cx="75.8" cy="500.0" r="1.8" fill-opacity="0.87"/><circle cx="34.2" cy="502.5" r="1.0" fill-opacity="0.87"/><circle cx="87.9" cy="496.6" r="1.0" fill-opacity="0.85"/><circle cx="67.5" cy="470.6" r="0.4" fill-opacity="0.87"/><circle cx="50.5" cy="526.4" r="0.5" fill-opacity="0.96"/><circle cx="59.5" cy="535.2" r="0.4" fill-opacity="0.79"/><circle cx="33.3" cy="498.6" r="0.7" fill-opacity="0.86"/><circle cx="47.7" cy="531.5" r="1.7" fill-opacity="0.80"/><circle cx="44.5" cy="484.3" r="1.3" fill-opacity="0.85"/><circle cx="57.9" cy="535.6" r="0.4" fill-opacity="0.99"/><circle cx="59.7" cy="492.5" r="0.4" fill-opacity="0.82"/><circle cx="82.8" cy="488.3" r="1.2" fill-opacity="0.82"/></g><ellipse cx="143.4" cy="504.5" rx="41" ry="39.4" fill="url(#plg5)"/><g fill="#3a2fae" filter="url(#dotblur)"><circle cx="117.7" cy="507.5" r="0.5" fill-opacity="0.86"/><circle cx="128.5" cy="482.6" r="0.4" fill-opacity="0.91"/><circle cx="141.4" cy="510.1" r="0.4" fill-opacity="0.79"/><circle cx="130.6" cy="535.4" r="1.1" fill-opacity="0.99"/><circle cx="161.0" cy="491.1" r="1.1" fill-opacity="0.92"/><circle cx="134.5" cy="506.9" r="0.8" fill-opacity="0.82"/><circle cx="135.5" cy="523.7" r="0.4" fill-opacity="0.95"/><circle cx="120.8" cy="515.9" r="0.8" fill-opacity="0.99"/><circle cx="166.3" cy="510.8" r="1.6" fill-opacity="0.96"/><circle cx="108.3" cy="499.5" r="0.4" fill-opacity="0.79"/><circle cx="119.9" cy="510.2" r="0.4" fill-opacity="0.92"/><circle cx="177.6" cy="507.2" r="1.2" fill-opacity="0.87"/><circle cx="106.2" cy="510.1" r="1.1" fill-opacity="0.86"/><circle cx="111.4" cy="504.6" r="0.4" fill-opacity="0.79"/><circle cx="125.3" cy="516.1" r="0.5" fill-opacity="0.88"/><circle cx="116.7" cy="523.1" r="0.4" fill-opacity="0.88"/><circle cx="151.2" cy="468.6" r="0.8" fill-opacity="0.95"/><circle cx="160.8" cy="516.8" r="0.4" fill-opacity="0.78"/><circle cx="139.2" cy="500.4" r="1.4" fill-opacity="0.78"/><circle cx="174.6" cy="492.8" r="1.0" fill-opacity="0.79"/><circle cx="142.3" cy="535.8" r="0.4" fill-opacity="0.75"/><circle cx="169.7" cy="490.4" r="0.4" fill-opacity="0.79"/><circle cx="169.3" cy="510.7" r="0.5" fill-opacity="0.93"/><circle cx="171.1" cy="511.2" r="0.4" fill-opacity="0.80"/><circle cx="172.9" cy="490.0" r="0.6" fill-opacity="0.78"/><circle cx="125.2" cy="514.7" r="0.4" fill-opacity="0.78"/><circle cx="158.4" cy="481.9" r="0.4" fill-opacity="0.97"/><circle cx="109.7" cy="519.0" r="0.4" fill-opacity="0.80"/><circle cx="158.6" cy="476.2" r="1.2" fill-opacity="0.80"/><circle cx="170.8" cy="508.2" r="0.4" fill-opacity="0.82"/><circle cx="158.4" cy="512.0" r="1.6" fill-opacity="0.83"/><circle cx="114.6" cy="498.4" r="0.6" fill-opacity="0.90"/><circle cx="113.9" cy="506.2" r="0.4" fill-opacity="0.91"/><circle cx="138.0" cy="473.1" r="0.4" fill-opacity="0.87"/><circle cx="138.4" cy="470.5" r="0.4" fill-opacity="0.83"/><circle cx="138.7" cy="486.6" r="0.5" fill-opacity="0.85"/><circle cx="122.9" cy="510.3" r="0.9" fill-opacity="0.91"/><circle cx="126.5" cy="517.0" r="0.7" fill-opacity="0.76"/><circle cx="180.4" cy="509.7" r="0.8" fill-opacity="0.79"/><circle cx="129.7" cy="470.2" r="0.4" fill-opacity="0.88"/><circle cx="165.6" cy="476.7" r="0.8" fill-opacity="0.91"/><circle cx="173.2" cy="487.7" r="0.6" fill-opacity="0.90"/><circle cx="107.9" cy="502.2" r="0.4" fill-opacity="0.90"/><circle cx="137.7" cy="480.5" r="1.0" fill-opacity="0.98"/><circle cx="159.3" cy="506.7" r="1.4" fill-opacity="0.93"/><circle cx="158.6" cy="470.1" r="1.5" fill-opacity="0.79"/><circle cx="128.3" cy="492.1" r="1.0" fill-opacity="0.78"/><circle cx="148.2" cy="540.8" r="0.4" fill-opacity="0.86"/><circle cx="160.0" cy="514.6" r="0.4" fill-opacity="0.76"/><circle cx="135.6" cy="488.6" r="1.0" fill-opacity="0.94"/><circle cx="143.9" cy="478.1" r="0.4" fill-opacity="0.97"/><circle cx="162.9" cy="522.8" r="0.5" fill-opacity="0.80"/><circle cx="119.1" cy="528.1" r="0.4" fill-opacity="0.80"/><circle cx="156.9" cy="500.4" r="0.5" fill-opacity="0.95"/><circle cx="116.5" cy="520.4" r="0.9" fill-opacity="0.89"/><circle cx="154.5" cy="504.1" r="0.5" fill-opacity="0.91"/><circle cx="170.1" cy="498.3" r="0.4" fill-opacity="0.76"/><circle cx="134.5" cy="510.7" r="1.2" fill-opacity="0.86"/><circle cx="167.0" cy="533.0" r="1.5" fill-opacity="0.79"/><circle cx="156.0" cy="538.0" r="0.7" fill-opacity="0.90"/><circle cx="110.6" cy="523.9" r="1.2" fill-opacity="0.76"/><circle cx="106.3" cy="500.3" r="0.6" fill-opacity="0.99"/><circle cx="124.9" cy="489.0" r="0.7" fill-opacity="0.83"/><circle cx="127.1" cy="512.0" r="0.4" fill-opacity="0.90"/><circle cx="167.1" cy="517.4" r="0.9" fill-opacity="0.98"/><circle cx="133.9" cy="534.0" r="0.4" fill-opacity="0.99"/><circle cx="139.0" cy="477.8" r="0.4" fill-opacity="0.95"/><circle cx="140.9" cy="540.2" r="0.4" fill-opacity="0.91"/><circle cx="152.0" cy="468.7" r="0.4" fill-opacity="0.78"/><circle cx="113.1" cy="525.2" r="1.5" fill-opacity="0.86"/><circle cx="150.6" cy="538.6" r="1.5" fill-opacity="0.87"/><circle cx="144.8" cy="508.4" r="0.4" fill-opacity="0.85"/><circle cx="181.0" cy="497.8" r="1.4" fill-opacity="0.85"/><circle cx="141.9" cy="470.8" r="1.2" fill-opacity="0.99"/><circle cx="146.7" cy="469.9" r="0.4" fill-opacity="0.79"/></g><ellipse cx="228.7" cy="505" rx="42" ry="40" fill="url(#plg6)"/><g fill="#3a2fae" filter="url(#dotblur)"><circle cx="239.4" cy="477.5" r="1.4" fill-opacity="0.82"/><circle cx="218.5" cy="472.2" r="0.8" fill-opacity="0.78"/><circle cx="221.7" cy="511.0" r="0.9" fill-opacity="0.81"/><circle cx="216.3" cy="531.3" r="1.1" fill-opacity="0.99"/><circle cx="256.4" cy="504.7" r="0.4" fill-opacity="0.95"/><circle cx="250.8" cy="534.3" r="0.8" fill-opacity="0.89"/><circle cx="238.4" cy="541.1" r="0.6" fill-opacity="0.97"/><circle cx="216.6" cy="534.6" r="0.4" fill-opacity="0.98"/><circle cx="258.3" cy="504.3" r="0.4" fill-opacity="0.95"/><circle cx="260.9" cy="488.1" r="0.4" fill-opacity="0.84"/><circle cx="228.9" cy="493.4" r="0.4" fill-opacity="0.99"/><circle cx="232.8" cy="479.6" r="1.2" fill-opacity="0.81"/><circle cx="259.1" cy="497.0" r="0.6" fill-opacity="0.84"/><circle cx="234.0" cy="483.2" r="0.4" fill-opacity="0.90"/><circle cx="198.9" cy="495.1" r="0.4" fill-opacity="0.91"/><circle cx="212.5" cy="538.3" r="0.4" fill-opacity="0.98"/><circle cx="224.2" cy="535.2" r="0.4" fill-opacity="0.94"/><circle cx="203.1" cy="510.1" r="0.4" fill-opacity="0.91"/><circle cx="215.8" cy="536.2" r="0.4" fill-opacity="1.00"/><circle cx="266.8" cy="509.7" r="0.6" fill-opacity="0.92"/><circle cx="225.5" cy="478.8" r="1.4" fill-opacity="0.90"/><circle cx="237.9" cy="529.6" r="0.4" fill-opacity="0.79"/><circle cx="232.6" cy="520.3" r="1.1" fill-opacity="0.88"/><circle cx="260.8" cy="488.3" r="1.0" fill-opacity="0.76"/><circle cx="261.0" cy="525.3" r="1.0" fill-opacity="0.96"/><circle cx="201.0" cy="523.3" r="0.4" fill-opacity="0.77"/><circle cx="230.4" cy="536.7" r="0.6" fill-opacity="0.82"/><circle cx="223.3" cy="522.7" r="0.9" fill-opacity="0.87"/><circle cx="201.3" cy="507.2" r="0.6" fill-opacity="0.88"/><circle cx="257.0" cy="499.4" r="0.9" fill-opacity="0.81"/><circle cx="238.2" cy="527.3" r="0.4" fill-opacity="0.76"/><circle cx="196.4" cy="491.0" r="0.5" fill-opacity="0.97"/><circle cx="206.2" cy="493.5" r="1.3" fill-opacity="0.89"/><circle cx="206.6" cy="528.0" r="1.5" fill-opacity="0.94"/><circle cx="213.5" cy="523.6" r="0.7" fill-opacity="0.88"/><circle cx="239.7" cy="532.4" r="0.6" fill-opacity="0.93"/><circle cx="194.7" cy="515.7" r="0.5" fill-opacity="0.88"/><circle cx="198.0" cy="509.6" r="0.4" fill-opacity="0.82"/><circle cx="247.0" cy="471.5" r="0.5" fill-opacity="0.94"/><circle cx="226.4" cy="525.3" r="0.6" fill-opacity="0.92"/><circle cx="219.4" cy="506.6" r="1.3" fill-opacity="0.90"/><circle cx="261.1" cy="527.0" r="1.3" fill-opacity="0.96"/><circle cx="219.7" cy="503.0" r="0.9" fill-opacity="0.81"/><circle cx="248.5" cy="479.2" r="1.0" fill-opacity="0.86"/><circle cx="216.3" cy="502.0" r="0.4" fill-opacity="0.88"/><circle cx="215.1" cy="523.4" r="0.6" fill-opacity="0.95"/><circle cx="196.0" cy="526.0" r="0.4" fill-opacity="0.94"/><circle cx="229.9" cy="480.4" r="1.1" fill-opacity="0.76"/><circle cx="221.1" cy="537.7" r="0.4" fill-opacity="0.83"/><circle cx="230.0" cy="534.6" r="0.5" fill-opacity="0.82"/><circle cx="228.7" cy="521.5" r="0.8" fill-opacity="0.83"/><circle cx="214.8" cy="519.9" r="0.4" fill-opacity="1.00"/><circle cx="249.7" cy="533.1" r="0.4" fill-opacity="0.86"/><circle cx="205.1" cy="524.0" r="0.6" fill-opacity="0.94"/><circle cx="211.1" cy="498.5" r="0.4" fill-opacity="0.88"/><circle cx="237.0" cy="482.3" r="1.2" fill-opacity="0.99"/><circle cx="208.0" cy="487.2" r="0.4" fill-opacity="0.93"/><circle cx="196.3" cy="520.2" r="0.4" fill-opacity="0.94"/><circle cx="239.5" cy="472.7" r="0.4" fill-opacity="0.81"/><circle cx="237.0" cy="525.4" r="0.4" fill-opacity="0.78"/><circle cx="201.5" cy="517.1" r="1.2" fill-opacity="0.84"/><circle cx="246.5" cy="497.1" r="0.4" fill-opacity="0.83"/><circle cx="213.2" cy="535.7" r="1.4" fill-opacity="0.94"/><circle cx="245.0" cy="487.0" r="1.3" fill-opacity="0.88"/><circle cx="243.3" cy="515.6" r="1.1" fill-opacity="0.97"/><circle cx="233.7" cy="473.3" r="1.0" fill-opacity="0.81"/><circle cx="243.2" cy="489.9" r="1.1" fill-opacity="0.86"/><circle cx="249.5" cy="515.7" r="0.5" fill-opacity="0.98"/><circle cx="220.2" cy="523.4" r="0.4" fill-opacity="0.89"/><circle cx="222.8" cy="494.0" r="0.5" fill-opacity="0.86"/></g><rect x="17.6" y="384.3" width="335" height="160.4" fill="none" stroke="#222" stroke-width="1"/><line x1="17.6" y1="465.3" x2="352.6" y2="465.3" stroke="#222" stroke-width="1"/><text x="61" y="380.5" font-size="13.4" text-anchor="middle">DMSO</text><text x="145.6" y="380.5" font-size="13.4" text-anchor="middle">HCQ</text><text x="226.4" y="380.5" font-size="13.4" text-anchor="middle">Venetoclax</text><text x="312.2" y="380.5" font-size="13.4" text-anchor="middle">cDDP</text><text x="57" y="558.9" font-size="13.4" text-anchor="middle">cDDP</text><text x="57" y="575.8" font-size="13.4" text-anchor="middle">+Venetoclax</text><text x="144.7" y="558.9" font-size="13.4" text-anchor="middle">cDDP</text><text x="144.7" y="575.8" font-size="13.4" text-anchor="middle">+HCQ</text><text x="224.4" y="558.9" font-size="13.4" text-anchor="middle">cDDP+HCQ</text><text x="224.4" y="575.8" font-size="13.4" text-anchor="middle">+Venetoclax</text><text transform="translate(12.4,460.8) rotate(-90)" font-size="13" text-anchor="middle" textLength="69" lengthAdjust="spacingAndGlyphs">H446/cDDP</text><text x="2.5" y="615.6" font-size="17" font-family='"Liberation Serif",serif'>F</text><text x="157" y="639.5" font-size="14.5" text-anchor="middle" textLength="81" lengthAdjust="spacingAndGlyphs">H446/cDDP</text><line x1="52.9" y1="645.2" x2="263.5" y2="645.2" stroke="#222" stroke-width="1.2"/><text x="66.4" y="663" font-size="12.4" text-anchor="end" textLength="34.2" lengthAdjust="spacingAndGlyphs">cDDP</text><line x1="84.3" y1="657.7" x2="88.3" y2="657.7" stroke="#111" stroke-width="2"/><line x1="122.8" y1="655.6" x2="129.8" y2="655.6" stroke="#111" stroke-width="2"/><line x1="126.3" y1="652.1" x2="126.3" y2="659.1" stroke="#111" stroke-width="2"/><line x1="160.3" y1="655.6" x2="167.3" y2="655.6" stroke="#111" stroke-width="2"/><line x1="163.8" y1="652.1" x2="163.8" y2="659.1" stroke="#111" stroke-width="2"/><line x1="199.6" y1="655.6" x2="206.6" y2="655.6" stroke="#111" stroke-width="2"/><line x1="203.1" y1="652.1" x2="203.1" y2="659.1" stroke="#111" stroke-width="2"/><line x1="238.1" y1="655.6" x2="245.1" y2="655.6" stroke="#111" stroke-width="2"/><line x1="241.6" y1="652.1" x2="241.6" y2="659.1" stroke="#111" stroke-width="2"/><text x="71.4" y="677.7" font-size="12.4" text-anchor="end" textLength="68.6" lengthAdjust="spacingAndGlyphs">Venetoclax</text><line x1="84.3" y1="673" x2="88.3" y2="673" stroke="#111" stroke-width="2"/><line x1="124.3" y1="673" x2="128.3" y2="673" stroke="#111" stroke-width="2"/><line x1="160.3" y1="671.2" x2="167.3" y2="671.2" stroke="#111" stroke-width="2"/><line x1="163.8" y1="667.7" x2="163.8" y2="674.7" stroke="#111" stroke-width="2"/><line x1="201.1" y1="673" x2="205.1" y2="673" stroke="#111" stroke-width="2"/><line x1="238.1" y1="671.2" x2="245.1" y2="671.2" stroke="#111" stroke-width="2"/><line x1="241.6" y1="667.7" x2="241.6" y2="674.7" stroke="#111" stroke-width="2"/><text x="65.1" y="693.1" font-size="12.4" text-anchor="end" textLength="28.4" lengthAdjust="spacingAndGlyphs">HCQ</text><line x1="84.3" y1="689.3" x2="88.3" y2="689.3" stroke="#111" stroke-width="2"/><line x1="124.3" y1="689.3" x2="128.3" y2="689.3" stroke="#111" stroke-width="2"/><line x1="161.8" y1="689.3" x2="165.8" y2="689.3" stroke="#111" stroke-width="2"/><line x1="199.6" y1="688.3" x2="206.6" y2="688.3" stroke="#111" stroke-width="2"/><line x1="203.1" y1="684.8" x2="203.1" y2="691.8" stroke="#111" stroke-width="2"/><line x1="238.1" y1="688.3" x2="245.1" y2="688.3" stroke="#111" stroke-width="2"/><line x1="241.6" y1="684.8" x2="241.6" y2="691.8" stroke="#111" stroke-width="2"/><rect x="53" y="699.3" width="210.8" height="39.9" fill="#f8f8f8" stroke="#1a1a1a" stroke-width="1.5"/><rect x="53" y="745" width="210.8" height="55.9" fill="#f8f8f8" stroke="#1a1a1a" stroke-width="1.5"/><rect x="53" y="810" width="210.8" height="36.2" fill="#f8f8f8" stroke="#1a1a1a" stroke-width="1.5"/><rect x="69.2" y="718.7" width="30" height="5.4" rx="2.7" fill="#1a1a1a" filter="url(#bb)"/><rect x="108.5" y="718.9" width="29" height="5" rx="2.5" fill="#262626" filter="url(#bb)"/><rect x="147.5" y="719.1" width="29" height="4.6" rx="2.3" fill="#404040" filter="url(#bb)"/><rect x="186.35" y="718.3" width="30.5" height="6.2" rx="3.1" fill="#030303" filter="url(#bb)"/><rect x="225.2" y="718.5" width="30" height="5.8" rx="2.9" fill="#080808" filter="url(#bb)"/><rect x="62.8" y="758.1" width="30" height="4.6" rx="2.3" fill="#d2d2d2" filter="url(#bb)"/><rect x="104.3" y="758.5" width="29" height="4.2" rx="2.1" fill="#c2c2c2" filter="url(#bb)"/><rect x="145.7" y="758.4" width="27" height="4.4" rx="2.2" fill="#989898" filter="url(#bb)"/><rect x="184.8" y="758.7" width="28" height="4.6" rx="2.3" fill="#777" filter="url(#bb)"/><rect x="223.7" y="760.7" width="29" height="5" rx="2.5" fill="#4a4a4a" filter="url(#bb)"/><rect x="62.8" y="778.8" width="30" height="4.8" rx="2.4" fill="#626262" filter="url(#bb)"/><rect x="104.3" y="778.8" width="29" height="4.8" rx="2.4" fill="#383838" filter="url(#bb)"/><rect x="144.3" y="778.5" width="28" height="5.8" rx="2.9" fill="#0c0c0c" filter="url(#bb)"/><rect x="180.8" y="776.2" width="36" height="12" rx="6" fill="#000" filter="url(#bb)"/><rect x="220.95" y="776.9" width="35.5" height="13" rx="6.5" fill="#000" filter="url(#bb)"/><rect x="62.7" y="825.8" width="33" height="11" rx="4.5" fill="#050505" filter="url(#bb)"/><rect x="103.05" y="825.8" width="31.5" height="11" rx="4.5" fill="#050505" filter="url(#bb)"/><rect x="141.6" y="825.8" width="31" height="11" rx="4.5" fill="#050505" filter="url(#bb)"/><rect x="180.7" y="825.8" width="32" height="11" rx="4.5" fill="#050505" filter="url(#bb)"/><rect x="219.5" y="825.8" width="31" height="11" rx="4.5" fill="#050505" filter="url(#bb)"/><text x="46.2" y="725" font-size="12.2" text-anchor="end" textLength="22.1" lengthAdjust="spacingAndGlyphs">p62</text><text x="48.4" y="764.7" font-size="12.4" text-anchor="end" textLength="31.7" lengthAdjust="spacingAndGlyphs">LC3 I</text><text x="49.5" y="786.6" font-size="12.8" text-anchor="end" textLength="35.5" lengthAdjust="spacingAndGlyphs">LC3 II</text><text x="50.1" y="832.1" font-size="12.6" text-anchor="end" textLength="42.6" lengthAdjust="spacingAndGlyphs">β-actin</text>
</svg></body></html>
